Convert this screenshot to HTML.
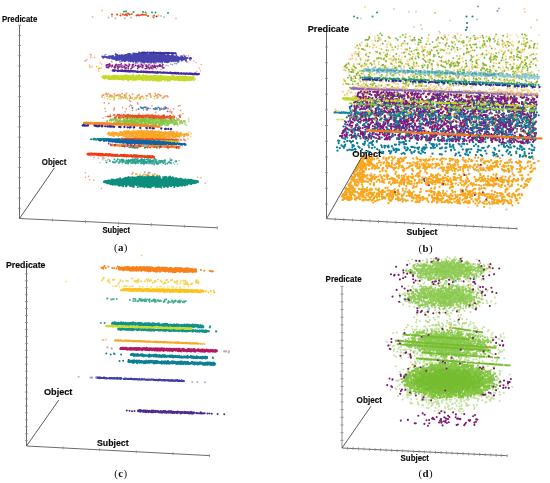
<!DOCTYPE html>
<html lang="en">
<head>
<meta charset="utf-8">
<title>Subject / Predicate / Object scatter plots</title>
<style>
html,body{margin:0;padding:0;background:#fff}
body{width:550px;height:483px;overflow:hidden}
svg{display:block}
.lb text{font-family:"Liberation Sans",sans-serif;font-weight:bold;fill:#0c0c0c;stroke:#0c0c0c;stroke-width:.16px}
.cp text{font-family:"Liberation Serif",serif;font-size:10.9px;fill:#111;text-anchor:middle;letter-spacing:.35px}
.pt path{fill:none;stroke-linecap:round}
.pt{filter:blur(.35px)}
</style>
</head>
<body>
<svg width="550" height="483" viewBox="0 0 550 483">
<rect width="550" height="483" fill="#fff"/>
<g class="ax">
<line x1="19.5" y1="25.2" x2="19.5" y2="218.5" stroke="#6c6c6c" stroke-width="1.0"/>
<path d="M17.9 25.2h3.2M17.9 35.4h3.2M17.9 45.5h3.2M17.9 55.7h3.2M17.9 65.9h3.2M17.9 76h3.2M17.9 86.2h3.2M17.9 96.4h3.2M17.9 106.6h3.2M17.9 116.7h3.2M17.9 126.9h3.2M17.9 137.1h3.2M17.9 147.2h3.2M17.9 157.4h3.2M17.9 167.6h3.2M17.9 177.7h3.2M17.9 187.9h3.2M17.9 198.1h3.2M17.9 208.3h3.2" stroke="#8c8c8c" stroke-width=".8" fill="none"/>
<line x1="19.5" y1="218.5" x2="217.4" y2="227.8" stroke="#6c6c6c" stroke-width="1.0"/>
<path d="M52.5 218.6v3M85.5 220.1v3M118.5 221.7v3M151.4 223.2v3M184.4 224.8v3M217.4 226.3v3" stroke="#8c8c8c" stroke-width=".8" fill="none"/>
<line x1="19.5" y1="218.5" x2="54.5" y2="167.8" stroke="#4a4a4a" stroke-width="0.9"/>
<line x1="326.5" y1="28.6" x2="326.5" y2="218.7" stroke="#6c6c6c" stroke-width="1.0"/>
<path d="M324.9 31.3h3.2M324.9 47h3.2M324.9 62.7h3.2M324.9 78.4h3.2M324.9 94.1h3.2M324.9 109.8h3.2M324.9 125.5h3.2M324.9 141.2h3.2M324.9 156.9h3.2M324.9 172.6h3.2M324.9 188.3h3.2M324.9 204h3.2" stroke="#8c8c8c" stroke-width=".8" fill="none"/>
<line x1="326.5" y1="218.7" x2="517" y2="228.7" stroke="#6c6c6c" stroke-width="1.0"/>
<path d="M335.2 217.7v3M343.8 218.1v3M352.5 218.6v3M361.1 219v3M369.8 219.5v3M378.5 219.9v3M387.1 220.4v3M395.8 220.8v3M404.4 221.3v3M413.1 221.7v3M421.8 222.2v3M430.4 222.7v3M439.1 223.1v3M447.7 223.6v3M456.4 224v3M465 224.5v3M473.7 224.9v3M482.4 225.4v3M491 225.8v3M499.7 226.3v3M508.3 226.7v3M517 227.2v3" stroke="#8c8c8c" stroke-width=".8" fill="none"/>
<line x1="26.5" y1="265" x2="26.5" y2="446" stroke="#6c6c6c" stroke-width="1.0"/>
<path d="M24.9 266.9h3.2M24.9 273.8h3.2M24.9 280.8h3.2M24.9 287.7h3.2M24.9 294.7h3.2M24.9 301.6h3.2M24.9 308.6h3.2M24.9 315.5h3.2M24.9 322.5h3.2M24.9 329.4h3.2M24.9 336.4h3.2M24.9 343.3h3.2M24.9 350.3h3.2M24.9 357.2h3.2M24.9 364.2h3.2M24.9 371.1h3.2M24.9 378.1h3.2M24.9 385h3.2M24.9 392h3.2M24.9 398.9h3.2M24.9 405.9h3.2M24.9 412.8h3.2M24.9 419.8h3.2M24.9 426.7h3.2M24.9 433.7h3.2M24.9 440.6h3.2" stroke="#8c8c8c" stroke-width=".8" fill="none"/>
<line x1="26.5" y1="446" x2="209.5" y2="455.6" stroke="#6c6c6c" stroke-width="1.0"/>
<path d="M63.1 446.4v3M99.7 448.3v3M136.3 450.3v3M172.9 452.2v3M209.5 454.1v3" stroke="#8c8c8c" stroke-width=".8" fill="none"/>
<line x1="26.5" y1="446" x2="58.8" y2="400" stroke="#4a4a4a" stroke-width="0.9"/>
<line x1="342" y1="286.4" x2="342" y2="448" stroke="#8c8c8c" stroke-width="1.0"/>
<path d="M340.4 286.4h3.2M340.4 294.1h3.2M340.4 301.8h3.2M340.4 309.5h3.2M340.4 317.2h3.2M340.4 324.9h3.2M340.4 332.6h3.2M340.4 340.3h3.2M340.4 348h3.2M340.4 355.7h3.2M340.4 363.4h3.2M340.4 371.1h3.2M340.4 378.8h3.2M340.4 386.5h3.2M340.4 394.2h3.2M340.4 401.9h3.2M340.4 409.6h3.2M340.4 417.3h3.2M340.4 425h3.2M340.4 432.7h3.2M340.4 440.4h3.2" stroke="#8c8c8c" stroke-width=".8" fill="none"/>
<line x1="342" y1="448" x2="507.2" y2="455.7" stroke="#6c6c6c" stroke-width="1.0"/>
<path d="M347.5 446.8v3M353 447v3M358.5 447.3v3M364 447.5v3M369.5 447.8v3M375 448v3M380.5 448.3v3M386.1 448.6v3M391.6 448.8v3M397.1 449.1v3M402.6 449.3v3M408.1 449.6v3M413.6 449.8v3M419.1 450.1v3M424.6 450.4v3M430.1 450.6v3M435.6 450.9v3M441.1 451.1v3M446.6 451.4v3M452.1 451.6v3M457.6 451.9v3M463.1 452.1v3M468.7 452.4v3M474.2 452.7v3M479.7 452.9v3M485.2 453.2v3M490.7 453.4v3M496.2 453.7v3M501.7 453.9v3M507.2 454.2v3" stroke="#8c8c8c" stroke-width=".8" fill="none"/>
<line x1="342" y1="448" x2="371" y2="406.2" stroke="#4a4a4a" stroke-width="0.9"/>
</g>
<g class="pt" transform="scale(.1)">
<path stroke="#1a9c8c" stroke-width="20" stroke-linecap="square" d="M1240 115zm20 0zm75 5zm95 0zm25 5zm65 0zm35 0zm125 5z"/>
<path stroke="#e8481e" stroke-width="20" d="M1120 145zm50 0zm35 10zm25-10zm20 5zm10-8zm10 13zm10-20zm15 10zm20-5zm50 15zm15-5zm10 5zm20-5zm15-5zm15 3zm20 2zm20 10zm55 12zm5-17z"/>
<path stroke="#f5c21a" stroke-width="19" d="M1120 165zm90-29zm112 0zm143-4zm65 30zm55-7z"/>
<path stroke="#9db8dc" stroke-width="20" stroke-opacity=".90" d="M1085 176zm70 6zm95 0zm60-6z"/>
<path stroke="#5a2d91" stroke-width="19" d="M1566 164z"/>
<path stroke="#8fd0b0" stroke-width="19" stroke-opacity=".90" d="M1610 160zm30 10z"/>
<path stroke="#f4a89a" stroke-width="19" stroke-opacity=".80" d="M925 170zm95-65zm740 80z"/>
<path stroke="#8f8bd2" stroke-width="17" stroke-opacity=".90" d="M1047 553zm12-8zm36 27zm22 45zm39-82zm4 46zm1 25zm26-10zm4 4zm8 18zm1-12zm1-16zm4 29zm17-30zm4-1zm25 8zm10 14zm1-4zm6-49zm16-2zm1 62zm10-46zm1-13zm5 28zm1-3zm0-3zm8-7zm1 7zm9 19zm5 1zm0-7zm27 3zm2 38zm7-67zm4 31zm2 18zm0-25zm1-47zm0 11zm5 79zm2-25zm5 12zm4-68zm7 16zm2-16zm1 9zm2-5zm3 32zm4 12zm0-25zm3 48zm2-28zm3 17zm2-33zm1 6zm7-32zm2 71zm4-44zm2 11zm1-10zm1-13zm0 34zm3 15zm0-36zm1 47zm2-49zm2 36zm4-55zm2 8zm1-34zm1 106zm5-47zm0-2zm1 24zm0-6zm7-43zm0 17zm3 14zm5-4zm3-24zm1 9zm7 13zm4 25zm1-27zm5 36zm3-50zm4 19zm0 15zm6-14zm1-41zm1 75zm0-38zm2-1zm5-24zm1-10zm13 35zm1 14zm3 7zm0-15zm2-30zm0 34zm3-19zm3-18zm1 25zm1 51zm0-39zm7 13zm3-10zm4-68zm1 45zm0-14zm2 29zm2 36zm4-82zm5 58zm4 4zm1-54zm3 31zm2 16zm3-31zm1 1zm5 49zm12-49zm1 24zm2 0zm1-55zm0 6zm6 68zm7-20zm2-24zm3 33zm1-20zm2 46zm2-13zm13-28zm15-24zm13-2zm9 31zm3 3zm15 5zm1-12zm9-9zm8 16zm14 44zm2-105zm16 22zm4 71zm2-40zm7 13zm0 6zm9 24zm13-12zm6-52zm6 44zm14-54zm35-10zm14 41zm5-2zm9 27z"/>
<path stroke="#4643ae" stroke-width="21" d="M1024 566zm8 12zm3-4zm6-7zm15 3zm15 1zm1 6zm5-2zm5-3zm8 3zm2-12zm4 20zm13-21zm2 11zm4-8zm2 8zm1 6zm2-15zm2 7zm1 16zm3-13zm1 7zm2-4zm0-11zm1-5zm6 26zm6-9zm2 4zm1-8zm4 17zm3-3zm2-15zm3-28zm1 40zm2-19zm0 13zm1 7zm3-15zm0 6zm0 23zm0-16zm1 9zm3-8zm0-30zm1 41zm1-26zm0 29zm1-49zm2 3zm1 25zm3 12zm5-5zm1-15zm3 3zm0 22zm1-31zm2 31zm0-13zm1 15zm1-19zm2-23zm1 38zm3-15zm2 8zm1-20zm1-9zm0 29zm1 3zm1-13zm1 13zm2-23zm6-11zm1 30zm2-6zm1-6zm0 3zm0 12zm2-24zm0 6zm0 38zm3-54zm1 15zm0 0zm1 29zm1-43zm1 1zm0 24zm1-15zm1 14zm0-4zm1 18zm1-4zm1 17zm1-30zm0 18zm1-17zm0 25zm1-36zm0 16zm0-10zm4 14zm1-22zm2 28zm0-37zm0 14zm3 6zm0 9zm1-15zm0-13zm1 19zm1-20zm2 18zm1 38zm0-17zm2 9zm1-22zm0 22zm0-14zm1-35zm1 10zm1 9zm0 0zm0-9zm1 11zm1 8zm0-25zm1 18zm0-24zm1 49zm1-32zm1-18zm1 43zm0-15zm1 4zm2 2zm1 4zm1-16zm0 9zm1-30zm1 18zm0 5zm2 9zm2 2zm0-8zm0-24zm1 20zm1 14zm0-12zm1-13zm0 35zm0-2zm0-36zm0 38zm1-38zm1-4zm0-14zm2 60zm1-17zm0-23zm0 13zm1 2zm1-22zm0 22zm2 1zm0 13zm0-4zm0-36zm0 32zm0-8zm1 25zm0-9zm0-14zm0 7zm0-2zm0-7zm1 10zm0-9zm0-7zm1 38zm0-13zm0-24zm1-28zm0-1zm0 25zm0 13zm1 6zm0 13zm1-15zm0 3zm0-13zm2 9zm0-42zm2 3zm0 14zm1 39zm1-43zm0 23zm0-2zm0 12zm0-10zm1-20zm1 15zm1 10zm0 10zm1 11zm2-43zm0 33zm1-14zm0 9zm0-10zm0 22zm0-22zm0 13zm2 23zm0-70zm0 11zm0 18zm0 2zm0 27zm1-44zm0 35zm0-17zm0 16zm1-10zm0 30zm0-29zm1-2zm1-27zm0 48zm1-32zm1 12zm0-22zm1 28zm0 11zm0-20zm2-10zm0-6zm1 10zm0 11zm0 18zm0-39zm0 6zm1-8zm0 40zm1-21zm0-21zm1 43zm0-29zm1 22zm0-20zm0 14zm1 2zm0-19zm0-7zm2 7zm0 12zm0-26zm1 27zm0-13zm0 0zm1-16zm0 22zm0 2zm1 25zm0-41zm0 48zm0-26zm0-4zm1 18zm0 0zm1-21zm0 20zm0-45zm0 12zm1-1zm0 7zm1 10zm1 2zm1-47zm0 32zm0-8zm0 35zm1-8zm0-1zm0-23zm1 54zm0-49zm0 18zm1 25zm0-56zm0-18zm0 28zm1-6zm0-8zm2 41zm0-19zm1 8zm0 1zm0 9zm0-21zm1 4zm0-15zm1 7zm0-16zm0 41zm2-29zm0-8zm1 1zm0 32zm0-28zm0 14zm0-8zm1 11zm1 3zm0-6zm0 4zm0-22zm1 30zm0-33zm1-16zm0 51zm0-28zm1 22zm0 21zm0-12zm0-24zm0-8zm0 13zm1 20zm0-20zm1 4zm0 30zm0-14zm0-11zm1-12zm1-6zm0 3zm0 18zm0 4zm1-9zm0-3zm0-15zm1 15zm0 3zm0-22zm0 18zm0 11zm1-35zm0 25zm2-13zm0 28zm1-47zm1 25zm0 35zm0 17zm1-26zm0 19zm0-23zm0-4zm0-34zm0 34zm0 24zm1-32zm0 9zm0 8zm0-27zm1 32zm0-41zm0 26zm0-9zm0-23zm0 48zm0-23zm0-10zm1 36zm0-10zm0-25zm1 19zm0 6zm0 9zm1-9zm0-8zm0 13zm0-27zm1 17zm1-9zm0-15zm0 34zm1-61zm0 55zm0-24zm0-1zm0 6zm0 9zm1 11zm0-33zm0-12zm1 50zm0-20zm0 4zm1-3zm0 8zm1-17zm0 1zm0-3zm1 20zm0 4zm0-29zm0 20zm0 14zm0-9zm0 17zm0-49zm1 13zm0 6zm0 23zm0-35zm0 14zm0-17zm0 10zm1-16zm0 13zm1 2zm0 26zm0-3zm1-12zm0 6zm0 1zm0 16zm0-48zm1 23zm0 2zm0-3zm1 26zm0-15zm0-15zm1 1zm0 20zm0-37zm1 10zm0-16zm0 14zm1-3zm0 38zm1-43zm1 7zm0 27zm0-8zm1-46zm0 27zm0 43zm1-27zm0-7zm1 35zm0-16zm0 18zm0-3zm0-29zm0-6zm1 10zm0 3zm0 14zm1-28zm0-22zm1 13zm0 13zm0 20zm1-21zm1-1zm1 12zm0-37zm0 55zm0-4zm0-9zm1-16zm0 25zm0 3zm0-28zm1 22zm1-13zm0 3zm0-13zm0-13zm2 7zm0-10zm1 49zm0-50zm1 39zm0-6zm0-39zm0 15zm0 38zm1-42zm0 34zm0 7zm0-35zm0 14zm1 1zm0 0zm1 2zm0-17zm1 18zm0 4zm1-29zm1 14zm0 27zm0-38zm0-2zm0-15zm0 50zm0-8zm0-20zm2 29zm0-59zm1 27zm0 34zm0-18zm0-11zm0 17zm0 16zm0-8zm1-22zm0 18zm0-5zm1-3zm0-29zm1 4zm1-4zm0 31zm0 19zm1-28zm0-18zm0 35zm1-42zm0 29zm1-10zm0 18zm0-13zm0 2zm0 33zm0 5zm1-21zm0-5zm0-27zm1 20zm0 7zm0-13zm2 16zm0-11zm0-8zm0 41zm0-16zm1-14zm0 1zm0-13zm1 24zm0-25zm0-4zm0-11zm0-20zm0 51zm1-9zm0-12zm0 47zm0-24zm0-17zm1-5zm1 24zm1-39zm0 35zm0-12zm0-6zm0 14zm0 19zm1-30zm0-2zm0-1zm0 22zm1-17zm0-22zm0 45zm1-4zm0-11zm1 15zm0-14zm1-15zm0-12zm1-1zm0 25zm1-18zm0 3zm1 11zm0 6zm0-29zm0 7zm0-13zm0 43zm1-31zm0 21zm0 2zm0 10zm1-40zm1 45zm0-58zm0 46zm0-22zm1 26zm0 2zm0-6zm0-5zm0-25zm0 57zm1 9zm0-32zm0-20zm0 23zm1-40zm0 11zm1-18zm2 23zm0 20zm1 33zm0-39zm1-5zm0-15zm1 45zm0-71zm0 60zm0-2zm0-21zm1-2zm0 20zm0 1zm1-45zm0 51zm0-17zm0-6zm0 35zm1-24zm0-50zm0 41zm0 28zm0-59zm0 38zm1-27zm0 33zm1 23zm0-25zm1-13zm0 7zm0 12zm1 8zm0 6zm0-45zm0 35zm1-20zm0 13zm0-36zm1 14zm0 9zm0 22zm0-30zm0 22zm1-28zm0 19zm0-1zm1 30zm0-55zm0 38zm0 10zm1-32zm1-4zm0 5zm0-17zm1 17zm0 17zm1 3zm0-6zm0 5zm0-53zm0 62zm1-41zm0 45zm0-21zm0-1zm0 22zm0-36zm1 33zm0-9zm0-32zm0 33zm0-38zm1 20zm0 23zm0 0zm0-33zm0 5zm0-17zm1 6zm0 47zm0-23zm0-10zm0 5zm0-37zm1 49zm0-13zm1-6zm0 29zm1-8zm0-6zm1-2zm1 3zm0-3zm0-30zm0 42zm0-57zm1 16zm0 24zm1-10zm0 20zm0-2zm0-19zm0 48zm0 4zm1-38zm0 6zm0 6zm1-43zm0 23zm0 35zm0-15zm0-15zm0 4zm0-7zm0 28zm1-50zm0 4zm0 24zm1-17zm0 24zm1 26zm0-71zm0 31zm0 1zm0 13zm0 1zm0-5zm1-13zm0-15zm1 18zm0-16zm1 42zm0-25zm1-21zm0 32zm0 0zm0 24zm0-19zm1 4zm0-9zm0 4zm1-22zm0-20zm0 23zm0 5zm0-4zm1 37zm0-36zm0-24zm0 30zm0 12zm0-13zm1 5zm0 31zm1-55zm1 34zm0-5zm0-21zm1 7zm0 0zm0 25zm2-2zm0-6zm0-21zm0 8zm1-4zm0-28zm0 4zm0 26zm1 10zm0-29zm0 19zm0-16zm0 14zm0 11zm1-32zm0 5zm0 49zm1-34zm0 38zm0-62zm0 6zm1 25zm0 0zm0 13zm0 5zm1-34zm0 0zm0 46zm0-30zm0-11zm0 17zm0-7zm0-12zm1 0zm1 34zm1-44zm0 46zm0 3zm0-43zm0 13zm0 20zm0-23zm1-22zm0 13zm1 20zm0-1zm0-27zm1 39zm0-12zm0-5zm0-11zm1 18zm0-23zm0 3zm0-1zm0-4zm0 8zm0 15zm1-25zm0 50zm0-23zm0-42zm0 10zm0 2zm0 20zm0-1zm1-37zm0 40zm0 36zm0-10zm3-30zm1-27zm0 22zm0 23zm1-26zm0 23zm0-20zm0 0zm0 25zm1-6zm0 34zm0-37zm0 11zm0-6zm1 11zm0-11zm1-11zm0-18zm0 33zm0-27zm0-1zm1 3zm0-6zm0 11zm1 1zm0 27zm0-22zm0 14zm0-11zm0 8zm0-8zm1-25zm1 18zm0 5zm0-10zm1 2zm0 17zm0 19zm0-37zm0 11zm0-29zm1-14zm0 33zm0 20zm0 3zm1 15zm0-66zm1 48zm0-20zm0-12zm0 4zm1 13zm0-19zm1-12zm1 21zm0-17zm0-14zm0 27zm0-17zm2 28zm0 5zm0-15zm1 43zm0 0zm0-60zm0 45zm0-23zm0-4zm1 17zm0 9zm0-35zm0 15zm0 15zm1-28zm0 17zm0-22zm0 22zm1-25zm0 34zm0 4zm0-5zm0-21zm0 2zm0 5zm1 3zm0-25zm0 23zm1 16zm0 1zm0-49zm0 34zm1 38zm0-9zm1-37zm0-1zm0 36zm1-30zm0 12zm0 2zm1 19zm1-54zm0 44zm0 8zm0-9zm1-50zm0 78zm1-35zm0-32zm0 33zm0-15zm0 6zm0-34zm1 26zm0 19zm0 2zm1-12zm0-10zm0 9zm0 11zm0-6zm0-43zm0 65zm1-30zm0 18zm0 10zm1-28zm0 21zm0-35zm1 0zm0 28zm0 19zm0 12zm1-44zm0 0zm0 10zm0-12zm0-32zm1 27zm1 26zm0-2zm0-21zm0 19zm0-11zm0 22zm0-14zm1-7zm1 25zm0 12zm0-45zm0 21zm1-6zm0-3zm0-36zm0 31zm0 3zm1-2zm0-9zm0-10zm0 28zm0-30zm0 39zm0-9zm0-17zm1 17zm0-50zm1 28zm0-20zm1 34zm0-11zm0-14zm0-9zm1 21zm0 1zm1 2zm0 22zm0 3zm0 4zm1-26zm0 14zm0 0zm0-23zm1-8zm0 4zm0 9zm0 38zm1-19zm0-9zm0-9zm0-23zm0 17zm0 22zm0-12zm1-5zm0 15zm0-18zm0-14zm1 29zm0-10zm0 37zm0-40zm0 4zm1 4zm1-9zm0-7zm0 26zm0-7zm0 27zm0-26zm1 15zm0-34zm1-4zm0 48zm0-5zm0-12zm0 20zm1-28zm0-8zm0-1zm1 22zm0-13zm0 34zm1-16zm0 8zm1-10zm0-24zm1 31zm0 7zm1-39zm0 30zm1-18zm1-29zm1 14zm0 17zm2-2zm1-30zm0 25zm1-25zm0 52zm0-9zm1-49zm0 34zm0-8zm0 2zm0 0zm1-1zm0 8zm1 24zm0-14zm0-6zm1-7zm1-17zm0 18zm0-25zm0 34zm0-11zm0 12zm0-15zm1-21zm0 50zm1-29zm0-17zm1 25zm0 10zm0-11zm0 23zm0-12zm2-19zm0 32zm0-40zm1 11zm0 16zm0-20zm1 16zm0-8zm1-4zm1 21zm0-6zm0-30zm1 10zm0 5zm0-9zm0 28zm1-12zm0-13zm0 18zm0-11zm0 10zm0-31zm1 46zm0-34zm0-6zm0 12zm1 35zm0-67zm1 40zm0 17zm0-10zm1-41zm0 38zm0 2zm0 19zm0-9zm0-53zm0 64zm1-37zm0 14zm0 26zm0-58zm1 32zm0-15zm0 0zm1-23zm0 21zm1 7zm1 8zm0 4zm1-3zm0 17zm0-38zm1 33zm1-13zm0-3zm0-35zm0 31zm1-9zm0-14zm0 8zm1 48zm1-47zm0 48zm0-45zm0-10zm0-3zm0 6zm0 35zm1-24zm0 21zm1-14zm1-3zm0-19zm0 8zm1 0zm0 11zm0 14zm1-1zm0 10zm0-31zm1 27zm1-16zm1 12zm0-13zm0-35zm0 34zm0 26zm0-31zm0 25zm0-15zm2-9zm1 7zm0-11zm0 11zm0 22zm0 13zm0-18zm1-18zm0 20zm0 8zm0-19zm0-21zm0 49zm1-69zm0 55zm1-45zm0 54zm0-36zm0-25zm1 6zm0 30zm1 15zm0-20zm1-14zm1 38zm1-60zm0 35zm0 27zm1-23zm0 16zm1-20zm0-1zm0-11zm1 27zm1-33zm0 20zm0 6zm1-35zm0 16zm1 29zm0 4zm0-34zm0 8zm1-12zm1 26zm0-14zm0 21zm0-4zm1-6zm0-3zm1-39zm0 53zm0-2zm2-13zm1 13zm0-13zm1 9zm0-18zm0-9zm0 28zm1 8zm2-36zm0 20zm1-6zm0-4zm0 10zm0-34zm1 17zm0-14zm1-3zm1 66zm0-35zm0-19zm1 37zm0-10zm0-38zm1 40zm1-37zm1 2zm0 26zm0-16zm1 27zm0-15zm1 9zm0-15zm1 9zm0-5zm1 31zm1-38zm0 14zm0 3zm0-11zm0 1zm3 26zm0-9zm0 19zm0-38zm0 2zm1 16zm0-5zm0-1zm2-2zm1 26zm0-33zm1-21zm0 45zm1-24zm1 16zm1 11zm0-4zm0 7zm0-45zm0 4zm1 19zm0 10zm1-17zm0 7zm0 7zm1-45zm0 40zm1 31zm0-61zm1 3zm3 7zm2 40zm0-62zm0 39zm1 17zm0 2zm1-18zm1 3zm0 19zm1-26zm0-20zm1 36zm1-17zm3 24zm0-9zm0 18zm1-27zm1-10zm1 3zm0 28zm0-21zm1-16zm0 10zm0-26zm1 35zm0 4zm0-22zm0 12zm0 20zm2-33zm1 31zm0-9zm0-24zm3 28zm1-25zm0 13zm1-21zm1 33zm0-10zm2-19zm0 34zm0-35zm1 4zm0 4zm1 15zm2-10zm1 14zm1-33zm0 28zm1-22zm1 15zm1 27zm1-55zm0 35zm1-4zm0-2zm1-4zm1 18zm1-37zm2 39zm0-35zm1 23zm1-15zm1-17zm0 33zm0-26zm1 9zm0-25zm1 22zm1 7zm0-2zm1 15zm0-5zm0-12zm3 31zm0-16zm0-5zm2 3zm0-5zm1 29zm3-48zm0 23zm1-8zm0-13zm1 13zm0 4zm0-2zm6 14zm0-10zm0 17zm2-4zm2-1zm3 11zm2-11zm0 14zm1-25zm0-17zm2 23zm2-2zm1-3zm0 13zm3 8zm1-53zm1 25zm1 29zm3-29zm0-2zm1 5zm1 5zm0-1zm3 14zm2 8zm1-37zm1 2zm4 36zm0-24zm1 6zm1 12zm0-12zm2-14zm5 15zm0-2zm0-5zm1-4zm0-1zm3 5zm2 1zm0 6zm5-14zm6 5zm1 10zm1-10zm3 0zm1-3zm2 21zm1-36zm1 39zm1-41zm3 33zm2-22zm1 16zm1-18zm8 7zm2 15zm6-1zm5 0zm1-28zm2 22zm7-9zm3 28zm3-20zm1-3zm11-3zm23 3zm4 13zm0-16zm8 4z"/>
<path stroke="#3a3298" stroke-width="17" d="M1390 528zm2-5zm13 7zm6-2zm7-3zm3 6zm1-7zm1 3zm4 1zm3-1zm1-1zm2 4zm2-6zm4 2zm0 0zm2 1zm1-2zm4 1zm1 1zm6 0zm5 1zm2 0zm3 0zm6-3zm2 0zm2 2zm5-4zm5 4zm5 1zm2 1zm2-4zm5 2zm1 4zm0-2zm2-1zm4-1zm2 3zm8-3zm2-2zm3 6zm5-1zm5-4zm3 0zm1 4zm2-3zm1 2zm0-3zm0-1zm3 2zm1 0zm1 2zm2 0zm2-2zm7 3zm2-3zm2 2zm1 1zm1 3zm1-3zm2 2zm3 0zm3-7zm4 5zm4 1zm1 2zm0-2zm5-1zm1-2zm3 0zm2 5zm0-7zm4 4zm2 0zm1 1zm2-4zm1 1zm4 1zm2 2zm0 0zm1-4zm0 3zm3-1zm1-3zm2 5zm2-1zm7 3zm2-4zm0 0zm2 1zm1-2zm1 1zm2 0zm8 3zm3-3zm1 5zm1-8zm0 6zm1 1zm2 1zm0 0zm1-4zm2 0zm0 1zm3 0zm4 3zm0-6zm0 4zm2-3zm5-3zm3 4zm2 2zm1 1zm1-2zm0 1zm1-3zm0 1zm1 0zm0-4zm9 2zm2 5zm0-1zm2-1zm1 0zm1 2zm3-6zm1 6zm0-3zm1-1zm0 2zm2 0zm0-2zm5 2zm0-2zm4 2zm3-1zm0 1zm9-1zm1 2zm2-3zm4-1zm1 3zm3 0zm1 0zm1 0zm1-1zm0 2zm0 1zm5-2zm3 3zm3 0zm1-3zm0 1zm1 0zm4 1zm4-1zm1 2zm3-2zm3 3zm2-4zm3 3z"/>
<path stroke="#851f85" stroke-width="17" d="M1062 653zm2 17zm1-18zm2 0zm5 23zm4-30zm6 32zm0-4zm1-12zm2-16zm1 13zm2 2zm3 7zm0-13zm3-11zm2-4zm0 10zm1 9zm4-6zm13 15zm6-6zm0-8zm3 0zm3 6zm16 14zm7 7zm0-17zm5-10zm1 18zm7-28zm8 8zm3 14zm2-7zm1-2zm3 29zm0-24zm1 11zm4-23zm2 13zm1 6zm3-14zm8 15zm1-20zm7 11zm7-21zm5 23zm2-7zm0 21zm16-8zm12-8zm1 11zm2 14zm7-38zm6 31zm5-21zm13 31zm1-19zm5-9zm4-15zm4 2zm13 41zm6-8zm8-17zm1 3zm0-13zm1-7zm1 29zm7-28zm1-1zm2 19zm21-11zm19 5zm1 25zm5-15zm3 3zm2-18zm3 18zm15-8zm10-20zm5 6zm2 24zm3-17zm0 3zm1 2zm1 12zm4-20zm21 32zm4-26zm6-9zm4 34zm1-1zm1-17zm2-12zm4 20zm5-9zm6 6zm2-21zm3-3zm2 39zm10-13zm4-5zm5 16zm0-21zm5 0zm1 8zm4-1zm6 15zm1-29zm0 13zm1-9zm2 7zm0 0zm7 4zm4-4zm5-12zm5 18zm1 2zm1-12zm9-4zm13 0zm0 6zm16-12zm2 8zm6-15zm8 8zm2 7zm14 2zm4 16zm1-33zm9 30z"/>
<path stroke="#b07ab8" stroke-width="16" stroke-opacity=".80" d="M1083 658zm28 5zm71-9zm2 2zm13 3zm12-2zm1-3zm7 2zm9 1zm9 3zm9-15zm3-3zm30 13zm13-20zm43 32zm5-8zm2-3zm1 10zm60-16zm1-10zm64 8zm11 20zm5-13zm4-15zm21 11zm2 18zm1-3zm17 7zm0 15zm25-52zm6-7zm6 26zm3 32zm42 6zm0-67zm9 43zm25 9zm18-24zm20 3zm26-15z"/>
<path stroke="#46299a" stroke-width="19" d="M1125 704zm3 4zm1-1zm0 0zm1-4zm1 0zm3 0zm0 1zm4 1zm4 5zm2-1zm0-4zm1 0zm0 0zm1-1zm1 3zm9-2zm1 0zm16 2zm1-2zm2 5zm5 2zm3-4zm1 1zm1-3zm0 0zm0 2zm1-1zm1 2zm1-2zm9 2zm1 0zm1 1zm2 1zm3-5zm1 5zm0-4zm0 2zm0 0zm6-1zm4 0zm1-1zm0 1zm3 2zm1-1zm1-3zm3 4zm0-4zm1 1zm1 1zm1-1zm1 5zm0-1zm3-1zm0 0zm1 0zm5 0zm6 0zm1-2zm0 5zm3-6zm0 5zm0-3zm1 0zm1-1zm1-1zm1 5zm1 0zm1-3zm2 2zm1-3zm0 5zm5-4zm2-2zm1 5zm2-5zm4 3zm3 0zm1 2zm1-3zm1 2zm2 4zm2-5zm0 1zm0 1zm1-1zm2-1zm0-1zm6 5zm1-1zm1 3zm0-5zm0 1zm0 4zm1-5zm0 0zm3 0zm0 0zm4 6zm0-8zm4-1zm1 2zm4 4zm2 0zm2-2zm1 2zm0-5zm0 3zm2 2zm1-1zm0 0zm1-2zm3 5zm0-3zm1 2zm2-2zm1 1zm0-4zm1 3zm1-2zm1 4zm2-3zm3 1zm0 1zm3-2zm1 2zm2 0zm2 2zm3 0zm2-3zm0 3zm3-2zm1-1zm1 3zm4-5zm0 5zm10 1zm7 3zm2-5zm1 5zm1-4zm1-2zm6 3zm2 3zm1-4zm8 3zm4-2zm2 1zm2 1zm1-4zm2 1zm3 4zm2-3zm2 0zm1-2zm3 5zm0 0zm1-5zm1 5zm1-2zm0-2zm2 0zm0 2zm7 1zm3-1zm2-3zm4 4zm0 3zm1-3zm0 1zm0-5zm1 3zm0 2zm2-3zm1-2zm1 5zm9 0zm2-1zm0 3zm0-3zm2-2zm2 2zm1-4zm4 4zm1 3zm2-2zm7 2zm0-5zm3 3zm2-4zm1 7zm1-2zm0 4zm5-2zm1-4zm1 3zm1-2zm1 3zm4-4zm6 2zm1 3zm1 2zm2-2zm1-2zm1-1zm1 1zm4-1zm2-2zm4 5zm1-3zm1 0zm1 0zm4-4zm1 5zm3-1zm1 1zm2 1zm1 2zm1-3zm1 1zm1-4zm4 6zm0-3zm0 1zm2-2zm4 0zm2 4zm11-4zm1 2zm2 4zm1-1zm6 1zm1-1zm1-1zm0 1zm3-1zm5-5zm0 7zm1-1zm1-1zm4 2zm1-3zm2 3zm2-2zm10-1zm1-1zm1 1zm2-2zm2 2zm6 3zm1-2zm7 3zm0 0zm6-4zm8 4zm1 0zm2-2zm1 1zm1 1zm4-4zm1 4zm3-2zm1-1zm6 2zm5-2zm3 2zm1 1zm1 1zm3 0zm5-3zm1 3zm1-1zm1 0zm2 3zm5-1zm10-4zm4 4zm3-3zm1 4zm1-4zm0 2zm4 1zm0 1zm2-4zm1 1zm1 5zm3-3zm1 0zm0 0zm1-2zm8 2zm1 3zm3-2zm3 4zm1-5zm4 3zm3-4zm2 4zm1-3zm1 3zm2-2zm0 1zm3-1zm1-3zm0 4zm3 4zm4-1zm3-1zm0-7zm0 9zm4-3zm1 0zm6 3zm0-3zm0-2zm3 6zm0-5zm4-4zm0 3zm1 3zm11-5zm3 9zm0-4zm1 0zm3-1zm0 2zm10 0zm0 0zm3-1zm0 2zm2-2zm2-2zm0 6zm3-5zm2 2zm1-2zm0-1zm2 5zm2 0zm0-2zm0 2zm1 1zm8-3zm7-2zm1 4zm0 0zm4-3zm1 3zm1-2zm6-1zm1 2zm1-2zm1 4zm7 2zm2-4zm0-2zm7 1zm1 4zm1-4zm4 3zm3-2zm2 1zm0-3zm4 2zm3 5zm2-5zm2 4zm10-7zm0 5zm2 0zm3 3zm1-2zm2 2zm1-2zm4-4zm3 2zm1 2zm4 2zm1-4zm1 6zm2-3zm1-1zm2 3zm2-4zm0 1zm2 2zm0-2zm9 2zm1 1zm0-3zm1-1zm4-1zm2 0zm3 0zm1 6zm0-4zm1 0zm0 1zm1 3zm0 1zm0-5zm2 2zm1-5zm1 5zm0-3zm3 4zm3 1zm0-6zm0 7zm3-3zm1 2zm2-1zm4 0zm1 0zm4 3zm3-1zm1-3zm3 0zm4-1zm0-2z"/>
<path stroke="#c6da2a" stroke-width="21" d="M1031 783zm1-19zm0 11zm0-3zm6-12zm2 19zm1-3zm0-9zm0 10zm1-8zm1-1zm1-2zm0 15zm0-1zm1-6zm0 0zm2-7zm1 19zm0-17zm1 16zm1-20zm2 13zm1 4zm0-11zm3 1zm1-5zm2 10zm1-6zm1-13zm0 15zm4-3zm2 4zm2 0zm0-9zm0 17zm2-11zm1 2zm1 1zm2-6zm1 7zm3 10zm0-6zm3-4zm1 12zm0-20zm1 23zm1-14zm3-5zm0-2zm1-11zm0 24zm1-6zm0-2zm3-8zm1 23zm2-17zm0 8zm1-5zm2-1zm6 4zm0-7zm1 18zm0-14zm3-7zm3 11zm1-10zm0 12zm0-9zm2 10zm3 8zm1-28zm1 5zm1 10zm0-10zm0 1zm0-5zm0 2zm1 8zm1 2zm1-1zm1 9zm0 3zm2-13zm0-9zm1 22zm0-16zm1 14zm0-13zm1 14zm1-21zm2 10zm1 2zm0-7zm1-5zm0 6zm1 12zm0 0zm0 7zm2-3zm0-9zm0-5zm1 17zm2-11zm1-8zm1 3zm1 4zm2-7zm0-13zm1 15zm0-6zm2 0zm0 5zm1 12zm0-2zm2 5zm1-16zm0 19zm1-22zm0 23zm1-26zm10 2zm1 15zm0-12zm0-9zm2 17zm1-12zm1 21zm1-12zm0 6zm0 7zm1-21zm0 9zm2 0zm0 7zm0 8zm1-10zm0-8zm1-6zm1 8zm0 19zm0-9zm1-1zm1-7zm1-1zm3-3zm0-6zm0-2zm3 7zm2 11zm1 10zm1-6zm1-18zm0 14zm1-16zm1 11zm2 6zm1-3zm3 9zm0-22zm2 4zm3 16zm1-18zm2 1zm2 9zm0-14zm2 26zm1-31zm3-1zm1 33zm0-9zm0-24zm2 34zm0-13zm0 7zm2 8zm3-21zm1 2zm0 15zm0-20zm1 23zm0-22zm1 14zm1 9zm1-8zm0-15zm0 15zm0-11zm2-2zm1 2zm0-8zm1-6zm1 12zm0 19zm1-27zm3 32zm0-35zm1 23zm0-9zm0 10zm0-16zm0-2zm2 14zm1-23zm0 7zm1 13zm3-3zm2-6zm0-15zm1 5zm1 2zm1 25zm0-7zm0-23zm2 9zm1 14zm1-11zm1 8zm0-5zm1-6zm1 4zm1 11zm0-2zm0 9zm1-8zm1 1zm1-5zm1-7zm0-16zm0 32zm1-18zm2 20zm1-11zm0-6zm0 11zm1-5zm1 1zm4 11zm0-20zm1 24zm1-13zm0 0zm1 14zm1-35zm0 31zm0-7zm1 10zm1-5zm1 14zm1-30zm1 21zm0-13zm0 5zm2-15zm1 20zm0-29zm1 26zm1 11zm0-1zm0-28zm0 13zm2-5zm0 26zm3-14zm3-27zm2 11zm1 1zm6 15zm0-11zm0-5zm0 17zm3-3zm0-4zm2-17zm0-9zm1 19zm2-11zm2 5zm0-2zm1-4zm1 15zm0-9zm1 21zm0-6zm1-2zm0-1zm2-9zm0 18zm1-14zm2 5zm1 6zm1-22zm1 25zm1-18zm1 5zm1-13zm1 19zm0 18zm1-22zm0 2zm0-9zm0-5zm1 28zm1-29zm0 26zm0-42zm3 25zm0 3zm0-1zm1 15zm1-25zm1 21zm2-10zm2 5zm0-16zm0 20zm1 0zm2-4zm1 1zm0-1zm2 13zm1-24zm0 4zm2 20zm1-28zm4 0zm0 5zm1-11zm0 35zm3-26zm1 23zm2-23zm1 22zm0-15zm0 5zm1-26zm0 28zm1-11zm0-11zm0 30zm1-24zm1 18zm0-4zm0-5zm0 5zm3-12zm0 6zm1 11zm0-4zm1-14zm2 9zm0-8zm1 6zm0 0zm1-2zm1 19zm2-27zm0 4zm1-6zm2 15zm0 6zm4-19zm2 20zm0-3zm1-15zm1-19zm1 33zm1-5zm0 7zm2-12zm0 19zm1-28zm1 1zm2 11zm0-10zm1 22zm1-31zm1 18zm3 8zm0-12zm0 9zm1-9zm0 4zm3 19zm0-16zm1-10zm0 24zm1-18zm2-6zm2 10zm0 2zm0 8zm2-13zm0 11zm1 2zm1-5zm1-3zm3 4zm1 1zm2-9zm1-19zm1 20zm0 1zm0 23zm1-48zm0 34zm1-23zm0 9zm0-19zm2 16zm0 31zm0-24zm1 9zm0-26zm3 19zm1 13zm2-37zm2 15zm1 23zm7-31zm1 1zm1 10zm1 20zm0-11zm2 2zm2 8zm1-10zm0-25zm2 26zm1-2zm1 21zm2-35zm2-5zm1 21zm1-26zm2 10zm0 11zm0 16zm1-14zm1 13zm2-10zm4 5zm0 2zm1-16zm1 10zm0 2zm0-4zm0 11zm2-10zm0 8zm1-30zm1 14zm3 25zm0-27zm1-2zm1-7zm1 25zm0 5zm2-22zm1 22zm0-20zm2 2zm1-3zm4 3zm0 0zm0 3zm1-18zm0 38zm1-20zm5 4zm1-15zm2 15zm2 7zm0-20zm3 7zm0-5zm1 13zm0-24zm2 11zm2 4zm0 17zm5-22zm0 18zm0 7zm1-12zm1-15zm1 29zm2-36zm1-1zm1 42zm0-2zm0-11zm0-17zm1 23zm1-21zm0 9zm1 0zm1-23zm2 22zm1 19zm0-18zm1-21zm1 18zm0-10zm1-11zm0 32zm1 4zm0 2zm1-3zm2-10zm1-13zm0 6zm1 8zm0 9zm2-11zm0-13zm1-7zm1 17zm0-10zm1 28zm1-2zm2-8zm0-15zm1 11zm0 5zm0-28zm0 8zm2 23zm3-9zm0 3zm2-8zm1 2zm0-13zm0 5zm1 18zm1-32zm0 14zm0 21zm2 13zm1-18zm2-15zm3 5zm1-2zm3-3zm2 8zm1-21zm1 16zm0 12zm4-11zm1 26zm0-19zm1 23zm0-20zm3 13zm0-10zm0-29zm0 21zm4 12zm2-10zm0-6zm1 2zm1-6zm1 0zm0-2zm1 7zm2 8zm2 0zm0 0zm2-27zm1 25zm1-7zm0-23zm1 18zm1 16zm0 15zm0-15zm2 12zm2-2zm0-29zm0 7zm1 5zm1 5zm1-9zm2-8zm0 22zm2-32zm2 30zm1-11zm0 1zm1-8zm1-1zm4-1zm0 2zm2 1zm2 1zm1 8zm0 7zm1-13zm1-1zm1 8zm0-20zm1 18zm0-12zm0 2zm2 11zm1 6zm1-6zm2 20zm2-33zm4-1zm5 21zm4-24zm0 14zm3-1zm1-18zm1 6zm0 9zm2 3zm0-3zm3 0zm0 11zm2 18zm0-17zm3-19zm1 19zm0-7zm1-5zm1 20zm2 6zm0-27zm2 10zm1-5zm1-7zm1-6zm1 4zm0 19zm1 7zm0-26zm0 23zm1-7zm0-10zm5 11zm0-19zm1 4zm0 34zm1-22zm0 14zm0 2zm0-29zm0 3zm1 3zm0 22zm0-16zm6 0zm3-5zm0-4zm2 10zm0-15zm4 23zm1-22zm1 14zm1-15zm0-1zm2 23zm1-13zm1 2zm1-5zm1 10zm0 6zm1-29zm1-3zm3 15zm1 5zm0 5zm1 0zm1 5zm0-2zm2-9zm1 3zm0-20zm1 16zm1 3zm1 1zm0 2zm1-10zm1 6zm1-9zm0 6zm1-5zm1 22zm1-29zm0 16zm1 6zm0 4zm0-10zm2-16zm0 25zm2-16zm0 14zm1-17zm2 27zm1-23zm0-4zm4 11zm0 0zm1 4zm3-4zm0 4zm0-8zm1 9zm0-7zm1 13zm1-15zm1 6zm1-9zm1-5zm2 13zm0 9zm1-10zm2 8zm0-16zm1 16zm0 0zm1-13zm0 5zm1 6zm0-21zm3 25zm1-23zm0 13zm1 16zm0-16zm0 17zm3-24zm0 15zm2-1zm4-10zm0-9zm0 30zm1-28zm0 30zm1-34zm0 1zm2 2zm1 3zm1 1zm0 12zm2 4zm0 0zm1-10zm0 18zm1-28zm1 23zm2-30zm1 11zm1 5zm1 19zm0-23zm0-7zm0 22zm0-10zm3 3zm0 7zm3-12zm0 11zm1-7zm1-8zm1 18zm1-9zm2-1zm1-9zm0 1zm1 26zm0-29zm1 17zm2-10zm1 5zm2 10zm0 1zm1 5zm0-12zm1-23zm1 33zm0-13zm0 1zm2-7zm1 4zm1-5zm0 2zm1-3zm1-2zm0 10zm4-4zm2 16zm2-12zm1-13zm0-5zm0 29zm1 8zm1-13zm1 3zm2-9zm2 0zm0 4zm0 4zm1-14zm1 4zm0 1zm1 12zm1-8zm0 2zm1-3zm0-22zm2 39zm2-17zm1 7zm0-9zm3 16zm0-14zm1-20zm1 18zm3-9zm1 0zm1 5zm0-3zm1 7zm0 14zm1-24zm1 10zm0-13zm0 14zm1 1zm0-6zm1 5zm1-13zm1 8zm1 3zm1-15zm0 16zm1-7zm0-2zm2 0zm1 2zm0 5zm3-9zm1 28zm0-19zm0-1zm1 15zm3-13zm2-3zm0 10zm1 2zm1-11zm1-9zm0 2zm1 2zm0 8zm0 13zm4-4zm0-23zm1 17zm1-6zm1 12zm0-15zm0-6zm1 23zm1-17zm1 6zm0-5zm1-7zm3 23zm1-12zm1-1zm0 10zm2-8zm2 1zm1-2zm3 12zm2-23zm0-1zm0 9zm3 13zm0-3zm0-2zm3-11zm1 13zm0-12zm2-6zm1 11zm0 0zm1-1zm2-3zm0 2zm1-5zm0 14zm0 4zm1-9zm1-13zm1 0zm1 26z"/>
<path stroke="#c3d82e" stroke-width="16" stroke-opacity=".80" d="M1018 769zm24-7zm53 21zm3-18zm25 22zm7-6zm11-16zm19 4zm14-10zm7 6zm12 24zm42-8zm13-9zm0 7zm26-5zm36 20zm36-8zm28-27zm18 12zm3-3zm1 21zm27-2zm75-28zm22 7zm2 31zm46-28zm16 18zm27-17zm13 21zm9-17zm35 24zm37-14zm26-5zm8-3zm19 14zm6-15zm6 21zm2-1zm0-4zm4 2zm21 7zm9-17zm20 8zm12 14zm10-15zm19-12zm38 12zm47-1zm0-1zm3 2z"/>
<path stroke="#f0907a" stroke-width="16" stroke-opacity=".80" d="M848 612zm9-10zm14-4zm24 54zm6-110zm7 36zm1-17zm4-14zm8 119zm25-90zm43 135zm13-83zm10 55zm5-42z"/>
<path stroke="#f0907a" stroke-width="16" stroke-opacity=".80" d="M1862 557zm18 62zm6-60zm19 43zm33 9zm23 14zm5 91zm26-35zm14 26zm7-62z"/>
<path stroke="#f2c200" stroke-width="17" d="M899 672zm66-6zm21 22zm8-6z"/>
<path stroke="#f59450" stroke-width="18" stroke-opacity=".90" d="M1022 969zm2-18zm13-1zm20-8zm5-9zm8 28zm0-18zm13-7zm11 31zm7-17zm2 12zm12 7zm3-14zm24-15zm1 31zm8-15zm15-1zm10-5zm13 6zm3-6zm7 6zm2 2zm0-8zm8 19zm12-32zm1 33zm15 9zm6-28zm6 16zm1-2zm3-19zm5 26zm2-14zm6-24zm29 21zm4 26zm4-15zm7 14zm5 1zm8-3zm3-34zm36 34zm11-10zm1-12zm15-7zm1 1zm1-4zm8 30zm2 11zm3-16zm5 4zm9-12zm9 0zm35-5zm3 0zm10-1zm16-21zm12 2zm2 17zm2 12zm37-4zm7-26zm8 17zm6 3zm8 18zm3-26zm1-1zm3 23zm3-29zm16 8zm3 7zm10 0zm15 23zm11-7zm5-10zm1-1zm9-1zm16-3zm7 4zm3 9z"/>
<path stroke="#c4da48" stroke-width="17" stroke-opacity=".90" d="M1044 976zm32 9zm18-18zm7 25zm17-27zm11 4zm9 11zm6-11zm4 16zm40 2zm3-24zm9 20zm11 6zm42-18zm2 14zm8 0zm6-1zm7 4zm43-3zm22 4zm6-5zm6-6zm2 9zm9 0zm25-6zm9 5zm2 7zm3-4zm30-6zm7-7zm22 11zm49-16zm34 16zm27-3z"/>
<path stroke="#3684c8" stroke-width="19" d="M1324 1080zm61 10zm22-18zm2 3zm12 8zm2 0zm6 0zm13-11zm13-1zm15 28zm2-17zm14 2zm50 4zm8 1zm14 3zm1-13zm10 10zm13-15zm16 8zm1 15zm18-6zm19-6zm15 2zm3-15zm11 7zm11 35z"/>
<path stroke="#f07050" stroke-width="16" stroke-opacity=".85" d="M1043 1029zm8 56zm37-53zm1 4zm50 65zm0-101zm2 89zm4-9zm81-4zm35 13zm33-85zm1 60zm11-49zm0 35zm13 9zm7 46zm38-6zm11-70zm4 11zm56 61zm23-11zm5-14zm4-2zm38 11zm15-28zm25 32zm3-7zm10 40zm58-40zm19 8zm5 7zm10-29zm22 19zm12-1zm13 32zm7-18zm4 20zm9 12zm3-13zm16-31zm50-28zm14-4zm5 50zm25 32z"/>
<path stroke="#ee4a1c" stroke-width="20" d="M1081 1165zm19-1zm3-2zm43-13zm0 31zm3-6zm10 6zm7-18zm13-15zm9 27zm3 5zm2-29zm0 16zm2-3zm10 16zm0 7zm1-30zm9 0zm3 8zm2-7zm12 17zm5-26zm1 27zm2 1zm0-5zm2-17zm1 12zm0-7zm0 16zm1-10zm2-6zm8 1zm2 20zm5-16zm0 10zm0-8zm2 5zm2-19zm0 19zm0 8zm1-13zm0 5zm2-10zm2 9zm0 1zm1 2zm1-5zm2-8zm1 20zm0-6zm1-20zm4-5zm2 5zm1 16zm1-11zm0-10zm1 25zm2-2zm1-19zm4 5zm1 7zm0-1zm0 13zm3-17zm1 9zm0-9zm1 18zm1-1zm0 6zm1-11zm0-10zm2-5zm2 13zm0-6zm1-6zm0 8zm0 14zm1-17zm0-6zm3 11zm0 2zm1-7zm1 19zm1-12zm1 1zm1-2zm1 9zm0-2zm1-10zm3-8zm1 12zm3-8zm1-6zm0 3zm0 2zm1 6zm2 1zm1-13zm1 14zm1-7zm1 8zm0-11zm1 4zm0-3zm1 18zm1-5zm1 2zm2-10zm1 9zm0-12zm2 8zm1 1zm2-11zm1 5zm0 7zm0 0zm3-9zm0 17zm1-4zm1-7zm0 3zm2-6zm2 11zm0-2zm2-18zm1 5zm1-1zm1 20zm0 2zm1-26zm2 3zm0 14zm2-12zm1 10zm0-3zm3 3zm0 6zm1-4zm0-6zm3-1zm0-4zm1 9zm1-5zm1-9zm0 10zm3 3zm2 0zm2-16zm1 3zm1 8zm0 8zm1-15zm0-7zm0 21zm2-12zm1 26zm0-12zm1-1zm0-16zm0 5zm1 4zm1-10zm2 25zm0-14zm0 2zm1 7zm1-8zm0-3zm2-9zm1-2zm0 15zm1-2zm1-3zm1 7zm1 10zm2-8zm1-2zm0-1zm2-5zm1 13zm0-18zm1-3zm0 27zm0-9zm1-12zm0 8zm1 0zm1 5zm1 0zm2 7zm1-23zm0 9zm1 9zm0-8zm0-2zm1 13zm1-1zm0-2zm1-19zm0 0zm1 14zm1-9zm0-6zm1 9zm1-1zm1 4zm0 12zm0-17zm1 8zm0-15zm0 8zm1 16zm1-17zm0-8zm2-3zm2 12zm0-7zm1 19zm1-3zm1 2zm0-3zm1-6zm1 0zm0 7zm1-3zm0-2zm0 6zm2 8zm0-17zm1-3zm1-3zm0 10zm1-5zm3 2zm0-7zm0-4zm2 4zm0 4zm1-5zm1 10zm1 4zm3-9zm1 10zm1-1zm0 4zm0-20zm0 15zm1 2zm0-8zm1-13zm1 13zm1-7zm1 15zm1 2zm1 4zm1-25zm4 32zm0-20zm1 5zm2 2zm0-7zm0 4zm0 0zm1-11zm0-10zm0 11zm0 8zm1 16zm0-7zm1-4zm0-5zm1 8zm1-6zm1-5zm3 3zm2 6zm0-6zm2 18zm0-23zm0 6zm0 16zm1-32zm0 16zm3-11zm0-5zm1 7zm1 5zm2 0zm0-2zm4 4zm1 10zm1-26zm0 1zm2 16zm1 4zm0-7zm1-5zm0 5zm1 5zm2 10zm1-16zm0 15zm0-19zm1 23zm1-11zm0-10zm1-5zm1 19zm1 6zm2-27zm1 15zm1-19zm1 24zm0-11zm1 13zm1 5zm0-28zm0 16zm1-7zm0-6zm1 21zm1-8zm1 0zm0-11zm1 3zm1-13zm0 8zm0 17zm7 2zm1 9zm1-8zm1-14zm2 4zm4 9zm1-13zm0-6zm1 13zm1-2zm0 8zm1 4zm1-6zm2-1zm0-1zm0-7zm2 1zm1 12zm1-5zm1-13zm1 5zm1 4zm0-16zm0 11zm4 4zm5-4zm1 10zm0 0zm2-6zm0-2zm1-3zm1-4zm2 5zm0 9zm4-5zm2 14zm1-3zm2-15zm1 17zm0-13zm1-5zm3 6zm3-14zm4 21zm1 9zm1-15zm2-3zm0-1zm2-3zm0 15zm5-7zm1 1zm0 3zm2-9zm0-2zm5-3zm2 4zm2 1zm1-3zm1 7zm2 12zm2-16zm2-2zm1-5zm1 2zm2 16zm0 8zm0-27zm2 0zm2 12zm1 7zm2-11zm0-4zm1-9zm1 21zm0-1zm0 13zm0-27zm4-9zm1 20zm2-13zm1 1zm9 18zm6-7zm3 0zm1-2zm7 7zm4-13zm2 10zm5-4zm5 4zm2 2zm2-3zm4-9zm1 5zm2 5zm3 2zm3-18zm1 22zm2 10zm11 3zm1-11zm2 4zm2-18zm19 10zm4-10zm52-12zm5 14z"/>
<path stroke="#f08060" stroke-width="16" stroke-opacity=".80" d="M1031 1183zm27-67zm2 49zm42-17zm30 3zm6-5zm1 0zm1 8zm21 12zm29 2zm23-2zm7-13zm27-2zm3-32zm34 51zm9 9zm15 8zm25 5zm49 1zm7-58zm2 49zm15-3zm10 5zm16-36zm15 20zm23 28zm13-30zm21-14zm7 58zm6-23zm1-16zm32-12zm13 47zm20-8zm3-37zm6 1zm11 42zm3-4zm8-6zm3 7zm8-22zm53 30zm8-32zm1 9zm9 6zm38-40zm18 48zm13-21zm18 4zm25-34z"/>
<path stroke="#80c442" stroke-width="20" d="M1070 1212zm7 22zm23-28zm5-10zm8-1zm3 9zm11-8zm6-1zm13 35zm8-37zm6 18zm4-2zm5-8zm2 21zm5-3zm1-7zm8-9zm0 20zm1-1zm1-5zm11-11zm2 9zm4-30zm1 47zm1 15zm1-33zm3-3zm13 1zm1 22zm5-14zm5 17zm2-44zm0 21zm0-1zm1 1zm1-11zm1 16zm1 7zm2-27zm5 38zm1 1zm1-16zm0-11zm1-13zm1 0zm1 21zm4 0zm2 21zm2-14zm1-44zm1 29zm4 10zm1 17zm0-25zm1-16zm2 26zm1-5zm0-9zm1-11zm2 9zm0 10zm0 1zm4 5zm6 13zm0-25zm1 4zm0 1zm4 8zm1-15zm1 7zm2-6zm1-28zm0 35zm1-21zm1 25zm1 1zm0-37zm0 32zm1 18zm0-25zm1-16zm2 30zm1 17zm1-34zm0-12zm1 37zm2-1zm3-12zm1 0zm0-26zm0 13zm1 28zm0-4zm1 4zm2-37zm0 34zm0-50zm2 65zm0-58zm1 22zm1-14zm0 9zm0 30zm0-36zm1 7zm0-15zm0 21zm0-14zm0 46zm1-56zm0 33zm0-16zm1 7zm0 5zm0 9zm2-9zm4-1zm1 19zm3-40zm2 45zm0-15zm0 13zm1-37zm0-8zm0-8zm1 34zm3 5zm0-15zm0 0zm0 31zm0 0zm0 0zm0-32zm2 8zm2 21zm3-15zm0-24zm1 12zm1 29zm1-24zm3 14zm2-18zm0-14zm1 17zm3-3zm1 4zm1 4zm1-9zm0-6zm1-9zm0 1zm2 29zm0-8zm1 22zm0-27zm1 3zm1 12zm0 5zm1-12zm0-10zm1 33zm1-22zm2 10zm3-41zm0 15zm2 0zm1 7zm1 8zm1-6zm1 11zm0-15zm1 3zm0 0zm1-2zm1 11zm0-24zm2 26zm0-14zm1 27zm0-33zm0-17zm1 20zm1 22zm1-12zm0-22zm1 40zm0-32zm1 27zm0-7zm0-18zm0 0zm1 31zm2-2zm1 3zm0-14zm1 1zm0-2zm0 7zm1-37zm0 9zm1 19zm1-1zm0 9zm1-12zm1-4zm1-4zm0-17zm2 27zm1 20zm0-25zm3-1zm1 12zm1 5zm1 3zm0-37zm1 6zm0-10zm1 12zm1 15zm0-12zm0-10zm0 19zm0-3zm1-6zm0 22zm1-38zm2 23zm0 22zm0-38zm0 17zm2-9zm1-12zm0 13zm0-4zm1 10zm0 1zm2-26zm2 33zm0-4zm1 4zm0 2zm1-13zm1-1zm0-1zm0 4zm1 3zm1-7zm1-14zm0 21zm0 18zm1-5zm1 7zm0-17zm0 5zm1-24zm0 0zm0 4zm2 34zm0-14zm0-5zm0-6zm0-3zm1 25zm1-17zm0-5zm0 37zm1-36zm1 25zm0-40zm0 13zm0 4zm0-8zm2 12zm0-11zm1-16zm1 57zm0-34zm0 16zm0 19zm0-44zm1 20zm0-15zm0 16zm0-21zm4 21zm1-25zm0 21zm1-8zm0 6zm0-19zm1 16zm0-5zm1 30zm0-31zm0 26zm0-18zm1-35zm0 45zm0-1zm1-39zm1 16zm1 2zm0 26zm1-49zm0 30zm1 31zm0-11zm0-20zm0 18zm1 2zm0-31zm2 13zm0-9zm0 6zm1 3zm2 0zm0 31zm0-23zm0-13zm1 8zm1-12zm0 11zm1 21zm0-25zm0-5zm0-1zm0 30zm2-50zm0 9zm1 29zm1-42zm0 18zm1 4zm0 10zm1-10zm0-6zm0 2zm1 22zm0-30zm0 24zm1-3zm1-16zm0 32zm0-26zm1 29zm0-18zm0 27zm0-18zm0 6zm0-11zm1 6zm1 2zm4 11zm0-26zm1-15zm0 9zm0 5zm0-3zm2-4zm0 24zm0-19zm1 5zm0-21zm1 28zm0-12zm1 0zm1-19zm0 38zm2-21zm0-4zm1 5zm0-5zm2 5zm0 4zm1 12zm0-27zm0 19zm1 14zm1-11zm2 2zm0-29zm4 10zm0 23zm0-29zm1 5zm0 28zm0-20zm2-6zm1-6zm1 11zm0-18zm0 19zm0 25zm2-8zm0-27zm0-6zm1 20zm2-14zm0 8zm1 15zm1-16zm0 26zm1-18zm1-2zm0 13zm0-24zm0 9zm2-14zm1 2zm1 1zm1 21zm0 29zm1-26zm3-3zm1 4zm1 0zm0-7zm0-13zm0 44zm2-36zm3 5zm1 17zm1 6zm1-45zm1 36zm3-17zm0-5zm1 3zm0 14zm1 6zm3-17zm1 12zm1-6zm0 3zm0 17zm2-27zm3 34zm0-29zm1-15zm0 4zm0 29zm2-40zm0 34zm0-3zm1-20zm0 32zm1-16zm0-32zm1 34zm1-38zm1 13zm0 35zm2-5zm2-41zm1 30zm0-15zm1 16zm3-10zm0 2zm1-12zm0 21zm3-36zm3 21zm2 10zm2-9zm0 27zm1-28zm0-7zm1-3zm0 9zm2 23zm0-26zm2-10zm2 48zm1-12zm0-14zm1 17zm0-16zm2 24zm2-33zm1-4zm1 45zm1-14zm1 3zm0-26zm1 2zm1 4zm0-20zm2 26zm1-16zm1 22zm1-3zm1-19zm0-9zm1 1zm1 12zm0-4zm0-7zm2 33zm0-8zm0 4zm1 17zm2-34zm1-8zm1 30zm1-5zm0-22zm1 40zm3-35zm0 11zm0 2zm2 0zm1-12zm2 8zm3-21zm1 39zm1-37zm0-6zm1 29zm1-4zm1-9zm1 26zm0-21zm5-8zm2 20zm1 4zm1-12zm2-9zm0 5zm1 20zm0-16zm0 0zm4-29zm0 10zm2 15zm1-27zm0 54zm1-58zm1 32zm1-11zm3 3zm0 20zm2-18zm1 22zm2 17zm1-24zm6-8zm0 5zm5-12zm0 21zm0 1zm2 12zm1-35zm2-2zm3 28zm6-24zm1 9zm6-2zm5-3zm2-10zm1 21zm1-11zm1-4zm0-12zm3-8zm4 18zm3 12zm8-27zm1 3zm3 16zm0-3zm4 24zm2-51zm4 10zm2 14zm1 36zm3-23zm3-3zm3 12zm1-1zm3-23zm1 29zm2-7zm8-7zm2-23zm2 39zm17-39zm9 24zm11-8zm2-9zm10 23zm16-17zm4 2zm5-2z"/>
<path stroke="#a8d468" stroke-width="17" stroke-opacity=".80" d="M1102 1208zm15 22zm18-20zm3 14zm4 20zm1-40zm18 23zm9-39zm7 17zm8 18zm23-16zm0 36zm5-13zm3-11zm16 5zm13-40zm3-7zm11 19zm11 35zm25-37zm1 34zm37-31zm18 58zm3-72zm10 24zm15 2zm14 16zm2 2zm1-36zm29 35zm8 8zm0-8zm28-2zm8-43zm0 45zm11 15zm2-44zm23 16zm12-3zm2 24zm18-20zm7 25zm7-22zm5-13zm18-1zm3-5zm0 33zm2-25zm14-4zm0 21zm2 1zm20 12zm21 6zm13 7zm4-29zm4 15zm4 11zm2-17zm9 20zm1-57zm17 34zm18 0zm2-8zm16-22zm12 12zm3-21zm3 41zm1-11zm18 7zm1-10zm12 40zm2-8zm19-4zm4-9zm18-19zm30 30zm2-15zm14 23zm21-65zm4 26z"/>
<path stroke="#f7861e" stroke-width="23" d="M840 1232zm1-4zm3-1zm2 4zm3 0zm2 2zm0-1zm5 1zm3 1zm3-4zm1-2zm2 1zm4 2zm5-2zm3 3zm0 0zm0-1zm1 2zm1 0zm1-2zm1-3zm4 4zm2 3zm3 0zm2 0zm3 0zm1-2zm6 1zm2 1zm2-1zm1-6zm0 5zm0-2zm5 5zm11-5zm2 2zm2 3zm1-3zm2 3zm0-2zm2 0zm0-1zm2 4zm3-1zm1 1zm1 2zm3-5zm1 1zm2 3zm2-4zm0 3zm0 1zm2-3zm5 3zm1-7zm1 3zm1 6zm2-8zm2 0zm3 1zm0 6zm4-6zm1 3zm2 0zm0 2zm0 0zm1-3zm0-4zm4 9zm0-6zm1-1zm3 1zm1-1zm0 6zm4-5zm0 2zm0-2zm1 2zm1-4zm0 2zm0 1zm1 1zm2-1zm1-4zm1 8zm2-2zm2 0zm2 1zm0-2zm2-3zm0 6zm2 0zm4 2zm2-8zm1 3zm1 3zm0-4zm3 1zm4 2zm0-4zm1 0zm3 3zm1 2zm0-3zm1-3zm0 5zm5 0zm1-1zm0 1zm2-3zm1 0zm2 2zm1-1zm9 4zm0-4zm0 6zm1-3zm1-3zm1 1zm3 2zm2 1zm2-4zm2 3zm0-2zm3-1zm4-1zm2 3zm0 2zm3-4zm0 0zm0 3zm2 4zm0-3zm0-3zm2 0zm0 1zm1 4zm0-7zm0 2zm2-3zm5 7zm0-3zm2-2zm5 4zm0 0zm2 1zm1 0zm1-7zm0 4zm5 6zm1-3zm1 4zm1-8zm0 1zm6 6zm2-1zm0-6zm2 6zm0-2zm2-4zm3 8zm5-6zm0 6zm4-4zm4 3zm2-1zm2-3zm0 1zm1 1zm1 3zm0-3zm2-4zm1 1zm0 2zm3 0zm0-4zm2 4zm1-4zm4 5zm6 0zm2 2zm3-2zm0 1zm2-1zm0-2zm1 3zm3 2zm0 0zm3 1zm0-5zm0-4zm3 4zm0 2zm2-1zm4 3zm1-6zm1 2zm2 3zm2-4zm2 1zm3-2zm2 5zm2-2zm1-1zm3-1zm1 0zm1 2zm1 1zm0 0zm3-2z"/>
<path stroke="#f7861e" stroke-width="21" d="M1201 1242zm0-1zm1 2zm2 0zm3 5zm0-5zm3 0zm0-3zm2 8zm2-3zm2-4zm2 5zm3-3zm1 2zm1 3zm12-8zm5 4zm2 0zm4 3zm0 3zm1-4zm5-2zm0 0zm4 1zm0 1zm0-5zm2 6zm1-1zm3 5zm2-5zm5 2zm4 0zm1 0zm7 3zm1-2zm4-3zm0 4zm0 0zm0 2zm1-5zm1-2zm1-2zm0 6zm1-3zm2 4zm1-4zm0 1zm6 1zm2 1zm1-1zm2 3zm1 2zm0-3zm0 0zm1-1zm4-1zm3 1zm1 2zm0 2zm5-5zm2 3zm1 0zm2 1zm1-2zm1 4zm1-8zm8 1zm0 2zm0 1zm3 2zm2-1zm1 6zm0-5zm6-2zm0 1zm1-2zm0 3zm6-1zm1 2zm2-2zm1-3zm7 5zm1 2zm0 0zm1 1zm1-9zm1 5zm1-4zm2 6zm1 0zm0 2zm0-6zm1-1zm2 0zm3 5zm1 1zm11-1zm1-1zm1-1zm3 4zm1-4zm4 2zm6 3zm0-3zm4-2zm1 0zm1 4zm3 0zm2 2zm1-3zm0 4zm1-5zm0 2zm3 0zm2-3zm1 5zm2-5zm6 2zm1 1zm2-4zm0 7zm1-4zm0 3zm2 0zm1 3zm1-5zm1-1zm1 2zm1-4zm3 4zm2 3zm3 0zm7-3zm10-3zm1 4zm1 2zm5-3zm0 0zm0 1zm3 3zm4-4zm1 3zm5 2zm3-4zm9-1zm2 3zm0-2zm1 4zm3-7zm1 3zm0 4zm0 1zm2 1zm4-2zm3-1zm2-1zm6 6zm0-8zm1 6zm0 0zm1 2zm2-1zm1-6zm0 3zm1-2zm1 8zm0-4zm8-3zm5 2zm2-1zm2 3zm6 0zm2-6zm0 6zm6-7zm1 5zm0 0zm3 3zm1-5zm3 1zm0 5zm3-3zm6 4zm2 2zm0-3zm3-4zm3 0zm0 1zm1 3zm7 1z"/>
<path stroke="#2e2a90" stroke-width="23" d="M826 1256zm1 0zm5-4zm9 2zm6 3zm2-3zm8 3zm13-1zm10-1zm65 2zm15 2zm11 4zm11-1zm7 0zm3-2zm24 0zm4 3zm1 1zm4-3zm27 2zm22 0zm5 3zm2 0zm13-3zm10 4zm4-1zm10 0zm16 1zm8 1zm50 1zm14 2zm38-1zm32 3zm21 3zm1-2zm8-2zm32 4zm4-4zm61 7zm61-1zm4 4zm31-3z"/>
<path stroke="#2e2a90" stroke-width="23" d="M1525 1283zm13 0zm75 2zm39 4zm7 0zm24 0zm26 4zm2-4z"/>
<path stroke="#fba41e" stroke-width="21" d="M1080 1337zm6 8zm3-19zm0 6zm4-5zm9 11zm0 12zm8-11zm1 0zm4-9zm6 6zm0 12zm2 7zm0-26zm3 10zm5 6zm3-22zm1 10zm4-4zm1 30zm1-16zm3 0zm6 4zm1-7zm2-5zm3-4zm3 14zm1-7zm4-10zm3 20zm4-13zm2 0zm1 15zm1-6zm5 0zm4 17zm2-20zm6-6zm0 6zm1 7zm2-3zm0-8zm1-1zm2-2zm0 10zm0 3zm1 3zm3-8zm2 8zm0-29zm1 18zm1-8zm5 9zm1-15zm4 15zm2-4zm0-14zm1 19zm2 12zm0-19zm1 3zm2 8zm0 4zm2-7zm3-3zm6 18zm1-2zm0-5zm1 5zm0-28zm1 1zm2 6zm0 27zm2-17zm0-10zm0-20zm2 26zm1 18zm1-34zm1-3zm0 32zm1-29zm1 7zm0-5zm1 5zm0 8zm1 13zm1-3zm0 0zm0 3zm4 12zm0-15zm1-15zm1-3zm1-2zm1 6zm1-13zm0 44zm1-16zm1-7zm1-29zm0 33zm0 9zm0-10zm1 0zm2 3zm0-9zm1-1zm0 23zm1-2zm0-5zm0-29zm1 36zm0 2zm1-51zm3 43zm1-4zm0 1zm0 11zm0-24zm0 0zm2-22zm0 43zm0-17zm0 3zm1-12zm0-4zm2 19zm1 8zm1-24zm1 26zm0-46zm1 31zm1-2zm1 2zm1 10zm1 4zm1 9zm0-28zm1 3zm1-9zm1 32zm0-51zm1 12zm1 2zm1-3zm0 29zm1 1zm0-37zm1 29zm1-14zm1 28zm0-35zm0 6zm0 7zm0 11zm0-17zm0 21zm0-22zm1 16zm1 11zm0 4zm1-38zm0 13zm0 13zm0-2zm0-11zm2 13zm1-19zm0 4zm1 17zm0-20zm1-2zm1 11zm0-18zm1 33zm1 7zm1-37zm2 24zm1-16zm0-11zm0 40zm0-30zm1 16zm1-4zm0 0zm1-3zm1-15zm1-2zm1 41zm0-36zm1 14zm1-20zm0 13zm0 13zm1-8zm1-13zm1 23zm0-5zm1 11zm0-1zm2-2zm0-26zm0 4zm1 28zm0-22zm1-6zm0 7zm0 16zm1-3zm1-5zm1 4zm0 7zm0-16zm1-1zm0 5zm1-33zm2 10zm2 2zm0 4zm1 19zm0-3zm0-20zm0 27zm1-1zm0-33zm0 21zm0 5zm1-33zm2 28zm1 4zm0 18zm0-3zm0-7zm0 4zm0-20zm0 38zm1-44zm0 1zm0 10zm0 5zm1-8zm1-16zm0 27zm0 17zm1-6zm0-21zm1 0zm1-14zm1 2zm0 40zm1-3zm0-48zm0 26zm0 8zm1 8zm0 17zm0-48zm1 12zm1 32zm0-11zm2-27zm0-12zm0 25zm1-19zm1 18zm0-13zm0 13zm3 3zm0-19zm1 13zm0 2zm0 21zm0-11zm0 1zm0-33zm1 38zm0-12zm1 12zm1-35zm1 19zm2 3zm1 1zm0 6zm1 13zm1-35zm0 15zm0 11zm1-3zm0-19zm0 30zm0-30zm0-23zm0 25zm0 8zm0-14zm1-23zm0 26zm1 10zm0-5zm0 14zm1-16zm1 16zm0-31zm0 42zm1-9zm0-8zm0-10zm0 14zm0-32zm0 36zm1-17zm1 2zm0-7zm1 17zm0-15zm1 13zm0-8zm0-1zm1-7zm0 6zm1 8zm1-5zm1-16zm0-13zm0 48zm0-9zm0-13zm1-26zm0 39zm0 7zm0-12zm0-21zm1 25zm0-1zm1-18zm0 17zm1-7zm1 30zm1-38zm0 18zm3 20zm1-44zm0 4zm1-5zm0-12zm0 8zm1 28zm0-27zm0 6zm0 3zm1 5zm0 7zm0 30zm0-65zm0 50zm0-14zm0-14zm0-4zm1 17zm0 20zm0-50zm0 4zm0 21zm1 19zm0 13zm0-31zm0 8zm1-36zm0 14zm2 8zm0 0zm0 15zm0-31zm1 13zm1 12zm0 19zm0 2zm1-28zm0 14zm0 0zm0 17zm1-17zm0 4zm0-11zm1-11zm0-3zm0 4zm1 31zm0-19zm0-7zm1 14zm0-8zm0 20zm0-48zm1-10zm0 64zm0-22zm0 0zm0 5zm0 6zm1-54zm0 32zm0 20zm0-29zm0 7zm1 5zm0-9zm0 13zm1-11zm0 4zm0-23zm0 7zm0 1zm1 29zm0 4zm0-26zm0 7zm1 2zm1-9zm0 3zm0 18zm0-17zm0 7zm1 8zm0 19zm0-26zm0 3zm0 25zm1-44zm1 48zm0 3zm0-19zm0-22zm1 18zm0-16zm0 22zm1 1zm0-35zm0 29zm0-23zm1 21zm0-18zm0 27zm1 4zm1-28zm0 39zm1-41zm0-5zm0 22zm1-10zm0-11zm0 2zm0 9zm1-18zm0 18zm0 13zm1 8zm0-1zm0-35zm0 5zm1 19zm1-1zm0 12zm0-51zm1 37zm0-2zm0-6zm0-7zm0 3zm1-14zm0 51zm0-47zm1 26zm0-31zm1 33zm0-34zm0 13zm0-7zm1 11zm0 2zm1 17zm0-4zm0 3zm1-9zm0-14zm0 27zm1-26zm0 19zm0-39zm0 40zm1-31zm0-2zm0 35zm1-44zm0 52zm1-42zm0 2zm0 39zm0-29zm0-2zm0 4zm1 26zm0-2zm0-10zm0-6zm0-21zm1 25zm0-7zm0 7zm0 11zm1-28zm1 7zm0 1zm2 27zm0-28zm0-14zm1 10zm0 7zm1 7zm1 1zm0-27zm0 28zm1 19zm0-48zm0 41zm1-15zm1-10zm0 5zm0 4zm0-3zm1-11zm0 36zm0-22zm1-13zm0 2zm0 3zm1 21zm0-38zm0 22zm0 0zm0 0zm0 5zm0-27zm1 50zm0-57zm0 9zm0-3zm0 29zm1-3zm0-3zm0 4zm1-12zm0 4zm0 4zm0-33zm1 42zm0 9zm0-48zm0 39zm0-25zm0 13zm0 8zm1-20zm0 6zm0 40zm1-58zm0 15zm0 18zm0 7zm3 8zm0-20zm1-8zm0 7zm0-36zm0 62zm0-10zm0 14zm1-29zm0-12zm1-17zm0 54zm0-18zm1-26zm0 0zm0 22zm0 3zm0-9zm1 11zm1-12zm0-4zm1 29zm1-28zm0-21zm0 23zm0 1zm0 1zm0-9zm0 15zm0 3zm0-4zm1 11zm0-25zm0 12zm1-19zm0 12zm0 8zm0-26zm1 26zm0 11zm0-4zm1-21zm0 8zm0-9zm1 3zm0-14zm0 44zm1-4zm0-4zm0 11zm0-21zm0-5zm0 9zm0-12zm1 2zm0 9zm1 12zm0-14zm2-8zm0-14zm1 37zm0-2zm1-46zm0 20zm0 19zm0-16zm0 4zm1 18zm0 5zm0 0zm0-2zm1-34zm0 11zm0-6zm0 6zm0 24zm0-16zm1-26zm0 29zm1 6zm2-24zm0 44zm1-19zm1-15zm0 15zm0 23zm0-38zm1 35zm0-20zm0 12zm1-26zm0 0zm1-7zm0-11zm0 21zm0 14zm0 16zm0-19zm1-20zm0 8zm1 5zm0-18zm0-9zm0 46zm0-44zm1 2zm0 31zm0-2zm0 4zm0-24zm1-15zm0 20zm1-11zm1 21zm0-9zm1 9zm1-1zm2 23zm0-6zm0-39zm0 28zm0-5zm0 2zm0 1zm1-4zm1-41zm0 45zm1 8zm1-29zm2 11zm0 7zm0 13zm1 5zm1-49zm1 15zm1 18zm1-25zm1-2zm0-2zm0 21zm0 3zm1-14zm0 31zm0-9zm0-5zm1-11zm0 2zm0 0zm0 18zm0-13zm1-8zm0 34zm0-39zm0 2zm0 4zm0-24zm1 31zm0 27zm0-28zm0 5zm0-41zm0 38zm1-8zm0-8zm0 33zm0-6zm1-28zm0 13zm0 10zm2-7zm0-30zm0 43zm0-29zm1 35zm0-43zm1 12zm0 28zm1-12zm0-13zm0 13zm1-4zm0 15zm0-19zm0-6zm1 26zm0-37zm1 11zm1 15zm0 8zm1-30zm1 34zm0-5zm0 4zm1-9zm0 0zm0-25zm0 37zm1-42zm0 39zm0-37zm0 19zm1-29zm0 35zm1 8zm0-22zm0-7zm1 19zm0 6zm0 5zm0 2zm1-23zm0 5zm0 13zm0-22zm1 8zm0 12zm0-2zm0 10zm0-13zm0 3zm1-32zm0 20zm0 31zm0-41zm1 13zm0 23zm0-3zm1 1zm0-49zm1 19zm0 33zm0-11zm1-6zm0-6zm0 0zm0-24zm0 43zm1-13zm0-1zm0 5zm0-39zm0 49zm1-2zm0-12zm0-28zm0 28zm1 2zm0-22zm1 1zm0 0zm0 9zm0-9zm0 3zm1 10zm0 22zm0-20zm0-30zm1 41zm0-38zm0 5zm0 39zm0-24zm1 19zm0-26zm1 10zm0-15zm1 47zm0-50zm1 37zm1-1zm0-14zm0-8zm0 2zm0 6zm1 14zm1-15zm0 10zm1-1zm0 5zm1 12zm0-38zm0 29zm0-21zm1 6zm1-2zm0-14zm1 19zm0-4zm0-27zm1 41zm0-12zm0-16zm0 3zm0 5zm0 7zm1 5zm0-4zm0 1zm0 13zm1-6zm0-32zm1 9zm1 20zm0-18zm1 3zm1-19zm0 18zm0 5zm0 35zm0-29zm0 21zm1-25zm1-22zm1 17zm0-1zm0 8zm1 10zm0-12zm0-6zm1 13zm1-20zm0 9zm0-24zm0 28zm0 4zm1 22zm0-7zm0-8zm0-33zm1 54zm0-22zm0-13zm0-17zm0 11zm1 1zm0-13zm0 33zm0 11zm0-6zm1-26zm0 9zm0 7zm1 1zm0 19zm0-29zm0 6zm0-1zm1-2zm0-9zm0 20zm0-16zm0 11zm0 18zm1-9zm0-16zm0 35zm0-67zm0 33zm1-9zm0 12zm1-2zm0 14zm1 9zm0-16zm0 2zm0-14zm1 15zm0 0zm0 8zm0-24zm0 0zm1 7zm0 18zm1-28zm0-6zm0 23zm0-12zm0 9zm1-9zm0 14zm1-17zm0 18zm1-33zm0 42zm0-41zm1 14zm1 6zm0 22zm1-31zm0 1zm0-1zm0 4zm1 2zm2 6zm2 0zm0 0zm0 12zm0-20zm1 27zm1-17zm0-12zm1 3zm1-14zm0 29zm1-6zm1-27zm0 12zm0 6zm0-5zm1 3zm0 18zm0-38zm1 14zm0-3zm1 24zm1-1zm0-1zm0-21zm0-5zm0 7zm0 23zm1-30zm3-3zm1 7zm0 13zm1-3zm1 5zm1 15zm0-20zm1 5zm0 1zm1-13zm1-10zm0 32zm0-12zm1-7zm0 21zm0-21zm0 18zm0-7zm1 32zm0-19zm0 5zm1-36zm0 21zm1-6zm0 20zm1-17zm0 19zm1-5zm0-29zm0 17zm0 9zm1-32zm1 12zm0 21zm0-7zm1-4zm1-8zm0 12zm0-5zm1-15zm2 16zm1 10zm0-17zm0-10zm0 8zm1 1zm0-11zm1 37zm0-27zm0-11zm0 24zm0-14zm1-2zm0-4zm0 14zm1 11zm0 5zm0-10zm1-15zm0 38zm0-32zm1-7zm0 4zm0 19zm0 2zm0-11zm1-6zm0 3zm1-6zm0 19zm0-18zm1 12zm1-25zm1 1zm0 5zm1 0zm0-13zm1 21zm0 0zm0-1zm1 24zm0-13zm0-22zm0 30zm0 0zm0 6zm0-30zm1 9zm0-30zm0 44zm0-27zm1 30zm0-11zm1 7zm2-24zm1 0zm0-5zm0 21zm1-16zm1 10zm0 24zm0-3zm1-23zm0 1zm0-13zm2 4zm1 16zm0 4zm3 6zm0-10zm0-22zm1 18zm1-1zm0 2zm1 5zm2-10zm0-2zm0 8zm1-14zm1 14zm0 9zm0-16zm3 4zm1-10zm0 2zm3 7zm0-9zm0-14zm1 7zm1 31zm0-29zm1 20zm4 16zm2-16zm3-8zm1-9zm0 23zm0-18zm0 3zm0 2zm1 1zm2-6zm2 4zm1 26zm0-13zm0 2zm1-43zm1 31zm1-1zm1-2zm4 16zm0-17zm0 7zm2-15zm0 5zm0-15zm0 19zm1 11zm0-22zm0 18zm1-9zm1 4zm0-11zm3 1zm1 4zm0-17zm2 33zm0-2zm0 6zm0-15zm0-16zm1 12zm2 3zm1-5zm0 5zm2 4zm0-23zm1 13zm0 11zm1-3zm1-6zm1 29zm0-49zm1 25zm0-17zm0 9zm2 12zm0 13zm0-18zm2 17zm1-30zm1 32zm0-1zm3-12zm0 2zm1-15zm0 2zm0 13zm1 3zm0-27zm1 24zm2-7zm1-1zm2 10zm0 6zm1-15zm0 5zm3 22zm0-35zm1 3zm3 29zm2-5zm1-15zm4 15zm1-13zm2-15zm3 9zm0 2zm0-23zm1 31zm0-12zm2-16zm1 25zm1 5zm2 4zm14-24zm1 2zm1 28zm0-16zm1-2zm0 3zm2-8zm2 13zm0-21zm1 26zm2-10zm0-17zm8-8zm4 23zm4-4zm10-2zm14 17zm1-15zm2-1zm4 7zm4-10zm17 3zm1-9zm6 18zm6-6z"/>
<path stroke="#fbb84e" stroke-width="17" stroke-opacity=".85" d="M1084 1338zm11-3zm34 15zm1-25zm18 22zm33 1zm8-23zm17 12zm2-4zm29-13zm3 31zm1 34zm1-48zm1 26zm15-10zm10 17zm13 2zm1-18zm2-11zm14 11zm22-42zm8 1zm12 28zm7 12zm1-4zm4-37zm11 39zm13-29zm8 26zm10-9zm3 1zm2 28zm55-41zm24 2zm17 30zm28-18zm45-12zm7 46zm1-43zm32 8zm17-5zm3 42zm27-20zm11-3zm12-11zm5 31zm24-7zm7-5zm4-43zm29 5zm0 27zm22-35zm31 41zm12 1zm27 26zm36-33zm4 37zm8-66zm19 44zm5-29z"/>
<path stroke="#0a8a8a" stroke-width="21" d="M911 1393zm23 0zm6-1z"/>
<path stroke="#0a8a8a" stroke-width="21" d="M941 1389zm10 5zm1-3zm0 1zm2 3zm4-1zm5 0zm1 1zm4 0zm1-2zm7-2zm1 0zm2 1zm6-2zm0 5zm2-5zm1 4zm1-2zm1 1zm7 0zm4 1zm3-2zm1 0zm6 5zm2-3zm0 3zm3-5zm4 1zm2 1zm1-3zm1 0zm5 0zm3 1zm1 2zm2-4zm1 7zm2-2zm2-3zm6 1zm0 2zm3-3zm2 2zm0-2zm1 0zm2 2zm8-1zm1 5zm7-7zm0 0zm0 1zm2 0zm1 4zm3 2zm0-3zm1 2zm1-2zm3-4zm6 4zm3-2zm1 1zm0 1zm6 2zm1-3zm1 2zm4-3zm8 3zm3-2zm9 0zm3 1zm4 3zm0-1zm2-1zm1 0zm4-4zm8 5zm3-4zm6 3zm0 1zm0-2zm0-1zm1 1zm1 0zm6 1zm1-2zm1 3zm3-2zm3 4zm0-2zm0 1zm1-2zm2 3zm0-1zm2-4zm0-1zm5 2zm3 4zm1-3zm1 1zm2-2zm1 0zm0-1zm4 3zm3-3zm0 2zm3-2zm6 1zm6 5zm1-3zm0-3zm2 2zm4-2zm3 5zm1-5zm1-2zm0 3zm2 1zm1-1zm1 2zm9 0zm6-2zm0-2zm2 6zm1-2zm0 1zm3-1zm1-5zm2 3zm1 0zm3-2zm3 5z"/>
<path stroke="#f0501e" stroke-width="20" d="M1220 1389zm0-4zm1 6zm0-3zm0 0zm1 1zm3 0zm2 6zm1-1zm1-2zm1 1zm3-4zm2 7zm3-4zm5-3zm5-2zm3 5zm2 3zm2-4zm5 0zm2 0zm3 2zm0-6zm1 4zm2 3zm1 1zm0-5zm1 0zm1-3zm11 1zm1 1zm2-1zm5 1zm2 2zm3 5zm3-9zm1 5zm0-1zm3 1zm1-1zm3-1zm1 2zm0-4zm2 5zm7-3zm0-1zm4 6zm1-5zm6 5zm0-3zm0 0zm2 0zm10-2zm4-2zm1 2zm0-4zm1 7zm1-3zm0 1zm4 0zm1-2zm1 6zm1 2zm4-5zm0-5zm3 7zm0-5zm7 7zm1-5zm2 0zm1 0zm10 2zm4-3zm1 0zm4 2zm6 1zm3-2zm0 1zm1 2zm3 1zm1-6zm9 2zm0 0zm3-2zm1 5zm2-2zm9 3zm1-4zm4 5zm0-3zm0 0zm0 0zm2-1zm0 3zm3 0zm3 1zm4-1zm2 1zm4-3zm2-3zm1 6zm11-4zm0 4zm0 1zm2-4zm1 2zm1-5zm2 7zm1 0zm1-1zm2-1zm3 1zm2-1zm1 1zm2 1zm5 2zm1-4zm2 0zm1 1zm0-5zm0 6zm1-2zm5-1zm1 1zm1 0zm1-1zm2 1zm1 4zm3-5zm1 0zm4-2zm0 4zm1 0zm0 0zm2 3zm3-7zm4-3zm0 10zm4-10zm0 5zm3 2zm1 0zm5 2zm1-6zm6 4zm0-1zm7 3zm3-4zm1 0zm2-2zm2 3zm1 2zm2 0zm1 0zm2-1zm3 1zm4-4zm5 4zm4 1zm1 0zm1-4zm3 4zm2-1zm1-1zm8 0zm0 1zm7-3zm1 2zm2 5zm0-5zm3 5zm2-8zm1 3zm1 1zm1 1zm5-3zm5 1zm2 5zm2-5zm7-1zm0 4zm4 0zm2 4zm6-3zm0-7zm1 5zm0-3zm1 2zm6-3zm1 4zm0 2zm4-2zm5 0zm8 0zm0-3zm2 2zm5 2zm0-1zm2-5zm0 0zm3 2zm8 4zm3-2zm1 0zm3-1zm0 4zm8 1zm0-1zm1-4zm3-2zm2-1zm5 7zm8-2zm2-1zm2 2zm1-1zm3-3zm1 5zm1-3zm1 3zm1 0zm2 3zm0-2zm9-2zm5-1zm0 1zm4 4zm0-5zm0 3zm3 0zm1 0zm0-1zm1-2zm3 1zm2-5zm0 2zm1 3zm6-1zm0 3zm4-2z"/>
<path stroke="#f4907a" stroke-width="19" d="M1782 1394zm20 4zm7 1zm4 3zm1 2zm25-8zm5 9zm10-3z"/>
<path stroke="#bcd022" stroke-width="16" d="M1406 1403zm3 2zm2-2zm1 3zm1-1zm9-1zm11 1zm9 2zm2-1zm2 1zm1-1zm6-1zm2 2zm4-1zm0 0zm5 2zm1-1zm1 1zm12 1zm4-2zm1-2zm7 4zm3-2zm4 3zm5-3zm4 0zm2 2zm1 1zm9-1zm5 1zm4-3zm4 1zm1 2zm4 0zm1-1zm4 0zm4 1zm5 1zm0-4zm3 2zm2-2zm3 2zm0 2zm0 1zm5-3zm1 0zm5 3zm2-1zm2 2zm1-2zm3-4zm3 4zm2-1zm2-1zm1 0zm8 4zm1-4zm0 0zm1 3zm3-3zm0 0zm5 0zm3 3zm0 0zm2-2zm3-1zm4 5zm8-2zm6 0zm5-1zm2 0zm7 2zm4-3zm3 5zm2-3zm11-1zm3 2zm1-1zm2 1zm3-2zm0 3zm0-1zm7-2zm1 1zm15 2zm0-1zm1 2zm1-3zm1-1zm1 4zm2-5zm3 3zm1 0zm2-1zm2 1zm0 1zm1 0zm1 0zm2 0zm1 1zm4-2zm1 0zm1 0zm4 2zm2 0zm5-1zm0 3zm3-2zm3-1zm13 1zm1-2zm5 0zm4 5zm4-3zm0 0zm5 0zm6 0zm2-1zm2 2zm10 1z"/>
<path stroke="#0f62a6" stroke-width="21" d="M992 1403zm11 3zm10-7zm25 6zm3 4zm16-4zm6 2zm1-4zm6-6zm6 4zm7 4zm6 10zm3-13zm2 11zm2-9zm0 8zm8-14zm5 1zm1 7zm1-8zm2 8zm2 7zm8-10zm0 13zm1-6zm1 2zm1-8zm6 1zm0 2zm2 3zm1-8zm1 13zm1-4zm1-11zm4 15zm0-3zm3 3zm0-10zm4 8zm1-1zm3-4zm2 11zm2 2zm5-5zm1-9zm1 5zm1-6zm1-7zm2 12zm1-6zm2 12zm2-11zm2 11zm2 5zm3-7zm0-13zm1 15zm2-12zm1-9zm1 18zm0-6zm2 0zm1 2zm2 2zm1-5zm0 8zm0-2zm1-1zm0 8zm3-12zm0 0zm0 7zm2 6zm0-3zm0-7zm2 1zm0 12zm3-14zm0 0zm2 14zm2-11zm4 7zm2-9zm1 5zm1-4zm1 8zm0 3zm1-11zm0 2zm1-9zm0 13zm1-2zm1-8zm2 5zm1-8zm1 17zm2-9zm1 2zm3-4zm2 5zm0 13zm4-16zm0 6zm1 8zm1-23zm2 10zm0 3zm1 7zm2-10zm2-5zm0 4zm1 4zm1-13zm2 14zm1-5zm1 3zm1-3zm0-4zm1-9zm1 10zm0 15zm1-14zm0-9zm1 14zm0-7zm0 8zm1-20zm1 21zm1-10zm0 0zm1 10zm0-5zm1-13zm1 8zm1 1zm1 3zm2 18zm2-24zm0 1zm1 23zm1-13zm0-3zm2-1zm0 5zm1-9zm1-4zm0 14zm0-14zm4 12zm0 12zm0-15zm0 10zm1-6zm0-2zm0-14zm0 19zm0-12zm1 2zm0 17zm0-20zm1 15zm0-13zm1 6zm1-1zm1 4zm1-4zm0 9zm0-5zm1 10zm0-12zm0 3zm1-6zm1-1zm0 1zm0-7zm2 7zm0-6zm0-1zm0 20zm3-10zm0 4zm2-13zm0 15zm1-2zm0-2zm1 5zm0-11zm1 1zm1 9zm0-6zm1-1zm0-1zm0 9zm1 5zm3-27zm0 21zm0-8zm0 6zm0-4zm1-10zm1 5zm1 12zm1-15zm0 17zm2-5zm1-5zm1-8zm0 4zm1-1zm1-5zm1 14zm1 8zm0-9zm0 10zm1-22zm0 9zm2 2zm1-10zm0 7zm1 6zm0 14zm1-32zm1 22zm4-11zm1 1zm1-13zm0 22zm2-5zm0-14zm1 12zm0-12zm0 16zm1-3zm0 4zm1 1zm0-13zm1-4zm0 19zm1-9zm0 14zm0-22zm1-8zm1 18zm1-6zm0-1zm0-1zm1 11zm0 3zm1 4zm0-4zm1-16zm0 6zm0 1zm0 3zm0 10zm0-12zm1 1zm0-6zm0 4zm3 2zm0 4zm0-4zm1-4zm1 5zm0-1zm0 3zm1 4zm1-3zm0 3zm0 0zm0-11zm1 2zm0 8zm0-7zm1 4zm0 9zm1-11zm0-6zm0 19zm0 2zm0-14zm0 2zm0 3zm1-9zm0 3zm1-10zm0 18zm0-3zm0-5zm0-5zm2 5zm0 11zm0-8zm1 4zm0 1zm0-10zm0-4zm1 1zm0 13zm1-4zm0-8zm1 4zm0 14zm0-15zm3 7zm1-2zm0-5zm1 5zm1-6zm0-4zm1-4zm0 8zm0-2zm1-4zm0 18zm1 2zm2 3zm0-1zm0-11zm0-2zm1 11zm0 0zm0-4zm1-11zm0 6zm1 6zm1-2zm0 2zm1-3zm1-7zm1 12zm0-4zm0-6zm1 10zm1-12zm0 17zm2-17zm0 2zm0-12zm0 13zm0 7zm1-2zm1 10zm1-13zm0-7zm0-3zm0 18zm1 2zm0-6zm0 0zm0-4zm1 2zm0-9zm0 5zm1-4zm0 3zm0 0zm0 16zm2-14zm0-1zm0 0zm0-14zm1 24zm3-5zm1-20zm0 6zm0 9zm1-5zm0-5zm1 2zm1 5zm1 6zm0-11zm0 8zm1-1zm0 5zm1 1zm0-4zm1-13zm1 12zm0 4zm0 14zm1-6zm0-21zm0 12zm1-14zm1 20zm0-5zm1-1zm0-16zm0 20zm0-1zm1 3zm0-22zm0 23zm0-11zm0-2zm2 5zm0-4zm2 6zm0-9zm0 15zm1-6zm0 1zm0-1zm0-6zm0-8zm1 29zm0-6zm1-10zm0-11zm1 7zm0 14zm0 1zm2-12zm0-15zm0 5zm0 20zm1-19zm0 4zm1 3zm0 2zm0 4zm0 0zm0 0zm0-7zm1 3zm0-8zm1 21zm0-11zm0-14zm0 16zm1-18zm0 28zm1-30zm2 20zm0-6zm0-5zm1 13zm0 6zm2-15zm0 5zm1-19zm0 23zm2 8zm0-22zm0 4zm0 15zm0-12zm1 9zm0-2zm0-1zm1-7zm0 6zm0 2zm1 5zm0-12zm1-4zm1 1zm0 21zm1-23zm0 7zm0 13zm0-3zm0-1zm0-8zm1 7zm0-11zm1 5zm1 2zm0 8zm0-16zm0 2zm0 17zm1-22zm0 12zm1 0zm1 0zm0 6zm1-12zm0 7zm1-17zm0 12zm1 11zm0-14zm0-13zm0 23zm0-24zm0 16zm2-17zm0 12zm0-2zm1 10zm1 10zm0-13zm0 11zm0-9zm1-3zm1 11zm0-2zm0-17zm1 11zm0 8zm1-2zm1-6zm1 14zm0-6zm1 1zm1-4zm1-6zm0-2zm1 2zm0 13zm1-16zm0-3zm1 13zm0 1zm1-13zm1 10zm0 12zm1-19zm0-10zm0 12zm0 2zm0-2zm1 1zm1-3zm0 8zm1-17zm1 6zm0-9zm1 0zm0-2zm2 13zm0 13zm1-20zm0 25zm1-9zm0 2zm0-20zm0 11zm1-1zm0 8zm1-18zm0 17zm0-7zm0-11zm1 7zm1 13zm1-16zm0 18zm0-6zm0 3zm1 10zm0-18zm1 5zm0-11zm0 15zm0-17zm1 22zm0-1zm1-10zm1 0zm0 3zm1-14zm0 17zm0-11zm1-1zm0 15zm0-4zm1 4zm0-1zm0-16zm1 18zm0-15zm0 6zm0 4zm0 1zm1-3zm2 2zm0-17zm1 16zm0 3zm1 2zm0-17zm1 6zm0-6zm1-7zm1 18zm0-1zm1 15zm0-27zm1 7zm1 15zm0-4zm0-10zm0 9zm2-6zm0 8zm0-9zm0 5zm1 5zm0 0zm0-19zm1 9zm0 1zm0 8zm0-6zm1 14zm1-20zm0-6zm0-3zm1 9zm0 2zm0 7zm1-5zm1 6zm0-2zm1 3zm0 0zm1-9zm2 4zm1 11zm0-10zm1-15zm0 4zm1 11zm0-3zm1-8zm0 22zm0-19zm1 16zm0-7zm1-2zm0 12zm0-9zm0-9zm0 6zm1-6zm1-2zm0 9zm0-8zm2 4zm0-5zm0 22zm0-17zm1 9zm0 4zm0-2zm0-12zm0-2zm0 6zm1-5zm3 3zm0 16zm4-12zm0-10zm0 2zm2 19zm0-14zm0 5zm0-21zm1 18zm1 8zm1 1zm0-17zm0 10zm1-11zm0 9zm1-15zm1 15zm0-4zm3 0zm0-6zm0-5zm1 24zm0-2zm2-13zm0 4zm1 15zm0 4zm1-7zm0 2zm0-13zm1-16zm1 15zm1-6zm0-5zm1 4zm0-3zm1 19zm0-5zm2 15zm2-5zm0-11zm0-2zm1 3zm1-13zm0 15zm0-8zm1 5zm1-11zm2 12zm0-9zm0 3zm0 16zm0-15zm1-2zm1-8zm2 11zm2-5zm2 5zm1 17zm0-17zm0 0zm1 6zm0-1zm1-3zm1 6zm0 4zm1-9zm1 1zm0 5zm0-7zm0-3zm1 1zm0 15zm0-6zm1-24zm0 17zm0-3zm0 3zm1-6zm1 1zm0-9zm2 12zm0 9zm1-13zm0 9zm0 13zm1-18zm0-5zm2 16zm0 7zm0-20zm0-9zm2 16zm2-18zm1 13zm0 9zm1-11zm1 9zm0-6zm0 10zm1-18zm1 26zm0-26zm0 12zm1-4zm1-14zm0 13zm0 6zm1-3zm1-1zm0 8zm0 5zm3-23zm1 13zm0 10zm1-3zm0-11zm0 1zm5 2zm0-6zm2 3zm0 13zm2-19zm0 10zm0-6zm1 6zm1-7zm1 5zm0 6zm0-4zm2 10zm0-6zm3 8zm1-8zm0-1zm1-12zm3 6zm0-2zm2-6zm0 10zm0 4zm1-3zm1-10zm0 10zm1 1zm0 7zm1-13zm1-10zm0 27zm2-17zm2 2zm0-7zm1-2zm0 10zm3 4zm1-8zm0 13zm1 0zm0-6zm1 13zm1-15zm0-5zm2 6zm0-2zm1 0zm1 2zm2-8zm0 1zm1 0zm3 7zm1-2zm0 18zm5-20zm3 8zm0 0zm1-5zm0 5zm1-3zm0-8zm0 2zm2 9zm1-11zm1 5zm1-2zm1-1zm1 3zm2 0zm4 4zm3 4zm0-1zm1-10zm2-1zm2 18zm1-10zm0-4zm2 8zm0-5zm3 2zm2-2zm2 0zm2 6zm5-12zm0 11zm2-10zm3 11zm1 5zm7-3zm0-1zm2-3zm8-6zm1 5zm5 5zm4-3zm1 6zm2 0zm1-13zm2 2zm1-6zm1 12zm2 1zm9 3zm5 1zm1-5zm8-6zm2 0zm12 9zm6-7zm0 7zm0 1zm0-3zm4 1zm1-4zm3 3zm2-2zm5 7zm2-2zm13-3zm1 7zm13-7zm7-1zm13 6zm0 3z"/>
<path stroke="#0f62a6" stroke-width="21" d="M1797 1440zm11 5zm10-5zm28 6zm2 2zm2-5z"/>
<path stroke="#f7841e" stroke-width="20" d="M1107 1452zm1 0zm4 3zm12-9zm3 6zm1-1zm6 2zm2-3zm2 1zm2 0zm1-2zm1 7zm0-4zm4 6zm3-6zm3 1zm0-2zm3 6zm2-5zm4 2zm0-4zm3 3zm1-3zm5-3zm0-2zm4 4zm2 2zm0 1zm4 5zm3-1zm8-6zm2 0zm3 4zm2 5zm3-5zm12 1zm1-1zm1-2zm0 1zm1 5zm2-7zm1 0zm0 1zm2-1zm5 6zm2-3zm0 1zm2-7zm6 6zm1 2zm0 2zm2-3zm1 1zm7 0zm2-4zm3 4zm2-1zm0 3zm4-8zm1 8zm0-5zm1-1zm2 9zm0-11zm2-1zm1 13zm3-1zm0-4zm1 0zm1-5zm2 6zm2-9zm2 3zm4 8zm1-5zm0-1zm2 3zm1 1zm0 0zm1 1zm8-3zm3-2zm4 3zm1-1zm1 3zm5-2zm3-3zm0 5zm2 1zm0-4zm6 2zm1 1zm1-7zm4 4zm12 3zm1-1zm2 2zm4-5zm2 5zm1 2zm1-4zm0-3zm0 0zm2 0zm4 6zm4-7zm5 6zm2-2zm2-2zm1 1zm1 1zm2-3zm1 2zm1 4zm3-4zm0 3zm3 0zm0-1zm2 0zm4-2zm0 3zm1 4zm2-6zm6 6zm7-3zm1-5zm0-3zm0 7zm2-3zm3-3zm5 4zm3-1zm2 1zm3 1zm0 1zm2 0zm0-1zm1-1zm14-4zm1 7zm4-7zm2 5zm2-3zm1 3zm1 2zm1-2zm1 7zm0-6zm0-1zm2 0zm3-2zm2 2zm1 2zm0-4zm4 4zm1-7zm1 8zm1 0zm1 0zm0-2zm1 3zm0-9zm1 11zm1-8zm0 3zm0-1zm1 4zm1-6zm2 5zm2-7zm0 8zm1-1zm5-1zm1 0zm0-2zm5 0zm1 1zm3-1zm1 6zm3-9zm4 4zm4 4zm3-1zm1-3zm2 1zm1 0zm5 3zm7 2zm5-10zm1 7zm0-3zm2 3zm1-1zm4 3zm0-4zm7 0zm6 6zm1 0zm2-7zm2 0zm1 2zm3 3zm1 1zm0 0zm1-2zm2 1zm2 4zm2-5zm0-1zm5-4zm3 10zm2-2zm0-3zm1 2zm0-2zm1 1zm1-4zm4 6zm0-7zm6-2zm11 3zm7 0zm1 1zm2-2zm2 7zm0 3zm1-7zm0 4zm2-2zm9-6zm5 2zm4 5zm5-6zm1 4zm1 4zm1-7zm3 6zm0-3zm1-4zm9 8zm3-5zm0 3zm0 3zm1-4zm4 0zm1-3zm2 6zm1 0zm2 3zm3-10zm1 5zm3 1zm2 5zm0-7zm1 5zm2-4zm1 4zm1-1zm3-7zm10 6zm4-3zm1 3zm8-3zm1 3zm1-2zm2 4zm0-4zm0-1zm6 4zm1 1zm1-5zm1-1zm0 4zm2-4zm1 5zm2-4zm2 1zm0 5zm1-5zm7 7zm0-5zm2 4zm1-6zm5-2zm2 2zm4 5zm1 0zm1 2zm2-4zm3 2zm3-3zm4 0zm7 5zm0-7zm3 6zm9-5zm1 5zm7-2zm4-2zm2 4z"/>
<path stroke="#e8501e" stroke-width="17" d="M1221 1462zm7 0zm13-3zm6 8zm60 2zm21-2zm2-2zm9 8zm34 4zm17-14zm73 7zm14 7zm3-16zm17 12zm5 3zm37-7zm6 4zm17-2zm36-1zm14-1zm60-1zm4-7zm4 20zm3-3zm11-8zm22-9zm48 18zm16-13zm3 8zm5 7z"/>
<path stroke="#8e2f8e" stroke-width="17" d="M1087 1437zm22 11zm39 1zm4-3zm96 12zm23 0zm8-11zm30-1zm1 8zm27 5zm10-17zm43 9zm16 13zm197 2zm2-3zm161 10z"/>
<path stroke="#9ab8e0" stroke-width="17" d="M1106 1431zm93 12zm64 11zm181 6zm14-5zm14 3zm28 4zm127 8z"/>
<path stroke="#1a9a88" stroke-width="16" d="M1292 1476zm18-1zm16 1zm9 0zm4 1zm4 0zm8 2zm8-2zm3-1zm16 2zm68 1zm9-1zm113 1zm27 0z"/>
<path stroke="#f03c14" stroke-width="23" d="M876 1541zm2 3zm1-4zm3-1zm4 6zm2-3zm1-4zm1 7zm0-8zm0 7zm3 1zm1-3zm1 3zm4 0zm1-6zm1 3zm2 1zm1 0zm1 0zm0-1zm2-3zm3 4zm2-3zm1-1zm4 0zm0 4zm3 4zm1-9zm1 7zm2 0zm2 0zm4 0zm0-3zm6 2zm1 1zm1-4zm5-4zm0 9zm2-1zm3-3zm1-1zm0-1zm11 6zm1-7zm0 4zm3 2zm1 0zm1-5zm4 5zm2 0zm0 2zm7 4zm1-6zm1 2zm3 3zm1-10zm1 12zm1-4zm4-7zm0 4zm1 2zm1 3zm0-4zm1-2zm1 0zm1 8zm1-8zm5-4zm1 10zm3-5zm0 8zm1-10zm2 7zm2-8zm5 2zm0 3zm0 1zm3-2zm0 0zm1-2zm1 5zm0-1zm0 2zm2-4zm2 0zm4-5zm2 13zm0-7zm4 4zm1-1zm0 0zm4 2zm2-6zm3 5zm0-1zm0-4zm3 5zm0-7zm1-1zm0 4zm2 5zm0-4zm4-4zm1 2zm0-4zm6 8zm1-2zm1-4zm1 5zm0 0zm1-1zm0-4zm7-1zm0 9zm4-3zm1 1zm0-3zm0 0zm1 7zm1-3zm0 5zm1-1zm1-8zm3-2zm1 10zm5-8zm1 1zm0-3zm3 4zm1 2zm1-8zm1 3zm2 6zm2-3zm2 4zm0-9zm3 8zm0-2zm0 5zm1 0zm2-7zm0 7zm1-5zm0 0zm1-1zm1 0zm2 4zm0 1zm1 2zm1-1zm1-5zm0 0zm2-3zm4 9zm1-5zm5 3zm2-2zm0 2zm2-2zm0 5zm1 2zm1-11zm3 5zm2 3zm0-2zm0-3zm1 4zm0-3zm4-1zm1-1zm0 2zm1-1zm0 5zm6 3zm2-4zm2-4zm0 1zm1 6zm1-1zm1-2zm5-1zm2-5zm1 5zm2 1zm0-7zm2 8zm1 2zm2-6zm0 1zm0 6zm1-5zm2 0zm0 1zm4 3zm11 0zm1 0zm8-2zm1-4zm0-1zm2 1zm0 5zm1-2zm0-1zm1-1zm1-3zm2 5zm2-1zm0-1zm2 2zm1-1zm2 2zm0-3zm0 1zm1 5zm1-1zm0-4zm2-1zm3 6zm1-6zm2 4zm3-3zm0 0zm0 3zm1-5zm1 8zm0-2zm1-3zm0-2zm2 2zm0-4zm0 6zm1 1zm3-5zm0 4zm3-5zm0 1zm3 3zm0-6zm1 13zm1-4zm2 0zm2-2zm3-2zm1 1zm0 3zm0 3zm1-5zm0-2zm6 6zm0-3zm2 0zm1-4zm0-1zm1 10zm0-7zm5-3zm1 3zm3-2zm4 5zm1-1zm0 1zm1-3zm1 4zm0 3zm0-5zm1 3zm0-3zm2 0zm4 4zm1 0zm1-5zm0 3zm6-1zm0-1zm2-1zm6-2zm0 4zm1-3zm0 1zm7-2zm1 3zm0 2zm2-3zm0 9zm5-4zm3-4zm0 7zm0-5zm2 6zm0-4zm4 2zm1-4zm3-2zm2 4zm1 0zm0-3zm0 1zm0 3zm0-10zm1 8zm1 4zm0-1zm2-4zm0 0zm3-4zm0 3zm0-2zm1-3zm1 11zm3-10zm2 5zm1 1zm7-3zm0 10zm0-8zm1-5zm2 3zm4 3zm3 7zm5-5zm5-6zm1 6zm0-2zm3 0zm1 4zm0-7zm4 3zm1 4zm3-4zm1 0zm0 0zm4 4zm0-3zm1 4zm0-2zm8 3zm0-5zm3 2zm0-1zm1 3zm1-2zm1 0zm0-2zm1 3zm1 1zm1-6zm2 3zm1 4zm1-8zm1 6zm4-2zm0 1zm1-1zm2-1zm4 4zm3 1zm2 0zm1-3zm7-2zm0 8zm0-6zm1 7zm3-7zm2-1zm0 0zm1 1zm7 5zm2-2zm2-1zm5 6zm1-3zm1 0zm1-3zm3-1zm1 5zm2-3zm1-5zm6 3zm0 7zm0-5zm1 0zm7-4zm2 0zm1 2zm0 3zm0-2zm0 8zm3-7zm4-2zm0 3zm1 1zm0-2zm2 6zm0-4zm2-3zm0 3zm3 3zm1-2zm4-1zm0 1zm1-2zm1 7zm1-9zm0 1zm1 0zm1-1zm0-2zm1 7zm1-6zm1-3zm0 8zm1 3zm2-2zm0-1zm4 0zm0-6zm6 5zm0-2zm2 7zm1-1z"/>
<path stroke="#f08060" stroke-width="16" stroke-opacity=".80" d="M908 1560zm32 13zm0 3zm42 4zm35-19zm14 14zm10 13zm1-4z"/>
<path stroke="#1f9c88" stroke-width="19" stroke-opacity=".95" d="M1064 1625zm35-15zm30 9zm0-2zm12 9zm3-32zm8 29zm15-13zm3 4zm8-21zm12 34zm8-27zm3 17zm2 0zm13-15zm0 8zm3-16zm1 21zm3-5zm3 6zm2 4zm3-23zm1 11zm3 7zm0-15zm2 4zm0 14zm2-6zm16 21zm0-1zm2-18zm1 8zm3 5zm2-9zm0-12zm1 21zm3-21zm1 11zm4-5zm1 1zm4 21zm4-11zm1 12zm1-24zm1-11zm1 5zm1 20zm0-22zm8 10zm4-2zm1-6zm10 10zm0 9zm0-3zm0-21zm2 31zm7-12zm0 6zm1-15zm0-3zm0 24zm0-12zm8-26zm2 35zm1-16zm3 14zm7-21zm0-9zm3 18zm1 14zm1-14zm3-7zm0 3zm1 2zm2-11zm2-12zm1 47zm0-13zm1-5zm1 9zm1-32zm2 1zm0 25zm2-12zm2-12zm0 30zm1-13zm1-1zm1 1zm0-4zm5 16zm0-25zm1 15zm2-17zm0 27zm1-41zm2 21zm2 10zm0 4zm3-8zm0 19zm4-5zm2-17zm0 15zm1-20zm4 6zm2 0zm3 1zm1-2zm2-4zm4-1zm1 6zm2 24zm0-38zm3 2zm3 25zm1 9zm3-42zm0 17zm2 19zm2-26zm6 30zm1-27zm3 2zm0 5zm1-7zm4 7zm2 11zm0-23zm0 42zm1-32zm5 3zm1-6zm1-11zm1 30zm0-6zm0 10zm1-17zm3 3zm3 14zm5-1zm1-8zm2 0zm0 10zm4-35zm1 24zm1 14zm7-13zm4-3zm2-5zm0-21zm1 20zm2-13zm1 15zm0-15zm4 5zm1 28zm1-14zm0-3zm1 3zm1 8zm0 3zm3-5zm0-7zm4 0zm0 9zm0 0zm1 0zm1-25zm1 18zm0-1zm3 15zm0-10zm5-6zm2 8zm1-6zm2 11zm0-18zm4 23zm2-19zm6-1zm4-11zm4 7zm1 14zm1-3zm2 16zm0-33zm1 39zm2-22zm0-3zm1 11zm1-40zm2 9zm1 17zm0-25zm1 32zm0-15zm2 17zm1-23zm0 26zm4-4zm4 2zm3-9zm0-15zm2 32zm2-7zm1 12zm4-5zm1-11zm2 14zm2 5zm4-8zm0 0zm10-7zm1-19zm12 20zm3-17zm8 4zm5-5zm6 14zm0-1zm7 9zm4-10zm3-13zm8 13zm1-18zm4 39zm20-6zm13-14zm7-2zm6 8zm5-24zm5 27zm6-30zm40 13zm6 0zm0 1z"/>
<path stroke="#6cc0b0" stroke-width="16" stroke-opacity=".80" d="M1002 1627zm23-47zm3 18zm29 6zm17-2zm2 1zm9-11zm9 5zm31 23zm36-18zm18 10zm9 21zm9-35zm14 14zm1 7zm11 18zm34-23zm4-22zm13 46zm35-11zm8-9zm37-17zm6 5zm24 21zm20 1zm80-39zm1 38zm2 14zm7-51zm18 51zm2-7zm17 12zm8-22zm7-24zm1 13zm1 14zm17-26zm15 22zm2-14zm49 13zm20-4zm4 9zm37-9zm8-36zm15 55zm21-8zm10 13zm8-24zm20 20zm18-30z"/>
<path stroke="#f6b04a" stroke-width="19" d="M1321 1742zm6-14zm31 13zm7 2zm36 17zm1-12zm35-3zm18 2zm14 4zm3 0zm7-9zm8-3zm2 17zm37-12zm2 11zm17 9zm1-23zm1-1zm21 15zm9-4z"/>
<path stroke="#a9a6dc" stroke-width="19" d="M1448 1722zm37 3zm4 1zm10 0z"/>
<path stroke="#0d8e7c" stroke-width="21" d="M1040 1819zm0 0zm0 0zm0 0zm0 0zm0 0zm0 0zm0 0zm0 0zm0 0zm0 0zm0 0zm0 0zm0 0zm0 0zm0 0zm0 0zm0 0zm1 0zm0 0zm0 0zm0 0zm0 0zm1-1zm0 1zm0 0zm0 0zm1 1zm0-1zm0 1zm1-2zm1 0zm0-1zm0 1zm0 3zm1 0zm0-4zm1 3zm1-2zm1 1zm1 1zm0-1zm1 0zm0-3zm0-1zm0 4zm0-1zm2 3zm1-1zm2 2zm1-1zm0 1zm0-11zm1 4zm0 10zm0-8zm1-2zm1 7zm0-3zm1-1zm0-3zm1 2zm0 3zm1-7zm1 7zm0 1zm2 3zm1-10zm0 2zm1 6zm1 7zm0-10zm0-8zm0 8zm1 3zm1-2zm1 1zm0-5zm0 16zm1-16zm0-5zm0 14zm2-2zm1-4zm0 2zm0-3zm0 4zm0 0zm1 4zm0 1zm1-2zm1 6zm0-19zm2 15zm1-21zm0 14zm1 13zm0-13zm1 6zm2 1zm0-10zm0-2zm1 11zm0-11zm1 11zm0 5zm2-14zm0 12zm1-8zm0 0zm0-12zm0-3zm0 1zm0 6zm1 2zm0-7zm2 14zm1-5zm0 2zm0-7zm0 3zm0 12zm1-18zm1 16zm1-12zm0 14zm0 4zm0-16zm0 17zm0-12zm1 13zm2-13zm1-9zm1-2zm0 12zm1-4zm1 10zm0-6zm0 2zm0 19zm1-20zm0-12zm0 4zm1 8zm0-1zm0 0zm1 22zm1-1zm0-16zm0 3zm1-8zm0 17zm1-26zm0-4zm1 17zm1-12zm0-2zm0 5zm1-3zm2 10zm1-27zm1 44zm1-26zm0 22zm1-18zm0-5zm0-4zm1-3zm1 27zm2-13zm0 6zm1 6zm0-8zm1-7zm0 5zm2 25zm1-49zm1 20zm1 1zm0 21zm0-30zm1 10zm0-15zm1 27zm0 5zm0-8zm0-30zm1 36zm3-18zm0 2zm0 13zm1-26zm1 18zm1-5zm1-11zm1 6zm4-6zm0 12zm2 25zm2-3zm0-41zm0 26zm1 1zm0 1zm0 14zm1-12zm0-24zm0-2zm1 26zm1-19zm1 25zm0-15zm1 24zm0-13zm0-11zm1 6zm0-1zm0 0zm1-29zm1 41zm0 6zm2-37zm1 25zm0-11zm0-17zm0 16zm1 16zm0-11zm1-30zm0 27zm1-3zm1-16zm2 16zm0-2zm0-8zm0 7zm1 18zm0-18zm1-18zm0 39zm0 2zm3-29zm0 20zm0-3zm1 10zm0-26zm1 19zm0-10zm0 3zm1 21zm0-37zm0 24zm1 10zm0-50zm0 26zm0-16zm1 45zm0-47zm0 13zm1-1zm1-19zm0 17zm0 10zm2-11zm0 0zm1 1zm0-1zm1 6zm0 15zm0 5zm1-24zm0-7zm0 49zm0-46zm0 35zm0-36zm1 9zm1 5zm1 3zm0-17zm0 25zm1-24zm1-12zm0 12zm1 29zm1-4zm0-15zm1-14zm0 33zm0 22zm0-40zm1 25zm1-34zm1 1zm1 18zm2-4zm0 1zm1-23zm0-4zm1-16zm1 41zm0-22zm0-6zm0 20zm0 38zm1-44zm0 30zm3-39zm0-8zm1 4zm1 10zm2 46zm0-36zm1-5zm0 15zm1-22zm1 7zm0 28zm0-14zm1 15zm0 12zm1-34zm1-17zm0 53zm1-41zm2 14zm0 17zm1-17zm0 0zm0-23zm1 29zm0-34zm2 26zm0-16zm0 13zm0-26zm1 56zm2-34zm0-1zm1 12zm1-37zm0 22zm1 9zm0 2zm1 7zm1-20zm0 3zm0 48zm0-51zm0 38zm1-33zm0 18zm0-6zm1-15zm1-26zm0 25zm0-8zm1 5zm0 8zm1-22zm0 20zm0-17zm1 13zm0 23zm0-25zm0 34zm1-41zm0 33zm0-16zm0 6zm1 5zm2-25zm1 9zm0 6zm1 4zm0 5zm0-22zm0 26zm1 5zm1-12zm0-28zm0 11zm0 10zm1 16zm0-29zm0 8zm1-19zm1 25zm0-19zm1-18zm0 55zm1-34zm0 8zm0 5zm1 10zm0 3zm1-7zm1-10zm0 5zm1-4zm1 1zm0 34zm1-37zm0 28zm0-35zm1 40zm0-48zm0 27zm0-4zm0-12zm1-30zm0 80zm0-53zm1 13zm1 1zm2 7zm0-27zm1 10zm1 53zm0-46zm0 14zm1 12zm0-48zm1 8zm0 10zm1 15zm0-37zm1 39zm1 1zm0 5zm1-16zm0 15zm0-21zm1-33zm1 27zm2 8zm0 2zm0-3zm0 15zm1-23zm0 40zm0-23zm0-10zm1 0zm0 14zm0-26zm0 16zm0-4zm1 24zm0-21zm0 20zm0-13zm0-32zm1 45zm0-44zm1 49zm0-6zm0-11zm1-40zm0 58zm1-21zm0-1zm0 1zm0-7zm1 17zm0-16zm0-16zm1-6zm1-23zm0 69zm1 2zm0-17zm0 19zm0-19zm0-3zm1-15zm0 28zm1-1zm0-25zm0 20zm2-15zm0 30zm1-28zm0-7zm0 6zm0 7zm0 0zm0-2zm1-23zm0 22zm0 7zm0-2zm0-8zm1-17zm0 21zm0-8zm1 18zm0-35zm1 29zm0 14zm2 3zm0-46zm0 20zm1 6zm0-7zm0 11zm0 8zm0-31zm0 11zm1-4zm0-17zm0 20zm0 45zm0-14zm0-41zm1 31zm1-5zm1-3zm0-14zm0 9zm0-14zm0 27zm1 2zm0-54zm0 3zm0-8zm1 41zm0-20zm0 18zm1-23zm0 33zm1-16zm0 52zm0-43zm1 25zm0-28zm0-19zm0-5zm1 11zm0 23zm0 17zm0 1zm1-48zm0 10zm1 19zm1-26zm1 19zm0 6zm1-13zm2 25zm0-26zm0 29zm1-15zm0 15zm1-38zm0 42zm0-32zm1 26zm0-41zm1 57zm0-22zm0-16zm1 10zm1 7zm0 0zm0-12zm1-47zm0 66zm0-15zm0 0zm0 29zm0-32zm1 4zm0-21zm2 32zm0-33zm1 36zm0-1zm0-1zm1 30zm0-49zm1-1zm1 24zm0-44zm0 17zm1-20zm0 42zm1-18zm0 37zm0-41zm0 29zm0-5zm0-27zm0-30zm1-2zm1 63zm0-22zm1-36zm0-4zm0 55zm0 1zm1 0zm1-14zm0 3zm0-27zm0 35zm0-40zm1 15zm0 45zm0-27zm1 43zm1-71zm0 26zm0-30zm1 42zm0-58zm0 6zm1 53zm0-10zm0-14zm0 22zm0-2zm0-50zm1 6zm0 32zm1 2zm0 23zm0 4zm0-32zm0-12zm0-23zm0 59zm1-42zm0-3zm0 50zm1-30zm0 1zm0 6zm1-7zm0-31zm1 17zm0-3zm1 4zm0 18zm1-19zm0 46zm0-54zm0-12zm0 43zm0-39zm1-4zm1 34zm0-5zm0 16zm0 15zm0-4zm0-13zm0-17zm1-10zm0 40zm1-44zm0 27zm0 24zm0-26zm0-44zm1 70zm1-49zm0 49zm0-38zm2 5zm0-23zm2 19zm0-21zm0 22zm1 29zm0-16zm0 21zm1-6zm1-51zm0 45zm1-41zm1 46zm1-56zm0 4zm1 44zm0-1zm0 7zm1-2zm0-5zm1-24zm0 45zm0-54zm0 31zm0-3zm0-9zm0 38zm1-2zm1-50zm0 42zm1-7zm0-12zm0-24zm1 30zm0-45zm0 46zm0-23zm1 13zm0-13zm1-5zm0 11zm1-43zm0 17zm0 7zm0 20zm0 15zm0-9zm1-19zm0 29zm0-27zm0 34zm0-19zm0 3zm1 7zm0-21zm1 40zm0-56zm1-15zm0 63zm0 32zm1-70zm0 22zm1-12zm0-14zm0 23zm1 12zm0 15zm0-51zm0 12zm1-27zm0 1zm0 29zm0 9zm1 1zm0 2zm1 14zm0-26zm0 27zm0-26zm0-27zm2 10zm0-19zm0 25zm1-25zm0 38zm0 11zm0 17zm1-22zm1 17zm0-5zm0 10zm0-34zm0 5zm1-47zm0 41zm0-5zm1 21zm0-11zm0 12zm0-13zm1 2zm1-2zm1-6zm0 49zm1-29zm0-37zm0-20zm1 36zm0 38zm0-30zm1 34zm0 15zm0-15zm1-26zm1 9zm0-12zm1-1zm0 49zm1-27zm0-19zm1 18zm0-23zm0 32zm1-49zm0-6zm0 4zm0 7zm1 12zm0-1zm0 7zm1-49zm0 94zm1-6zm0-54zm0 12zm1 13zm0-8zm1 8zm0-9zm0-2zm0 6zm1 10zm1-12zm0-10zm1 28zm0-24zm1-30zm1 49zm0-17zm0 8zm1 23zm1-23zm1-7zm0 22zm0 18zm1-45zm0-13zm1 5zm1-16zm0 1zm0 1zm0 12zm0 48zm1-17zm0-32zm1 11zm0-34zm0 59zm1-32zm0-20zm0 27zm1 19zm0 22zm0-21zm0 22zm0-40zm1 13zm0-11zm0 3zm0-57zm0 91zm1 10zm0-77zm1 12zm0 23zm0 14zm0-26zm0 49zm0-38zm0-13zm1 25zm0-51zm0 32zm0-16zm0-1zm1 45zm1-6zm0 23zm0-26zm0 5zm1-27zm0 5zm0-7zm1 1zm0 5zm1 7zm0 12zm1 12zm0-27zm1-1zm0-17zm0 30zm0 9zm0-34zm0 58zm0-28zm1-25zm0 40zm0-27zm0-17zm0-7zm0 10zm1 15zm0-26zm0-7zm1 24zm0-6zm0-18zm1 64zm1-66zm0 46zm1-23zm0 47zm0-25zm1-28zm0 20zm0-11zm0-35zm1 57zm0-12zm0-17zm0 36zm0-70zm1 3zm0 83zm1-69zm0 9zm0 69zm1-100zm0 0zm0 61zm0-53zm0 20zm0 15zm1 27zm0-60zm0 69zm0-24zm0-31zm1 7zm0 1zm0 9zm1-16zm0 31zm0-25zm1 24zm1 29zm0-6zm1-48zm1 19zm0 6zm0-53zm1 75zm0-61zm2-7zm0-2zm0 68zm0-50zm1-2zm0 15zm0 9zm0 9zm1-4zm0 19zm1-70zm0 30zm1 30zm0-26zm0 19zm0-11zm1-5zm0-4zm0 24zm0 34zm0-32zm0-33zm1 24zm0-7zm0 28zm0-27zm0-29zm0 28zm1-20zm0 35zm1 2zm0-28zm0 37zm1-11zm0 7zm0-45zm0 63zm0-6zm0-39zm0 27zm1-11zm0-24zm0-22zm0 79zm1 5zm0-55zm1 5zm0-7zm0 30zm1 9zm0-68zm0 44zm0-39zm1 7zm0 0zm0 63zm0-79zm0 60zm0-9zm1-3zm0 31zm0-40zm0-9zm0 35zm2-38zm0 30zm0 16zm0-17zm0-15zm1 13zm0-10zm0-28zm0-21zm1 8zm0 35zm1-2zm1-33zm0 62zm0-50zm0 84zm0-70zm1 17zm0 10zm0-67zm0 63zm1-5zm0-10zm0 20zm0 3zm1-22zm0 14zm0-21zm1 33zm0-48zm0-18zm1 56zm0-47zm0 20zm1 46zm0-38zm0 9zm0 2zm1 35zm1-50zm0 10zm0 3zm0-4zm0 27zm0 15zm0-8zm1-76zm0 41zm0-10zm1 6zm0 12zm0-34zm0-2zm0 41zm0-13zm1 37zm0-56zm0 47zm1-25zm0-14zm0 50zm0-3zm0 10zm0-27zm1-20zm0-14zm0 19zm1-22zm0 21zm1-3zm0 24zm0-50zm1 30zm0 13zm0 43zm0-45zm1 4zm0 9zm0-19zm1-18zm0-31zm0 50zm0-18zm1-4zm0 59zm1-54zm0 39zm0 15zm0-36zm0-23zm1 43zm0-26zm0-7zm0 20zm0-38zm0 49zm1-2zm0-14zm2-42zm0 36zm1 3zm1 2zm0-5zm1 10zm0-14zm0 39zm1 1zm0-42zm0-20zm1 44zm0-70zm0 72zm1-50zm0 51zm0-9zm1-60zm0 51zm0 51zm1-73zm0 3zm0 22zm1 12zm0-18zm1 18zm0-27zm0-26zm1 40zm0-10zm0-14zm1-10zm1-5zm0 16zm0 16zm0-9zm1 0zm0 40zm0-57zm0-11zm1 47zm0 0zm2 5zm0-8zm1 10zm1-5zm0 29zm0-8zm0 8zm1-21zm0-2zm0-67zm1 88zm0-33zm0 21zm1-48zm0-9zm0 44zm0-43zm1 52zm1-23zm0-20zm0 6zm0 34zm1 6zm0-8zm0-12zm1 39zm1-37zm0 23zm0-18zm1-6zm0-15zm0 32zm1 0zm1-49zm0 22zm1 44zm0-45zm0-18zm1 38zm0-14zm0 38zm1-10zm0-24zm1-60zm0 22zm1 48zm0-7zm0-26zm0 39zm1-39zm0 23zm0-16zm0-7zm0-14zm0 30zm1 10zm0-20zm0 14zm0 1zm1 4zm0-34zm1 32zm0-53zm1 39zm0 6zm0-8zm1 18zm0-20zm0 4zm1-29zm0 69zm0-29zm0-20zm0 31zm1-17zm0-25zm0-13zm1 28zm0 40zm0-40zm0-8zm1 46zm0-49zm0 20zm1 9zm1-26zm0 13zm0 27zm1-10zm1-31zm0 26zm1-1zm0-44zm0 35zm1 3zm1-12zm0 17zm1-16zm0-6zm0 71zm0-40zm0-17zm0-11zm1-3zm0 32zm0 6zm1-60zm0 50zm0 24zm0-11zm1-18zm0 1zm0 8zm1 5zm0 0zm0-20zm1-4zm1-35zm0 20zm0-11zm0 29zm2 11zm0-16zm0 8zm1 6zm0-15zm0 24zm1-4zm0 12zm0-28zm0 6zm1-12zm0 6zm1-36zm0 30zm0-5zm1 31zm0-20zm0-21zm0 43zm1-19zm1-19zm0 10zm1 8zm0-13zm0 61zm1-38zm0 8zm1-14zm1 32zm0-85zm2 19zm0 35zm0-30zm1 55zm0-45zm0 47zm0 3zm0 21zm1-57zm0 21zm0 8zm1 14zm0-53zm0 24zm0 16zm1-15zm0-15zm1 33zm1 11zm0-63zm0 38zm1 5zm0-5zm0-24zm0 10zm0-19zm0 18zm0-21zm1 42zm0-44zm0 35zm1-19zm1-30zm0 17zm2 18zm1 9zm0 27zm0-8zm1 17zm0-9zm1-34zm1 11zm0 4zm0 35zm1-50zm0-10zm0 11zm0-21zm0 38zm1 13zm0-29zm0 6zm0-22zm0-1zm1 12zm0 30zm0-49zm1 70zm0-103zm1 58zm0 9zm0 5zm0-45zm0 0zm1 60zm0-22zm0 5zm1 7zm0 9zm0-44zm1-2zm0 52zm0-29zm0 33zm0-41zm0-9zm0 9zm1-43zm1 36zm0 52zm0-34zm1-21zm0-19zm1 53zm0 5zm1-14zm0-23zm0 42zm1-28zm0-5zm0 6zm0-12zm1-10zm0 26zm1 28zm0 14zm0-35zm0-23zm2 39zm0-42zm2 43zm0-53zm2 49zm0-50zm0 12zm0 38zm1-32zm0 45zm0-27zm0-25zm1 65zm0-67zm0 31zm0-5zm0-28zm1 18zm1-4zm0-6zm0 8zm1-24zm1 19zm0 39zm0-31zm1 9zm1 16zm0-6zm1-40zm0 39zm0-6zm1-27zm0-8zm1 32zm0-21zm1-4zm0 30zm1-1zm0-12zm1-17zm0-15zm2 14zm1 37zm0-15zm0-7zm1-3zm0 32zm1-52zm0-26zm0 14zm1 40zm1 26zm0-58zm0 15zm0 19zm0-1zm1-11zm0 19zm0-33zm1-22zm0 35zm1 24zm0-47zm0 14zm1 45zm0 0zm1-34zm0 44zm0-78zm0 7zm0 50zm0-7zm1-21zm0 0zm0 3zm0 0zm0-7zm1 31zm0-52zm1 82zm0-46zm0-17zm1 25zm0-9zm0-24zm1 23zm0-31zm1 47zm0-51zm1 52zm0-37zm0 12zm1 12zm1-8zm0-39zm0 67zm0-44zm1 14zm0-9zm1 20zm0-56zm0 25zm0 12zm0-16zm2 25zm0 1zm1 26zm0-60zm1 21zm1-13zm0 60zm0-20zm0-19zm0-10zm1 46zm0 6zm1-27zm0-7zm0 1zm0-8zm1-14zm0 62zm0-78zm0 40zm1-38zm1 66zm0-65zm0-19zm1 46zm0 19zm0-38zm0 41zm0-8zm0 2zm0-29zm1 37zm0-40zm1 9zm0-26zm0 2zm0 51zm0-24zm0 1zm1-8zm0-14zm0 66zm0-14zm1-21zm0 8zm0-9zm0-21zm0 45zm1-20zm0-9zm1 8zm0-28zm1 19zm0-9zm0-3zm1 7zm0-6zm0 36zm0-34zm1 25zm0 23zm0-25zm1-1zm1 36zm0-30zm1-8zm0-13zm0 5zm1-3zm0-4zm0 28zm0-8zm1-25zm1 42zm0-27zm0 3zm1 23zm0-39zm0-4zm0 18zm1-27zm0 60zm0-44zm0 2zm1-14zm0 15zm0 5zm0 25zm1-42zm0 15zm0 55zm1-77zm1 53zm0 12zm0-50zm1 31zm0-67zm0 33zm0 28zm0-5zm1-12zm0 11zm0-4zm0 5zm0-38zm1 20zm1 29zm1-20zm0-10zm0 23zm0 2zm0-5zm0-23zm1-1zm0-8zm1-3zm0 16zm1-9zm1 5zm0-4zm0-3zm1-8zm0 15zm1 28zm0 6zm0-41zm0 3zm1 20zm0-24zm0 21zm0-9zm0 43zm1-52zm0 5zm1 39zm1-20zm0-45zm1 46zm0-22zm0 30zm1-34zm0 16zm1 21zm0-19zm0-32zm0 50zm1-19zm0-8zm0 9zm0-13zm0 33zm0-59zm1-13zm0 88zm0-45zm0 16zm2-33zm0 12zm0 21zm0-8zm1 3zm0-34zm0 31zm1 4zm0 19zm0 20zm0-57zm0 10zm0 49zm1-33zm0-42zm0 12zm0 49zm1-19zm0-29zm1 7zm0 6zm1 9zm0-44zm1 13zm0 22zm0-11zm1 47zm0-45zm1 32zm0-41zm1 43zm1 22zm0-80zm1 16zm0 47zm2-48zm0-2zm0 27zm0 6zm1-18zm0 39zm0-38zm0 17zm0-1zm0 1zm2 10zm0-5zm2 19zm0-50zm0 33zm0-44zm1 43zm1-16zm0-21zm0-12zm1 16zm0 49zm0-15zm1-61zm0 46zm0-24zm0 0zm1 12zm0-11zm0 0zm1 50zm0-45zm0 50zm1-73zm0 43zm0 18zm0-6zm0-4zm0-7zm0-24zm0-21zm0 38zm1 18zm0-11zm0-18zm1 0zm0 26zm0 10zm0-17zm1-1zm1 15zm0-27zm2-14zm0 27zm0-1zm0-15zm0 9zm1 11zm0 8zm0-9zm1-25zm0 27zm0-1zm1-6zm0 13zm0-31zm1 7zm0-22zm0 27zm1 30zm0-1zm0-14zm1 18zm1-40zm0 22zm0 18zm0-43zm1 65zm1-11zm0-5zm1-52zm1 31zm2-6zm0 0zm0-40zm2 42zm1-5zm0 4zm0 5zm0-45zm1 49zm2-22zm0-8zm2-2zm1 15zm0 17zm0-22zm0-7zm0 13zm0-21zm1-5zm0 29zm1-18zm0 18zm1 30zm1-46zm0-24zm1 22zm0 5zm0-4zm1 14zm0-21zm0 10zm0 46zm0-41zm1 28zm1-35zm0 30zm0-13zm1 17zm0-35zm0 7zm1-6zm1 27zm1-42zm1 11zm0 38zm0-52zm1 39zm0 2zm0 14zm1-16zm0-9zm0 16zm1-20zm1 1zm0 9zm2-13zm1 50zm0-50zm0 3zm1 21zm0-22zm1 18zm0-9zm0-19zm0 23zm1-31zm0 55zm0-39zm0 5zm1 9zm1-9zm0-22zm0 16zm1 48zm1-42zm1 6zm0-20zm1 47zm0-22zm1-14zm0 1zm1 4zm1 39zm0-55zm1 34zm1-21zm1-1zm0-8zm0 15zm0-16zm1 21zm0-34zm1 14zm0 18zm1 8zm0 19zm1-18zm0 5zm1-43zm1 42zm0-27zm1 21zm2-26zm0 8zm0 20zm2-20zm0 17zm1-3zm1-24zm0-15zm0 21zm1 26zm0 0zm1-35zm0 7zm0 38zm1-34zm0 43zm0-31zm0-35zm1 47zm0-28zm0 36zm2-31zm0-11zm1 16zm0 10zm0 6zm0-13zm2-1zm0 0zm0 5zm0 1zm2 5zm0-41zm1 14zm0 9zm1-17zm0 22zm1 0zm1 6zm0 7zm0 3zm0-9zm1-6zm0 6zm1 19zm0-38zm1 16zm0-5zm1-19zm0 58zm1-20zm1 0zm2-15zm2-8zm1 30zm0-17zm0 10zm1-7zm1 1zm0-26zm1-6zm1 23zm0 10zm0 1zm0-5zm1-9zm1-15zm0 16zm1 28zm2-18zm0-6zm0-11zm2 0zm0 0zm0 6zm0 22zm1 6zm1-8zm1-30zm1 24zm0-16zm1 14zm2 25zm0-24zm0-29zm0-4zm1 39zm1-9zm2-20zm0 20zm1-5zm0-11zm0-18zm1 32zm0-24zm0 15zm2-12zm0 31zm1-8zm0-13zm1 5zm0-20zm1 20zm0-12zm1 6zm1 19zm0-24zm1 19zm1 11zm0-17zm0 23zm1-24zm1 9zm0-11zm1 7zm0-12zm0-6zm2 7zm0 12zm0-18zm0 12zm1-14zm0 16zm0-12zm0 10zm1 15zm0-9zm0-19zm1 29zm0-30zm1 40zm1-24zm1 15zm1-10zm0-5zm1-5zm2-14zm0-7zm0 15zm0 26zm0-15zm0-15zm1 14zm0 9zm0-13zm1 6zm2-23zm0 33zm0-6zm0-20zm0 15zm0-8zm0-16zm2 28zm0-7zm0-1zm0-11zm1 4zm0 20zm0-11zm2-4zm1 1zm0 2zm2 4zm0 6zm0-1zm0-20zm2 16zm0-11zm1-7zm0 21zm1-3zm0-4zm2-6zm0 8zm0-23zm1 27zm2-4zm0 10zm0-19zm0 23zm0-38zm2 20zm0 7zm0-4zm0-1zm1-15zm0 26zm0-16zm1 2zm1 17zm0-22zm1 4zm1 9zm0-18zm0 8zm2 3zm2 18zm1-11zm0 15zm2-44zm0 11zm0 19zm1-9zm0 3zm0 0zm0-21zm0 15zm1 13zm1-14zm0 10zm1-19zm0 15zm0 8zm1-4zm3-20zm1 10zm0 17zm0-3zm1-13zm0-9zm1 13zm0 8zm0-11zm1 8zm3-5zm1-7zm0 2zm1 19zm0-1zm2-14zm2 12zm2-12zm0-12zm0 15zm1 5zm0-12zm1 3zm0-9zm1 6zm0 1zm0 5zm2-4zm0-5zm0 19zm1-6zm0-7zm0 3zm2-1zm0 12zm2-17zm0 7zm0-1zm1-2zm2-6zm1 5zm0 12zm0-20zm2 8zm0 8zm0-9zm1 10zm0-11zm0 6zm2-1zm0 0zm1 3zm0-4zm1-1zm0 5zm0-3zm1 8zm1-6zm1-2zm0-6zm1 5zm1 1zm0 4zm1-1zm1-12zm0 13zm0-6zm0 4zm0-2zm0 1zm1-2zm0 2zm0-2zm1 2zm0 1zm1-4zm0 1zm0-5zm1 5zm2 4zm0-4zm0-2zm2 0zm1 3zm0-3zm0 3zm1-3zm0 3zm1 1zm0-1zm1-3zm1 2zm1 0zm1 0zm0 0zm0 0zm0 0zm0 0zm0 0zm0 0zm0 0zm0 0zm0 0zm0 0zm0 0zm0 0zm0 0zm0 0zm0 0zm0 0z"/>
<path stroke="#f08060" stroke-width="16" stroke-opacity=".80" d="M853 1727zm2 45zm30-8zm12 34zm40 4zm77 83z"/>
<path stroke="#f08060" stroke-width="16" stroke-opacity=".80" d="M1978 1772zm31 5zm44 55z"/>
<path stroke="#f9a61c" stroke-width="23" d="M3459 1878zm5 97zm11 19zm14-129zm4 60zm4-83zm7 45zm2 102zm10-110zm4 0zm2 44zm0-40zm5 19zm10 5zm7-97zm0-13zm6 8zm11 49zm4-150zm6-17zm11 291zm7-89zm23-115zm6 42zm2 28zm3 127zm2-36zm1-68zm4 20zm2-124zm0-52zm5-115zm3 323zm1-103zm4 80zm1 23zm4-28zm4-201zm5 307zm6-47zm2-14zm1-378zm6 395zm5-321zm4 15zm6 281zm2-236zm5-81zm1 191zm5 38zm5 46zm2-267zm4 194zm1 85zm0-143zm3 204zm2-11zm0-22zm1-240zm2-89zm2 338zm4-2zm1-169zm3 262zm1-372zm0-6zm4 206zm1-7zm0-289zm1 292zm6 76zm1-135zm1-17zm0-85zm4 323zm7-124zm2-214zm10 303zm0-42zm7-35zm1-217zm1 118zm4-35zm4 193zm3-72zm3-281zm7 110zm3 35zm4 169zm10-151zm1 159zm2 4zm1-145zm2-95zm0 124zm0 88zm3-196zm0 238zm0 37zm6-177zm8-50zm1-133zm0 346zm5-211zm3 227zm6-105zm0-174zm8-125zm1 25zm0 108zm2-77zm2 317zm5-210zm4 134zm8-293zm0 447zm5-203zm6 168zm15-152zm0 78zm3-1zm7-316zm7 225zm8-21zm4-115zm8 198zm3-61zm3-93zm4 214zm1 39zm1-272zm2-83zm12 271zm2 19zm2-317zm0 217zm0 152zm0-7zm6-52zm2 59zm6-369zm1 250zm1 78zm2 61zm1-156zm1-190zm1 172zm20-32zm2-181zm3 53zm3 221zm2-185zm3 253zm2-243zm2-103zm3 175zm0 63zm0-88zm3-54zm2-14zm2 131zm0-18zm11-59zm5 143zm1-27zm9-229zm4 373zm3-212zm5-17zm9-112zm9 265zm4-294zm0 328zm12-123zm2 112zm0-23zm0 50zm1-236zm2-44zm2-44zm4 224zm1-170zm4-85zm2 363zm1-127zm10 12zm12-112zm9 106zm1-35zm0-201zm0 112zm3 92zm2 165zm2-379zm2 114zm5 35zm0 201zm11-232zm2 58zm3-197zm0 123zm3 285zm1-294zm2 264zm1-361zm2 275zm2-293zm8 46zm7 134zm7 20zm1-140zm3-20zm9 28zm6 33zm1-94zm1 13zm1 101zm1-66zm2 180zm5 79zm2-223zm0 93zm6 8zm1-56zm3 119zm12-61zm3-198zm5 178zm1 136zm13-341zm2 229zm2-52zm0 141zm4-57zm8-186zm1 118zm2 220zm2-225zm7 252zm1-193zm1 9zm7 65zm1 94zm3-107zm3-197zm1 136zm1 30zm2 143zm3-232zm4-102zm1 140zm0 17zm8-165zm1 105zm3 54zm7-64zm5 81zm5-169zm3 217zm3-43zm3-72zm0 40zm2 162zm3 2zm9-326zm3-15zm4 217zm1-7zm5-116zm2 222zm0-23zm2-75zm0-58zm6 34zm1 144zm0-277zm2 345zm5 0zm1-184zm2-86zm6 194zm5-240zm2 21zm1 74zm8 204zm5-161zm0-136zm2 19zm2-40zm2 127zm5-13zm1-123zm5 283zm1 16zm3-95zm2 113zm0-118zm1 144zm11-330zm1 114zm5 62zm1 36zm1-32zm4-165zm0 252zm3-284zm3 194zm3-274zm2 400zm4-253zm2 56zm2-17zm5-68zm4 26zm5-117zm15 7zm7 19zm1 57zm6-32zm6 79zm8 286zm6-365zm1 226zm6 22zm11-24zm4 8zm2-215zm1 20zm1-131zm0 357zm3 6zm3-193zm0-14zm0 121zm0 95zm7-113zm1-4zm9 102zm1-314zm4 272zm0-61zm2-170zm1 89zm0 153zm5-32zm0-53zm1 161zm7-29zm3-36zm0-238zm3 27zm2 232zm0-6zm2-257zm3 67zm2-1zm1-149zm2 421zm4-80zm1-19zm0 62zm9-57zm3-86zm0-219zm3-9zm10 305zm2-50zm7 157zm2-180zm1 58zm6-237zm9 232zm1-311zm5 217zm0 203zm2-187zm2-13zm12 260zm6-405zm2-75zm5 455zm0-318zm6 170zm3 13zm7-159zm3 14zm10 132zm5-110zm0 20zm3 155zm3-362zm5 442zm0-328zm1-19zm3 124zm0-178zm1 133zm3 118zm2 189zm3-453zm3 21zm8 250zm1-71zm5-199zm12 195zm4 170zm4-151zm0-67zm10 264zm5-348zm3 171zm2-167zm8 278zm0-359zm0 55zm3 115zm2 11zm1 162zm3-37zm2-244zm8 145zm1-26zm1-151zm2 232zm3-118zm1 70zm0-152zm3 134zm0 151zm3 48zm6-77zm9-136zm3-25zm1-193zm2 53zm0 218zm2-95zm0-88zm3 3zm0-16zm1 290zm4 36zm0-34zm0 86zm2-230zm22-208zm4 62zm3 135zm1 179zm1-22zm6-118zm1 55zm2 68zm0-156zm1 24zm4 201zm0-214zm5-31zm1 62zm10-124zm5-33zm4 344zm9-94zm0-287zm1 136zm2 132zm5-192zm5 176zm5 128zm3-117zm2-78zm3-126zm6 136zm2 203zm1-309zm2-95zm1 93zm1-1zm3 247zm3-199zm7 233zm1-405zm7 87zm6 288zm4 85zm3-317zm1-62zm11 115zm2 163zm1-198zm15 48zm6 109zm5 80zm3-92zm5 52zm3-147zm4-174zm4 91zm1 171zm2 48zm11-292zm2 104zm3-48zm6 156zm5 83zm5-190zm9 29zm5 94zm23-308zm10 277zm7-219zm7 120zm2 72zm23-97zm0 64zm6-134zm9 58zm8-120zm4 41zm17 54z"/>
<path stroke="#f9a61c" stroke-width="23" d="M3614 1582zm10 1zm7-1zm2-19zm32 20zm49-6zm6 14zm2-14zm19 16zm1-2zm29-7zm7-2zm57 4zm1-13zm26 22zm29-20zm26-6zm12 19zm18-13zm36 14zm8 11zm14-22zm2 5zm6 4zm12 10zm6-5zm12-12zm5 1zm9-6zm74 11zm35-11zm8 17zm2-4zm60 11zm24-5zm18 13zm14-6zm4-4zm30 4zm0-7zm11-5zm32 3zm33 9zm12-13zm13-4zm9 2zm23 5zm37-5zm3 24zm16-15zm3-5zm3 8zm34 7zm21-6zm7 15zm45-18zm15 12zm13-4zm24 10zm35-2zm1-11zm6 9zm45 1zm43-4zm3-12zm7 2zm59 15zm11 8zm22-14zm36 15zm2 4zm6-10zm14-7zm9 13zm28-7zm2-4zm42 18zm20-5zm4 8zm18-29zm4 6zm21 17zm43-5zm12 8zm22-18zm1 14zm14-2zm73-8zm20 3zm82-5z"/>
<path stroke="#f9a61c" stroke-width="23" d="M3566 1673zm18-20zm0 19zm5-6zm9-30zm8-2zm2-14zm2 45zm3-17zm6 14zm3-19zm5 10zm4-2zm2 22zm1-16zm19-12zm36 4zm2 3zm1 6zm1-29zm2 14zm8-15zm1 19zm4-20zm10 10zm6 33zm4-17zm10 12zm12-9zm7 23zm13-42zm2 24zm18 17zm0-54zm17 27zm5-25zm19 54zm3-46zm28 26zm2-4zm9-35zm0 59zm9-23zm5-24zm1 0zm1 7zm6 22zm12-1zm5 11zm4 0zm2-41zm1-3zm0 15zm7 34zm10 5zm8-30zm6 30zm12-9zm2-37zm11-4zm9 53zm5-47zm2 27zm2-39zm9-2zm13 49zm4-11zm13 12zm35 9zm15-6zm8-8zm4-37zm14 26zm13 30zm5-40zm26-13zm5 27zm12-2zm4-20zm0 43zm12-4zm3-4zm4-2zm1-2zm0 14zm1-42zm7 24zm32 15zm6-3zm2 0zm3-30zm14 22zm0 0zm7 9zm0-47zm6 44zm12-9zm1-21zm1-2zm9 27zm7-23zm6 14zm1-6zm15 23zm5-37zm28-6zm9 24zm6-23zm10 2zm10 9zm13 28zm15-4zm4 14zm2-44zm16 53zm28-21zm8-35zm2 26zm6 7zm8-33zm1 1zm0 58zm11-48zm3 18zm18-18zm9 21zm5 10zm4-31zm3 38zm0-48zm7 13zm7 35zm40-11zm2 21zm29-30zm8-18zm3 24zm5-19zm2 0zm1 20zm7-24zm4 11zm3-14zm14 24zm19-17zm9 8zm22 11zm12 18zm5 5zm1-53zm5 49zm14 6zm2-28zm9-25zm7 55zm6-49zm11 29zm7 0zm3 17zm1-45zm16 44zm11-2zm16 10zm10-28zm9-3zm8 17zm4 9zm5-28zm6-5zm1 34zm21-17zm0-12zm3 21zm25-23zm5-13zm9-4zm3 6zm1-9zm16 19zm38 21zm5-28zm1 36zm10-46zm7 61zm2-55zm1 43zm3 3zm0 6zm17-48zm20 24zm10 19zm11-45zm14 33zm3-28zm47 25zm27 0zm6-29zm1 35zm0 21zm2-19zm8-25zm10 3zm21 13zm11-14zm23-13zm24 20zm1 38zm7-5zm1-42zm24 15z"/>
<path stroke="#f9a61c" stroke-width="23" d="M3511 1797zm0 24zm8-31zm2-23zm5 21zm10-20zm4-24zm8 24zm6-14zm10 44zm8-2zm1 24zm7-69zm1-11zm5 79zm6-24zm0-26zm6-15zm4 45zm1-22zm6 40zm8 5zm2-36zm2-22zm6 15zm1 33zm0-14zm3-31zm8-21zm3 8zm3 59zm2-41zm14-13zm0 55zm11-29zm3 0zm0-29zm0-5zm5 69zm13-24zm9-41zm5 48zm1-17zm7-21zm4 10zm4 16zm17 40zm6-83zm1 37zm12-13zm7-4zm0 49zm25-21zm9 21zm15-48zm8 43zm2 8zm6-10zm11 17zm4-31zm18-35zm6 13zm6 17zm9-33zm11 63zm3-31zm18-12zm3 10zm9-5zm2 20zm8 16zm6-30zm4 11zm2 21zm3 3zm2-10zm8 3zm6-52zm3-5zm0 43zm12-39zm4-9zm3 24zm17 27zm5 32zm0-9zm3-70zm3 54zm4-31zm0 15zm12 8zm2 23zm1 6zm4-30zm1-37zm22 28zm5-24zm1 52zm3-42zm2-7zm1 63zm2-15zm6-59zm2 38zm0 20zm0 10zm11 8zm6-28zm4-43zm7 49zm6-36zm4 1zm7-17zm12 71zm1-40zm3 10zm22 30zm12-80zm7 63zm3-9zm1 15zm2-63zm22 65zm0-26zm37-25zm9 67zm6-31zm4 18zm0-9zm8-9zm1 27zm10-57zm2 39zm5 3zm13-65zm2 61zm3 13zm5-34zm3 40zm6-62zm2 38zm13-46zm2 44zm4 8zm9 1zm5-43zm5-10zm6 58zm8-37zm1 6zm1-4zm3 18zm5-1zm8-9zm4-7zm12 52zm0-54zm3 6zm3-14zm3 41zm0 25zm1-75zm3 51zm5-43zm17 65zm2-71zm13 16zm9 14zm0 7zm1-47zm1 33zm8 15zm14-29zm4 61zm3-27zm7 7zm5 25zm4-15zm10-65zm1 26zm8-28zm1 7zm2 5zm8 1zm1 54zm3-36zm17-21zm6 72zm16-70zm6 18zm0 30zm2-58zm4 21zm1-25zm6 81zm6-37zm8 3zm17 25zm8-34zm1 30zm11-61zm7 15zm2-1zm6 66zm1-42zm5-1zm16 27zm11 2zm14-2zm16-67zm3 77zm15 1zm2-40zm14-10zm7-4zm2 57zm8-76zm6 33zm8 49zm3-78zm0 29zm16-5zm4-2zm9-18zm8 6zm3 55zm5-2zm10-28zm2 39zm4 1zm3-66zm6 31zm1 25zm8-6zm3-42zm2 58zm11-48zm6 42zm12-57zm3 63zm5-24zm3 16zm6-61zm0 11zm1-6zm6 49zm2-35zm1 42zm8-7zm3-41zm20 44zm1-44zm0 5zm4 57zm7-50zm7-25zm9 64zm3-51zm2 4zm1 46zm5-49zm6 21zm2-19zm3 18zm6-9zm3-15zm6 63zm17-52zm3-3zm8 13zm2 27zm7-39zm2-23zm1 29zm6 54zm19-56zm1 51zm2-15zm7-25zm1-16zm2 4zm27 0zm6-3zm17-17zm3 59zm30 11zm8-74zm1 16zm21 72zm5-32zm12 10zm0 10zm1-50zm4-1zm3-6zm2 50zm8-57zm0-7zm21 9zm6-12z"/>
<path stroke="#f9a61c" stroke-width="23" d="M3421 1966zm6 34zm1-54zm8 18zm7 16zm0 7zm20-37zm3-7zm8 50zm9-91zm0 95zm6-84zm0 61zm3-76zm2 95zm1-49zm5 55zm1-71zm4 42zm4-77zm4 33zm1-7zm2 74zm2-10zm8-94zm5 28zm5 26zm5 7zm7 8zm1 37zm1-83zm2 70zm0-61zm5 76zm6-22zm9-53zm3 60zm11-13zm0-35zm2 32zm2-21zm7 45zm3-4zm3-50zm0 12zm0-55zm0 95zm1-27zm3-23zm4-18zm9-27zm3 55zm1-41zm1 98zm1-89zm2 17zm1 23zm1-18zm2 59zm1-56zm1 13zm4 45zm2 1zm3-30zm3-62zm10 70zm11-83zm1 15zm1-13zm6 11zm1 94zm10-2zm1-33zm1-24zm9-43zm3 93zm0-68zm2 56zm6-43zm3 0zm1 31zm5 36zm2-112zm7 108zm0-50zm4-4zm1 5zm4 39zm4-6zm9-19zm15 1zm3-18zm0 2zm5 54zm7-4zm6-61zm1-37zm3 29zm1 17zm1-36zm4 22zm1 61zm0-31zm23-17zm3 22zm1 19zm1-74zm3-12zm0 69zm6-67zm3 16zm13 53zm1-55zm5 57zm14-32zm1 11zm6-48zm3 33zm6 1zm3 41zm6-78zm0 57zm1 30zm1-56zm1 69zm8-70zm1 23zm2 54zm1-102zm6 60zm4 27zm1-42zm3-42zm2 79zm0-25zm0 23zm5-62zm0 26zm1 0zm0 6zm2-22zm0 6zm0 30zm6-70zm1 21zm10 14zm2-14zm18 24zm3 43zm7 0zm1-84zm0-5zm0 41zm1-11zm2 72zm8-64zm11 60zm14-14zm2-37zm4 16zm5 50zm2-111zm1 99zm1-11zm10-55zm8-20zm4 83zm8 10zm6-51zm7-40zm14 8zm2 9zm0-6zm0 25zm4-50zm1 24zm2 32zm1-40zm3 15zm16 30zm1-28zm1 33zm2 37zm16-91zm0 57zm15-22zm4 66zm5-33zm5 35zm1-63zm0 5zm1 8zm0 48zm5-50zm12-11zm1 58zm2 6zm1-39zm4 39zm0-69zm6 29zm2-59zm2 66zm4-71zm19 53zm0 29zm1-9zm5-19zm0 15zm17 0zm21-2zm4 18zm1-90zm10 107zm4-65zm5-8zm9-33zm4-3zm5 12zm4 35zm3-43zm2 48zm0 58zm3-39zm5 22zm6-18zm0-67zm1 23zm5 63zm2-66zm2 9zm3 33zm0-56zm13 56zm6 9zm3-31zm0 57zm0 12zm1-87zm5 82zm4-48zm2 9zm0-63zm1 14zm3 63zm3-81zm3 36zm4-11zm1 65zm3-75zm0 7zm2 53zm6 11zm5-46zm4 67zm4-3zm2-32zm3-14zm6 7zm21-44zm1 73zm1-75zm3 77zm10-53zm3 46zm3-6zm4 23zm3-56zm6 51zm0 9zm9-51zm12-27zm0-7zm6 51zm2-7zm2 43zm6-67zm3-37zm1-5zm19 100zm3-36zm1-65zm2 28zm7 18zm7 45zm0-44zm3 8zm5 57zm1-34zm0 19zm1-49zm1-15zm11 80zm3-21zm1 19zm1-11zm2-27zm3-9zm1-33zm4 2zm15-7zm5 56zm7-79zm1 36zm6 69zm5-39zm9 26zm0-53zm3-19zm0 29zm1 52zm6-6zm0-31zm2 36zm10-52zm5 61zm2-85zm3 66zm7 20zm3-84zm4 77zm14-60zm0-20zm4 47zm4-46zm3 1zm1 14zm9-32zm17-1zm4 109zm4-43zm0-53zm14 69zm12-72zm0 53zm3-29zm1 16zm2-44zm1 22zm3 29zm2-2zm1-55zm3 88zm10-71zm16-6zm2 89zm12-92zm3 16zm2 87zm4-25zm3-55zm9-11zm8 59zm0 32zm1-63zm4-7zm1-30zm15 5zm6 24zm3 74zm0-62zm17 2zm3 13zm2 28zm2-81zm1 99zm0-62zm3-10zm3 11zm1 15zm8 22zm4 13zm4-29zm6-26zm4 58zm6-3zm4-67zm0-1zm5 43zm3-8zm6 21zm1 19zm9-31zm3-74zm5 84zm10 5zm5-8zm2-77zm4 38zm1 16zm7-44zm0 23zm3 72zm1-40zm7 26zm5-57zm9 31zm20-50zm0 58zm2 2zm6 9zm2 12zm0-89zm5 17zm3 74zm3-100zm16 100zm4-19zm9-67zm3-4zm10-9zm14 17zm0 15zm5 15zm6 25zm13-2zm10 28zm11-86zm4 32zm22-25z"/>
<path stroke="#f9a61c" stroke-width="23" d="M3427 1956zm3 41zm1-30zm1-2zm6-27zm0 10zm2 44zm3-13zm6-57zm2 30zm4-57zm0 41zm2-42zm1-6zm0 31zm1 31zm1 36zm3-82zm7 20zm6-36zm1 82zm1-1zm1-71zm5-53zm4 153zm3-99zm3 94zm0-140zm1 35zm3 26zm4-81zm0 23zm1-7zm2 36zm3-58zm1 120zm1 15zm1-93zm1 53zm9 22zm0-84zm0 66zm3-147zm4 94zm3-67zm1 64zm2 18zm4 2zm0-104zm2 113zm1-170zm0 157zm0-86zm4 110zm0-144zm1 49zm1-96zm0 106zm1 6zm1 57zm3-47zm1-90zm1 99zm3-154zm2 133zm2-86zm2-57zm0 22zm5 146zm4-161zm3 162zm1-162zm3 37zm1-75zm0 107zm5-19zm1-101zm0 194zm1-160zm3-38zm0 97zm1 0zm4-8zm1 10zm0-116zm1 25zm1 134zm1-74zm1-28zm0 121zm1-189zm4 129zm1-47zm4-56zm0 13zm1-12zm1 90zm0 62zm2-130zm0 30zm1-13zm1 67zm2-109zm0 94zm1 18zm1-52zm1 41zm0-125zm1-26zm1 143zm1-109zm0 91zm1-41zm0-24zm0 64zm1 6zm3-138zm0-15zm0 119zm0-105zm1 41zm0 110zm0-144zm2 140zm0-96zm6 94zm2-68zm0 63zm4-136zm4 56zm1 9zm1-60zm1 76zm3-14zm1 23zm3 26zm2-12zm8-33zm2-68zm2 17zm1-19zm1 35zm7 18zm2-12zm3-11zm7-17zm0-19zm1 26zm12 3zm5-7z"/>
<path stroke="#5a2d91" stroke-width="20" d="M3950 1920zm291-129zm4 18zm45 44zm141-13zm194 69zm20-160zm103 201zm60-303zm20 276zm34 71zm110-211z"/>
<path stroke="#9cc4e0" stroke-width="21" stroke-opacity=".90" d="M3521 1895zm191-157zm325 253zm22-77zm328-227zm81 226zm228-178zm3-55zm81 24zm6-40zm200 298zm63-165zm50-178zm22 97z"/>
<path stroke="#8dc63f" stroke-width="19" d="M3672 1875zm65 103zm100-6zm1000-122zm37-196zm19 369zm191-313zm2-53z"/>
<path stroke="#f4c26c" stroke-width="20" stroke-opacity=".90" d="M3428 917zm4-74zm7-51zm2-92zm1 112zm5 137zm1-273zm4 139zm3-110zm0-30zm15 165zm1 95zm15-31zm8-257zm3 195zm3-128zm6 211zm0-332zm10 330zm0-123zm1-107zm4-138zm3 29zm4 383zm4-259zm1 76zm4-22zm1 135zm1-256zm2 225zm1 100zm3-431zm3 167zm4 259zm2-486zm2 458zm0 47zm1-459zm3 75zm0 276zm2-31zm3 49zm2-347zm10 96zm1 81zm7-235zm8 34zm1 278zm9-217zm0-124zm0 304zm5-101zm2 221zm6-453zm2 467zm2-45zm7 62zm2-41zm0-3zm2-138zm1 80zm2 145zm4-35zm4-209zm2 38zm1-93zm0 0zm3 293zm2-41zm1-405zm4 101zm3 100zm0-92zm2 38zm0-187zm2 352zm3-278zm3 367zm0-88zm2 131zm3-48zm2-333zm13 373zm1-343zm4 384zm3-55zm2-289zm0-168zm7 326zm1 6zm1 74zm1-117zm11 58zm2 25zm9-362zm4 413zm3-61zm6-191zm0 104zm14-225zm2 426zm0 25zm4-23zm1-475zm0 418zm1-111zm0 188zm5-371zm0 272zm17-60zm0-164zm1 156zm0-175zm1 226zm8-449zm5 355zm5-361zm0 149zm12 154zm0 210zm3-12zm11-98zm3 104zm2-376zm9 151zm8-110zm3 105zm1 195zm0-104zm8-79zm0 264zm1-502zm2 26zm2 466zm0 18zm1-422zm7 261zm0 108zm5-48zm6-8zm0 120zm3-376zm1 256zm3-120zm6-20zm3 230zm1-10zm5-106zm1-236zm11 20zm3 326zm3 0zm1-1zm5-184zm4-170zm2 82zm0 220zm1-52zm1-239zm8 199zm2 53zm0-33zm3 153zm3-225zm1-63zm0-46zm2 300zm1-123zm2 74zm1 8zm2-202zm1 241zm2-118zm3-317zm2 385zm3-31zm1-378zm9 192zm1-95zm4 419zm1-366zm7 106zm3 248zm2-369zm5 21zm1-158zm4 68zm6 361zm1-155zm2 40zm2-14zm2 51zm3 130zm4-267zm1-12zm3 209zm0 40zm7 35zm0-511zm2 294zm0 9zm2-248zm1 26zm2 343zm2-219zm3 176zm3 122zm1-93zm2 93zm3-446zm4 119zm5 95zm5 135zm1 74zm4 62zm1-139zm6-326zm1 433zm2-582zm1 322zm8-286zm0 349zm1 42zm2-210zm9 324zm5-60zm3-277zm2-27zm1 169zm7-55zm8 10zm3 85zm3-40zm0 215zm6-227zm3 214zm1-82zm4-192zm1 138zm8 15zm1 75zm1-365zm1-7zm2 296zm1-129zm0 45zm10 215zm3-522zm8 443zm13 15zm1-36zm0-356zm4 216zm2-203zm1 378zm2-35zm4-327zm2 280zm8-75zm3 232zm0-72zm1-290zm6-100zm7 348zm0 138zm13-398zm7-43zm1-103zm1 203zm1 131zm1-361zm8 517zm1-153zm1 26zm2-234zm3 224zm1-216zm9 368zm1-136zm1 65zm6-206zm1 10zm3 331zm3-178zm0-81zm2-60zm19 205zm6 90zm5-183zm1-24zm4 221zm3-240zm2 143zm0-111zm8-376zm1 262zm3-17zm1 116zm2 84zm7-79zm4-5zm3-40zm7 36zm1 29zm2-344zm1 443zm1 53zm1-150zm7 113zm3-273zm3 134zm7-182zm4 385zm3-236zm1-96zm0 116zm2 200zm2-271zm6-306zm2 315zm3 81zm1-400zm4 546zm1-137zm6-300zm3 515zm2-90zm2-488zm0 133zm2 273zm1 134zm2-549zm1 481zm2-50zm3-20zm1-314zm5 125zm1 18zm2-18zm7 268zm0-111zm8-11zm6-35zm0 137zm4-217zm2 321zm1-71zm2-120zm3 68zm1 70zm4-299zm7-237zm2 363zm1 44zm3-131zm2 306zm1-540zm2 312zm0-28zm7-70zm5 3zm1 14zm1 263zm5-62zm1-14zm3-210zm0 142zm4-369zm1 320zm3-60zm3 114zm0-72zm10 221zm2-208zm0 117zm3 69zm3 2zm2 75zm1-417zm1 381zm1 18zm2-396zm3-75zm5-136zm1 616zm0-16zm2-269zm1 108zm8-22zm1-187zm2 264zm6-230zm4 246zm1 96zm3-499zm1-34zm3 280zm5 125zm2-154zm0 230zm4-104zm5-67zm6-85zm2 299zm2 12zm1-451zm1-59zm3 517zm7-47zm7 20zm1-527zm0 503zm0-398zm2 181zm1 89zm1 149zm0-29zm9-504zm2 104zm5 363zm5-391zm1 85zm5 293zm2-23zm0-188zm0 45zm3 154zm6-170zm1 167zm2-50zm4-229zm0 224zm15 57zm0-59zm2-181zm0 52zm0 68zm7-97zm2 338zm0-579zm1 325zm3-41zm1 147zm2-220zm7 51zm0-271zm5 557zm0-23zm5-318zm11 190zm2 195zm0-229zm4-379zm2 542zm1-63zm4-303zm6 430zm0-8zm13-311zm2 258zm0-497zm1 237zm1-185zm1 476zm1-187zm3 213zm1-286zm4-39zm3 276zm1-202zm15-257zm1-101zm1 459zm0 114zm0-135zm3-15zm11-95zm6 53zm7 105zm2 41zm1-137zm3-91zm1-204zm2 136zm7-42zm2-16zm5 285zm3-249zm5 284zm1 34zm7-75zm2-271zm4 334zm1-61zm0-190zm2 102zm7-364zm4 120zm12 148zm1 285zm0-210zm4 211zm15-184zm0-342zm4 429zm2 71zm13 48zm5-139zm6 100zm2-392zm9 244zm2-198zm5 387zm0-475zm0-46zm2 121zm0 392zm1-17zm1-115zm1-203zm4 321zm2-222zm3-270zm3 82zm1 440zm2-140zm8 26zm2-194zm2 155zm0 35zm1-360zm1 323zm0 160zm2-542zm1 500zm3-26zm3-448zm5 432zm5-173zm7 172zm4-289zm4 299zm2-42zm2 20zm0 52zm0-392zm7 172zm3 215zm1-237zm2-151zm0 287zm1-361zm1 497zm2-366zm1-126zm3 319zm6-5zm1-306zm1 422zm2-52zm1 5zm2-191zm1-11zm1-55zm1 298zm1 85zm2 0zm5 17zm1-193zm4-30zm7-46zm8 21zm2-218zm1 373zm5-30zm1-176zm9 10zm2 30zm4 248zm2-211zm4-244zm7 329zm5-116zm0-196zm2 32zm0 395zm4-60zm5 16zm2-397zm0 204zm7-93zm1 115zm4 165zm1 54zm2-551zm3 467zm1-5zm3-216zm3 248zm2-224zm0-247zm3 514zm1-505zm2 189zm8-170zm1 417zm4 87zm5-63zm5-176zm10 93zm2 9zm2 84zm5-352zm3 88zm1 111zm1 68zm0-155zm3-195zm5 358zm5 142zm3-254zm9-133zm2 253zm4-201zm5-177zm1 440zm8 47zm0-119zm3 129zm8-134zm5-286zm5 402zm1-459zm1 121zm2 211zm1-378zm9 521zm3-253zm1 176zm9 27z"/>
<path stroke="#f6dc9c" stroke-width="19" stroke-opacity=".85" d="M3435 668zm30 4zm5 281zm10-28zm8-334zm19 300zm9-216zm3-132zm35-7zm25 319zm2 113zm1-41zm4-137zm1-49zm3 200zm6-17zm2-146zm3-150zm0 224zm1 31zm2-17zm12-221zm12 7zm14 16zm12 268zm0-487zm7 5zm8 148zm9 302zm9-193zm17 12zm1 222zm6-224zm4 24zm6-340zm4 314zm2-283zm4 448zm1-66zm17-431zm2-16zm4 294zm2-11zm1 282zm6-202zm4 0zm19 17zm3 97zm7-360zm6 34zm3 54zm0-122zm3 209zm18 157zm13-160zm21 181zm2 41zm5-132zm4 27zm9-346zm3 246zm1-261zm2-45zm13 184zm4 69zm7-23zm1-100zm4 128zm16 35zm7 129zm16-49zm2-138zm3-17zm5 40zm2 256zm16-430zm21 210zm9-179zm7 86zm3 207zm2 190zm4-242zm6 194zm2-145zm14 126zm1 55zm12-45zm14-313zm6 32zm8-30zm10 328zm1-156zm0-25zm6-57zm3-26zm7 5zm2 259zm2-252zm4-138zm7 68zm2 359zm10-428zm8-99zm5 123zm6 261zm3-168zm1-177zm2 383zm9-102zm5-37zm7 147zm2-425zm19 443zm3-179zm9 203zm4-272zm7 119zm0 46zm1 54zm2-1zm0-309zm6 238zm13-313zm9 482zm0-65zm8-158zm4 71zm1-201zm11 284zm0-116zm3 100zm1-378zm7 179zm6 280zm0-174zm1 102zm12-197zm8 193zm1 26zm4 62zm4-136zm7-56zm3-301zm7 91zm2 239zm9 62zm3-361zm4-54zm1 75zm5 444zm1-295zm3-273zm3 93zm2 31zm1 387zm2-97zm2-202zm12-122zm7 424zm2-144zm2 190zm14-528zm17 518zm1-595zm2 145zm7 126zm4-22zm7 127zm15 209zm1-221zm3-367zm8 260zm6 240zm2-10zm2-53zm3-9zm15-62zm14-6zm1-290zm1 350zm8-133zm1 196zm2-334zm2 21zm47-32zm1-106zm19 362zm9-168zm6-162zm10 411zm38-456zm12 314zm1-139zm21 94zm4 244zm2-513zm1 470zm22-453zm14 64zm2 160zm7 152zm2 68zm15-23zm12-391zm15 348zm4 181zm11-90zm10-138zm8-165zm1 211zm9 45zm0 105zm1-371zm4 393zm5-195zm4-333zm1 293zm17-173zm0 6zm1 1zm8-105zm10 169zm15 376zm6-298zm14 215zm2 69zm1-267zm13 17zm1-131zm7 372zm16-124zm8-206zm4-182zm6 60zm4 179zm0-53zm1 72zm1-17zm8 100zm2-389zm6 198zm1-139zm9 219zm3 16zm4 84zm21-207zm6 206zm13 198zm21-130zm1-447zm5-35zm9 248zm2 216zm1-316zm2-10zm6-77zm3 491zm11-223zm2 71zm4-260zm0 275zm7-14zm2 84zm3 138zm1-272zm4 169zm1-93zm1-243zm2-188zm5 560zm10-542zm0 107zm1-45zm2 247zm10 120zm18-180zm2-125zm12 113zm7 56zm11-151zm1-75zm1 461zm3-281zm1-234zm20-29zm5 67zm10 483zm14-297zm3-197zm16 474zm4-278zm1 372zm7-250zm18-175zm11 228zm2-295zm4 284zm4-94zm16 295zm5-618z"/>
<path stroke="#78b634" stroke-width="19" d="M3449 661zm5-1zm2-5zm5 181zm4-191zm4 32zm10 99zm3 65zm3-209zm3 64zm8 60zm5 121zm10-103zm1 29zm1-83zm3 68zm2-69zm8 123zm0-145zm8 24zm10-54zm5 145zm1-47zm6-85zm1 103zm8-47zm2 13zm5-293zm6 273zm3 106zm2-299zm1 5zm3 18zm6 82zm2 113zm8 26zm12-44zm2-74zm3-173zm0 218zm11 3zm1-219zm14 143zm10-234zm2 448zm1-299zm13-151zm2 61zm1 400zm3-254zm2 166zm2-375zm5 170zm0 127zm1 57zm5-381zm1 13zm2 344zm1-200zm0 241zm5 34zm5 43zm3-213zm8 17zm9 207zm5-48zm0-111zm12-85zm1 222zm13 29zm13-342zm0 61zm8-171zm10 170zm0-200zm9 153zm0 149zm5-348zm7 476zm1-225zm3 272zm2-1zm2-107zm1-397zm4 300zm5-215zm3 211zm4-58zm3 4zm14 83zm1-268zm1 142zm3 61zm4 2zm5-111zm1 63zm4-22zm8 305zm18-469zm8 359zm7-101zm9 230zm1-114zm4 62zm7-255zm2 193zm8-46zm6-25zm5-214zm4 209zm1-80zm1-213zm3 155zm15-141zm7 326zm1-134zm3 71zm13-38zm1 42zm17 130zm1-161zm6-286zm6 484zm7-305zm6-119zm5 429zm0-273zm3 162zm0-355zm4 453zm8-3zm4-326zm5-58zm2 279zm4 90zm2 51zm4-204zm2 116zm2 34zm6-123zm1-200zm1 65zm4 243zm5-1zm8-274zm2 286zm4-394zm0 182zm2 83zm5 11zm0-285zm2 367zm0 71zm11-114zm2-343zm2 397zm3-376zm6 427zm0-241zm2 153zm3 125zm3-366zm3 132zm4 139zm1 37zm6-271zm1 269zm3-358zm1 118zm3-34zm3 46zm0 254zm0-405zm1-29zm5 417zm11-66zm1-342zm1 20zm3 402zm0-62zm1 20zm1 76zm7-480zm2 276zm2 172zm3-104zm2-209zm1 157zm2-82zm3 221zm1-264zm5-42zm2 290zm2-142zm2-48zm6 148zm7-134zm4 240zm1-416zm12 224zm0 11zm3-27zm5 102zm11-127zm1 111zm1-140zm4-77zm0 18zm4 63zm5 163zm7-261zm2 137zm1 146zm3-96zm3-269zm7 189zm4-48zm1-86zm2 70zm2 11zm16-88zm12 37zm4 249zm6 59zm2-436zm0 273zm1-117zm1 1zm2 189zm2 126zm3-283zm3 183zm1-40zm3 49zm13-107zm1-78zm1 34zm2-231zm5 120zm2 165zm2 53zm1 16zm0 45zm1 6zm3-117zm3-275zm1 454zm6-340zm11 300zm1-185zm0-246zm1 301zm2-227zm3 327zm2-70zm2 106zm7-172zm0-206zm4 390zm7-11zm5 22zm3-229zm2 125zm1-268zm6 187zm3 117zm1 75zm1 8zm4-186zm0-11zm3 67zm3 73zm1-162zm1 25zm2-159zm8-31zm1 331zm0-367zm7 209zm2-56zm3 274zm1-224zm1-154zm1 312zm3-125zm8-301zm2 295zm4-277zm2 368zm14-273zm1 141zm3-119zm3 217zm1 63zm1-145zm3 20zm0 95zm3 13zm1 88zm1-21zm1-414zm3 172zm2 42zm8 87zm3 110zm3-4zm8 18zm8-421zm4 282zm2-272zm3 388zm2-93zm0-314zm0 337zm2-209zm1 9zm1 242zm1-91zm3 104zm4 1zm5-42zm4 91zm2-245zm1 198zm1-170zm1 220zm3-326zm2 134zm1-177zm0-115zm3 468zm3-350zm7 270zm3 69zm0-305zm0 206zm7 10zm10-288zm3-66zm1 220zm7-48zm1 35zm1-118zm2 363zm4-5zm1-260zm3 45zm12 165zm4-425zm5 148zm0-60zm3 224zm3-276zm6 282zm4 124zm0-357zm1 180zm1 166zm5-313zm0 159zm2 163zm21 37zm10-102zm2-253zm2 311zm4-89zm2-1zm11-16zm3-140zm0-9zm1-77zm0-100zm4 274zm1 51zm0-45zm2-260zm3 264zm4-232zm2 276zm2-107zm2-143zm0 212zm1 139zm1-337zm1 195zm4 115zm5-55zm5 138zm0-188zm4-108zm3 146zm2-281zm4 345zm3-39zm6 91zm2-421zm1 461zm9-440zm0 177zm2 127zm2-14zm0 23zm1-329zm1 179zm4 49zm1-22zm5 228zm5-342zm10 296zm4-124zm3-60zm1 66zm3 87zm3-182zm4 17zm2 156zm5-181zm6 149zm2-364zm0 187zm0 34zm1 267zm8-263zm2-130zm16 235zm5-42zm0 162zm2-1zm19-188zm4 129zm6-327zm1 170zm6-220zm3 184zm11 170zm0 85zm9-342zm6 171zm2 47zm6 64zm11 11zm2-330zm3 87zm0 327zm4-374zm9 294zm5-182zm1 77zm10 188zm1-301zm7 155zm4-8zm3-11zm1 76zm2-30zm7-156zm1 284zm1-34zm1-211zm1 166zm1 80zm2-111zm21-52zm1 150zm1-266zm1 190zm4 70zm2-279zm2-60zm2-8zm3 39zm1 242zm1-81zm1-106zm6-158zm0 367zm1 45zm2-159zm3-145zm4 56zm6 8zm6 251zm5-44zm1-174zm2-277zm8 333zm19 87zm1-418zm1 256zm1 47zm2-183zm4 168zm1 170zm2-163zm5 175zm3-151zm1-274zm1 181zm4 11zm0-157zm1 279zm2-20zm19-223zm0 16zm7 193zm8-47zm2 127zm2 75zm17-283zm6-63zm1 113zm3 153zm0-297zm3-4zm2-7zm10 147zm1 70zm5 174zm7-12zm3-69z"/>
<path stroke="#b4cf3e" stroke-width="19" d="M3448 807zm45-90zm37 98zm3-155zm27 19zm26-195zm0 370zm10-410zm4 266zm4 105zm4-218zm5 69zm24 168zm2-124zm5-209zm20 342zm2-200zm8-203zm6 229zm12 82zm11-22zm20 110zm11 5zm3-2zm2-228zm1-161zm13-46zm0 265zm7-156zm18-161zm35 408zm3-270zm0 219zm17 62zm9-192zm3 83zm6-10zm13-47zm5 142zm4 101zm1-134zm8-212zm4-137zm19 72zm2 14zm12 189zm3-169zm6 275zm4-252zm3 103zm0 223zm13-11zm6-221zm33 32zm8 124zm8-377zm4 295zm3 130zm5-351zm15 423zm1-434zm8 347zm18-436zm7 493zm15-195zm7-103zm4 266zm1-86zm7-126zm32 125zm5-78zm1 115zm4-130zm3-120zm5 297zm42 51zm0-312zm4 209zm26-236zm1 281zm26-295zm25 21zm7 196zm4-175zm5-195zm1 457zm3-83zm1-196zm5-82zm3 165zm13 155zm34-36zm2-176zm23 282zm5-371zm8 306zm7-341zm13 76zm29 310zm16-16zm4-55zm8-120zm7 113zm6-31zm13 113zm6-285zm5 144zm3 115zm12-371zm37 24zm18 115zm1 98zm14-68zm14 106zm15-276zm6 307zm2-55zm13-260zm18 260zm13-218zm19 310zm26-47zm9-48zm6-165zm4-59zm19-70zm19 228zm1-48zm6 122zm14 103zm8-39zm9-262zm14 213zm9-246zm36 61zm9 339zm18-473zm7 294zm10 62zm5-22zm3-107zm22 134zm3-347zm2 30zm4 377zm4-385zm10 190zm1 177zm16-29zm0-326zm8 29zm3 76zm7 204zm15 0zm13-17zm2-267zm13 82zm6-1zm13 68zm12 197zm3-424zm2 434zm1-177zm1 56zm13 133zm7-385zm5 373zm8-233zm16 232zm8-129zm1 129zm15-82zm18-223zm0 162zm9-58zm1 98zm11-274zm9 229zm1 11zm10-25zm5 73zm2-269zm8 252zm3-197zm7-114zm3 60zm8 48zm4-40zm3 120zm0-125zm5 290zm3-306zm0-71zm9 224zm16-102zm2 264zm7-103zm9 88zm10-183zm1-138z"/>
<path stroke="#1a9c8c" stroke-width="21" stroke-opacity=".95" d="M3540 165z"/>
<path stroke="#1a9c8c" stroke-width="21" stroke-opacity=".95" d="M3575 180z"/>
<path stroke="#1a9c8c" stroke-width="21" stroke-opacity=".95" d="M3725 165z"/>
<path stroke="#1a9c8c" stroke-width="21" stroke-opacity=".95" d="M3770 125z"/>
<path stroke="#f9dc8a" stroke-width="21" stroke-opacity=".95" d="M3650 70z"/>
<path stroke="#f6c8a0" stroke-width="21" stroke-opacity=".95" d="M3610 185z"/>
<path stroke="#f6c8a0" stroke-width="21" stroke-opacity=".95" d="M3940 90z"/>
<path stroke="#f6c8a0" stroke-width="21" stroke-opacity=".95" d="M4090 120z"/>
<path stroke="#f6c8a0" stroke-width="21" stroke-opacity=".95" d="M4160 115z"/>
<path stroke="#f6c8a0" stroke-width="21" stroke-opacity=".95" d="M4210 250z"/>
<path stroke="#f6c8a0" stroke-width="21" stroke-opacity=".95" d="M4140 270z"/>
<path stroke="#f2b86a" stroke-width="21" stroke-opacity=".95" d="M4350 130z"/>
<path stroke="#f6c8a0" stroke-width="21" stroke-opacity=".95" d="M4500 205z"/>
<path stroke="#f6c8a0" stroke-width="21" stroke-opacity=".95" d="M4220 290z"/>
<path stroke="#f6c8a0" stroke-width="21" stroke-opacity=".95" d="M4390 315z"/>
<path stroke="#14708e" stroke-width="21" stroke-opacity=".95" d="M4665 165z"/>
<path stroke="#14708e" stroke-width="21" stroke-opacity=".95" d="M4725 165z"/>
<path stroke="#14708e" stroke-width="21" stroke-opacity=".95" d="M4670 230z"/>
<path stroke="#14708e" stroke-width="21" stroke-opacity=".95" d="M4670 275z"/>
<path stroke="#14708e" stroke-width="21" stroke-opacity=".95" d="M4660 300z"/>
<path stroke="#9ccad8" stroke-width="21" stroke-opacity=".95" d="M4770 195z"/>
<path stroke="#8a86c8" stroke-width="21" stroke-opacity=".95" d="M4780 65z"/>
<path stroke="#8a86c8" stroke-width="21" stroke-opacity=".95" d="M4975 110z"/>
<path stroke="#a8a6d8" stroke-width="21" stroke-opacity=".95" d="M4990 85z"/>
<path stroke="#f6d0a0" stroke-width="21" stroke-opacity=".95" d="M5245 90z"/>
<path stroke="#f6d0a0" stroke-width="21" stroke-opacity=".95" d="M5250 120z"/>
<path stroke="#f6c8a0" stroke-width="21" stroke-opacity=".95" d="M5370 200z"/>
<path stroke="#f6c8a0" stroke-width="21" stroke-opacity=".95" d="M5310 275z"/>
<path stroke="#f6c8a0" stroke-width="21" stroke-opacity=".95" d="M5075 345z"/>
<path stroke="#a8a6d8" stroke-width="21" stroke-opacity=".95" d="M4935 390z"/>
<path stroke="#f6c8a0" stroke-width="21" stroke-opacity=".95" d="M4400 330z"/>
<path stroke="#f6c8a0" stroke-width="21" stroke-opacity=".95" d="M4575 335z"/>
<path stroke="#a8a6d8" stroke-width="21" stroke-opacity=".95" d="M4365 400z"/>
<path stroke="#c8a8d0" stroke-width="21" stroke-opacity=".95" d="M4145 405z"/>
<path stroke="#7cc0cc" stroke-width="21" stroke-opacity=".85" d="M3640 698zm2-6zm1 14zm6-13zm3 1zm3 0zm3 12zm3-18zm2 21zm0-13zm4 6zm1-10zm8 12zm0 7zm2-6zm6 5zm3-6zm4-4zm0-4zm8 1zm1 19zm3-15zm18 11zm0-22zm13 17zm0-23zm4 12zm2 4zm4-21zm16 28zm2-9zm6 28zm4-14zm0 0zm1-14zm1 13zm0-3zm2-2zm6 11zm7-10zm1 16zm1-20zm6 25zm7-37zm2 10zm6 1zm6 10zm6 0zm1 4zm0-31zm4 28zm4-10zm6 12zm2 3zm6-15zm5 7zm4-1zm3 12zm1-21zm0 9zm3 3zm4 0zm2-15zm1-1zm2 3zm2 30zm0-14zm3-26zm0 18zm2-6zm3 1zm6 5zm4-5zm6-10zm10 34zm3-30zm4 26zm4-16zm0 7zm8-24zm4 6zm4 25zm2-5zm12 0zm2 19zm8-31zm12 24zm9-21zm3 3zm6 0zm1 14zm5-9zm10-3zm6 2zm4-23zm2 18zm3 3zm3 6zm10-11zm3 12zm3-6zm2-2zm0 12zm16-13zm10-2zm0 16zm10-9zm1 15zm10-15zm3 4zm17-16zm2-9zm3 11zm6 19zm7 9zm3-3zm4-21zm10 12zm8 3zm6-10zm10 28zm9-18zm0 12zm1-17zm0 20zm6-10zm11 6zm1-12zm3 14zm8-28zm2 14zm1 9zm6 8zm4-21zm7 9zm1-9zm12 23zm1-25zm9-9zm5 21zm17 8zm1-18zm8 2zm6 18zm5-26zm1 15zm2 9zm1-10zm1-1zm4-1zm12-12zm4 5zm3 15zm0-6zm1-15zm8 15zm7 6zm2-11zm3 11zm0-4zm1-2zm2 12zm4 3zm4 10zm5-22zm2 7zm0-2zm1 0zm2-7zm3 4zm0-9zm1 4zm1-16zm8 3zm2 14zm2 1zm1 3zm5-26zm3 36zm10-5zm3 10zm0-18zm0 2zm3 9zm3-23zm0 16zm3 13zm1-2zm0-11zm9-15zm1 26zm20-11zm4-5zm11 6zm2 5zm1-16zm2 19zm0-13zm0 4zm3-13zm2 14zm4-23zm1 10zm4 25zm0-13zm5 0zm2-1zm1-19zm15 13zm4-7zm9 2zm5 13zm1 0zm6 0zm0-3zm7 2zm3 5zm5 1zm17-5zm8 19zm3 6zm11-24zm7 6zm3-11zm1 20zm6 4zm2-3zm13-10zm9 6zm3-3zm16 0zm4-2zm0-20zm0 36zm19-17zm3 1zm3 10zm1-9zm3-9zm5-15zm0 8zm11 8zm16-13zm2 29zm1-25zm2 8zm1 14zm14 8zm5 4zm0-19zm1 10zm6-16zm4 29zm4-4zm3-35zm3 14zm14-1zm1 20zm4-17zm4 0zm4 11zm2-8zm5 4zm3-4zm1 8zm3-8zm0-18zm5 24zm1 0zm1-12zm12 15zm0-10zm3 16zm0-10zm2 14zm4-40zm1 19zm1-7zm4 16zm5 2zm2-21zm1 2zm1-2zm1 6zm3 9zm4 3zm0-11zm1 7zm2-16zm0 7zm5 11zm3 1zm0-15zm3 10zm11 28zm1-14zm5-3zm6-18zm10 0zm1 25zm4-14zm4 2zm5-17zm7 12zm1-1zm4 7zm3 7zm4-17zm1 13zm1 7zm6-6zm16 6zm6 2zm0-12zm4 17zm3-11zm5-18zm1 33zm0-34zm3 1zm5 2zm14 13zm13 10zm3-4zm7-7zm3-13zm0 12zm9 4zm1 5zm3-12zm4-7zm4 1zm0-8zm1 17zm3 9zm2 7zm10 8zm3-20zm2 8zm4 1zm7-13zm10-10zm5 26zm2-6zm7-5zm4-2zm1 4zm5 1zm4 8zm3-11zm6 14zm0-5zm24 6zm8-8zm22-10zm3 19zm2-19zm6 16zm0-15zm6 6zm4 12zm0-2zm8-15zm9 24zm7-11zm2-6zm8 0zm3-18zm1 26zm3-1zm4 3zm1-23zm3 13zm1 3zm0 3zm1-10zm10-18zm2 21zm0-1zm3-2zm0 24zm1-16zm2-11zm2 5zm2 2zm1 3zm6 0zm0-19zm1 25zm5 3zm2-26zm3 1zm14 38zm1-6zm2-5zm2-19zm5 6zm2 17zm9-21zm4-8zm5 26zm1 4zm6-13zm4-7zm1 13zm7-14zm1 12zm7 18zm0-35zm4 5zm7 8zm11-3zm3-1zm5 20zm3-18zm0 13zm3-1zm2 7zm2-16zm3-1z"/>
<path stroke="#3d9fb0" stroke-width="20" stroke-opacity=".90" d="M3671 697zm9 3zm18 2zm44 1zm1 3zm26-7zm13 13zm2-21zm21 12zm17 3zm10 1zm0 0zm9-11zm29 10zm1-8zm5 7zm17 0zm7 2zm12-6zm7 4zm22 2zm11 5zm14-11zm34 12zm34 5zm9-12zm34-1zm1 13zm15-2zm1-5zm18 10zm14-7zm1 3zm4 3zm30-11zm27 4zm15 9zm3-13zm44 15zm1-1zm26-7zm16 4zm27-1zm24 4zm8 5zm2-9zm14 5zm4-1zm36 4zm2 1zm37 2zm11-2zm0 8zm11-9zm3 0zm28 8zm1 1zm2-6zm10 1zm6 1zm10-6zm3 9zm5 8zm1-9zm10 1zm31-7zm16 12zm29-11zm3 5zm14-8zm77 19zm10-13zm20 3zm11 4zm2-6zm41 4zm34 2zm19 3zm11 2zm1 1zm8 5zm16 6zm9-3zm17-5zm1-1zm8 2zm8-9zm5 3zm8 1zm39-3z"/>
<path stroke="#229a72" stroke-width="20" d="M3609 774zm20 1zm18-2zm3 3zm6-2zm0 3zm7 1zm1-1zm11 3zm1-3zm5 0zm0-1zm7 3zm3-2zm3 2zm12-3zm5 7zm12-4zm1 0zm24 4zm11 0zm16-2zm10 2zm5 0zm4 0zm4-4zm24 9zm8-1zm2-4zm16 1zm2-2zm4 2zm0-1zm3 5zm13 0zm2 0zm21-2zm1 1zm5-3zm6 2zm0 2zm1-1zm6 2zm7 1zm11-1zm5-1zm3 0zm2-2zm4 2zm6 4zm17-4zm10-3zm8 3zm0 5zm2-1zm6-3zm33-2zm3 3zm7 1zm3 0zm6 6zm11-4zm6 5zm20 0zm3-2zm3-1zm4 0zm9-3zm0 1zm4 5zm4-3zm8-3zm18 0zm2 7zm7-3zm0-2zm3 4zm13-1zm5 2zm6-2zm6 2zm3 2zm6 1zm6 2zm10-7zm3 2zm2-2zm4 2zm8 2zm8 0zm17 2zm0 0zm10-2zm16-2zm11 5zm7-2zm54 2zm2-3zm17 6zm18 0zm6-4zm8 5zm15 1zm5-3zm7 2zm0 2zm3-2zm2 1zm3-2zm2 3zm7 4zm0 0zm15-5zm10-1zm1 3zm21 1zm11-5zm3 3zm1 6zm6-6zm1 4zm6 0zm0-5zm2 5zm1-3zm16 3zm12-1zm0 3zm8 1zm1 0zm2-2zm17 1zm17-1zm2 5zm2 1zm5-4zm0 2zm14-3zm7-1zm17 2zm12-4zm13 5zm0 4zm2-7zm21 8zm3-2zm5 2zm3-5zm0 4zm26-1zm4 1zm3 1zm4-2zm1 1zm1-5zm10 4zm7-1zm4 4zm7 0zm6-1zm15 4zm7-6zm17 7zm0-2zm1 0zm3 0zm18-3zm1 5zm3-4zm3 2zm3 4zm8 0zm11-3zm0-1zm6-3zm1 8zm2-5zm14 1zm20 3zm12-2zm5-2zm7 2zm7-1zm16 3zm7 0zm11-1zm0 7zm18-4zm6-3zm4 5zm9 2zm9-4zm1 2zm0 1zm7-2zm2-2zm0 2zm11 1zm1 5zm13-1zm2-5zm0 5zm1-1zm13 1zm11 2zm1-4zm8-1zm8 3zm6 0zm17-5zm3 5zm11 3zm10-4zm6 6zm1-6zm3 2zm23 0zm8 4zm22 3zm5-5zm3 2zm5-3zm1 6zm4-7zm11 6zm5 0zm16-5zm6 6zm3 2zm1-4zm10 3zm17-4zm1 4zm0 0zm2-1zm4-3zm0 2zm0 3zm6-1zm4-2zm2 5zm15-2zm2-2zm2-1zm4-3zm5 2zm2 4zm20 3zm29 0zm2-2z"/>
<path stroke="#2b2f9e" stroke-width="20" d="M3627 794zm15 0zm10-2zm4 3zm9 1zm0 0zm10-1zm11 1zm5-5zm4 6zm10-2zm23 3zm17-6zm6 7zm13 1zm2 2zm6-7zm2 6zm24 3zm10-4zm8 0zm1-2zm42 1zm2 4zm1 4zm27 3zm36-5zm1 6zm5-8zm3 6zm1-5zm19 0zm6 7zm7-4zm25 3zm8 1zm6 2zm2-4zm48-3zm51 9zm21 5zm13-8zm6 3zm3-2zm3 5zm35 0zm4 1zm8 3zm1-7zm5 2zm12-6zm11 4zm19 6zm1-1zm5 0zm6 2zm27 5zm10-7zm4-1zm13-1zm15 3zm19 0zm9 6zm2-4zm13 5zm7-2zm11 0zm24-5zm9 5zm5 2zm15 0zm0 7zm2-8zm1 2zm32-5zm51 12zm26-4zm11 3zm29-8zm5 6zm1 0zm11 6zm24-7zm5 11zm20-6zm7 6zm29-4zm9 2zm17-2zm10 6zm4-6zm6 1zm5 3zm6-1zm5 6zm5-5zm28-3zm4 2zm12 8zm20-9zm29 6zm13-2zm21 3zm2 0zm5 3zm6 2zm1 2zm6-7zm24 0zm23 0zm13 4zm9-2zm14 1zm4 0zm25 4zm9-2zm9 0zm1-1zm13-3zm21 13zm2-8zm18 5zm3-3zm47 8zm3-7zm3 9zm5-8zm9-2zm11 8zm7-4zm0-3zm2 4zm3 2zm29 6zm2-9zm7-4zm14 2zm1 1zm2 7zm0 2zm20-8zm7 1zm41 1zm15 12zm0-6zm5-2zm2 1zm15 2zm45 2zm3 0z"/>
<path stroke="#7a5ab0" stroke-width="23" stroke-opacity=".90" d="M3516 885zm11-2zm1 3zm0-2zm1-4zm7 7zm4 0zm5 0zm1-2zm1 2zm1 2zm1-4zm0 0zm2 0zm18 0zm5 6zm4-2zm1-4zm2 2zm8 3zm6-3zm4 1zm6-1zm9 0zm8 2zm5-1zm2 4zm6-1zm3-2zm1 1zm10-4zm1 0zm3 4zm3-4zm2 6zm2-1zm4 1zm12 0zm2-2zm9 3zm3-7zm1 6zm2 2zm5-5zm5 3zm0 0zm10-1zm2 4zm3 0zm6-7zm14 4zm3 0zm14 1zm5-2zm2 0zm6 5zm2-7zm5 7zm1 1zm7-7zm3 2zm3 1zm5 2zm2-2zm4 2zm5-2zm13 1zm18 3zm4 1zm7-2zm0 5zm2-2zm6-1zm13-4zm3 7zm1-4zm6 0zm0 4zm3-6zm7 8zm7-4zm0-4zm6-2zm10 5zm5 1zm7 1zm2-2zm2-2zm5 3zm3-3zm4 5zm11-2zm17 0zm2 4zm6 0zm4-2zm3 0zm2-2zm11 5zm0-3zm2-4zm12 6zm0-3zm5 1zm2-2zm1 4zm1 0zm6 3zm7-5zm6 0zm1 1zm2 0zm1-1zm2-2zm1 8zm2 1zm0-5zm7-2zm1-3zm4 5zm4-1zm17 2zm7 2zm3 1zm3-2zm3-2zm7 4zm5-2zm3-4zm4 7zm10 0zm6-5zm6 6zm3-7zm1 4zm6 5zm6-2zm9-2zm5-2zm0 0zm7 2zm14-2zm5 2zm1 3zm8-4zm2 4zm4 0zm3 4zm30-5zm2 2zm3-3zm1 7zm1-5zm7-1zm7 2zm14-4zm5 0zm5 0zm3 2zm2 5zm6-2zm4-3zm2 2zm4 7zm3-2zm3-1zm5-1zm12-4zm6 5zm1-1zm3 3zm3-4zm5 0zm3 2zm1-3zm1 7zm1-8zm15 0zm1 3zm3-1zm3 4zm1 1zm1-3zm3-5zm2 6zm9-3zm4 2zm8 2zm4 2zm3-5zm8 5zm6-1zm3-2zm1-1zm0 0zm10 2zm7 4zm2-5zm17 5zm14-2zm7 1zm1-1zm3-2zm14 1zm5 1zm9 1zm12 2zm9 2zm3 1zm3-6zm1 3zm6 1zm4 0zm5-2zm1 1zm10-2zm1 3zm3-1zm0-1zm11 2zm6-4zm2 4zm1 0zm1 1zm2-2zm5 1zm9 0zm1-3zm3 5zm1-5zm11 6zm3 0zm1-3zm4 3zm1-1zm4-4zm14 6zm0-5zm3 3zm4 0zm9-2zm5 0zm3 0zm4 1zm3 2zm7-1zm1 1zm0-5zm2 5zm2 5zm0-3zm4-6zm0 5zm1-3zm2 1zm1 2zm1 1zm6 0zm10 4zm1-5zm9 1zm1-3zm2 0zm16 2zm7-1zm2 4zm9 1zm10-2zm2-1zm2-3zm0 5zm1-1zm3 0zm1 3zm7-5zm2 3zm5 1zm1-5zm6 3zm8-1zm3 1zm6-1zm13 3zm1 3zm2 2zm8-1zm1-6zm10 2zm9 3zm11 0zm4-4zm5 1zm1 3zm7-2zm7-1zm1 1zm13 5zm1-2zm4 1zm7-1zm1 0zm1 3zm6-3zm4-1zm2 3zm3-5zm6 5zm1 0zm2-3zm6-1zm4 4zm3-1zm3-2zm2 4zm1-3zm6 2zm1-2zm12-2zm1 6zm2-2zm7 1zm3-4zm3 1zm2 2zm2 0zm1 2zm1-3zm4 1zm0 1zm3 1zm1-1zm2 0zm6-1zm12 2zm12 2zm0-6zm5 0zm12 0zm3 3zm11 4zm3-1zm5 1zm0-5zm7 3zm15 0zm18-1zm1 6zm4-5zm5 3zm3-1zm2 1zm10-2zm1 6zm9-3zm1-4zm5 1zm14 6zm3-7zm0 5zm7-4zm1 0zm3 3zm2-2zm0 2zm2-3zm4 6zm0-1zm0 0zm17-2zm1 0zm18 1zm7 2zm0 0zm9 2zm1-4zm4 1zm1 3zm3-4zm7 1zm1 4zm3 1zm10 0zm2-2zm10-5zm1 1zm1 6zm1-2zm1-2zm3 0zm1 1zm20-4zm5 2zm14 1zm5-1zm2 8zm0-7zm8-1zm0 6zm0-6zm1 0z"/>
<path stroke="#f2b870" stroke-width="20" stroke-opacity=".90" d="M3607 870zm36-6zm7 24zm3-9zm11-4zm24-5zm21 6zm16 2zm18 0zm12-3zm15 7zm18-8zm9 9zm3 3zm36-8zm17-1zm55 4zm23-3zm23 7zm22 2zm4-2zm0-6zm0 6zm42-6zm12 15zm0-4zm23-3zm4 1zm0 1zm4-5zm4 0zm82 7zm23 0zm52-1zm17-2zm28 11zm3-7zm7 1zm7-10zm12 7zm5 3zm26 13zm16-9zm0-9zm21 14zm13 4zm36-17zm38 17zm1-2zm33-6zm4 2zm146 15zm0-8zm28-2zm23 7zm37 1zm0 0zm15-3zm5 2zm42-5zm12 3zm52 24zm13-18zm21 14zm15-2zm12-8zm25 2zm7-4zm15 8zm21-17zm3 16zm17-10zm28 6zm9 11zm12-11zm8-1zm3 11zm7 9zm40-12zm4 13zm3-1zm4-9zm5-7zm3-1zm11 17zm2 2zm9-8zm4 4zm18-13zm4 17zm5-18zm13 2zm0 13zm2 5zm17-16zm15 14zm2-3zm44-13zm5-1zm8 17zm4 1zm4-5zm19-12zm5 9zm3 3zm22 8zm0-6zm18-7zm5 6zm7-5z"/>
<path stroke="#82187a" stroke-width="22" d="M3400 1360zm12 0zm7 15zm1-14zm1-1zm1-26zm2 25zm6-48zm1 16zm8-7zm3-20zm4 49zm6 21zm1-81zm0 18zm6 52zm1-136zm5 109zm0-50zm1 77zm4-14zm1-60zm1-39zm1 42zm11-72zm1 80zm2-139zm5 98zm5-12zm5-64zm1 26zm1-45zm2 95zm2-30zm2 3zm1 121zm1-34zm2-168zm0 162zm1-32zm1 101zm2-156zm2 80zm2-44zm0 106zm1-190zm1 153zm1-4zm2-217zm1 120zm1 140zm0 1zm1-172zm1-29zm2 11zm5-14zm0 19zm0-74zm4-85zm1 344zm1-305zm1 8zm1 134zm0 87zm0-152zm2 214zm1-251zm0 16zm1 166zm0-196zm0-67zm1 278zm2-163zm2-121zm0 339zm1-232zm0 26zm0 47zm1-96zm1 172zm0-77zm1 172zm1-351zm1 237zm3-82zm2-101zm1-89zm0 99zm1-113zm0 91zm0 127zm4 118zm0-243zm2 190zm1-63zm1-234zm3 100zm0 155zm1-270zm0 341zm1-69zm0 78zm0 5zm1-290zm0 352zm1-157zm0-21zm3-209zm0-42zm1 376zm6-11zm5-195zm0-120zm1 244zm1-294zm0 438zm1-394zm1 8zm0 305zm0-304zm0 211zm1 37zm1 85zm0-163zm1-151zm0 26zm3 317zm2-367zm0 352zm0-412zm0 424zm1-249zm0 84zm0-40zm3-68zm0 141zm1-68zm1 190zm1-241zm1-106zm1 69zm1 9zm1 77zm0 25zm1 13zm2 171zm0-182zm3 159zm0-41zm2-157zm1 234zm0-267zm1-137zm3 208zm0-217zm0 205zm0 228zm1-408zm0 360zm2 51zm0-397zm0 224zm1-8zm0 169zm0-383zm1 356zm0-369zm1 34zm0 194zm0-157zm0 120zm1-89zm2 261zm0-251zm1 240zm0-166zm0-238zm1 422zm0 5zm1-94zm2 17zm1-346zm2 200zm0 198zm0-343zm1 113zm0 109zm1-67zm0-130zm2 188zm0 7zm0 70zm0 27zm2 74zm1 8zm0-323zm0-3zm1-85zm1 222zm1 34zm0-233zm0 158zm1-123zm2 98zm0-58zm0 307zm1 13zm0-223zm1 103zm0-255zm1 188zm1-117zm2-74zm1-80zm1 387zm1-277zm1-14zm1-24zm0 161zm1-23zm1-217zm2 69zm0 289zm2-128zm0 92zm1-190zm0 18zm2 316zm1 2zm1-418zm0 312zm0 68zm1 22zm1-181zm0 16zm1-19zm2 88zm0-19zm1-185zm1 126zm1-1zm1-257zm0 430zm1-287zm0 0zm0 166zm1-186zm0-77zm0-8zm0 220zm0 142zm1-280zm1 302zm1-447zm1 277zm1-165zm1-4zm0 9zm1 329zm1 1zm0-373zm1 154zm0 94zm1-152zm2-20zm0 7zm3 314zm1-282zm0 90zm1 31zm0 139zm0-414zm1 174zm1-57zm3 40zm0 256zm1-238zm2-63zm1 277zm0-127zm2-231zm0 205zm2 156zm0-307zm0 296zm1-43zm1-26zm0-260zm1 223zm1-166zm0 5zm1-145zm2 83zm2 21zm1 301zm1 46zm2-59zm0-303zm2 110zm1 71zm2-160zm1 255zm2-135zm1-233zm0 218zm1-184zm1 352zm0-58zm1-324zm2 421zm0-220zm1 4zm1-160zm1 121zm1 34zm1 54zm0-71zm0-64zm1-64zm0 405zm1-251zm1-123zm2-40zm1 258zm1 17zm1 103zm1-193zm0 54zm1-285zm1 394zm0-38zm1-27zm0 96zm0-153zm0 50zm0-305zm1-16zm2 73zm1 80zm0-125zm1 325zm2 77zm0-421zm3 365zm1 93zm0-341zm0 81zm1-1zm0-210zm0 242zm3-19zm1 93zm1-282zm1 169zm1-107zm1 248zm1 107zm0-317zm1 76zm2 215zm1-251zm1-89zm1 248zm0 126zm0 14zm1-62zm1-90zm0-266zm0 328zm1-354zm0 320zm2 18zm1-144zm1 16zm2-193zm0-29zm2 336zm0-79zm1-138zm0 63zm4 202zm0-270zm0-52zm1-69zm1 88zm0 29zm0 217zm1-164zm1-170zm0 50zm1 162zm1-143zm0 64zm0 263zm0-261zm0 202zm0 4zm1-284zm2 156zm1-129zm0 269zm1-163zm1 196zm1-346zm1-5zm1 381zm1-287zm1-100zm1 320zm0-2zm1-274zm2 125zm1 119zm0 51zm0-375zm0 337zm1-37zm1 93zm2-8zm0-9zm0 19zm1-60zm0 43zm1-192zm0-24zm1-38zm1 314zm0-378zm1 135zm0 224zm0-318zm0 150zm1 181zm1-245zm0 64zm1-16zm0 168zm0-380zm0 450zm2-224zm0-218zm1-11zm1 299zm1-258zm2 405zm1-76zm1-257zm1-64zm0 68zm1 326zm0-330zm1 152zm0-17zm0-158zm1 92zm0-55zm0 325zm0-328zm0-103zm1 309zm0-192zm2-157zm2 449zm1-165zm0 151zm1-78zm0 102zm2-183zm0-149zm0 36zm2 12zm1-112zm0 409zm1-174zm1 120zm2-4zm0-389zm0 73zm0 219zm1-7zm0-106zm0-111zm1 329zm0-18zm0 11zm0-194zm0-212zm2 30zm2 80zm0 181zm1 86zm0 73zm1-365zm0 79zm1-101zm0 347zm1-307zm1 29zm0 145zm1-259zm1 182zm1-17zm0-176zm0 405zm1 24zm1-356zm0 7zm0 287zm1-111zm3 202zm0-207zm1 183zm0-447zm1 223zm1-147zm2 117zm1 65zm1 77zm1-212zm0 195zm1-85zm1-64zm0 283zm1-394zm0-16zm0 57zm1-33zm1-13zm0-23zm0 327zm1-192zm2 201zm0-125zm1 202zm1-189zm0 133zm0-70zm1-146zm0-167zm2 67zm1-57zm2 326zm0-241zm1-64zm0-18zm1 414zm1-365zm0 0zm2 346zm0-388zm2 172zm0-23zm1-73zm1 20zm1 314zm0-205zm1-47zm0-108zm0-33zm3-20zm3 255zm0 46zm1-68zm0 29zm1-182zm2 95zm1 184zm1-380zm4 31zm2 91zm1 139zm0-174zm0 147zm1 136zm0 54zm0-122zm0 47zm1-282zm0 259zm0 71zm0-117zm2-246zm1 34zm0 13zm5 252zm0-221zm1 7zm1 141zm1-140zm0 73zm1 99zm1-193zm0 91zm1 105zm0-93zm1 142zm1 24zm1 95zm0-395zm0 100zm1-46zm1-86zm0-5zm3 363zm0-366zm1-27zm1 236zm1-48zm0 100zm0 75zm1-214zm0 182zm2-30zm1 15zm1 11zm0 133zm1-31zm0-3zm0-79zm1-196zm1 24zm0-61zm2 337zm0-84zm2-79zm0 135zm0-398zm0 443zm0-406zm0 362zm0-233zm0 229zm1-372zm0-15zm0 330zm3 71zm0-209zm1-191zm0-14zm0 93zm0 267zm0-348zm2 423zm0-351zm1 223zm0 123zm1-199zm1-42zm0 73zm1 129zm1-163zm0-230zm1 329zm2-99zm0-108zm1 158zm5-23zm0 111zm0-347zm0 154zm1 159zm1 13zm0-261zm0-71zm1 131zm1 186zm1-43zm1-11zm1-124zm3 289zm1-430zm3 409zm0-88zm1-269zm2 259zm0 99zm1-151zm2-212zm0 184zm0 72zm0-256zm2 29zm0 146zm1 63zm1 16zm0-240zm1 111zm2-77zm0 265zm2-356zm0 210zm0 39zm0-50zm1 126zm0-65zm0 157zm2-390zm0 226zm1-259zm0 327zm0-320zm1 136zm0 60zm2 6zm1 229zm0-270zm0 70zm1 35zm0-138zm1-44zm1-5zm1-114zm0 245zm0-96zm2 297zm0-168zm0-97zm1 200zm0-88zm1-211zm0 88zm1 11zm0-78zm0 234zm1-148zm0 129zm1-56zm0 169zm0-338zm0 239zm1-52zm0 89zm0 28zm3-55zm0-60zm1-196zm0 233zm1 17zm0-191zm1 260zm1-56zm1-78zm1 59zm1-212zm1-10zm0-94zm0 146zm1-142zm1 108zm1 189zm1-19zm2-193zm0 211zm0 9zm2 114zm1-148zm0-239zm1-48zm0 113zm1-79zm2 58zm1 191zm0-167zm1 144zm1 177zm1-8zm1-387zm0 213zm2-146zm1 232zm0-30zm0 6zm0 99zm2-20zm0-31zm2-246zm1 56zm0 255zm1-93zm4 121zm0-261zm1 21zm0 185zm1 51zm1 3zm1-58zm0-157zm1 138zm0-315zm0 99zm0 147zm1-40zm1-113zm0 80zm2-184zm0-50zm0 128zm1-51zm4 339zm1 34zm1-336zm0 126zm0-242zm1 16zm0 5zm2 248zm1-176zm1 7zm1-98zm1 387zm1-272zm0-104zm2 328zm0-227zm0 174zm1-160zm0 220zm0-68zm2 9zm0 51zm0-68zm0-129zm1-89zm2-6zm1 91zm0 239zm0-288zm0 262zm1 16zm1-26zm0-84zm1-192zm0 148zm1-97zm1 277zm0-300zm0 79zm0-52zm2 302zm0-140zm1-79zm3-177zm0 94zm1-28zm0-83zm1 293zm1-285zm0 292zm1-180zm1 112zm0-45zm1-68zm2 197zm1-323zm1 365zm0 87zm1-235zm0 217zm2-349zm2 44zm1-62zm3 351zm0 27zm0-83zm0-4zm2-189zm1 106zm0-98zm1 268zm0-405zm0-38zm0 206zm1 132zm1-186zm0 237zm0-55zm0-305zm2 433zm1-444zm1 432zm0-190zm2 10zm0-140zm1 96zm0 142zm1 30zm1 56zm0-418zm1 68zm0 361zm0-347zm0 308zm1-271zm0-41zm0 146zm0-214zm1 206zm0-26zm0-96zm1 98zm1 195zm0-422zm1 330zm0 48zm0-128zm1-49zm0-202zm0 187zm0-144zm3 185zm0-3zm1 2zm1-175zm0 161zm1 87zm0 79zm0-255zm2 71zm1 148zm1-267zm2 119zm0 17zm1-69zm0 63zm0 95zm3 65zm0-177zm0-160zm1 65zm0 233zm1-151zm1 71zm1-90zm0-121zm2 370zm2-396zm0 88zm0 362zm1-278zm1 257zm1-249zm0 120zm0-181zm2 120zm0-162zm1 344zm2 21zm0-54zm1-341zm0 157zm0 163zm1 62zm2-95zm2-261zm1 323zm4-190zm0-216zm0 174zm0-105zm2 72zm2 168zm0-187zm1-48zm0 274zm1-154zm0-193zm1 272zm4-21zm1 121zm2-226zm1 289zm1-262zm2 16zm1-22zm1 204zm2-111zm0-152zm1 15zm1 39zm0 157zm1-233zm1 227zm0 73zm1-162zm0-145zm1 169zm2-213zm0 399zm0-233zm1 100zm0-37zm0 194zm1-426zm1 41zm0 184zm0 212zm1-24zm2-341zm1 183zm0-28zm0-165zm1 39zm1 158zm0-183zm0-7zm1-4zm0 13zm1 287zm0-241zm3 300zm1-385zm1 134zm2 88zm0-232zm2-56zm0 464zm2-151zm0-106zm0 235zm1-149zm1 85zm1 76zm0-275zm3-174zm2 275zm1-57zm0-88zm0 28zm3-169zm0 95zm0 18zm1 71zm1-87zm0 369zm1-226zm0 53zm1 145zm0-373zm0 161zm1 115zm1-76zm1-13zm1 217zm0-57zm0 41zm3 11zm0-131zm1-187zm0-13zm1 174zm3-207zm0-32zm1 215zm0-226zm1 158zm1-125zm0 362zm0-331zm1 304zm1-207zm0-134zm0 205zm1-90zm0 226zm0-8zm2-204zm1-163zm0 305zm2 80zm0-66zm0-339zm1 311zm2-194zm1-113zm1 299zm0-304zm2 294zm0-139zm0-145zm1 247zm0 8zm1-264zm0 193zm0 89zm2 96zm0-346zm0 136zm1 22zm0-216zm0 139zm1 288zm1-42zm2-352zm0 319zm0-106zm1 154zm1-355zm0 365zm1-128zm0-147zm2 181zm3 111zm0-284zm3 314zm0-123zm0-291zm1-37zm1 280zm1 37zm1-11zm2 1zm0 91zm1 20zm1-417zm0 176zm2 80zm0 7zm1-97zm0 76zm1-213zm0 47zm1 293zm1-358zm4 104zm1 290zm2-372zm0 315zm2-7zm0-316zm1 307zm0 67zm0-403zm0 321zm0-193zm0-87zm2 67zm0 62zm2-79zm1 207zm0-61zm0-226zm1 153zm1-90zm2-14zm0 109zm0 214zm1 80zm0-26zm0-258zm1-10zm0 184zm2-86zm1-147zm0 6zm0 73zm2 112zm1-147zm0-122zm1 127zm1 41zm0-173zm1 209zm1-230zm1 326zm0-343zm0 11zm2-6zm0 455zm3-57zm1-311zm1-57zm0 307zm1-241zm1-10zm2 97zm1-103zm2 163zm0 79zm0-220zm2 47zm0-155zm1 11zm0 244zm1 207zm0-311zm1-90zm0 206zm1 52zm0-178zm0 325zm2-194zm2 105zm0-49zm1-236zm1 37zm0-64zm0 129zm2-170zm1 420zm0-119zm1 144zm0-285zm1 86zm1 45zm0-186zm1 269zm1-355zm3 327zm1-370zm1 228zm0 78zm3-133zm0 175zm2 93zm0-390zm1 48zm2 314zm1-132zm0-250zm0 201zm1 162zm1-304zm0 202zm1 175zm0-255zm1-152zm0 343zm2-191zm0 195zm0-379zm1 211zm0-216zm0 283zm2-167zm0 159zm0-62zm1 25zm1-123zm1 106zm1-93zm2-136zm0 368zm2-9zm0-238zm2 101zm2-83zm1-127zm0 269zm1-190zm0 14zm2 96zm1 107zm2 146zm0-278zm1 80zm0-47zm1-117zm0-31zm1 289zm0 44zm2-259zm0 21zm0 284zm2-287zm0-133zm1 295zm1 95zm1-283zm0 180zm1 23zm1-171zm0 257zm0-60zm0-289zm1-80zm0 17zm1 192zm1 157zm0 59zm0-237zm2 21zm1 67zm0 128zm1-271zm0 280zm1-336zm1 277zm1-283zm1 210zm0 73zm2-106zm1 204zm0-162zm1 96zm1-249zm2-48zm0 7zm1 362zm0-221zm2-44zm1 16zm0-48zm0 185zm2-22zm2-323zm0 308zm0-29zm1 173zm1-126zm1 84zm0-260zm1-65zm0 24zm0 118zm7 174zm0-300zm0 225zm0 139zm1-90zm0-224zm1 194zm0 10zm1 93zm2-299zm0-13zm2-78zm0 218zm0-165zm1 33zm0 325zm0-322zm1 229zm1 17zm3 65zm0-84zm1-106zm0 59zm1 121zm1-362zm1 70zm0 225zm1 38zm0-411zm0 129zm0 188zm2-70zm1-150zm2 152zm4 72zm1-3zm0-97zm3-33zm0-164zm0-14zm1 412zm1-17zm1-341zm1 3zm1 374zm1-385zm2 90zm0 317zm1-449zm1 321zm0-213zm0 141zm2 41zm0-206zm1-40zm1 398zm0-2zm1-223zm1 72zm0-307zm1 230zm1 121zm0-141zm0 118zm1-54zm0-48zm0-124zm2-103zm1 274zm1-204zm1 378zm1-65zm1-159zm0-109zm0-84zm1 329zm1 49zm1-261zm1-77zm2 35zm0 280zm1 41zm1-330zm1-11zm1 73zm2 33zm2-127zm0 9zm0 388zm1-88zm1-131zm0-226zm0-9zm1 435zm1-131zm0-112zm1-149zm2 69zm0 271zm0-312zm1 279zm1 6zm0 43zm1-34zm1-316zm1 375zm0-18zm1-118zm1-169zm0-122zm1 91zm0 106zm0 79zm1-73zm2 137zm2-247zm1 63zm1-156zm0 47zm0 267zm1-247zm0 295zm2-199zm0 36zm2-134zm1 255zm0-24zm0 21zm1-281zm0 297zm0-2zm4-56zm0-188zm0 131zm2 165zm3-244zm1 147zm0-33zm1-183zm1 395zm1-318zm1 245zm1-41zm0-204zm0 257zm0-327zm1 361zm1 6zm1-247zm0-18zm0 141zm1-14zm0-42zm0 109zm1-305zm0 51zm1 192zm2 148zm1-372zm1 202zm0-231zm1 100zm1 285zm1-286zm0 255zm1-177zm2 116zm1-2zm1-296zm0 301zm0-165zm1 72zm0-147zm3 161zm0-207zm2 236zm4-68zm0-106zm1-15zm1 75zm1-56zm0-116zm0 438zm1-453zm0 245zm1 48zm2 39zm1 33zm3-192zm3-66zm0-16zm2-33zm0 182zm2-27zm1 214zm0-416zm0 149zm1-143zm1 344zm3-122zm1-223zm1 16zm0 346zm1-298zm0-27zm0 62zm1 131zm2 171zm0-350zm1 346zm1-298zm0 122zm1 227zm0-247zm1 233zm0-249zm2 50zm5 137zm1-198zm0-178zm0 184zm0-132zm0 4zm1 339zm0-79zm0-208zm1-14zm1 170zm0-116zm4-85zm0-22zm2 12zm0-17zm1 395zm0-439zm0 55zm1 287zm1-131zm3 23zm2 89zm0 97zm1-75zm0-323zm1 347zm1-214zm0 226zm1-9zm0-331zm1 396zm0-262zm0 35zm1-68zm0 314zm1-403zm2 327zm3-198zm0-21zm0 99zm2-108zm1 269zm0-341zm0 239zm1-229zm0 10zm1-53zm3 24zm0 120zm2 235zm1-290zm2 14zm1 25zm0 79zm1 9zm0-257zm1 414zm0 4zm1-330zm0 154zm2-152zm1 112zm0 212zm1-104zm1-161zm1-20zm2 280zm1-155zm2-6zm2-66zm0 105zm0 101zm0-350zm1-33zm0 111zm1-106zm0 422zm2-220zm1 218zm1-51zm1 29zm1-366zm0 82zm0 194zm0 31zm1-227zm0-66zm1 27zm1 204zm1-158zm1-98zm0-31zm0 379zm1-355zm1-11zm1 373zm1 19zm2 42zm3-301zm0-120zm0 113zm1 313zm1-280zm1 164zm1 64zm1-315zm0 365zm0 8zm1-143zm1-91zm0-217zm0 193zm1 144zm0 52zm1-137zm0 84zm0 98zm2-408zm1 119zm1 44zm1 221zm0-340zm2 265zm0-56zm0-184zm1-114zm0 154zm0-96zm0 394zm2 12zm1-460zm0 31zm0 162zm0 143zm0-14zm0-173zm2 125zm0-100zm0-108zm2 401zm1-373zm0 343zm0-168zm2 148zm4-65zm1-56zm0-237zm0 399zm1-114zm0-269zm1-36zm1 315zm0-148zm1 69zm1-75zm2 33zm0-123zm1 13zm1 324zm0-172zm3-112zm0 170zm1-303zm0 405zm0-320zm2 342zm0-27zm1-332zm1 321zm0-389zm1 23zm0 381zm1-183zm0-134zm1 5zm0 180zm0-269zm2 297zm0-137zm1 137zm1-49zm0-34zm0 148zm1-129zm1-101zm1 167zm1 50zm1-372zm0 282zm1 92zm1-267zm1 320zm2-135zm2-186zm1 7zm1 73zm1-145zm0 144zm0 115zm1-93zm0-24zm1-166zm0 74zm0 314zm1-149zm3 69zm1 37zm0-216zm1 149zm1-143zm1-80zm0 227zm0-293zm2 299zm0 48zm0-233zm0 227zm1-288zm1 322zm0-72zm3-253zm0-40zm0 174zm0 92zm1-51zm1-15zm1-216zm1 135zm0 85zm0-162zm2 9zm3 287zm3-355zm2 297zm2 23zm0-273zm0 354zm1-120zm0 102zm1-55zm2-67zm0-29zm2-61zm0 120zm1-269zm0 65zm2 24zm0-47zm6 66zm0 1zm0 98zm2 164zm1-235zm2 257zm2-337zm0 360zm1-383zm1 322zm0-342zm2 395zm0-220zm2-202zm0 430zm1-374zm1-73zm2 71zm0 189zm0 203zm1-333zm1-100zm0 364zm2-120zm0-202zm0 222zm1 144zm2-34zm1-314zm1 147zm0 15zm1-194zm1 160zm0 211zm1-292zm0 122zm1 87zm0 46zm0-54zm1-264zm0 66zm3 263zm2 22zm0-283zm0-132zm1 382zm1-106zm1-181zm1 281zm0-3zm0-95zm1-211zm0 224zm1-68zm0 30zm0-170zm1 175zm3 103zm1-309zm0 51zm2 85zm1 155zm0-105zm0 195zm2-16zm3-189zm0-212zm3 36zm1 358zm0 27zm0-283zm1-137zm0 326zm0-14zm5-31zm0 24zm2-45zm0 103zm2-140zm0 140zm1-298zm1 230zm0-128zm1 116zm2-132zm1-141zm0 1zm0-10zm0-24zm2 210zm1-153zm0-8zm0 161zm1 131zm1-35zm1-54zm1-141zm1 206zm1-280zm0 331zm1-132zm1-32zm0 213zm1-154zm1-173zm0 189zm0-130zm1 217zm0-337zm1 43zm0 384zm1-293zm1 272zm1-202zm0 9zm1 218zm1-139zm2 120zm2-143zm1-76zm0-165zm0 216zm1-266zm1 239zm1-174zm1 158zm0 131zm0-83zm2 17zm0-47zm1-165zm1-44zm1 218zm0-236zm1 167zm2 216zm2 65zm0-94zm1-131zm0 93zm2-8zm0 55zm0-310zm0 108zm0-68zm2 246zm1-268zm0-15zm0 43zm1-109zm0 413zm1-45zm1 76zm0-428zm1 339zm0-90zm0-133zm1-61zm0 354zm1-236zm0 11zm1 78zm1-113zm0 94zm0-171zm0 325zm1-115zm0 157zm4-447zm0 448zm1-88zm3-174zm1 29zm0 59zm2-31zm0-48zm1-212zm0 466zm0-84zm1-344zm1-31zm0 283zm0 2zm2 89zm0-90zm1-240zm0-28zm1 27zm1 22zm0 188zm0 18zm2 32zm2-267zm1 338zm0-272zm0 7zm2 172zm0 77zm0-17zm2-125zm0 51zm1 30zm2 82zm1 33zm0-373zm2 24zm1 45zm3 147zm1-237zm0 67zm0 236zm0-257zm2 183zm2-30zm0 227zm0-437zm2 117zm1 251zm0-240zm1 11zm1-54zm5-69zm1 264zm0-102zm2 150zm0-66zm1 52zm1-58zm0-163zm0 128zm1-90zm1 155zm1 32zm0-178zm0 186zm2 14zm0 62zm0 20zm1-208zm2 215zm0-112zm1-192zm1 118zm1 199zm0-425zm0 182zm0 29zm0 43zm0 3zm1-272zm0 91zm1 101zm1 41zm0 38zm0 72zm3-263zm0-16zm0 251zm1 26zm1-154zm0 205zm0-96zm0-309zm1 406zm0 40zm0-361zm1 0zm1 261zm1 75zm0-281zm0 38zm1-64zm1-52zm0 86zm2 38zm1 277zm1-450zm1 80zm0 178zm0 2zm0-205zm4 263zm1-81zm0-156zm0 286zm1-266zm0-60zm1 282zm0 1zm0 0zm0 81zm0-229zm2 40zm1 94zm1 4zm1 111zm0-257zm1 28zm0-60zm1 162zm1-269zm0-18zm1 115zm0-39zm0 27zm0-59zm1 180zm2-15zm0-6zm0-151zm1 378zm0-55zm1-169zm1 196zm0-427zm2 167zm0-108zm1 345zm0-367zm1 17zm2 310zm1-336zm1 166zm0 201zm1-309zm0 101zm1-139zm0 2zm1 240zm0-159zm1 172zm0-280zm1 412zm3-388zm1 188zm1-49zm1 7zm2-12zm1 107zm0-255zm0 176zm1-119zm0 66zm1-136zm0 389zm0-300zm0 25zm0-20zm1 130zm0-102zm3 184zm1-268zm0 392zm0-258zm1 100zm1-168zm2 20zm0-15zm0-20zm4 312zm4 33zm1-304zm2 268zm2-267zm2-83zm1 338zm0 7zm1-118zm0-178zm1-13zm0 158zm1-127zm1-24zm1 91zm1-66zm1 247zm0-245zm0-25zm1 279zm1-221zm0 282zm0-332zm2 39zm1 52zm0-76zm2 256zm2-385zm0 191zm0 97zm1-180zm0 337zm0-184zm0 62zm1 58zm1-184zm0 259zm0-74zm1-242zm1 251zm0-214zm2 111zm0-153zm1-22zm1 195zm0 87zm0 65zm1-197zm1-196zm0 165zm1-176zm1 344zm0-59zm3-181zm1-156zm0 167zm0-3zm1 274zm1 4zm1-438zm1 166zm1 71zm0-107zm2 38zm1-103zm1 71zm0-19zm0 275zm2-69zm1 132zm1-259zm1-206zm0 345zm1-342zm1 461zm1-402zm0 108zm4-30zm1 283zm1-68zm1 54zm0 12zm0-301zm1 85zm3-28zm2 122zm2-6zm1-239zm2 391zm1-414zm2 380zm0-9zm2-340zm0 229zm1-81zm1-202zm1 212zm1-39zm0 187zm1 54zm1 17zm1-227zm1 12zm2-60zm0 299zm3-95zm1-296zm0 386zm0-426zm1 355zm0 42zm1 12zm3-418zm0 159zm1-163zm1 181zm3 169zm0-126zm2 131zm1-117zm3 68zm1 34zm1-97zm0 14zm1-209zm1 82zm0 230zm1-171zm0 198zm1-84zm1 44zm0-230zm1 115zm0-50zm1 16zm0 207zm3-228zm0 90zm0-208zm0 8zm1 151zm0-40zm0 61zm0-171zm1 78zm1 128zm1 67zm2-329zm0 325zm0-207zm0 41zm1-62zm1 299zm0-129zm1 121zm0-322zm1 262zm2-306zm1 96zm0-32zm0 291zm2-256zm0-41zm0 110zm0 119zm2-229zm0 307zm1-308zm0 14zm0 227zm1-65zm1-22zm3-250zm0 5zm1 431zm3-123zm1-20zm0 98zm2-140zm0-229zm1 59zm0-32zm1 113zm1 259zm0-275zm0 49zm1-59zm0-92zm2 308zm1-343zm1 247zm2 122zm0-213zm1 190zm0-108zm0 138zm1-37zm3 53zm0-29zm1-191zm0-141zm1 262zm1-60zm2-62zm0-102zm2 155zm1-69zm1 184zm1-312zm4 25zm4-72z"/>
<path stroke="#0b7f98" stroke-width="22" d="M3432 1383zm18-143zm1 151zm3-125zm3 46zm11-139zm4 203zm7-50zm16 27zm2-55zm3-96zm1-115zm5 25zm5-47zm7 229zm12-2zm3 63zm10-48zm1-161zm0 168zm0-29zm6 51zm7 35zm2-3zm2 19zm0-280zm2 89zm0-68zm1 244zm5-213zm2 82zm3-113zm8 212zm6-118zm0 46zm2 38zm1-38zm7-219zm4 76zm4 259zm1-207zm15-156zm4 17zm4 214zm6 2zm0-170zm7 55zm0 20zm0 80zm4 128zm3-36zm0-166zm4 229zm7-169zm6-92zm3 149zm1-280zm6 211zm5 169zm7-338zm2 127zm5-80zm2 241zm1-177zm7 204zm1-280zm22 212zm7 30zm4-269zm4 323zm11-96zm1-258zm3 24zm8 3zm0 232zm8-61zm0-203zm9 85zm1-33zm1 186zm0-132zm2-36zm10 115zm11 98zm1-195zm1 201zm2-248zm5 127zm0 191zm18-253zm9-76zm6 152zm2-143zm1 282zm9-149zm5 133zm1-32zm4-227zm5 0zm1 33zm2-66zm0 226zm0-215zm1 279zm3-22zm3-255zm0 102zm7 115zm4-192zm1 258zm13-194zm6 235zm3-11zm13-1zm6-116zm11-52zm4-14zm3 10zm0 116zm3-88zm2 37zm1-84zm7-67zm0 132zm0 155zm3-167zm5 28zm2-112zm0-95zm3-30zm5 152zm3-19zm1 239zm5-152zm1 79zm2 27zm3-56zm1-108zm2-44zm3-86zm1 153zm2 124zm1 51zm9-48zm1-180zm1-12zm4-16zm6-45zm11 127zm7-106zm2 69zm1 31zm2 222zm4-134zm2-158zm1 223zm5-247zm1 191zm1-197zm1 46zm3 225zm6-15zm1-16zm2-166zm2-4zm7 252zm8-352zm7 64zm2 7zm2-2zm2 108zm1 32zm3-119zm1-76zm0 22zm2 74zm1 202zm6-352zm6 287zm10-184zm1-53zm2 299zm39-256zm1 272zm6-315zm1 221zm0-212zm0 134zm2 68zm1-22zm2 79zm2-44zm2-127zm1 74zm4-96zm5 146zm1 30zm6-85zm1-55zm3-8zm5 191zm2-223zm2-50zm6 122zm6-105zm3 223zm5-313zm1 68zm8 314zm1-39zm5-149zm3 152zm0-219zm5-15zm1 257zm5-369zm14-1zm1 183zm3-109zm0 90zm1 54zm2-88zm0 98zm4-155zm1 33zm1-106zm5 227zm2-173zm4 244zm4-120zm2 1zm5-151zm12 330zm0-238zm1 157zm0-143zm3-27zm0-8zm1 204zm9-155zm5 65zm2-105zm4-67zm4-12zm4 354zm4-181zm1-51zm8 245zm3-212zm1 213zm9-163zm5 64zm1-299zm7 2zm3 346zm1 5zm9-77zm2-84zm1-190zm2 324zm2 55zm1-216zm12 128zm16 98zm12-359zm1-2zm2 140zm1 154zm1 58zm7-290zm2 234zm1-166zm2-59zm0 61zm0 19zm1 219zm3-50zm0 27zm7-156zm0-52zm3-69zm0 121zm1-180zm8 8zm0 42zm5 279zm6-53zm3-288zm1 284zm7 68zm8-240zm4-59zm2 40zm1 125zm9-145zm1 15zm5-55zm3 308zm1-66zm0-292zm1 337zm1-264zm1 25zm3 61zm3 146zm3-155zm9 171zm0-228zm2 149zm4 120zm6-250zm3-121zm8 265zm0-162zm5 219zm4-58zm0 108zm4-232zm5 184zm5-294zm1 151zm2 100zm7 50zm2-185zm7 62zm4-137zm4 129zm1 16zm1 20zm7-164zm4 92zm7 114zm14-150zm3 185zm12-217zm2-7zm10 183zm0 69zm3 65zm2-178zm1 71zm1-42zm0-107zm2-13zm1-138zm7 349zm7-93zm4 115zm2-347zm6 21zm1 319zm1-143zm1 27zm3-238zm3 52zm6 278zm11-62zm5-242zm1 193zm1 40zm2-216zm4 35zm2 239zm4 74zm9-124zm2-166zm1-34zm9-55zm3 144zm2-121zm3 46zm11 212zm2-107zm0 115zm1-33zm1-173zm1 300zm0-182zm8-161zm5 220zm8-139zm2 99zm0-170zm1-70zm3 35zm3-11zm1 143zm4 149zm24-309zm5 112zm4 77zm1-148zm3 140zm2 165zm5-123zm3-150zm2 251zm6-133zm8 64zm2 22zm0-42zm2-196zm3 38zm3-84zm8 301zm3 53zm0-317zm1 348zm14-281zm1 5zm0 215zm4-98zm22 61zm2-239zm0 235zm1-95zm2-181zm3 125zm2 136zm1-180zm0 189zm6-83zm3 106zm0 57zm3-32zm1-205zm2 65zm3 26zm3-38zm5 30zm7 211zm1-354zm1 266zm0-5zm3-57zm14 70zm6-190zm2-42zm2 295zm3 13zm2-355zm1 174zm4 76zm2-77zm1-97zm7 31zm2 56zm2 113zm5-28zm20 77zm3-339zm0 220zm16-220zm7 179zm4 79zm2-154zm8 38zm1 58zm1-26zm5-100zm11 251zm3-6zm1-219zm0-85zm3 308zm4-121zm2-164zm2 16zm2 200zm3-172zm3 61zm1 78zm0-48zm6 151zm2-311zm4 112zm5 87zm1 0zm3-214zm2 140zm1 55zm3 62zm2 116zm2-110zm3-294zm3 210zm2-134zm6-71zm4 181zm0 59zm2-45zm5 0zm2-20zm0 181zm10-137zm0 62zm1-40zm3 65zm2-100zm0 137zm3 51zm3-399zm7 67zm6 229zm2-234zm1 220zm1 50zm8-250zm0 261zm6-53zm1-74zm2 15zm6-104zm3-55zm1 204zm5-252zm0 104zm7 193zm2-53zm1-209z"/>
<path stroke="#8dc63f" stroke-width="20" d="M3500 1171zm8-44zm17-29zm2 73zm1-172zm31-30zm10 176zm9 42zm5-8zm6-126zm21 63zm6-95zm22 151zm23-173zm9 163zm17-39zm3 14zm2-17zm8-135zm1 19zm3-5zm7 85zm0-17zm4-25zm2-9zm16-12zm2 1zm2 126zm2-29zm2-121zm5 176zm5 27zm9-4zm32-179zm7 155zm7-217zm4 255zm5-258zm5 20zm20 222zm5-215zm0 213zm3-242zm1 52zm30 139zm1-94zm2 49zm5 82zm11-33zm9-64zm2-117zm4 169zm11 57zm27-90zm9-149zm15-19zm1 199zm1 12zm8-153zm7 144zm2-190zm2 236zm18-151zm5 77zm1-14zm2-95zm31 109zm8 73zm3-23zm20-21zm13 60zm33-98zm4 45zm17-153zm20 148zm18-145zm15 77zm7 117zm14-128zm1-46zm27 41zm3 81zm5-50zm7-85zm9 125zm17-49zm0-42zm4 115zm8 27zm15-70zm10 9zm16-12zm4 112zm10-244zm36 105zm13-40zm9-88zm4 241zm2-33zm10 10zm13 5zm17-143zm14-44zm4 10zm5 80zm4 40zm2-74zm13 168zm8-45zm9-84zm5 16zm11-153zm1 258zm11-51zm8-27zm7-98zm8 41zm0 38zm4 118zm3-268zm8 70zm1 92zm16 46zm7-139zm9 143zm25-138zm16 121zm19-197zm3 36zm22 257zm4-232zm11 28zm5-22zm7-61zm13 249zm1-142zm2 181zm18-91zm8-128zm12 180zm1 48zm11-124zm7-131zm6-10zm11-7zm2 132zm2-96zm4-49zm0 71zm11 210zm5-212zm17-33zm2 30zm2 197zm1-143zm21-59zm3 223zm6-71zm7-129zm14 40zm19 159zm5-41zm9-185zm10 22zm6 47zm6 40zm45 58zm13-89zm1-14zm45-128zm50 129zm1 93zm0-5zm8-85zm2 170zm2-284zm2 164zm0-90zm5 34zm6 89zm4-72zm0 66zm6-104zm5 138zm37 35zm24-280zm11 61zm1 12zm2 195zm6-151zm25 134zm3-16zm22-139zm3 60zm0 146zm16-293zm1 306zm6-159zm2 98zm2-13z"/>
<path stroke="#f9a61c" stroke-width="20" d="M3519 1286zm130-303zm23 16zm6 112zm8 197zm132-271zm9 44zm67 6zm56-91zm29 299zm38-276zm46 160zm27-83zm0 29zm12 0zm2-156zm19 22zm24 226zm46-185zm11-22zm55 297zm29-225zm28 39zm14 126zm48-67zm46-97zm15 121zm32-68zm65 7zm8-83zm44 31zm40 151zm50-252zm72 155zm31-64zm123-88zm48 176zm42-81zm35-63zm55 299zm10-331zm25 223zm11-179zm20 127zm20 139zm42 2zm30 25zm45-145zm14 119zm11 26z"/>
<path stroke="#3a3aa0" stroke-width="20" d="M3434 1266zm15-53zm48-144zm19-12zm38 236zm2-126zm18-33zm2-112zm11 50zm6 71zm1-112zm17-26zm10-69zm7 83zm27 152zm22 93zm12-7zm11-318zm10 365zm39-40zm11-163zm1-139zm7 126zm12 173zm14-286zm30 1zm9 266zm7-209zm8 162zm5 30zm12 82zm29-267zm14 149zm2-240zm1 182zm2-68zm0 98zm14-184zm5 123zm3 168zm3-311zm3 6zm2 171zm1-107zm9 244zm2-190zm0-23zm11 4zm11-54zm3 90zm1-37zm4-122zm17 254zm17-215zm5-3zm6-21zm1 318zm4-128zm16 171zm4-101zm26-133zm7 0zm2 222zm21-120zm7 79zm3-76zm1 73zm4-264zm5 281zm13-297zm1 271zm2-311zm18 90zm17-30zm3 48zm0-26zm2 284zm0-367zm16 224zm4-34zm17 68zm17-148zm8 54zm13 13zm4-108zm8 247zm5-129zm16 29zm17 30zm8 11zm1-118zm12 116zm3-217zm19 200zm0 48zm12-270zm16 345zm9-195zm2-158zm1 208zm3-154zm5-48zm12 274zm17-237zm40 43zm3 187zm1-242zm19 171zm10-161zm1 285zm5-232zm3-89zm6 142zm23-117zm31 46zm15-19zm13 204zm1-74zm2-41zm27 39zm1-105zm2-29zm5 149zm1 163zm4-133zm2-38zm9 143zm2-114zm7 29zm2-162zm10 233zm5-4zm17-43zm9-78zm2-5zm5 160zm15-290zm12 22zm17 139zm9-202zm0 121zm20 19zm4-158zm2 377zm10 11zm12-143zm2 43zm3-208zm3-39zm13 47zm0 84zm4 166zm8-31zm4-19zm15-67zm17 26zm6-245zm7 146zm5-117zm8 23zm2-18zm9 300zm2-284zm2-14zm48 79zm8 241zm17 8zm16-342zm2 252zm10-153zm3-17zm7-8zm2 90zm14-101zm9 119zm2 114zm3-70zm7-193zm11 207zm12 134zm3-106zm5 84zm3-65zm2 40zm9-64zm6-234zm18-22zm1-10zm37 285zm9-189zm3 148zm26-194zm2-40zm18 102zm5-109zm13 310zm17-211zm23 91zm8-140zm18 256z"/>
<path stroke="#c3d82e" stroke-width="24" d="M3431 987zm2 2zm2-8zm4 5zm1-1zm1-3zm2 4zm0 4zm1-2zm2 0zm3 0zm0 4zm1 2zm7-12zm2 5zm1 5zm2-3zm1-5zm2 7zm4-5zm3-3zm1 9zm0-5zm1 6zm2-3zm0-2zm0-7zm1 12zm1-7zm0 4zm1-4zm0 1zm2 5zm1-9zm1 9zm0-1zm1-4zm5 2zm1-2zm2-4zm1 12zm2-8zm0 2zm1 1zm0 3zm1-7zm1 4zm3 1zm0-2zm1 4zm4-7zm2 5zm3 0zm2 0zm2-4zm4 9zm1-4zm0 4zm4-9zm2 7zm0-5zm4 2zm1-1zm1-2zm6-4zm0 10zm0 0zm1-5zm0 0zm3 2zm1-2zm1-3zm3-3zm3 7zm3 6zm3 1zm1-5zm1-2zm2-3zm1 4zm2-4zm1-4zm4 11zm0 0zm0-2zm2 2zm3 0zm3-8zm1 3zm1-2z"/>
<path stroke="#c3d82e" stroke-width="19" d="M3584 994zm2 1zm21 8zm12-10zm6 6zm17-2zm25 6zm6-1zm8-5zm7 2zm29 0zm7 3zm49 4zm1-4zm0 1zm9-8zm11 11zm39-5zm33-1zm0 11zm2-3zm11 5zm3-8zm26 1zm8 3zm0-6zm1 10zm5-8zm18 3zm14-3zm1 9zm2-5zm2-3zm8-4zm2 6zm16 3zm19 2zm17-7zm9 3zm57 9zm10-5zm3 1zm2 2zm4 3zm15-4zm4-2zm33-5zm2 8zm10 10zm12-5zm13-2zm14-9zm1 5zm1 10zm3-12zm5 8zm8-1zm23-1zm2-1zm5 4zm1-2zm0 2zm7-8zm6 8zm3-5zm1 2zm16 5zm26 4zm1-8zm11 3zm6-4zm22 4zm11 4zm4 1zm7 3zm13 0zm1-9zm16 9zm0-3zm9-7zm1 12zm21 0zm2-1zm9 1zm14-3zm8-1zm4 2zm7-1zm9-1zm22-1zm10 0zm6 4zm10-2zm7 2zm2-2zm5-6zm1 5zm19 8zm26-8zm9 7zm21-1zm2 4zm3-1zm3 1zm20-5zm0-1zm2 4zm51-1zm9 2zm35 6zm19-5zm6-1zm27-3zm0 14zm10-5zm7-1zm1 6zm11-6zm8-6zm5 1zm8 8zm0-1zm57-3zm3 5zm33-5zm12 7zm13-6zm7 3zm6 4zm5 0zm4 3zm4 0zm17 2zm36-4zm23 2zm7-6zm1 3zm3-1zm11 3zm9-2zm2 6zm2 0zm16-4zm9 3zm0 1zm22-2zm3 7zm2-9zm3 6zm2-2zm25 6zm0 0zm2-11zm53 7zm14 3zm1-3zm2-5zm9 13zm18-6zm1 6zm5-3zm5 2zm8 2zm4-9zm6 0zm3 1zm1 1zm3 4zm21-9zm1 2z"/>
<path stroke="#8dc63f" stroke-width="19" d="M3500 1032zm13 2zm6 6zm23 0zm24-4zm5 3zm4 0zm29-6zm6 6zm3 5zm10-1zm25-4zm10 6zm25-1zm15-3zm3 1zm18 4zm6 0zm13 3zm2-8zm12 6zm10-2zm44-1zm16 1zm2 1zm1-3zm39 7zm19 4zm21 3zm25-3zm8-2zm34-4zm13 4zm5-1zm1-2zm5 4zm31-3zm7 9zm33 3zm10-8zm2 1zm7 5zm4-3zm2 4zm3-3zm31 2zm25-6zm8 1zm22 7zm5 1zm2-4zm19 1zm10 5zm26 3zm8-4zm22-1zm32-1zm3 1zm18-1zm1 1zm13 5zm2 3zm46-5zm11-1zm7 2zm70 4zm14 2zm14 0zm21 1zm7 2zm1 1zm9-5zm21 7zm11-3zm18 0zm5-4zm7 2zm5 3zm7-1zm1 2zm5-6zm27 4zm13 4zm2-6zm10 6zm5-1zm1-1zm11-1zm3 6zm3-3zm3-3zm9 3zm0 0zm12 0zm0 2zm4-1zm15 6zm9-5zm34 5zm10-4zm9-1zm13 7zm5-4zm22 0zm5 0zm14-3zm7 2zm10 7zm0-5zm0 3zm12-6zm27 2zm14 1zm1 3zm15 2zm11-4zm10 5zm21-1zm3-5zm16 9zm11-6zm5 2zm39-2zm14 6zm16-2zm16 2zm1-2zm3-1zm1 10zm34-5zm0 1zm17 1zm2-4zm9 8zm8-5zm13 0zm12 2zm35 2zm11 1zm8 2zm1-6zm3-1zm28 5zm15-1zm1 0zm5 4zm7-4zm11 3zm19-1zm8-3z"/>
<path stroke="#0f8a96" stroke-width="20" d="M3344 1126zm3 0zm1 0zm2 0zm2-5zm2 4zm1-2zm1 2zm2-1zm4 1zm16-1zm5 0zm9 3zm4-2zm8 4zm2-2zm3 1zm4-3zm1 0zm1 4zm0-5zm3 3zm0 0zm7-2zm2 2zm5 0zm1 0zm0 0zm3 0zm1 1zm1-1zm4 0zm2 0zm3 1zm1 2zm1 0zm1 0zm4-3zm0 3zm1-4zm3 2zm9-2zm6 4zm1 2zm2-3zm8 1zm0-2zm7 1zm1 3zm2-1z"/>
<path stroke="#0f8a96" stroke-width="20" d="M3512 1146zm3-15zm1-6zm62-5zm3 4zm10 10zm43 10zm30-6zm48-2zm1 7zm6-9zm12 3zm48 4zm20 7zm1 2zm17-18zm1 11zm81-1zm16 10zm20 2zm3-11zm11 0zm10 7zm15 6zm5 5zm7-17zm5-5zm40 10zm9-1zm25 10zm19-4zm28-1zm3 10zm19-22zm45 16zm23-10zm6 5zm2 1zm3-6zm74 10zm26 1zm2 18zm11-14zm28-15zm39 30zm13-16zm22 16zm28-21zm5 11zm15 5zm2 4zm14-8zm1-2zm6 11zm44-12zm33 17zm4-7zm15-2zm3-10zm17-2zm8 10zm27 6zm24-2zm24 6zm7 2zm19-13zm22 7zm22 14zm3-16zm4 3zm13-8zm9 16zm2-2zm3-3zm20 5zm59 3zm1-7zm23 4zm10 0zm41-3zm6 9zm53-11zm1 9zm8 6zm18-7zm33-12zm1 5zm5 0zm0-3zm56 15zm25 4zm11-3zm8-7zm7 13zm23-13zm12 8zm36 14zm27-9zm12 1zm26-14z"/>
<path stroke="#c3d82e" stroke-width="17" stroke-opacity=".80" d="M3371 1194zm11 0zm1 2zm20-1zm15 2zm10-3zm2 4zm3-1z"/>
<path stroke="#f5c21a" stroke-width="17" stroke-opacity=".80" d="M3354 1094zm0 4zm12 8z"/>
<path stroke="#f07a1c" stroke-width="20" d="M3676 1299zm1 5zm1-2zm1 4zm1-4zm2 4zm5-4zm8 5zm6-3zm2 0zm10 2zm1 0zm3-1zm0-1zm1 0zm0 6zm4-6zm5 5zm3-1zm7 0zm0-2zm3 4zm8-6zm3 6zm1-3zm0-2zm0 1zm4 0zm3 5zm2-5zm1 1zm0-3zm8 5zm8-5zm6 1zm1 5zm1-3zm6 4zm2-4zm5 3zm3-1zm4 0zm2 1zm1 0zm6-2zm1 4zm2 1zm1-3zm5 0zm1 2zm3-1zm2 0zm0-1zm3 0zm9 3zm3 0zm8 1zm5 0zm6-1zm4-1zm2-4zm1 6zm6 0zm0-2zm2 3zm5-5zm5 3zm13 1zm1 2zm2 0zm0 1zm1-1zm4-3zm4 2zm1 1zm3 1zm2-2zm4-2zm0 3zm18 2zm2-1zm3-3zm6 5zm3-3zm4 4zm0-4zm2-1zm14 1zm6 3zm3 0zm7 2zm3-3zm1 1zm3 1zm0-1zm7 2zm5-1zm14-2zm5 0zm7 1zm16 0zm1 0zm5 3zm3 0zm0-1zm1 1zm7 2zm1-3zm5 0zm16 2zm2 4zm2-7zm4 6zm0-5zm4 2zm2 0zm6-2zm4 5zm6-4zm6 6zm1-1zm10-2zm5 1zm2 2zm7 0zm1-1zm23 3zm11-4zm11 5zm1 0zm6-3zm1 4zm1-2zm19-5zm1 4zm0 1zm5-2zm5 2zm2-1zm3 5zm14-3zm0-4zm14 3zm1 2zm9-3zm6 3zm4 1zm0-1zm3 1zm2 1zm4 1zm6-4zm2 3zm2 0zm3 2zm1-2zm1-3zm1 3zm2-2zm0 3zm3 1zm11-4zm2 3zm0 2zm5-1zm8 0zm0 0zm0 0zm19-2zm7 2zm3 1zm1 2zm10-3zm7 1zm1 3zm2-1zm4 0zm2-2zm3 3zm3-3zm4 2zm1-1zm6 0zm3-1zm2 1zm0 2zm1-1zm1-1zm9 2zm7 2zm7-1zm5 1zm1-4zm7 2zm11 0zm1 1zm1 1zm2 1zm0 0zm3-1zm2 1zm3 0zm1 1zm4-1zm5-1zm13-1zm2 1zm11 2zm3 0zm2 1zm6 0zm4-2zm3 4zm0-2zm2-1zm1 2zm5-1zm8 0zm10 1zm0-3zm8 6zm4-5zm4 2zm1-1zm6 1zm1 3zm1-1zm6-5zm4 7zm2 0zm12 0zm5-6zm2 4zm1 3zm0-4zm3 1zm3-3zm9 6zm0-2zm4 1zm1-5zm4 5zm7-1zm5 2zm3-1zm3-3zm9 3zm6 0zm1 3zm1-4zm2 3zm31-3zm5 2zm1 3zm0-1zm9-1zm5 3zm7 3zm3-3zm7 1zm4-3zm3 2zm4 0zm4 3zm2 0zm3-4zm2 0zm7 1zm1-1zm9-1zm16 5zm1-1zm9 4zm2-3zm7-1zm2 4zm6-2zm6-3zm13 4zm2-3zm1 0zm4 1zm23 4zm8-2zm4 2zm4-1zm8 1zm5 1zm2 1zm6-3zm10 2zm0 2zm2-3zm9-2zm2 4zm1-3zm7-1zm11 5zm2 1zm3-3zm5-2zm7 4zm9 1zm8 2zm1-2zm11 0zm7 3zm3-2zm3 4zm2-3zm12-4zm3 5zm15-4zm0 5zm6-3zm5 3zm0 2zm8-2zm3 0zm7-2zm0 4zm3-1zm5-3zm11 1zm2 5zm6-4zm17 4zm1-2zm0-4zm4 3zm1 0zm11 1zm11-1zm1 1zm1 1zm0 2zm6-2zm9 1zm1 2zm6-5zm6 6zm6 1zm1-5zm9 5zm11-1zm11 0zm9 0zm1 0zm3 1zm2 1zm5-3zm13 0zm1 5zm1-5zm6 4zm2-1zm0 0zm7-1zm2 3zm17-3zm8 0zm13 4zm0-2zm4 3zm22-2zm6 2zm5-2zm1-1zm9 1zm1 0zm17 5zm11-2zm1 0zm0 1zm3 2zm4-3zm1 1zm8 0zm10 1zm2-2z"/>
<path stroke="#0b7f98" stroke-width="23" d="M3370 1473zm5 34zm6-100zm6 24zm6-23zm5 73zm17-26zm16 11zm8 12zm5-59zm4 41zm4-14zm20-37zm1 94zm20-6zm4-88zm14 16zm2-4zm0 78zm11-26zm0-22zm6-40zm0 87zm5-44zm5 4zm10 32zm3 29zm2-24zm16-65zm2 3zm10 33zm13 11zm24 17zm11-53zm11 7zm5-11zm2-17zm3 106zm24-118zm1 105zm4 3zm3-63zm8 20zm2-41zm5 89zm12-93zm2-3zm7-1zm1 57zm2-35zm5 4zm2-38zm17 61zm21-55zm1-6zm3 80zm22 11zm16 21zm1 0zm2-71zm1 78zm6-60zm11 60zm0-12zm13-60zm3 16zm9-17zm24 12zm3-13zm4 14zm3 38zm13 26zm4-11zm6-9zm6-51zm1-1zm14 21zm3 17zm4-1zm8-53zm8 74zm3-75zm1 44zm5 17zm12-14zm12 6zm1-54zm2-24zm14 5zm9 112zm9-115zm10 105zm4-110zm3 25zm1-5zm0-4zm2 37zm2 11zm0 56zm13-35zm1-61zm8 58zm4-24zm2 4zm4 8zm22 14zm13 20zm1-52zm3 63zm10-64zm11 52zm9-44zm0 31zm21-75zm4 47zm10 10zm3 29zm3 8zm2-54zm17 63zm9-33zm7-16zm1 28zm4 5zm4-45zm10 13zm1 6zm2-21zm4 55zm3-48zm5-31zm7 25zm31-47zm13 53zm0-2zm6-36zm7-1zm2 8zm1 88zm1-92zm4 19zm3 16zm3-38zm4 11zm10 23zm15-32zm4 14zm25-16zm5 99zm2-57zm15-2zm1 63zm2-69zm34-37zm1 40zm1 34zm9-36zm5-40zm29 6zm1 22zm11 2zm0 37zm1-6zm18-42zm3 5zm1-11zm2 29zm12 19zm6 55zm7-15zm26-11zm1-90zm5 89zm4-81zm5 111zm3 1zm10-93zm9-26zm5 56zm14-54zm10 100zm4 5zm7-46zm3 20zm0-25zm4 11zm2-64zm5 105zm5 7zm6-60zm11 32zm14-33zm27-31zm19-17zm1 107zm14-32zm6-23zm3-34zm0 4zm4 34zm21 48zm0-44zm12 54zm3-78zm14-2zm16 31zm12 27zm12-65zm11-11zm42 66zm5 29zm6-26zm3-47zm2 66zm5-53zm14 47zm13 21zm10-107zm4 53zm23-66zm10 110zm13-108zm2 20zm9 5zm16 45zm5-58zm6 44zm9-29zm1 66zm8-62zm4 48zm2-3zm3-73zm6 27zm3 77zm25-89zm9 3zm16 51zm1 15zm11-47zm22 6zm3 76zm1-15zm2-85zm1-10zm13 17zm1-8zm4 33zm5 67zm10-79zm0 73zm3-69zm4 1zm3 29zm1 18zm12 19zm32 15zm2-85zm2 81zm2 6zm6 2zm13-128zm0 50zm2 32zm2 35zm3-106zm0 44zm0 68zm17-71zm4-24z"/>
<path stroke="#0f7f8e" stroke-width="23" d="M4711 1224zm8-30zm5 62zm13 69zm2-40zm17-13zm7 128zm1-81zm26 40zm5-112zm21-27zm36 172zm4-195zm1 72zm21 111zm2-93zm22-67zm17 13zm38 96zm11-68zm27 54zm1-115zm8 76zm27 40zm15-125zm42 128zm17-93zm10-53zm7 52zm3-47zm1-34zm1 252zm16-203zm4 8zm1 158zm2-80zm18-23zm1-103zm7 75zm3-71zm2 0zm46 204zm3 36zm20-225zm16 34zm6-46zm1 38zm4 1zm1 58zm12 71zm7-52zm8-141zm9 180zm8 56zm23-209zm8 61zm1-55zm1 229zm14-274zm18 30z"/>
<path stroke="#a8a6d8" stroke-width="21" stroke-opacity=".95" d="M5350 1630z"/>
<path stroke="#7a1b7a" stroke-width="21" stroke-opacity=".95" d="M5290 1535z"/>
<path stroke="#c8c8e0" stroke-width="21" stroke-opacity=".95" d="M5335 1575z"/>
<path stroke="#9cc4e0" stroke-width="21" stroke-opacity=".95" d="M5065 2095z"/>
<path stroke="#f6d8a0" stroke-width="21" stroke-opacity=".95" d="M4900 2080z"/>
<path stroke="#f6d8a0" stroke-width="21" stroke-opacity=".95" d="M4680 2070z"/>
<path stroke="#f7821c" stroke-width="21" d="M1190 2676zm0 18zm1-8zm0 5zm0-11zm1 0zm1 14zm0-13zm0 10zm2-1zm1-14zm1 5zm0 4zm1 7zm1-12zm1 11zm0-12zm1 11zm2-13zm0 5zm0 14zm1-13zm0 2zm1-2zm0 3zm0 9zm1-13zm0 8zm1-10zm0 1zm1-3zm1 2zm4 0zm2 10zm1-9zm1 1zm3-4zm1-3zm0 5zm1 14zm1-11zm0 14zm0-4zm2 5zm0-7zm0 9zm1-17zm0 9zm1-5zm1 3zm1-6zm1 2zm1 7zm1-2zm2 11zm1-21zm0 17zm2-11zm0-4zm2 6zm1-13zm0-1zm0 3zm3 18zm0-8zm2 9zm2-13zm2 12zm1-16zm0-7zm1 8zm0 15zm2-3zm0-3zm3-1zm2-1zm1-8zm1 2zm0 0zm1-3zm0 9zm3 10zm1-15zm0 10zm2 0zm0-23zm1 26zm1 0zm1-11zm0-3zm1 6zm0 3zm1 7zm1 0zm1-7zm1 9zm3-2zm0-8zm1-1zm1-20zm2 23zm0 0zm0-13zm1 8zm0 2zm0 0zm2 7zm0-9zm0-5zm1-7zm0 4zm2 17zm0-5zm0 1zm2-18zm4 18zm1-1zm3-8zm1 9zm0-12zm0 25zm0-3zm2-19zm0 8zm1 2zm1-13zm0 19zm1 7zm0-26zm1 14zm1 0zm0-9zm0-10zm5 13zm1 12zm0-20zm1 9zm0 13zm0-8zm1 1zm0-1zm1-6zm0-5zm0 18zm0-19zm1-1zm1 23zm0-7zm0-18zm2 2zm1 8zm1-4zm0-5zm0 6zm0 13zm1-11zm3 9zm1 0zm0-3zm0 5zm2-24zm1 31zm1-35zm4 14zm0 19zm0-11zm1-10zm1 18zm0-1zm1-10zm1 3zm0 7zm1-13zm1 8zm1-8zm0-11zm1 17zm0 7zm2-16zm0 2zm1 17zm0-12zm0 4zm0 9zm1-9zm2-17zm0 21zm0-17zm0 5zm1 9zm0-5zm1-13zm0 12zm1 1zm0-3zm1-5zm0 4zm1-6zm0 2zm0 21zm0-21zm1 14zm1-8zm1 9zm0 0zm0-9zm2 8zm1-12zm1 2zm0 2zm1 8zm0-5zm4-8zm0 23zm1-7zm0-2zm1-24zm2 27zm1-3zm2-22zm2 16zm3-1zm0 6zm1-24zm0 30zm2-8zm2 1zm0 2zm2-10zm1 10zm1 0zm0-2zm0 6zm1-12zm1 13zm2-3zm0-14zm1-1zm0 9zm0 7zm0 0zm1-8zm1-7zm0 9zm1-4zm0-4zm0 4zm4-18zm0 15zm2 8zm0-19zm1 19zm0-4zm1-2zm0-11zm3 18zm1-10zm6-11zm1 33zm0-22zm1 12zm0 6zm1-14zm0 17zm0-13zm1 10zm0-19zm1-7zm3 12zm1 2zm0 7zm1-1zm1 2zm1-14zm1 10zm2-8zm0 5zm2 0zm0-7zm1 10zm1-9zm5 0zm1 4zm2-4zm0 12zm1-9zm0 12zm0-15zm1 11zm2-21zm0 20zm2-22zm1 22zm1-2zm0-9zm1-4zm1 21zm0-19zm0 5zm0 9zm1-7zm0-2zm1 18zm1-20zm0-5zm5-2zm1 20zm0-1zm2 5zm0 0zm0-14zm0 15zm2-15zm0-3zm1 17zm0-25zm0 11zm1-5zm1 13zm1-11zm0 12zm2-7zm0-5zm0-11zm1 7zm0 16zm0 6zm2-18zm2 2zm0 6zm1 10zm2-13zm1 2zm1-3zm0-18zm1 31zm1-13zm2-4zm0 10zm1-5zm3 8zm0 13zm0-8zm1-12zm1 6zm0-10zm0 7zm1-10zm1 14zm1-9zm0 3zm1-2zm2-1zm1 3zm2-7zm0 7zm0 10zm2-7zm0-6zm0 15zm1-9zm2 8zm4-19zm1 10zm0-16zm1 13zm0-8zm1 16zm0 5zm1-15zm2 15zm2-6zm1-12zm2 12zm0-13zm1 11zm1-11zm1 2zm0 1zm3 9zm0-6zm1-4zm0 15zm1-14zm0 1zm1 8zm1-16zm0 13zm1-6zm0-10zm1 15zm3 2zm0-12zm1-6zm0 15zm1-4zm1 17zm1 3zm3-15zm3 6zm1 0zm1 1zm1-8zm1 5zm1-2zm0 0zm1-7zm1 4zm1 8zm0 7zm2 0zm1-6zm0 10zm0-25zm1 1zm0 10zm1 11zm1-2zm2-12zm1-5zm2-1zm1-4zm1-10zm1 32zm0-10zm1-17zm1 24zm1-11zm1-5zm0-2zm0 26zm1-27zm0 21zm1-13zm1 6zm0 9zm0-20zm1 19zm0-5zm0 14zm1-20zm0-1zm0-12zm1 6zm0-5zm1-4zm1 5zm1-4zm0 11zm0 4zm1-7zm1 2zm0 1zm0 2zm1-1zm1 4zm0 9zm1-12zm1-9zm1 2zm0-6zm0-6zm1 24zm1-15zm1 9zm0 6zm1-7zm1-5zm0 1zm3-14zm0 8zm2 0zm1-7zm1 30zm1-16zm0 12zm0-9zm1-4zm0 7zm0-6zm1 7zm0-2zm1-1zm0 17zm0 6zm1-24zm2-3zm1 0zm1 16zm2-22zm2 15zm0-10zm2-1zm1 0zm0 5zm1 9zm1-18zm0-6zm2 27zm2-2zm1-21zm0 17zm2-10zm1-13zm2 22zm3-5zm3-5zm0 13zm3 1zm0 6zm0-8zm0 1zm2 8zm1-11zm1 11zm1-5zm0-10zm1-6zm1 9zm1-4zm1 4zm1 2zm1-22zm0 28zm0-4zm1-18zm2 21zm0-17zm0 10zm0-5zm1 12zm3 6zm1-24zm0 20zm0 0zm1-21zm0 24zm2 6zm1-15zm1 10zm1-20zm0 17zm0-4zm1-1zm0-2zm1-12zm2 6zm0-1zm1 3zm3-2zm0-1zm2 9zm0 6zm0-9zm2 6zm0-6zm2-11zm0 15zm1-8zm1-2zm0 1zm1-7zm2-1zm2 18zm2-7zm0-4zm2-6zm1 7zm1 1zm0 8zm0-2zm3 16zm0-6zm1-22zm1 7zm1-8zm1 6zm1-5zm0 0zm0 20zm1-17zm0-5zm1 3zm3 4zm2 16zm1-11zm0-14zm1 8zm0-5zm0 27zm0-30zm1 4zm2 14zm0-1zm0-14zm1-4zm1 8zm0 8zm1-1zm2-3zm0-1zm2 0zm1-7zm0-3zm1 5zm2 0zm0 1zm1 0zm2-2zm0 3zm0 19zm1-14zm1 0zm0 5zm2 17zm0-23zm2 4zm0 7zm0-9zm0 4zm1 10zm0-6zm2 15zm0-32zm1 13zm0-1zm1-2zm0 2zm2 14zm0-4zm0-6zm1-5zm0 4zm0 1zm0-13zm2 13zm2-5zm0 6zm1 11zm0-23zm0-8zm1 13zm1-5zm2 2zm1 0zm1 1zm0 5zm1 5zm1-3zm1-4zm0-2zm0 22zm0-9zm0-10zm1 15zm2-20zm0-4zm0 12zm1 3zm0-6zm0-2zm2 5zm0-14zm0 6zm1 8zm0-2zm0 0zm2-5zm0-5zm1 10zm0 17zm1-6zm2-11zm1 0zm2 2zm1 8zm1-22zm3 18zm1-10zm0-6zm2 18zm0-1zm3-11zm1 2zm4-3zm0 14zm1-17zm0 2zm2 5zm0 7zm0-1zm1-18zm3 11zm1-8zm3 9zm1-11zm1 5zm1-11zm1 16zm1-17zm1 7zm2 28zm0-16zm0 15zm1-21zm1-2zm1 14zm0-18zm2 12zm0 11zm0-1zm0-5zm2-20zm2-1zm0 18zm1-2zm2-1zm1 8zm2-17zm1 15zm0 0zm2-17zm1 12zm4 0zm3-1zm1 8zm1-18zm0 16zm0 8zm0-21zm1 16zm0-3zm1-5zm0 12zm1-6zm0-4zm1-11zm0 15zm2-3zm1 4zm0-3zm1-15zm0 4zm1 18zm1-8zm0 7zm0 4zm1-14zm2 3zm0-4zm2 0zm2-6zm1 23zm2-17zm0-2zm0 16zm1-9zm1-4zm1 0zm1-8zm1 10zm1-1zm3-10zm0 21zm1-22zm1 14zm1 3zm0 8zm2-15zm1 9zm2-12zm3 11zm0-20zm0 19zm1-22zm0 28zm2-18zm0 4zm0 2zm0 16zm3-13zm1 3zm1-7zm2 14zm0-28zm3 24zm0-7zm1 8zm0-10zm0-1zm1 15zm1 0zm1-23zm0 13zm1 4zm0 1zm0-4zm1 3zm0-8zm1 5zm2-9zm1-1zm1-9zm0 22zm1-20zm1 21zm1-3zm1-9zm1 4zm2-13zm2 12zm1-6zm2 10zm0 5zm1-18zm0 10zm2 4zm1 5zm1-2zm0-5zm1 3zm1-6zm0-4zm1 3zm0 12zm1-22zm0 9zm1-5zm0 12zm2-11zm0 1zm1-7zm0 13zm3 5zm1 0zm1-21zm0 23zm0 5zm1-2zm1-11zm0-7zm1 8zm0 0zm1 2zm1-2zm2 2zm1 14zm0-16zm0-5zm1-3zm1 15zm0-2zm0 10zm1-5zm1-8zm1-1zm0 6zm1-15zm0 5zm1 11zm0-5zm0 1zm0-11zm3 6zm0-1zm0-7zm1 12zm1-4zm1 4zm1-3zm2-6zm0 5zm1-3zm1 10zm0 0zm0-6zm1-2zm0 10zm1 2zm0-10zm0-1zm1 2zm1 3zm1-2zm0 2zm1-15zm0 19zm0-9zm1 10zm1-9zm0 5zm0 7zm0-6zm1-20zm1 20zm0 4zm1 1zm1-7zm0 3zm1-14z"/>
<path stroke="#f7821c" stroke-width="20" d="M1014 2677zm15 1zm2 9zm6-14zm0-2zm8-10zm13 18zm26-15zm39 16zm20 1zm23 5zm11-21zm9 5zm8 16zm29 5zm76 1zm5-11zm30 1zm30-12zm15 21zm2 11zm5-16zm4-3zm0 22zm42-25zm15 21zm18-4zm28-4zm10 16zm36-14zm11-1zm0-9zm22 2zm21-1zm30-1zm3 10zm55 15zm40-2zm4-5zm5-12zm4 10zm3 11zm43-11zm41-2zm3 7zm8-8zm16 3zm17-9zm31 23zm7-12zm11-11zm14 8zm30 1zm5 15zm46-15zm34 6zm56 1zm12 5zm3 3zm15-4z"/>
<path stroke="#f7821c" stroke-width="17" d="M1402 2673zm3-3zm1-1zm2 0zm2 2zm3 0zm15 0zm2 3zm4-4zm0 3zm1-2zm2-1zm0 2zm1 0zm3-2zm6 3zm2-2zm19-1zm5 1zm1 0zm1-2zm16 6zm5-3zm1-2zm12 5zm2-3zm6 3zm3-1zm4 1zm32 3zm17-3zm7-2zm2 3zm3 3zm1-5zm3 0zm26 4zm1 1zm1-3zm2 2zm2-1zm7 3zm6-4zm0 3zm8-2zm0 4zm10-4zm5 1zm0-3zm3 4zm0-2zm3 3zm7 0zm6 1zm3-1zm22 1zm5 1zm0-4zm3-2zm10 6zm29 1zm1-2zm1 1zm3-1zm4 1zm7-4zm14 1zm14 3zm10 1zm5 2zm4-6zm2 3zm1-1zm3 2zm7 5zm4-3zm11-2zm8 4zm4 0zm1-4zm11 4zm0-3zm4 0zm5-2zm1 3zm3 2zm1 0zm11-4zm2 1zm7 4z"/>
<path stroke="#f8cc38" stroke-width="19" stroke-opacity=".90" d="M1021 2806zm6-13zm11-16zm39 38zm8-18zm3 8zm9 20zm32-29zm2 5zm11-4zm47 37zm10-18zm6-15zm21 11zm39-4zm16 3zm40-26zm24 28zm11 2zm5-9zm13 20zm1-19zm9-13zm4 19zm25-1zm36 1zm17-18zm11 15zm9-21zm9 21zm12-11zm4 7zm14 22zm19-8zm2-10zm9 2zm0-3zm5 5zm17-20zm31 13zm11 13zm16 17zm6-3zm6-10zm10 7zm1-30zm13-3zm12 22zm26-15zm13-7zm21 16zm8 11zm14-3zm6-13zm2 5zm1 27zm30-7zm8-22zm22-5zm5 28zm2-25zm10 32zm4-38zm3 19zm11 14zm1-12zm2 7zm12 16zm23-4zm12-9zm4 1zm34-20zm3 3zm2-15zm2 20zm5-24zm12 32zm2-9zm1-9zm1 19z"/>
<path stroke="#fad860" stroke-width="17" stroke-opacity=".85" d="M1129 2862zm2 1zm21-2zm2 0zm15-2zm10-7zm17 14zm39-1zm4 0zm7 0zm2-5zm13-3zm9 5zm22 2zm19 3zm11-8zm10 4zm58 3zm7-2zm33 2zm46-6zm33 5zm5 4zm57 3zm3-6zm26-4zm17 6zm22-2zm40 1zm42 1zm15 3zm34 2zm30-2zm2 7zm37-8zm47-4z"/>
<path stroke="#fcc21a" stroke-width="21" d="M1220 2898zm7 0zm0 4zm0 0zm3 3zm0-7zm1-6zm4 2zm2 7zm1-11zm2 8zm0 0zm0-2zm1 4zm3 2zm0-7zm0 1zm0 6zm2-7zm0 4zm2-2zm0 5zm0-3zm1-3zm2-3zm1 4zm0-1zm1-5zm2 6zm0-2zm1 6zm0-5zm0 5zm2-6zm1 1zm0-4zm2 7zm2 3zm0-13zm1 8zm0-1zm1-1zm2 6zm0-2zm0-8zm0 7zm2 2zm0 3zm0-3zm0-1zm2-6zm1 6zm0-4zm0 2zm1 4zm0-7zm2 0zm1 4zm1 0zm0 0zm1 4zm0-2zm0 2zm1 1zm1-4zm1 1zm3-1zm1-1zm0-10zm2 16zm0-13zm0 10zm1-2zm0 7zm1-11zm0 1zm1-4zm2 9zm0 5zm2-16zm0 17zm1-3zm2-1zm1 0zm1-2zm1-5zm1 9zm0-14zm1 2zm0 4zm1 9zm0-6zm1-6zm0 7zm1-10zm0 3zm3 9zm2 0zm1 4zm1-10zm2-1zm3 1zm3 8zm0-7zm0 10zm1-6zm2 0zm1-5zm0 4zm2-4zm1 1zm1-6zm1 15zm2-11zm0 11zm3-6zm2-6zm4 4zm0-4zm1 12zm3-9zm1-3zm1-7zm1 11zm2 4zm1-5zm2-5zm0 4zm0 1zm1 9zm2-10zm1 1zm0-1zm1 6zm1-15zm0 18zm3-11zm0 4zm2-2zm0-4zm1 5zm1 2zm1 2zm0 7zm0-9zm1 6zm0-5zm1-8zm0 3zm0-1zm1-1zm0-3zm3 7zm1 1zm1-6zm1 6zm0 1zm0-3zm2 0zm1-2zm0 2zm1 1zm0-1zm5-2zm0 3zm2 11zm1-5zm0-14zm1 7zm2-9zm1 9zm0 5zm1 5zm0-6zm2-3zm2-5zm0 5zm2-2zm3 9zm0-5zm1 0zm0-9zm1 3zm7 5zm1-4zm1 10zm3 5zm0-9zm1 0zm0-11zm5 20zm0-10zm7-3zm2 6zm1-3zm0 8zm0 1zm1-10zm0 6zm0-6zm1 11zm0-15zm0 13zm1-4zm1-2zm0 0zm1 1zm2-9zm0 17zm1-13zm2 7zm1-1zm0-3zm1 3zm1-5zm2-3zm2 10zm1-8zm0-6zm1 12zm0-2zm3-3zm0 5zm2-8zm0 6zm1-1zm2-3zm1-9zm1 3zm0 14zm2 1zm1-5zm0-2zm2-1zm1 6zm1-16zm1 17zm0-5zm2 3zm1 2zm0 2zm2-2zm3-5zm0 1zm3 7zm1-4zm2-7zm1-4zm0 8zm1 3zm0-12zm2 1zm2 7zm0-6zm2-1zm2 8zm2 2zm0 5zm3-8zm0-3zm0 13zm1-12zm0 0zm0 4zm1 3zm0 1zm3-8zm1-5zm1 9zm0 3zm0-6zm2 10zm1-7zm0 1zm1 5zm1-14zm0 12zm1-2zm1-4zm1 6zm1-6zm0 5zm1 0zm1 2zm1-6zm0 9zm0 0zm1-6zm2-7zm1 4zm1-3zm1 0zm3 4zm2-1zm2-10zm0 22zm1-8zm4-3zm1-7zm0 15zm1-6zm2 3zm0-8zm2-1zm0 6zm3 5zm0-6zm1-5zm0 1zm2 11zm1-11zm0 8zm1 2zm0-7zm1 5zm1-4zm2-2zm1 0zm2 2zm2 7zm1-7zm3 2zm1-13zm0 14zm2-3zm0 2zm2 2zm1-6zm4 7zm1-14zm1 8zm1 11zm0-22zm1 16zm1-5zm0-5zm1-2zm1 2zm2-3zm3 13zm1-10zm0 6zm1 7zm3-1zm1-5zm2-13zm0 4zm0 9zm1-9zm0 0zm2 19zm4-17zm0-6zm0 9zm1 10zm1-8zm2-9zm2 16zm1-6zm1-1zm0 2zm0 5zm0-5zm1-5zm2 15zm1-6zm0-1zm1 3zm1-5zm2 3zm1-5zm1 4zm3 0zm1-6zm1 3zm1-10zm0 12zm1-16zm0 2zm2 8zm1 4zm1 6zm2 1zm3-4zm2 6zm0 3zm5-8zm0-7zm1 6zm0-12zm0 16zm2-2zm0-4zm0 0zm0-13zm3 9zm0 14zm1-14zm2-2zm1 19zm1-22zm2 3zm1 2zm1-4zm0 9zm0 0zm2 5zm2 5zm1-18zm1 9zm0 2zm1-7zm0 0zm0-4zm1 7zm0-3zm0 4zm0 0zm1-2zm0-1zm1 1zm2-6zm0 8zm1-3zm0 0zm1 1zm0-4zm1 2zm0 2zm1-7zm1 4zm0 5zm3-11zm0 11zm1 11zm1-7zm0-11zm3 7zm1-8zm0 12zm0-8zm1 9zm4-3zm1 2zm3-15zm1 5zm1 9zm1-1zm2-7zm2 6zm1-5zm4 16zm7-15zm0-3zm1 6zm0-9zm2 3zm0 7zm1 4zm1-8zm1 7zm0-5zm0 7zm3 3zm2-3zm2-3zm2-11zm2 7zm3 3zm0-2zm2 13zm0-8zm1-4zm0-3zm1-1zm0-1zm1 1zm0-8zm1 9zm1 3zm1 2zm1-5zm1-5zm0 7zm0-7zm0 14zm2-11zm0 13zm3-15zm2 9zm4-7zm0 2zm0 1zm1 3zm0 6zm1-8zm1-10zm0 1zm0 15zm3-4zm0 2zm0 4zm1 2zm0-11zm1-2zm3 5zm0-14zm1 14zm0-3zm1 2zm3 2zm0 2zm0-4zm2-6zm1 13zm1-9zm0 0zm1-4zm4 0zm0 0zm0 6zm2 3zm0-2zm1-4zm2 3zm0 3zm1-1zm2-9zm0 6zm2 0zm0 6zm1 7zm0-12zm0 6zm0-13zm3 7zm1-4zm3 0zm3-6zm2 4zm0 2zm1 7zm0 8zm4-10zm0-9zm0 12zm1-5zm0-8zm1-1zm0 12zm2 6zm1 3zm0-1zm5-6zm1-11zm2 12zm1-9zm1-5zm1 9zm0 4zm2-6zm5-9zm1 11zm0 3zm0-9zm2 14zm1-4zm0-1zm2-2zm3-8zm0 8zm1-5zm0 0zm4 1zm0 4zm1-11zm2 14zm1-4zm1-3zm0 16zm3-15zm4-1zm0 4zm0 1zm1-7zm1 9zm1-9zm0 3zm1 7zm2-6zm0 0zm1 0zm1 10zm2-3zm0 1zm0-4zm3 6zm0-6zm0 0zm1-11zm0 6zm0-3zm1 5zm0 7zm1 2zm1 0zm3 1zm1-7zm2-7zm1 2zm0 14zm3-13zm1-6zm2 13zm1 0zm1 2zm1-6zm0 7zm2-4zm2 4zm1-1zm0-12zm0 3zm3-3zm1 13zm0-8zm6 1zm4 0zm0-1zm0 1zm2-5zm4-1zm1 8zm1 5zm2-3zm1-4zm0-1zm1 10zm1-6zm1-8zm0 0zm0 4zm2 8zm1-3zm0-8zm1 10zm0-6zm0 2zm1-6zm3 9zm0 0zm2-9zm1 2zm0 3zm0 8zm2-11zm1 13zm0-15zm3 8zm2 1zm1-4zm1 1zm0-6zm3 3zm2 0zm1 1zm0-10zm0 10zm3-1zm1 0zm0 6zm0-3zm2-7zm1 8zm1-7zm3 3zm0 3zm1 3zm0-8zm1 5zm1 6zm1-3zm0-3zm0-1zm1 4zm1-7zm0 1zm0 3zm1-7zm0 7zm1-6zm2 9zm0-8zm0-1zm5 6zm1 1zm2-4zm0 10zm1-3zm0 0zm1 4zm0-10zm0-3zm2 4zm2 6zm0-5zm2-6zm0-2zm0 5zm0-5zm1 8zm1 1zm0-2zm1 1zm1 0zm4 1zm1 9zm1-11zm0 10zm0-11zm1 1zm1 2zm1 2zm1 4zm0-5zm2-7zm3 6zm1 0zm1 0zm1-4zm1-1zm1 4zm0-4zm0 3zm3 0zm1-2zm1 0zm3 12zm0-1zm1-7zm0 6zm2-9zm2 3zm1-3zm0-3zm2 11zm0-3zm2-1zm2-3zm1-5zm0 2zm1 5zm1-5zm0-3zm0 6zm2-2zm1 2zm5 4zm1-3zm0 4z"/>
<path stroke="#fcc21a" stroke-width="19" d="M1210 2904zm4-5zm48-6zm62-4zm0 15zm13-1zm75-3zm65 2zm70-11zm4 10zm5 0zm9-5zm18 13zm34 0zm12-3zm15-5zm33 7zm28-7zm77-3zm63 19zm4-9zm8 5zm2-4zm8-10zm3 21zm46-19zm6 16zm29-1zm19-17zm10 11zm78 3zm26 9zm25-13zm0 2zm29-5zm4 19z"/>
<path stroke="#3cab8c" stroke-width="19" stroke-opacity=".95" d="M1332 3009zm3-21zm15 23zm1-22zm5 9zm17 15zm11-2zm3-6zm7-16zm1 2zm6 7zm7-9zm2 20zm1-11zm2 3zm8 4zm1 5zm3-13zm3 7zm3-2zm8 3zm3-11zm5 6zm3 13zm6-22zm2 6zm6 13zm12-16zm13 8zm2-2zm4 1zm0 12zm2 6zm0-26zm20 14zm0 3zm9-1zm2-5zm1-3zm5 5zm5-13zm5 17zm4 11zm1-10zm3 3zm2-15zm1 1zm1 9zm4 7zm16-12zm2-3zm2 7zm3-6zm10 8zm1 3zm6-4zm1-5zm12 5zm23 12zm2-7zm4-2zm1-2zm3 5zm2-18zm13-4zm19 37zm4-21zm6 8zm11 4zm19-3zm0-13zm6 9zm8 13zm6-12zm1 2zm1-4zm2 4zm6-9zm6-3zm1 8zm1-5zm20 11zm1-1zm3-7zm4 6zm0-1zm2-2zm0-1zm3 9zm4-9zm0 2zm2-10zm4 18zm9-12zm18 10zm5-7zm9 10zm2-8zm5-3zm9-2z"/>
<path stroke="#3cab8c" stroke-width="20" stroke-opacity=".90" d="M1071 2985zm4-1zm36 11zm16-3zm11-3zm30 0zm130 10z"/>
<path stroke="#12908a" stroke-width="21" d="M1123 3236zm2-7zm2 0zm2 7zm2-5zm1 3zm0 4zm7 0zm3-2zm3-13zm1-1zm1 4zm4 9zm1 2zm0 2zm1-13zm1 10zm1-5zm3 2zm8-4zm0 13zm3-11zm0 8zm0-7zm0 6zm1-6zm3 0zm0 6zm0-5zm2-3zm1 0zm1 2zm1 15zm1-16zm3-2zm3 7zm0-5zm2 7zm2 2zm0-7zm0-5zm3 12zm2-4zm2-1zm5-1zm5-3zm2-3zm0 13zm1-9zm0 7zm1-16zm2 11zm1-5zm2-1zm1 17zm1-10zm0 1zm3 1zm6 4zm0-5zm0 3zm1 7zm1-19zm2 7zm3 10zm1-13zm0-5zm1 16zm2-14zm1 8zm2-1zm0 3zm1-2zm1-6zm3 6zm3 9zm2-13zm0 2zm1-4zm2 1zm1 15zm0-8zm2 11zm1-20zm3 7zm1 14zm0-4zm0-14zm1 4zm2 6zm1-10zm1 8zm7-2zm1-3zm2 16zm1-21zm9 19zm1-8zm1-9zm3 6zm1-4zm2 11zm1 2zm3-14zm0 4zm9-8zm2 5zm6 14zm2-14zm3 0zm1 8zm0-5zm2 5zm1-10zm0 13zm3 3zm0-8zm1-2zm1 1zm3 6zm0-1zm4-3zm1-13zm5 16zm2-6zm0-7zm3 16zm8-16zm0 6zm1 12zm2-8zm3-8zm0 11zm0-7zm3 0zm2 8zm4-2zm2-4zm1-2zm0 8zm1-7zm2-5zm1 1zm0 7zm1-4zm2 1zm1 3zm0-5zm0 11zm7-18zm2 4zm0 1zm1 11zm0 9zm0-9zm1-6zm1 8zm5-4zm1-3zm2-1zm7-10zm1 19zm2-8zm0 12zm1-9zm1-4zm1-5zm6 10zm1 0zm1 5zm0-8zm3 1zm1-1zm1-2zm0-3zm1 5zm1 15zm0-16zm7 2zm1-2zm3 11zm0-4zm2 2zm4-11zm1 10zm2-16zm2 21zm0-14zm6-5zm2 15zm0 3zm3-6zm0 2zm2 0zm2-3zm2-1zm0 7zm2-10zm5-7zm5 25zm2-2zm2-3zm2-12zm0-7zm1 1zm0 17zm0-8zm1-3zm5 1zm1 2zm0 13zm0-7zm2-17zm0 12zm1 2zm2 0zm5-5zm0-1zm4 8zm0-5zm1 3zm1-7zm1 15zm1-16zm3 5zm5-9zm0 2zm1 1zm0 14zm2-3zm1 3zm3-21zm1 11zm1 16zm2-14zm5-5zm1 16zm1-22zm1 8zm0 4zm1 3zm1 7zm0-9zm0-4zm1 2zm1-8zm0 12zm2 6zm2-7zm2 4zm0-7zm4 9zm4-5zm0-4zm2-6zm3 4zm9 4zm1-7zm1 7zm2 1zm2-9zm3 5zm1 4zm1 7zm1-4zm1-8zm5-7zm3 12zm0 10zm1-8zm2 0zm0 0zm1 1zm1-7zm1 5zm4 0zm3 5zm1-4zm5 5zm1 1zm3-10zm1 11zm0-7zm0-2zm0-1zm6-3zm0 12zm2-8zm2 12zm0-11zm2 3zm4 4zm3-10zm1 0zm1 0zm1-4zm0 2zm1 9zm2-6zm0-3zm1 17zm0-17zm3 3zm2 3zm6-13zm0 0zm0 11zm2 14zm1-19zm1 11zm0 4zm4-7zm1 8zm0-12zm2-5zm1 5zm1-10zm0 3zm1 9zm0-5zm1-3zm0 13zm1 8zm0-8zm4 1zm1 2zm0-2zm1-4zm1-9zm2 12zm1 9zm5-7zm2-4zm5-2zm2 0zm2 13zm0-11zm4-4zm5-2zm5 9zm0 1zm3-5zm3-4zm1 8zm2 0zm4 7zm3-9zm4-3zm0 3zm2 9zm1 2zm5-15zm1 9zm2-9zm1-2zm4 12zm0-4zm1 9zm3-16zm1 13zm1-7zm0 6zm0-10zm0 6zm1 2zm1-5zm4 3zm1-2zm0 2zm1 1zm1-7zm4 16zm3-22zm3 19zm2-10zm3 1zm2-2zm4 5zm2 5zm1-15zm4 1zm6 3zm12 10zm0 1zm2-9zm1 15zm1-15zm4 1zm1 0zm1 1zm3-6zm1 14zm2-8zm2-1zm6 6zm1-1zm1 6zm1-10zm0 5zm1-6zm6 8zm0-13zm1 12zm0-3zm2 1zm0-3zm0 2zm1-13zm1 9zm1 4zm3-4zm2-6zm1 19zm0-7zm0-3zm1 6zm2-12zm4 13zm3-6zm1-9zm1 8zm1-2zm1-3zm0 13zm3-6zm0 8zm0-22zm0 17zm4-4zm1-4zm2-8zm1 8zm1 5zm1-2zm2 1zm3 8zm0-1zm1-9zm1 0zm2 2zm0-3zm1 11zm5-18zm0 10zm0 11zm1-2zm4-15zm0 9zm0-2zm9-5zm0 4zm1-5zm2 8zm0-3zm2 4zm3 9zm1-13zm2-7zm1-2zm3 2zm1 12zm5-17zm0 7zm3 12zm1-3zm1 3zm1-5zm3 3zm0 10zm0-19zm1 15zm1-4zm1-2zm1-9zm0 4zm1-3zm4 9zm3-15zm0 8zm7-9zm0 2zm0 10zm2 5zm1 0zm0-5zm1 4zm1-13zm6 14zm1-11zm4-3zm4 9zm7-6zm0 5zm0 15zm2-13zm2 6zm3-8zm4 6zm0 1zm2-5zm4-4zm1-5zm0 22zm4-15zm0 6zm1-11zm0 2zm4 15zm2-4zm1-5zm2 9zm2-11zm2 8zm2 5zm1-3zm0-13zm2 3zm2-1zm3 16zm4-4z"/>
<path stroke="#12908a" stroke-width="19" d="M1009 3229zm37 0zm72 7zm47 7zm126 4zm39-24zm65 11zm14 13zm21-8zm44 19zm28-14zm6-8zm15 27zm14-20zm48-8zm1 16zm5 3zm21-7zm23-6zm8 2zm93 22zm1-18zm27 2zm20 20zm64-9zm5-7zm21 12zm12-2zm29-2zm6 9zm53-15zm43 16zm11-5zm69 8zm4-9zm2 0z"/>
<path stroke="#12908a" stroke-width="20" d="M1182 3289zm0-1zm1 8zm3-9zm6 8zm0-7zm0-4zm3 1zm1 0zm2 6zm1-2zm7 3zm0 0zm1 8zm0-9zm5 2zm1-2zm1-1zm0-3zm1 11zm1-16zm9 4zm1-2zm0 9zm7 0zm1-3zm0 4zm1-1zm8 3zm2-6zm1-6zm1 11zm4 0zm0-1zm3-5zm7 4zm1 2zm3 4zm3-10zm2 6zm1-1zm1 3zm1 0zm3-3zm0 0zm0-3zm3 0zm2 1zm2 6zm6-14zm1 2zm0 5zm0-7zm1 16zm1-11zm7 7zm0-4zm2 2zm4-2zm2 6zm1-10zm1 11zm2-3zm6-8zm0 5zm0 0zm2 9zm7-9zm2 4zm6-10zm1 12zm3-4zm2-2zm1-2zm6 4zm10-5zm4 3zm1 2zm1 1zm3-4zm2-2zm1 9zm0-1zm3 5zm0-4zm11-9zm1 1zm3 8zm4-9zm1-1zm4 6zm4-1zm1 2zm1-9zm4 9zm4 0zm1-3zm2 4zm1 5zm6-10zm4 6zm2-5zm2 2zm1-2zm4 6zm3-6zm1 10zm2-10zm3-2zm3 9zm1-3zm6-7zm0 1zm2 2zm3 3zm1 1zm4 5zm2-5zm1 1zm1-4zm4 10zm2-6zm3 5zm4-13zm4 5zm5 0zm0-6zm1 14zm1 1zm1-3zm1-12zm1 8zm1 7zm2-1zm1-6zm3-2zm1-7zm0 9zm1 1zm1-3zm0 9zm1 1zm1-6zm1-1zm2 2zm0-2zm1 0zm2-7zm3 7zm0 6zm1-1zm0-12zm4 9zm0-8zm1 13zm1-9zm1 0zm1-5zm2 12zm5-13zm3 5zm1 1zm1 10zm0-12zm4 2zm3 11zm2-8zm6-3zm0 1zm2 3zm7 1zm7-2zm5 2zm6 2zm2-2zm2-10zm5 10zm0-7zm1 10zm1-3zm1-6zm4 5zm1-5zm3 8zm0 1zm4-4zm6 4zm2-10zm6-1zm5 3zm2-2zm1 4zm2 3zm0 4zm2-1zm3-7zm1 3zm1 8zm4-2zm1-2zm1-4zm2 1zm1-1zm1 4zm1-9zm1 10zm2-1zm1-3zm2-5zm2 1zm4 12zm4-2zm2-14zm4 10zm2 1zm0-3zm2 2zm0-4zm1 2zm4 0zm0-3zm1 5zm6-6zm1 9zm7-6zm1 0zm1-1zm1 6zm0-4zm1-6zm1 4zm0 13zm4-11zm3 7zm1-6zm1 2zm1-1zm4 3zm1 3zm2-7zm6 2zm1 2zm1 2zm1-9zm9 4zm1 1zm6-3zm1 4zm0 6zm0-5zm3 4zm2-7zm0-2zm1 4zm0 0zm4-6zm9 11zm2-12zm0 0zm0 5zm1 4zm0-2zm1-1zm7 3zm3-2zm1 0zm6 0zm3-1zm0 2zm4 7zm2-12zm1 4zm0 1zm3 2zm2 0zm2 3zm3-5zm1 2zm7-8zm2 6zm5 2zm3-4zm4-7zm5 17zm4-14zm0 5zm2 6zm4 0zm4-8zm3 4zm1-5zm3 10zm10-5zm3 5zm3-8zm0 1zm2 0zm5 10zm4-2zm1 0zm2-3zm0-10zm2 12zm3-6zm3 1zm3 2zm0-4zm0 0zm5-3zm6 7zm3 4zm0-6zm4 1zm3-2zm12 0zm0 2zm2-2zm2 1zm1 11zm1-13zm4 2zm0 0zm2-1zm1-5zm0 2zm1 10zm0-8zm1 2zm0 0zm1 0zm2 0zm1 4zm0-2zm11-3zm3-4zm3 4zm1 7zm4-1zm1 3zm4-4zm2-7zm1 4zm1-1zm3 9zm1-12zm2 9zm3 1zm1-6zm6 1zm6 9zm4-1zm1-14zm0 9zm11-5zm3 5zm3-6zm4 2zm4-5zm1 14zm2-5zm2 1zm6 5zm1-14zm5 3zm3 3zm0 6zm1-1zm1-5zm1 5zm1 5zm5-1zm0-10zm2 3zm2-4zm2-6zm5 19zm4-8zm4 0zm7-3zm3 3z"/>
<path stroke="#12908a" stroke-width="19" d="M2066 3307zm5 2zm8 3zm11 1zm69 1zm1-1zm4 3z"/>
<path stroke="#c8dc28" stroke-width="21" d="M1062 3263zm6-4zm3 1zm7 1zm7 4zm1-5zm1-1zm1 1zm1 0zm7-1zm0 0zm8 4zm1-1zm3-1zm3-1zm2 3zm1-1zm2 2zm3-1zm4-2zm2 1zm0-2zm2 4zm1-5zm1 2zm0-1zm0 5zm3-2zm3 4zm3-3zm3 1zm5-2zm3 0zm3-3zm2 3zm4-2zm4-1zm1 5zm2-3zm7 4zm7-4zm1 2zm1 1zm1 1zm4 0zm1 1zm0-1zm6-2zm2 2zm3-1zm1 4zm3-9zm3 5zm0-1zm2 4zm8-2zm0-4zm1 2zm2 3zm11 0zm1-2zm3 2zm2-2zm7-2zm1 0zm2 3zm1 0zm1 1zm1-1zm0 1zm0-1zm3-1zm2-3zm2 8zm2-2zm7-3zm2 2zm5 0zm0-1zm3 1zm2-2zm1 2zm0 0zm0-1zm1 1zm4 3zm1-1zm1 0zm1-1zm7-1zm5-1zm1 5zm1-3zm3 2zm0-6zm1 4zm5 2zm1-1zm0-1zm0-2zm1 2zm0 2zm9-1zm4 2zm1-3zm1 3zm1 2zm6-3zm0-2zm3 1zm0-2zm1 3zm5-3zm10 5zm5 2zm2-7zm6 1zm1 1zm0 3zm7-4zm1 2zm0-3zm1 4zm1-4zm1 5zm2-5zm11 3zm5 3zm1 1zm2-2zm1 2zm1-4zm4 4zm2-3zm3 1zm1-2zm0 3zm2-5zm0 1zm5 5zm4-6zm2 4zm1 0zm5-2zm4 2zm1-1zm3 3zm7-2zm3 1zm0 1zm5-5zm5 4zm9 3zm2-4zm1 0zm0 1zm1-2zm5 1zm1-1zm4 0zm1 6zm5-6zm1 1zm1 3zm1 0zm4 0zm0-1zm0 0zm9-1zm2 2zm1 1zm1-3zm6 4zm0-1zm9 1zm9 1zm3-4zm0-2zm0 2zm1 3zm0-5zm0 2zm2 1zm0 2zm5-3zm7 3zm5-1zm1 3zm2-4zm8-2zm1 2zm5-1zm6 4zm1-2zm1 2zm1-1zm0 0zm4-1zm2 3zm4-4zm3 5zm0-2zm1 0zm7 3zm0-4zm5 1zm0-3zm12 0zm0 1zm0 3zm2-3zm0 6zm0-3zm2 2zm4-4zm0 0zm1 1zm2-1zm0 3zm0-1zm4 1zm2 0zm6-3zm0 1zm3-3zm4 2zm2 1zm4 1zm3-1zm2-2zm1 1zm10 1zm1 1zm1-2zm1 0zm0 0zm1 5zm2 0zm2 0zm2 1zm7-2zm2-1zm5 0zm1-1zm3 0zm2 1zm4 4zm6-8zm4 8zm3-3zm5 0zm3-1zm2 2zm0-1zm2-1zm10 0zm1 1zm2-4zm7 5zm5 1zm2-3zm2 3zm2 3zm0-6zm1 1zm0 5zm3-4zm2 4zm1-3zm0 2zm2-3zm0-1zm0 7zm2-9zm6 5zm1 3zm3-8zm4 3zm2 6zm7-1zm1-4zm1 2zm3 1zm5-2zm0 3zm3-3zm5 0zm1 1zm9 1zm20-1zm1 0zm2-3zm1 4zm1 1zm5-1zm2 1zm1-5zm2 2zm1 4zm6-5zm1 2zm0 4zm3-2zm1-1zm4 3zm2-1zm1 0zm0 1zm2-2zm0 0zm1-4zm0 4zm6 0zm0-3zm1 3zm1-1zm3 1zm4-2zm2 4zm3 0zm2-2zm1 1zm0-1zm1-1zm3 3zm0-1zm1-4zm4 3zm3 0zm6-3z"/>
<path stroke="#f5a623" stroke-width="19" d="M1150 3406zm1-3zm0 1zm3-1zm0 2zm1 0zm1 0zm1 0zm0 2zm0-3zm5 0zm4 2zm1-1zm3-1zm0 2zm9-3zm2 3zm4-3zm2 4zm1-4zm3 6zm3-3zm10-3zm7 1zm1 3zm0-3zm3 3zm6-2zm1 5zm3-3zm0 0zm5 2zm8-3zm7 2zm5-3zm4 1zm1 3zm3-1zm0-1zm1-1zm3 0zm2 2zm1 0zm6 0zm4 0zm0 1zm0 1zm4-1zm2-1zm2 0zm5 1zm0-2zm0 3zm1 0zm3-1zm1-2zm1 2zm4 0zm4-2zm6 2zm1 0zm0-2zm2 3zm1-2zm1 3zm5 0zm0 0zm1-2zm0 2zm2 2zm0-4zm2 3zm6-2zm2-1zm0 2zm6 1zm1 1zm1-3zm3 2zm0 2zm5-2zm4 1zm0-2zm1 0zm0 0zm4 1zm5 0zm0 0zm4-1zm3 1zm2-2zm5 4zm5-4zm0 6zm0-3zm1-1zm3 1zm9 1zm3-1zm0 1zm1-1zm1 1zm1-1zm0-2zm0 4zm1 0zm5-2zm3 1zm1 2zm0-1zm0-2zm3 0zm4 2zm2-3zm1 2zm4 1zm0-1zm3 0zm8 1zm1-3zm6 3zm2-1zm3 1zm2-1zm2 2zm1 1zm1-3zm1 4zm6-2zm0 2zm1-2zm4 1zm4-3zm1 3zm0-1zm1 2zm2-2zm1 1zm2-2zm0 2zm1-3zm0 3zm10-2zm0 0zm4 5zm2-2zm1-1zm1 1zm2-2zm2 1zm0 2zm1-1zm15 0zm6 1zm0-1zm3 2zm4-1zm1 0zm1 0zm10-2zm2 0zm0 0zm2 4zm5-3zm3 2zm2-1zm2 2zm0-3zm3 5zm1-3zm1-3zm1 2zm1 2zm4 0zm0 1zm1-3zm0 1zm3 0zm0 1zm2 1zm0-1zm2-2zm0-2zm4 3zm0-3zm3 5zm2-2zm3 2zm1-2zm6 3zm6-2zm2 1zm1 0zm2-4zm5 3zm2 0zm0 0zm2-2zm4 2zm1 1zm6-2zm0 1zm3 0zm1 0zm5 0zm1 4zm0-1zm3-1zm1 2zm1 0zm1-2zm3-1zm1-1zm4 1zm1-1zm2 1zm0 0zm1 1zm1-2zm4 2zm3 0zm4 3zm1-1zm1 0zm1-3zm1 2zm1 1zm5-2zm0 0zm1 2zm1 0zm0 1zm8-4zm0 0zm2 3zm8 1zm3-1zm1 1zm3-3zm3 4zm2-4zm4 2zm1 0zm1 1zm10 1zm6-1zm0 0zm2 0zm4 0zm5-1zm0-1zm0 3zm3-1zm4 2zm2 0zm0-1zm1-2zm1 1zm0 2zm6-3zm2 1zm4 1zm7 0zm1 0zm0 0zm1 0zm2 0zm1 1zm0-2zm1 1zm1 0zm1 0zm0 1zm1 0zm5 2zm2-3zm1 1zm2 1zm2 2zm2-4zm2 3zm5-1zm1-2zm5 1zm3 1zm0 0zm2 1zm3-2zm4 3zm6 1zm0-2zm6-1zm3 0zm4 0zm2 4zm1-1zm5-1zm0 2zm9-3zm4-2zm4 5zm1-4zm1 3zm1-2zm1 0zm0-1zm1 2zm0 0zm7 2zm3-3zm0 4zm2-1zm1-1zm6-1zm3 2zm0 0zm1 0zm1-3zm0 4zm5-2zm0 0zm1-1zm0 4zm0-1zm2-2zm0-1zm0-1zm1 1zm2 1zm5 4zm1-2zm3 1zm9 0zm3-4zm2 2zm4 3zm3-2zm2 0zm2 0zm0-1zm3 2zm1-1zm1 2zm3-3zm1 2zm7-2zm3 2zm1-2zm0 0zm6 1zm3 0zm4 1zm3 3zm0-1zm7-1zm2-3zm0 3zm1-2zm2 1zm4 3z"/>
<path stroke="#f5a623" stroke-width="17" d="M2001 3437zm9 2zm18-1zm17 2z"/>
<path stroke="#f9a824" stroke-width="17" stroke-opacity=".80" d="M1027 3398zm10 3zm25-4z"/>
<path stroke="#b3175c" stroke-width="21" d="M1203 3490zm0-3zm2-3zm2 6zm0 0zm2 0zm1-9zm0 9zm1-12zm2 11zm5-9zm0 9zm2-8zm0 2zm1-2zm0 6zm1 1zm2-2zm0 3zm0-11zm0 5zm5-2zm1 8zm1-2zm0 3zm1-11zm1 12zm2-8zm0 4zm1 1zm3 2zm4-3zm1 2zm2-1zm0-7zm3 3zm0 6zm1-4zm1 2zm0-11zm2 4zm6 7zm1-9zm1 7zm1 4zm0 2zm1-7zm1-3zm0 1zm1 8zm3-4zm0 8zm2-2zm0-9zm0 7zm1 7zm6-8zm1-6zm3 9zm8-6zm1 5zm0-3zm0-3zm2-3zm3 4zm1-5zm1 7zm0 1zm0 8zm1-2zm3-11zm0-4zm2 6zm2 7zm0-9zm2-4zm1 5zm0-3zm2-6zm1 13zm0-3zm3-5zm0 11zm1 4zm0-7zm1-1zm5-1zm1 6zm3-12zm0 1zm0 2zm1 10zm2 1zm0-3zm1 3zm0-8zm0 6zm1 1zm0-4zm1-5zm4-3zm0 10zm1 0zm0-10zm0 6zm2 1zm1 2zm2-6zm0 0zm2-5zm1 7zm0-4zm0 10zm0 1zm1-5zm1-4zm0-1zm2 11zm0-3zm0 3zm4-9zm2-2zm1 13zm4-18zm1 3zm0 10zm3-1zm1-3zm2 10zm1-8zm0-2zm1 2zm0-8zm1 10zm0-11zm0-2zm1 10zm0-1zm3-1zm0 1zm1 4zm0-3zm3-2zm1 10zm2-11zm1-3zm0 3zm1 1zm0 9zm0-8zm1-3zm0 5zm0-3zm2 7zm4-14zm2 16zm4 0zm0-11zm3-2zm2 2zm5 4zm1 1zm0-4zm0 7zm2 0zm1-7zm1 6zm0-6zm4 7zm0-2zm1-3zm0 1zm1 5zm1-4zm1 8zm1-13zm1 6zm0 2zm1 8zm1-20zm0 11zm1-6zm1 1zm1 8zm0-10zm1 5zm1-5zm3 8zm1-5zm1 2zm0 1zm1-5zm3 7zm0 0zm0-7zm2 4zm0-11zm2 12zm0 1zm1-6zm3 7zm0-9zm4-4zm2 7zm1 10zm2 1zm2-15zm1 13zm2-4zm2-8zm1 3zm1-2zm1 6zm1 0zm2 1zm1-14zm1 11zm0-3zm2 14zm3-11zm1 6zm2-4zm0-5zm1 3zm2-4zm0 4zm1 0zm0 1zm1-2zm0 2zm1 4zm0 4zm1-7zm0 4zm3-1zm0-7zm1 6zm1-6zm3 11zm1 4zm3-16zm1-4zm0 13zm1-4zm0 6zm2-3zm1-2zm1 2zm3-6zm0 6zm0 0zm2-8zm1 7zm0 0zm1 3zm1-15zm2 4zm1 6zm0 0zm0-4zm0 6zm1-3zm4 9zm0-11zm2 2zm0 4zm0 4zm1 3zm3-13zm1 4zm0-8zm2 14zm1-5zm0 7zm1-13zm1 5zm1 5zm1-8zm2 2zm3-7zm5 8zm2-8zm0 13zm1 0zm0-2zm1 9zm0-7zm2-6zm0 4zm3 8zm1-4zm2-8zm2 2zm0-6zm1-5zm0 7zm1 8zm7 1zm4-13zm1 20zm1-8zm5-13zm0 4zm2 2zm1 3zm0-6zm1 3zm1 15zm2-19zm1 9zm1-7zm0-2zm0 15zm1-10zm1 5zm1 4zm1-3zm1-3zm3-10zm2 17zm1-2zm1-7zm0-3zm2 8zm1-2zm1 4zm0 8zm3-13zm1-2zm1 2zm0 2zm1-12zm0 19zm2-13zm1 4zm2 6zm1-3zm3-6zm0 3zm1 2zm0 5zm0 1zm1-9zm0 4zm1-2zm0-14zm3 18zm0-3zm1-9zm1 13zm5-13zm2 11zm0 4zm2 2zm0-15zm0 6zm1-2zm1 1zm1-8zm0 23zm2-23zm1 0zm1 5zm0-7zm0 17zm3 1zm2-7zm1 5zm2-14zm2 9zm1 1zm1 4zm0-11zm2 8zm2-6zm0 4zm1 6zm2-2zm3-7zm3 2zm1 4zm1-8zm1 6zm2-11zm1 19zm4-7zm2 8zm1-11zm3 4zm1-6zm2 0zm3 1zm0 0zm2 10zm0-4zm1-8zm0 9zm1-12zm0 9zm0 5zm2-8zm0 12zm0-11zm1-8zm1 11zm0 2zm0 1zm2-4zm1 8zm1-5zm1 1zm4-1zm1-4zm0 3zm1-5zm0 1zm2 3zm1-11zm0 6zm0 7zm1-2zm1-5zm0-1zm1 2zm0 7zm0-8zm1 9zm0-12zm1 12zm0-7zm0 11zm0-15zm1 1zm0 7zm1-4zm0 7zm1-10zm2 0zm3 4zm2 2zm3 13zm1-21zm1 20zm0-6zm0-9zm5 7zm1 0zm1-6zm2-4zm4-4zm0 6zm0 1zm1 3zm1-1zm4-3zm4 4zm1 0zm2-9zm0 7zm0 3zm1 6zm0-13zm3-3zm1 8zm1-6zm3 10zm2-1zm0-12zm0 16zm0-2zm0-6zm1 3zm1 3zm1-8zm3 3zm1 3zm1 1zm0-2zm1-5zm4 7zm1-2zm0 10zm1-1zm1-1zm0-12zm1 2zm2-11zm1 26zm0-10zm0-12zm2 14zm0-6zm1 5zm1 4zm4 1zm0-5zm3-15zm0 13zm1 4zm1 4zm0-16zm3 5zm0 9zm1 0zm0 2zm0-12zm7 0zm1 4zm0-2zm2 14zm3-10zm0 0zm1-5zm1 3zm2-10zm2 6zm5 5zm0 0zm3-4zm1 4zm1-15zm2 7zm1 10zm0-12zm1 17zm0-16zm1 9zm1 4zm1-9zm2-1zm1 13zm4-14zm1 11zm1-1zm5-7zm2 0zm0 6zm2 2zm1-7zm1 0zm1 2zm1 0zm2-1zm1 5zm1-6zm0 5zm1-1zm0 9zm2-2zm2 3zm1-2zm0-6zm1 0zm0-4zm3-4zm2-5zm2 18zm3-1zm1-8zm1 8zm0-1zm0-19zm1 17zm0-5zm1 7zm1-7zm1 5zm0 3zm1-15zm0 5zm0 4zm1 5zm2-6zm0-9zm0 16zm2-10zm2-4zm1 3zm1-5zm0 12zm0 5zm0-10zm1 4zm0 1zm1 6zm1-7zm3 6zm2-4zm2-7zm0 9zm1-4zm1-13zm4 8zm0-5zm0 20zm1-11zm0 6zm1-14zm0 13zm1-1zm1-13zm0 5zm2 4zm1-7zm2 4zm1 4zm0-2zm1-7zm3 7zm2-1zm2-8zm0 17zm2-12zm1-7zm0 9zm1-2zm1 4zm0 4zm1-4zm0-5zm1 4zm0-1zm1 0zm0 12zm1-18zm1 5zm3-6zm1 10zm0 11zm1-8zm1-13zm0 4zm0 4zm2 3zm0 6zm0-7zm0-5zm3 10zm2 7zm1-6zm4-3zm0-1zm2 1zm0-2zm4 3zm3-1zm0-3zm2 4zm1-2zm1-7zm1 7zm1-3zm3-3zm2 6zm1-3zm2-10zm1 14zm0-5zm2 4zm0-9zm1 12zm2 2zm1-15zm0 13zm2 0zm0-9zm1 2zm1 10zm2 0zm3-6zm0-2zm1-1zm1-4zm1 7zm3-6zm0 11zm1-2zm1-1zm0 6zm0-5zm2 6zm2-14zm1 10zm1-6zm3-1zm1 6zm2-5zm1-9zm1 19zm5-2zm0 2zm2-13zm1 6zm1-11zm1 5zm2 9zm1-13zm0 9zm2-6zm1 3zm1 2zm0 7zm2-3zm1-1zm0 0zm0 6zm2 3zm0-6zm0-4zm2-6zm0-3zm1 7zm0 9zm0-13zm1 7zm0 1zm1-9zm0 1zm1 8zm1 8zm0-15zm0 3zm4 3zm1-4zm2 5zm3-5zm4-4zm1 7zm0-6zm0-5zm3 2zm0 6zm1 6zm0-13zm4 5zm0 7zm1 0zm7 5zm0-7zm2-4zm2-3zm1-1zm2 10zm2-3zm2-1zm0 0zm3 9zm1 1zm0-8zm1 3zm6 3zm1-10zm2-1zm0 5zm0-8zm2 14zm0-7zm1-8zm0 14zm6-10zm6 0zm1 7zm1 3zm1-6zm0-3zm2 3zm1 0zm0 4zm0-2zm1-8zm0 14zm1 1zm1-2zm2 0zm1-5zm7 1zm0-2zm1-5zm4 6zm0 5zm1-6zm2-1zm0-4zm1 15zm0-8zm1 3zm1-6zm0 1zm0-2zm1 1zm1 3zm1 4zm5-13zm0 16zm3-6zm4-9zm3 4zm0 4zm0-1zm1 1z"/>
<path stroke="#d490b4" stroke-width="21" stroke-opacity=".90" d="M2242 3514zm2-2zm14 2zm4 0zm25 11zm3-13z"/>
<path stroke="#b98ab0" stroke-width="21" stroke-opacity=".90" d="M1074 3473zm43 11z"/>
<path stroke="#0c7f94" stroke-width="21" d="M1312 3550zm2-5zm2-4zm1 8zm0-1zm5 0zm5 2zm4-11zm3 9zm1 6zm1 0zm1 0zm1-2zm1-2zm1 1zm0 8zm4-14zm2 8zm7 2zm2-11zm4 13zm2 0zm1 0zm2-3zm3-2zm0-6zm2 7zm1 4zm4-16zm4 9zm2 5zm1 0zm2-6zm1 8zm0-12zm2 3zm0 4zm1-4zm4 5zm1-1zm5 4zm4-7zm3-2zm2 5zm0 3zm1-9zm1-1zm3 9zm0-5zm3-3zm0 10zm5 0zm5-11zm2-1zm2 15zm0-7zm1 5zm1 6zm0-7zm1-3zm2 7zm2-2zm1 1zm2-3zm3-1zm0 6zm0-6zm1 5zm0-9zm4 4zm1 1zm6-4zm2 5zm5-4zm7 5zm3-1zm6 2zm0 1zm7-9zm2 15zm1-13zm1 3zm1 0zm3 1zm0-1zm3-10zm0 8zm5-5zm1 0zm0 13zm0-5zm1-6zm0 4zm4 8zm7 0zm2-7zm6-5zm8 7zm1-2zm0 3zm7-7zm3 12zm1-15zm7 8zm5 1zm2 4zm1-14zm1 16zm0-6zm0 5zm0-8zm1-8zm3 17zm2-3zm0-11zm1 6zm0 6zm0 0zm0-8zm1 7zm0 2zm1-7zm0 2zm2-2zm1 10zm2-14zm2 3zm3 3zm1-3zm2-3zm0 8zm0-1zm1 1zm0-5zm2 2zm5 11zm1-3zm1 0zm0-2zm1-3zm2-8zm2 0zm4 16zm0-4zm1-2zm0 0zm2-9zm0 14zm2-5zm1 4zm3-10zm1 3zm4-1zm5 13zm5-15zm1 2zm2-3zm2 11zm2-10zm1 0zm1-1zm3 5zm6 2zm1 2zm1-5zm4 10zm5-2zm0-14zm1 14zm1-10zm2-1zm1 12zm2-1zm2-4zm2 7zm5-2zm0-5zm4 3zm2-2zm2-5zm8 3zm0 3zm3-2zm3 1zm2-5zm1 1zm3-2zm2 4zm2 7zm1-14zm0 13zm5-5zm1 4zm0-9zm3 10zm1 1zm1-2zm1 2zm3-6zm3-7zm0 7zm3 4zm5-10zm2 4zm1-2zm0 7zm2 0zm2 3zm2 4zm1-13zm5 8zm2-8zm5 10zm2-7zm3 3zm3 4zm0-13zm2 8zm2-2zm1 1zm4 1zm1 0zm3 5zm5-10zm0 3zm2-1zm2 7zm4-4zm3 6zm1-1zm2 2zm3-3zm1-2zm1-6zm1-3zm3 17zm5-2zm0-6zm1 0zm5 6zm4-7zm1 2zm2 6zm8-7zm5 3zm1 6zm1-4zm2 2zm3-5zm2 2zm2-2zm3-1zm4 4zm0-3zm4 6zm1-10zm3 5zm2 2zm6-4zm2 7zm8-2zm2-1zm0-9zm1 12zm2-16zm0 12zm1-7zm0 2zm1 11zm3-9zm5 3zm11-1zm3-2zm1 5zm4-7zm0 1zm1 3zm1 5zm1-11zm1-3zm1 8zm1-1zm3 8zm1 0zm0-11zm3 4zm2 7zm3-6zm1 4zm1 3zm0-11zm0 2zm5 5zm2 0zm0 2zm0 2zm2-5zm1-3zm0 12zm1-12zm3 2zm2-2zm0 3zm1 2zm3 5zm2-3zm1 2zm11-1zm0 6zm2-14zm1 6zm1 2zm0-11zm1-3zm3 10zm1-4zm2 0zm4-2zm1 10zm0-2zm0 6zm5-6zm2-1zm2 1zm3-5zm2 8zm3 0zm3 2zm3-4zm3-4zm1 5zm3-3zm4 2zm1-5zm0 10zm2 0zm7-4zm5-8zm1 9zm2 0zm2 1zm3-11zm1 10zm2 0zm2-3zm3 4zm2-1zm4-4zm2 1zm1 1zm1 3zm1-6zm2-7zm3 18zm0-3zm2-4zm4-7zm2 13zm6-4zm1-8z"/>
<path stroke="#0c7f94" stroke-width="20" d="M1063 3534zm44 11zm33-11zm6 5zm65 6zm96 3zm28 0zm104 6zm59 10zm5-6zm138-5zm90 21zm45-2zm25-3zm14 6zm5-7zm66 6zm25-10zm25 9zm85 13zm106-11zm3 6z"/>
<path stroke="#0c7f94" stroke-width="21" d="M1282 3616zm5-16zm1 6zm1 10zm0-15zm1 9zm3 13zm2-9zm2 4zm0 1zm0-5zm1-4zm0-3zm1 12zm5-10zm2 4zm2 0zm1 5zm0-5zm6 8zm5-16zm2 7zm2 8zm3-12zm1 17zm1-9zm3-9zm2 2zm0 4zm1 10zm2-1zm4-9zm1 10zm1-12zm1 2zm1-9zm1 11zm0-5zm3 2zm7 1zm5 2zm1 8zm3-2zm0-1zm0-1zm1-1zm1-9zm1 0zm0 15zm0-7zm1-2zm2-7zm2 2zm1 6zm5 2zm1-8zm3 0zm3 11zm1-14zm3 10zm0-11zm0-1zm3 4zm1 16zm1-4zm0 3zm1 2zm0-10zm0-9zm2 8zm1-5zm11 12zm1-5zm0 2zm1-2zm0 10zm1-11zm0-6zm3 0zm3 7zm10 1zm2-4zm3 12zm1 6zm0-11zm2 1zm2 0zm2 1zm0 7zm2-15zm1-2zm1-1zm8 20zm0-11zm4 3zm0-2zm1-9zm1 11zm0-4zm1-2zm0 5zm1-7zm3 3zm0-13zm2 9zm0 1zm4 5zm1 7zm1-12zm1 2zm5-5zm0 6zm0 8zm3-7zm3-2zm1-4zm0-2zm1 4zm1 6zm0-3zm0 5zm3-17zm3 5zm0 15zm1-3zm2-8zm1 9zm3 1zm1-8zm1-1zm4-8zm3 5zm2 1zm0 0zm3 8zm2-4zm1 6zm1-5zm1-13zm1 8zm2 3zm3 4zm4 6zm3-7zm0-3zm2 1zm4-9zm3 16zm0-10zm0 18zm2-20zm3 9zm0 0zm0-2zm5-3zm1 10zm1-18zm1 19zm2-12zm2 11zm4-3zm3-14zm2 12zm0 9zm1-14zm1 2zm2 1zm1-3zm0 1zm1-5zm1 9zm1 0zm1-2zm1 7zm5-3zm2 1zm2-11zm6 14zm6-5zm3 5zm1-4zm2-3zm2-2zm0 6zm4 6zm2-9zm1 1zm1 5zm0-3zm3 5zm0-17zm1 23zm3-8zm5-7zm3 1zm4 6zm0 2zm4 1zm0-10zm0 7zm0-13zm1 9zm1-3zm1 3zm0 4zm1-6zm4 11zm1-7zm1-12zm3 4zm2-6zm1 9zm6 8zm1-13zm4 19zm1-11zm4 11zm0-8zm0 1zm2-14zm2 5zm0 7zm6-9zm1-7zm1 20zm3-4zm2 8zm1-4zm2-6zm1-4zm0 3zm1 1zm1 12zm1-13zm0 4zm0-4zm5-1zm0 7zm4 3zm5-1zm0-4zm0 2zm0-2zm1-3zm6-6zm1 4zm2 8zm0-9zm0 5zm2-4zm0 9zm1-9zm1 8zm2-16zm0-2zm2 5zm0 0zm1 3zm0 13zm2-10zm4 2zm2 1zm1-10zm0 12zm2-5zm1 2zm2-10zm2 3zm3 10zm4 3zm1-7zm1-6zm1 6zm0-5zm2 7zm0-5zm4 6zm0 8zm1-15zm3 16zm1-15zm1 1zm6 17zm3-15zm4-7zm3 11zm0 0zm1-4zm0 12zm0-3zm1-4zm2-3zm3 0zm1-6zm0 5zm2-7zm1 1zm0 10zm0-8zm1 15zm0-10zm1 4zm5 4zm2-7zm2-11zm0 22zm1-1zm1-19zm2-3zm3 13zm0 11zm1-12zm3 7zm2-4zm1-6zm1-10zm6 5zm2 12zm0-3zm1 8zm2-14zm1 15zm1-9zm0 1zm1 9zm0-6zm1-7zm1 5zm1-3zm2 4zm3-7zm0 5zm1-9zm0 6zm1 6zm0-4zm1-3zm0 3zm4 5zm0-2zm2-13zm1 14zm0-9zm1 12zm0-4zm2-7zm4 3zm1-3zm0 1zm1 16zm1-21zm4 10zm8 3zm2-2zm3-4zm1 10zm0-17zm1 1zm4 5zm0 15zm6-13zm9 2zm0 0zm2 8zm0-8zm7-3zm2 7zm3-3zm1-2zm0-1zm2 4zm1 2zm0-9zm2 7zm3-14zm1 7zm2 7zm6-6zm1 10zm2-11zm2 4zm1-1zm1 3zm2 1zm3 10zm0-13zm1 11zm2-17zm0 12zm2 8zm0-15zm2 6zm2 1zm3-6zm1-1zm4 3zm1 3zm1 1zm5-5zm1-6zm0 12zm2-10zm2 1zm4 16zm2-12zm2-7zm1 18zm3-6zm7-7zm1 12zm0-14zm0 9zm0-1zm7-5zm0-8zm2 2zm1 4zm1 7zm1 2zm0-7zm1 2zm1 2zm2-2zm1-11zm1 16zm1-4zm12 4zm2-10zm0 7zm3-3zm1 6zm1-7zm2 15zm1-5zm2-2zm1-3zm2-4zm0 2zm5 14zm0-7zm7-10zm1 5zm1 2zm2-3zm2-3zm1 14zm1 1zm3 0zm0 1zm0-18zm0 6zm1 2zm1-9zm3 0zm2 6zm0-5zm1 5zm1 2zm4 4zm1-1zm0-11zm2 4zm0-5zm1 12zm1 7zm1-12zm0 13zm1-11zm1-3zm0 4zm1 4zm2-16zm2 5zm1 7zm2 1zm1-12zm2 15zm3-11zm0 5zm0 2zm3-12zm4 9zm0 6zm0-6zm1 10zm0 2zm2-15zm0 0zm4-2zm0-1zm0 6zm2 9zm1-12zm1 8zm1 10zm1-16zm2 3zm0 6zm2-10zm1-1zm1 0zm4 9zm0 2zm1 1zm1-13zm0 4zm2-2zm2 10zm2 8zm0-8zm2 1zm2-18zm1 6zm3 13zm1-4zm3-7zm0-3zm3 17zm2-10zm0-1z"/>
<path stroke="#0c7f94" stroke-width="20" d="M1195 3611zm36-3zm58 7zm37 0zm9 15zm37 2zm179-16zm3 1zm3 3zm2 10zm61-11zm191 6zm19 9zm46-13zm2 1zm107 14zm42-2zm73 6zm43 0zm5-1z"/>
<path stroke="#3e3eaa" stroke-width="20" d="M964 3774zm3 3zm0 1zm3 0zm1-2zm3-2zm0 3zm7 3zm2-2zm6-3zm2 7zm1-4zm0-2zm2-1zm7 5zm6-5zm5 4zm10 1zm1-1zm7 2zm6-3zm1-1zm1 3zm0 1zm2-3zm2 4zm0-5zm1 5zm3-4zm2 5zm0-4zm3 2zm3-1zm5 1zm1 3zm1 0zm2 0zm0-4zm4 1zm5 2zm14 0zm1 0zm6-3zm0 1zm4 1zm2-2zm0 4zm5 0zm5-3zm1-2zm1 6zm1-2zm3-3zm7 3zm5 1zm1-2zm1 0zm2 1zm9 1zm1 2zm1-2zm2 1zm1-1zm4 0zm0 0zm1 2zm7-1zm3-1zm3 2zm2-4zm1 5zm2-4zm1 1zm1 0zm1-1zm0 2zm2-1zm0 1zm2-1zm1-3zm1 4zm1 2zm0-4zm2 2zm8 1zm3 0zm0-2zm2 1zm0 1zm2 0zm3 1zm1-2zm3 3zm0-1zm3 2zm0-3zm1 0zm1-1zm1 2zm1-3zm1 3zm0-1zm2 0zm2 0zm21 3zm0 0zm1 0zm6-1zm0 0zm3-1zm2 1zm0-2zm0 5zm2-4zm0 0zm2 2zm6-3zm5 2zm6-1zm4 2zm9 0zm2-2zm3 2zm7 1zm7-1zm3-2zm3 1zm2-2zm1 5zm4-1zm3-2zm1 1zm2 2zm3 0zm1 0zm2 2zm1-3zm5 3zm1-2zm10-2zm4 5zm2-4zm1 3zm1-3zm8-1zm5 3zm0 1zm0-2zm5 1zm6 0zm2 3zm0-1zm4-1zm9 3zm4-5zm1 5zm4-4zm2 2zm1 1zm10 1zm3-1zm4 1zm0-2zm0-3zm2 3zm2 1zm1-1zm4 0zm0 2zm5-1zm9-2zm3 0zm4 1zm1 2zm2 0zm6 2zm7-1zm3-2zm0 3zm6 1zm7-3zm0 0zm6 1zm3 1zm4-3zm0 3zm1 0zm9 0zm3-1zm4-1zm2 2zm1-2zm9 0zm7 1zm4 1zm1 3zm0-3zm5 1zm0 0zm1-1zm10 2zm0 0zm3 2zm2-3zm0 1zm1 0zm1 0zm4 0zm1 0zm0-2zm0 2zm2-1zm2 1zm4 0zm4 0zm5 4zm5-4zm2 2zm1 1zm0-5zm1 4zm0 0zm3 0zm1-3zm1 0zm0 1zm0-2zm1 1zm1 1zm1-2zm7 0zm5 2zm2 0zm2 1zm5 3zm6-2zm6 0zm1 0zm2-1zm2 0zm3 4zm5-4zm2 0zm2 1zm2 2zm5-3zm4 4zm2-2zm5 0zm9 0zm1 0zm1-2zm2 2zm0 2zm1 0zm3-2zm2 1zm1 2zm1 1zm2-4zm4-2zm1 4zm0-2zm1 4zm1 0zm2 0zm1-4zm3-1zm5 5zm6-5zm2 5zm2-4zm6 3zm0-3zm1 0zm2 5zm2-4zm0 2zm1-3zm2 4zm2 1zm0 0zm3-1zm0 2zm0-4zm3 3zm3-1zm1-4zm5 2zm3 2zm1 3zm0-1zm3-2zm2-2zm3 0zm0 3zm0-3zm3 1zm1-2zm5 0zm4 2zm1-1zm1 0zm0 1zm2 3zm1 1zm3-4zm2 2zm0 0zm2-2zm1 1zm1 2zm6 2zm0-4zm0-1zm1 1zm0-2zm0 1zm1 3zm10 1zm3 0zm5-2zm3-2zm0 4zm1-4zm0 2zm3-2zm0 5zm1-4zm0 4zm0-4zm1 3zm0-2zm2 1zm7 3zm1-2zm1-3zm5 3zm1 1zm3 0z"/>
<path stroke="#9a9ad2" stroke-width="20" stroke-opacity=".90" d="M904 3774zm13 0zm4 0zm2 3zm37-2z"/>
<path stroke="#4e2a8e" stroke-width="20" d="M1381 4105zm0 6zm0 2zm4-5zm0 2zm3-5zm2 8zm3-4zm5-1zm1-7zm1-1zm2 4zm2 13zm4-6zm2-3zm1 3zm7-1zm1-4zm0 5zm2 2zm2 3zm3-5zm5 3zm2-6zm3-2zm0 12zm4 3zm6-15zm3 5zm3-5zm1 9zm5-1zm0 3zm1 5zm0-13zm4 3zm1 9zm2-4zm1-9zm3-4zm5 13zm1-1zm5-1zm0-1zm1-3zm1 3zm2-5zm0 13zm0-7zm5-2zm0 0zm1 5zm1-1zm3-3zm0-6zm3 6zm5-1zm0 6zm4-1zm2-6zm0 6zm3-1zm0-6zm2 11zm3-16zm2 1zm2 5zm1 7zm1-9zm2 5zm0 7zm3-9zm1 3zm0-1zm0 3zm0-3zm3 7zm0-10zm0 6zm1-13zm0 7zm2 8zm5-9zm1 6zm1-2zm0 1zm1 0zm4-3zm2 5zm1-7zm3-3zm0 14zm4-5zm4-6zm10 8zm3-9zm9 4zm2-1zm1 6zm1-5zm3 10zm0-6zm3 3zm5 1zm4-6zm0 0zm5-6zm1 16zm1-11zm1 4zm1-5zm4 6zm6 7zm3-8zm1-6zm6 3zm1-5zm0 10zm2-7zm0 8zm1-2zm4-11zm0 2zm3 6zm1 9zm10-16zm1 8zm1 6zm1 2zm1-6zm1 0zm1-1zm0-6zm4 2zm2 12zm0-6zm1 0zm3 0zm1 7zm8-8zm2-1zm2-4zm0-2zm2 8zm2-9zm1 9zm2 6zm2-8zm0 7zm2-10zm0 5zm1-5zm0 0zm0 9zm0-6zm1-4zm1 6zm1 0zm1 4zm5-7zm2-3zm0 4zm0 7zm2-7zm2 3zm2-11zm0 13zm1 4zm0-7zm1 2zm0-7zm0 10zm1-6zm1-6zm1 12zm0-3zm2-9zm1 5zm0 4zm1-1zm0-3zm3 8zm0-3zm1 7zm0-6zm1-8zm0 0zm1 14zm4-9zm2-2zm1-2zm2 2zm2 7zm0-8zm4 12zm4-1zm3-9zm5-2zm1 6zm2-1zm1 2zm3-3zm0 0zm3-2zm0 3zm1-2zm3-3zm3 11zm0 2zm3-17zm0 7zm6-2zm0 6zm0-5zm3-4zm1 7zm2 1zm2-2zm4-1zm2-1zm0 5zm5-2zm2 4zm1-5zm1 0zm0-3zm0 5zm0-1zm1 0zm1 2zm1 9zm0-11zm3 4zm1 0zm3-2zm1 1zm2-4zm0 2zm3-2zm1 6zm3-3zm6-5zm1 6zm3 1zm3-2zm4-4zm0 4zm4-3zm2 7zm0-4zm1-9zm2 5zm2 2zm0 1zm0 5zm1-7zm0 8zm0 0zm3-3zm1-7zm6 6zm1 0zm3 2zm0-6zm1 6zm5 0zm4-4zm2-2zm2 8zm1-11zm1 13zm3-7zm3-4zm1 6zm1-3zm4 8zm0 2zm0-1zm2-4zm0-4zm3 3zm5 3zm4-9zm0 5zm1 0zm1-10zm3 4zm0 11zm0-3zm1-3zm1-6zm1 12zm1-3zm1 5zm2-4zm0-6zm2 13zm6-14zm8 8zm3-6z"/>
<path stroke="#4e2a8e" stroke-width="19" d="M1938 4126zm7 1zm18 6zm1-3zm1-1zm6 1zm7 3zm14 0zm10-2zm4 1zm1-9zm3 12zm3-7zm5 4zm5 4zm7-3zm9 1zm9-1z"/>
<path stroke="#b0aace" stroke-width="21" stroke-opacity=".90" d="M786 3768zm1136 52zm51 1zm77 2z"/>
<path stroke="#4e2a8e" stroke-width="20" d="M1268 4106zm27 2zm25 4zm25-2zm730 26zm20 0zm23 2zm58 2zm66 2z"/>
<path stroke="#fbe38a" stroke-width="21" stroke-opacity=".90" d="M660 2816z"/>
<path stroke="#f6c86a" stroke-width="19" stroke-opacity=".90" d="M1416 2554z"/>
<path stroke="#a6d670" stroke-width="20" stroke-opacity=".70" d="M4030 2752zm25 16zm7-54zm5-18zm17-88zm13 28zm3 79zm4-18zm11 36zm5-138zm9 61zm5 111zm1-86zm6-3zm1-2zm1-21zm9-11zm7 31zm3 14zm7 17zm4 40zm1 19zm5 42zm4-191zm14 123zm1 23zm3-146zm6 18zm2 26zm1 129zm3-66zm6-19zm1 1zm2 93zm7-192zm5 34zm3 39zm1-8zm7 7zm3 70zm2 12zm4-112zm6 87zm1-108zm2 0zm1 128zm3-39zm2-123zm1 9zm2 35zm2 137zm2-73zm4 102zm8-150zm2 135zm4-54zm6-30zm8-25zm1 115zm0-166zm1-40zm4 199zm2 37zm4-93zm2-3zm6-70zm1 107zm1 7zm2 41zm1-35zm0 34zm4-86zm1-118zm1-21zm1 254zm7-156zm0 132zm5-128zm2-4zm0-61zm0-38zm0-2zm2 205zm1-42zm3-55zm3 13zm1 21zm2 6zm2 33zm1-66zm2-116zm0 59zm2 54zm5 23zm2-5zm5 38zm1-34zm2 48zm1-181zm0 42zm3 192zm3-117zm2-15zm2 58zm4-103zm1 61zm0 35zm1-31zm0 115zm7-158zm4 45zm0-112zm3 190zm1-66zm3-6zm4-57zm0 5zm2 105zm1-47zm0-48zm8-61zm3 107zm3-35zm0 55zm1-54zm1-8zm0 34zm5 64zm2-126zm1 187zm1-249zm2 224zm1-156zm1 59zm2 42zm1-6zm0 61zm0-170zm3 73zm1-91zm1 199zm0-188zm7 131zm1-194zm0 169zm6-23zm1 28zm2-45zm1-47zm3 65zm4 66zm0-111zm3 128zm3-132zm0-86zm3 52zm1 112zm0-119zm2 32zm2 141zm1-158zm1 136zm8-165zm0 146zm1 27zm0-109zm0-68zm3 170zm7-93zm0 121zm1-86zm3 86zm1-119zm2 103zm1-110zm1 47zm1 17zm1 57zm3-170zm5 180zm1-61zm1-79zm3-101zm1 66zm2 30zm6 36zm1 111zm1-223zm3 170zm13 31zm3-19zm1 5zm0-115zm0 67zm1-105zm0-20zm4 94zm0-82zm1 194zm1-196zm3 28zm4 27zm2 7zm0 13zm1-99zm1 192zm4-136zm5 73zm2-88zm1 177zm1 0zm6-96zm0 10zm3-66zm1-83zm1 162zm9-93zm1 122zm0-93zm13 28zm1-13zm0-46zm2 48zm1 68zm1-50zm2-23zm3 11zm0 81zm2 17zm2-1zm4-158zm1-19zm1 117zm1-43zm1-80zm0 170zm2-72zm0-16zm4 19zm1-80zm2 48zm5 133zm2-48zm6 0zm3-68zm1 120zm0-54zm1-113zm0-6zm1 52zm6 11zm2 88zm2-153zm3 15zm5 83zm2-84zm2 103zm2-9zm1-96zm6 66zm9 51zm1-22zm6-8zm0-53zm0 69zm6-113zm0 156zm2-63zm4 37zm5 9zm9-20zm0-167zm5 106zm1-5zm11-27zm0 101zm3-2zm1 3zm4-115zm6 13zm0 73zm10-29zm3 0zm3 81zm0 3zm2-63zm13 52zm6-138zm3 108zm1 42zm17-110zm2 13zm19-55zm7 8zm1 30zm1-16zm0-20zm6 69zm17-68zm30 94z"/>
<path stroke="#a6d670" stroke-width="20" stroke-opacity=".70" d="M3995 2938zm4 34zm7 50zm19-77zm6 101zm6-109zm11-6zm4 25zm2 55zm8-14zm5-1zm2 17zm12-114zm0 117zm3-43zm1-112zm2 95zm2-43zm0 113zm4-71zm2 107zm1-127zm8-35zm1 129zm11-45zm3-64zm6-60zm0 12zm3 55zm3 38zm1 11zm3-87zm2 95zm4-28zm3 115zm5-82zm2-92zm0 83zm3 53zm0-123zm17 104zm2-110zm1 27zm1 152zm2-34zm2-93zm1-119zm4 183zm4 102zm1-58zm4 16zm4-20zm2 1zm1-199zm1 208zm4-221zm1 14zm11 21zm3 172zm7-37zm5-52zm1 6zm1 108zm4-116zm0-129zm1 98zm2-39zm3-71zm0 151zm3 97zm5-142zm2 52zm4-35zm1 21zm1-73zm8 96zm1-103zm2 91zm8 118zm3-29zm6-178zm1 217zm1-175zm4 66zm0-128zm5 156zm1 12zm1-174zm4 91zm4 71zm3-97zm1 125zm0-102zm3-94zm4 212zm2-228zm1-1zm3 56zm0 60zm9 86zm0-80zm0 45zm2 32zm3-7zm1 13zm5-80zm3 137zm4-169zm0 113zm7 15zm2-51zm5-158zm7 86zm4 11zm1 42zm2 17zm1-171zm0 204zm2-146zm1 78zm2-63zm1-6zm3 5zm3-50zm4 108zm0 42zm3-80zm1 93zm1 17zm3-213zm3 64zm1 76zm1-47zm2-4zm5 115zm1-63zm1-20zm1 81zm2-47zm6-106zm1-83zm2 333zm1-145zm4 55zm1-11zm1-20zm2-43zm2-1zm0-22zm2 30zm1 59zm0-152zm0 147zm0-36zm1-147zm0 85zm0 88zm0-86zm1 152zm0-253zm1 133zm1 1zm2 12zm3 54zm1-127zm1 17zm8-70zm2 125zm0-33zm1 22zm0 152zm0-146zm1 67zm1 25zm0-63zm0 151zm1-165zm3 78zm4 53zm1-221zm3 91zm1-75zm5 47zm1 90zm0-59zm3-118zm1 46zm1 128zm1-151zm1 136zm0-1zm1-108zm3 10zm0 53zm1 77zm1-53zm1-56zm2 75zm1-52zm2-46zm1 91zm2-56zm6-82zm6 57zm1-89zm2 100zm1-8zm7-88zm3 72zm4 168zm1-269zm3 177zm2-109zm6 38zm1-14zm4 73zm6-52zm4-58zm4 74zm1 120zm4 31zm1-253zm3 15zm3 91zm0-103zm1 47zm1-33zm1 35zm3 23zm1 70zm0 16zm1-118zm1 154zm1-58zm4 8zm1-14zm2 51zm2 48zm2-87zm1 95zm1-77zm1-33zm1 33zm6-27zm1-17zm2 41zm7 14zm3-18zm0-23zm1-24zm1 70zm1-4zm0-37zm4-130zm1 60zm0 144zm3-123zm13-70zm4 118zm2 96zm0-197zm1 73zm2 67zm3-64zm0-73zm3 33zm2 21zm2 21zm1-104zm6 7zm3 4zm11 47zm3 103zm3-141zm3 181zm3-213zm1 13zm6-14zm1 72zm3 95zm0 32zm6 28zm3-172zm4 28zm2 154zm1-224zm3 78zm2 32zm1 94zm5-138zm1 95zm0-19zm9-88zm6 181zm3 6zm2-29zm0 8zm1-30zm3-100zm9-18zm3-50zm6 155zm2-177zm6 156zm3 46zm6-72zm2 34zm15-57zm0-7zm11 36zm1-80zm0 119zm36-28zm0 5zm4-100zm2 120zm5-130zm33 115zm38-39zm7 60z"/>
<path stroke="#a6d670" stroke-width="20" stroke-opacity=".70" d="M3866 3415zm3 3zm21 27zm12 6zm25 13zm6-134zm4 180zm2-53zm2 35zm1 62zm16 108zm2-94zm10-244zm2 193zm12-27zm10-16zm11 50zm2 35zm2-58zm1-36zm0-49zm2 106zm1 56zm18-212zm2 132zm1 36zm6-6zm4-75zm2-153zm2 200zm0-2zm2-170zm1 107zm8-94zm6 157zm10-77zm8 121zm1 31zm8-130zm3 19zm1 31zm1-91zm2 163zm8-8zm1 66zm2-247zm2 96zm1-4zm6-203zm2 145zm2 27zm2 17zm0-161zm1 52zm6 91zm7-98zm2 191zm2-76zm2-75zm1-79zm0 233zm1 26zm1-100zm0 51zm1-94zm1-117zm0 322zm9-232zm3 247zm0-297zm2 248zm1-294zm5 248zm0-276zm1 206zm1-34zm2 88zm1-82zm0-81zm0-43zm2 149zm5-105zm0 119zm4 3zm1-132zm1 123zm1-150zm0 2zm5 117zm1-96zm3 30zm0-169zm1 189zm1 110zm0-207zm0 295zm3-43zm3-77zm2-11zm1 85zm6-83zm2 63zm5-145zm2 188zm2-20zm3-55zm1-195zm5 192zm2-126zm4-104zm2 132zm0 214zm1-111zm0 156zm0-206zm1-80zm1 20zm5-124zm1 140zm4 139zm0-51zm0-42zm2-74zm3-6zm3-38zm2 247zm5-296zm1 145zm2 15zm1-1zm0-58zm4-169zm0 267zm0 2zm3 98zm2-231zm1 248zm1-185zm2 22zm1 85zm1-77zm0-62zm2-14zm2 29zm1-138zm1 80zm0 68zm1 24zm2-96zm0 204zm1-58zm2-53zm0 82zm4-220zm4 86zm1 17zm0 143zm1 48zm1 91zm0-239zm2 102zm1-125zm0 2zm1-117zm0 58zm1 286zm0-88zm1-143zm1-33zm3-14zm1-71zm1 151zm1-79zm1-39zm1 6zm0 87zm2 146zm0-87zm2-229zm1 165zm2-44zm1 94zm2 44zm1-122zm0-139zm0 198zm0 107zm2-154zm2 6zm2-37zm1 1zm0-38zm1 136zm1-176zm0 206zm0-98zm2 50zm0-252zm1 360zm0 23zm1-90zm1-137zm1-53zm0 74zm2 208zm2-336zm1 247zm1-161zm1 309zm1-83zm1-40zm1 128zm3-365zm0 159zm0 65zm2-222zm1 5zm1 37zm5 67zm0 106zm2 95zm1-90zm1-50zm1-45zm1 171zm2-27zm3-246zm2-68zm2 166zm0 132zm2 44zm0-88zm2-235zm1 133zm2-33zm1 188zm2-185zm0 145zm1-36zm1-16zm1 52zm1-125zm1 1zm0 66zm0-77zm0 269zm0-302zm0-62zm1 89zm2 75zm0 177zm0-288zm0 4zm3 297zm0-269zm1 196zm1-112zm2 180zm0-345zm0 237zm1-208zm1 77zm1-59zm1 70zm0-164zm1 140zm0 137zm0-21zm2-70zm0 111zm1-133zm0 62zm2-14zm0-124zm1 155zm1 105zm1-310zm2 268zm2-80zm1 93zm0-102zm2 81zm1-226zm1 169zm1-107zm0 44zm0-91zm1 162zm0-135zm0 29zm1 125zm0 36zm0-111zm0 138zm1-188zm0-10zm1 57zm3 170zm0 62zm1-6zm0-164zm0 49zm0-181zm1 122zm0-36zm4 129zm1 86zm1-187zm2-5zm0 127zm1-229zm0 288zm0-79zm0-137zm1-38zm2 28zm2 50zm1 30zm0-6zm1 60zm0-54zm1-133zm1 111zm1-35zm2-218zm0 183zm2 79zm3-91zm0 205zm2-167zm0 102zm2-122zm1-41zm0 34zm0 68zm2-26zm6 74zm1-120zm2-16zm0-146zm2 130zm2 120zm0-265zm2 381zm2-305zm1-16zm1 220zm2-105zm1 115zm0-118zm1 20zm0 94zm2-215zm0-54zm2 342zm0-76zm0-279zm1 15zm2-11zm1 188zm0 24zm0 106zm0-328zm0 209zm1 144zm0-88zm0-228zm0 106zm2 42zm1 19zm0 138zm5-180zm1 112zm0-103zm2-74zm1 85zm0 1zm0 133zm3-85zm0 29zm1-31zm0 37zm4-128zm1 164zm0 76zm2-49zm0-211zm1 14zm1 104zm1-17zm0-95zm1-99zm0 192zm1 158zm1-138zm0-133zm2 38zm5 148zm0-32zm1 154zm1-139zm0-34zm2-125zm1 129zm1-97zm1 109zm1-86zm1 88zm1-10zm2 82zm0-214zm0-48zm1 354zm1-123zm1-46zm1-180zm1 302zm1-250zm0 85zm2-79zm1 76zm0 116zm2-217zm1-49zm2 129zm0-62zm1 267zm1-157zm1-3zm1 105zm0-60zm4-102zm0 28zm0-89zm2 108zm2-1zm2-66zm0 1zm1 154zm0-243zm1 76zm0 190zm2-149zm1 60zm1 21zm3 111zm1-133zm1-150zm5 120zm2 147zm1-169zm2 18zm1-93zm1 65zm4-33zm0 115zm1-113zm1-115zm5 71zm0 145zm1 5zm2-89zm0-151zm2 195zm1-204zm1 236zm1-93zm0-40zm1 114zm2-218zm3 213zm0 37zm1-170zm3 94zm2 30zm4 135zm1-336zm3 307zm6 52zm1-231zm5-53zm1 200zm0 12zm1-104zm3 55zm2-81zm0-58zm0 242zm4-118zm3-10zm0-97zm2 181zm2 73zm2-306zm1 133zm0 16zm1-61zm1 42zm1 1zm0 150zm1-2zm3-274zm0 267zm2-220zm0-12zm4 90zm4 20zm1 53zm2-260zm0 333zm1-195zm0 65zm11 3zm0 207zm2-162zm4-67zm3 56zm0-17zm3 183zm5-318zm0 65zm3 89zm1-199zm3 123zm2-71zm1 60zm3-134zm1 267zm1-63zm0-75zm2 79zm1-115zm2-74zm1 181zm5-67zm1-30zm3 229zm2-315zm1 91zm2-14zm2 50zm4 13zm0-24zm3 36zm0-135zm5 152zm0-35zm3-9zm0-74zm4 174zm2-52zm0 7zm1-110zm8 68zm1 1zm2 23zm0 45zm5 1zm1-141zm3 126zm10-186zm1 41zm1 116zm5 83zm7 5zm4-261zm5 277zm1-176zm3 52zm2 57zm2 15zm2-8zm12 32zm2-4zm0-98zm2-37zm3 15zm1-24zm0 32zm2 156zm1-138zm1-110zm5 249zm1-258zm3 252zm1-51zm4 53zm8-147zm7 124zm1 41zm1-104zm0-45zm3-52zm5-24zm4 63zm1 194zm1-63zm0-163zm4-51zm4 52zm6 16zm15 63zm1-94zm9 96zm0 153zm8-14zm12-212zm3 106zm0-51zm4 86zm6-137zm4 117zm5-160zm2 172zm2-154zm12 148zm13-181zm6 166zm1 83zm0-209z"/>
<path stroke="#a6d670" stroke-width="20" stroke-opacity=".70" d="M3905 3899zm50-17zm7-78zm1 88zm12-30zm3-53zm2 152zm2-157zm4-2zm12 46zm1 42zm1-173zm4 71zm22 206zm9-300zm11 212zm0-147zm2 143zm1-34zm4 19zm0-28zm0 6zm4-101zm1 24zm1-42zm2 118zm1-68zm0-22zm5 62zm3 71zm1 46zm0-20zm1-44zm1-164zm1-20zm0 270zm2-191zm1 163zm2-143zm0-74zm1 214zm2-170zm2 166zm0-18zm1-136zm1 113zm2-84zm1-115zm3 60zm1 197zm2-60zm4-102zm2-117zm4 143zm0 120zm2 91zm0-303zm0 293zm0-74zm5 45zm1-178zm1 100zm1-104zm1-17zm0-19zm1-6zm6 267zm2-284zm0-29zm1 85zm1-69zm10-37zm1-55zm1 165zm0-147zm1 239zm5 3zm1-13zm1-131zm4-47zm1 40zm2-119zm0-22zm2 162zm2 86zm0-29zm0 52zm1-219zm0 82zm3 80zm1-131zm4 187zm0-39zm0-144zm1 288zm6-201zm0 120zm1-40zm2-78zm0-24zm1-156zm0 409zm0-162zm1-14zm3 196zm0-363zm1 20zm1 98zm3 88zm1 162zm1-155zm0-192zm3 183zm0-41zm0-107zm3-101zm0 240zm2-7zm2-60zm1-35zm0-146zm6 85zm2-11zm4 306zm1-187zm3-125zm1 260zm0-87zm2 118zm0-103zm2 91zm0 78zm2-281zm1 115zm2 19zm1 62zm3-4zm1-110zm1 91zm1 113zm2-50zm0-5zm0-374zm1 33zm1-79zm1 167zm2 83zm1-33zm1-189zm2 291zm4-197zm0 10zm2-16zm0 236zm1 66zm1-120zm0 15zm0 104zm0-194zm1 91zm1-255zm2 244zm1-94zm1 34zm1-126zm1 65zm0 121zm1 92zm1-146zm1 90zm0-167zm0 111zm0 86zm1-345zm1 474zm0-56zm0-24zm1-95zm1-180zm0 174zm1-13zm1-154zm0 130zm2-257zm0 42zm2 158zm2 71zm0-111zm1 94zm0 90zm2-143zm0 166zm1-18zm0-132zm0 42zm1 25zm0 34zm1-133zm0 183zm2-186zm0 159zm1 140zm2-204zm0-25zm1 153zm0 70zm1-42zm0-272zm1 56zm1 176zm1-365zm1 273zm1-207zm1 172zm2 67zm0-101zm2 4zm1 119zm0-155zm1-127zm1 329zm0-102zm0 110zm1-333zm1 92zm0 193zm2-165zm0 41zm0-229zm0 322zm0-55zm1-257zm0 1zm3 159zm1 104zm0 128zm1-255zm0 10zm1 36zm1 256zm1-312zm0 167zm2 114zm0-210zm1 78zm0 155zm0-151zm1 78zm0 54zm0-188zm1-56zm1-19zm1 23zm1-163zm1 408zm0 10zm0-289zm1-23zm2 86zm3 210zm0-247zm2 20zm1 162zm0-135zm1 22zm0-131zm2 119zm0-163zm1-85zm2 249zm0-60zm1 99zm1 7zm1 131zm0-177zm0 112zm1 7zm0-71zm0 45zm1-173zm1-91zm1 439zm1-222zm0-104zm0-103zm1-23zm0-18zm1 124zm1-51zm1-70zm0 237zm0 109zm1-212zm1 100zm0-6zm0 36zm0 15zm1-334zm0 56zm1 285zm2-189zm0 146zm1-304zm0 284zm1 127zm0 85zm2-65zm0-363zm1-19zm0 98zm1 88zm3 100zm1-280zm1 144zm1-2zm0 246zm0-96zm1 109zm0-285zm1 50zm1-56zm0 138zm0-168zm5 173zm2-224zm0 338zm0-180zm1 111zm0-125zm1 212zm0-238zm0 48zm0 196zm1-195zm2 207zm0 91zm1-183zm0-81zm1 236zm1-300zm0 85zm1 56zm0-250zm0-71zm1 441zm0-271zm1 74zm0 51zm1-154zm1 80zm0-53zm1 242zm0-288zm0-109zm1 179zm0 245zm0-141zm4-207zm0 138zm1-99zm1 190zm0 26zm1-68zm1-75zm2 89zm1-47zm1-21zm1-1zm1-8zm0 119zm1-129zm0-130zm0-72zm1 260zm2-58zm0-41zm0 22zm1 32zm0 85zm0-61zm1-210zm1 199zm0 37zm0 27zm1 16zm0-157zm1 58zm0-170zm1 92zm0 113zm1 42zm0-214zm1 313zm1 16zm0-109zm0-17zm3-271zm0 294zm2-135zm0-32zm0 165zm2-24zm0-197zm1-53zm0 194zm2 15zm0 28zm1-97zm0 320zm0-471zm2 260zm0-12zm0-14zm0-22zm0-188zm1 338zm1-77zm0-84zm1 29zm1-111zm1-64zm0 136zm4 23zm1 121zm0-191zm2-39zm1 66zm1 76zm2-56zm0 243zm1-252zm0-179zm1 199zm1 48zm1 194zm1-366zm0 215zm2-129zm0-120zm2 266zm0-344zm1 355zm0-405zm1 453zm1-138zm0-93zm1-185zm0 161zm1 148zm1-9zm1 112zm1-198zm0 231zm2-425zm0 151zm0-76zm0-118zm1 336zm1-100zm1-86zm0-18zm0 227zm2-92zm1-89zm0 136zm2 69zm1-203zm0 165zm0 22zm1-88zm0-41zm0-117zm0 383zm1-381zm0 108zm1 7zm0-196zm1 441zm0-250zm1 12zm0 80zm1-34zm0-101zm0-11zm1 63zm2 102zm1 39zm0-59zm1-232zm0 433zm0-426zm1 392zm0-196zm3-194zm0 91zm2 80zm1-95zm1 72zm0 180zm0-361zm0 127zm1 149zm2 48zm0-258zm2-30zm1 81zm0 86zm2-73zm1 248zm0-195zm1-174zm1 189zm0 52zm0 208zm1-379zm1 14zm2-136zm0 232zm0 67zm1-15zm0-145zm1-64zm0 137zm1-9zm0-26zm1 69zm0-13zm0 76zm0 19zm0 74zm1-69zm0-296zm0 200zm2-3zm1 117zm0-69zm0-2zm0-214zm0 386zm0-271zm1 97zm1-95zm0 197zm1-307zm0 106zm1 95zm0 31zm1-77zm1 260zm0-347zm1 134zm1-62zm1 114zm0 118zm2-281zm2 82zm0-69zm0 53zm2 43zm2 77zm1-161zm0 21zm1 164zm1-338zm0 145zm0 172zm1-48zm0-138zm1 94zm1-153zm1 44zm1 130zm0-44zm1-76zm0 7zm2 332zm0-437zm0 135zm0 74zm1-47zm0 2zm2 167zm0-84zm0-181zm0 142zm3-142zm0 310zm0-84zm0-19zm3-224zm2 182zm1 27zm1-129zm0-150zm0 239zm0-217zm0 142zm0 85zm1 47zm1-23zm1 42zm2-161zm0 223zm0-167zm1-234zm0 12zm1 432zm0-90zm0-76zm1-30zm1-34zm0 74zm1-33zm0-39zm1-99zm1-18zm0 294zm1-87zm0-164zm1 80zm0-95zm1 167zm0-28zm1-209zm1 29zm0 255zm1-101zm3-49zm0 147zm2-263zm3 123zm0-25zm1 323zm0-278zm0-88zm2 177zm0-91zm1 3zm1 205zm1-249zm0 151zm1-34zm1 29zm1-201zm1 334zm0-151zm0-11zm1-126zm0-2zm0-145zm0 485zm0-361zm2 335zm0-222zm2-26zm1-241zm0 301zm0-140zm1 177zm1 33zm2-94zm0 113zm0-60zm1-51zm0 124zm0-241zm2-92zm1 178zm2-264zm0 226zm0 208zm0-24zm1 98zm1-250zm0 222zm0-305zm1 76zm0 44zm0 77zm0-174zm1 353zm1-89zm1-118zm1 42zm2-93zm0 214zm1-309zm1 47zm1-16zm2 78zm0-135zm0 174zm2-107zm1-43zm0 122zm1-11zm3-167zm0 263zm0 126zm1-236zm0-91zm2 54zm1-94zm1 138zm1-67zm1 108zm1 88zm0-404zm1 402zm0-206zm2 139zm0-266zm2 24zm1-37zm0 80zm1 31zm0-9zm0 155zm1-271zm0 227zm0-30zm0-88zm1-164zm2 368zm3-183zm1 78zm0 60zm1-71zm1-92zm1 146zm0-156zm1 88zm0 57zm0 140zm1 25zm1-370zm2 310zm0-281zm0 144zm1 25zm1-134zm1 27zm1 95zm0 73zm0-15zm0-20zm1 41zm0 47zm0-386zm1 184zm1 249zm1-152zm2-154zm1 320zm1-240zm0-159zm2 81zm1 246zm1 12zm0-91zm1-73zm0-36zm0-4zm1 38zm1 168zm3-209zm0 202zm0-185zm1-151zm0 97zm0-146zm1 445zm1-156zm1-192zm2-18zm1 45zm0-14zm0 79zm2 76zm1-7zm1-2zm0-233zm0 116zm1 52zm0 58zm0-52zm1-157zm0 167zm0 9zm0 116zm3 8zm1-36zm0-151zm0 21zm1 102zm0-36zm0 75zm1-139zm1 55zm0-22zm2-133zm0 180zm2 105zm1-35zm0 29zm0-36zm0-86zm0-176zm3 237zm2-131zm0 202zm0-88zm1-48zm0 16zm2 80zm2-113zm1-25zm4-124zm0 137zm0-151zm1 173zm2-24zm0 8zm0 33zm1-53zm1-196zm0 197zm0 179zm3-198zm1-10zm0 121zm1-100zm1 263zm2-226zm0-229zm1 315zm0-210zm1 171zm0 82zm1 134zm1-117zm2 103zm1-164zm0-159zm2 202zm1 30zm0-64zm2-107zm2-70zm0 63zm0 25zm1 45zm0-177zm0 43zm4 182zm0-55zm0-11zm1 86zm0-52zm1 16zm1-66zm1-153zm0 74zm0-60zm1 10zm2 101zm1 127zm0-227zm1-18zm2 198zm0 94zm1-47zm0 111zm1-299zm0-19zm0 19zm1 4zm0 91zm1-148zm5 241zm1 71zm4-55zm3 36zm0-316zm1 25zm0 152zm3 23zm1-318zm0 55zm1 290zm0-228zm1 92zm0 98zm1 74zm0-114zm2 131zm0-2zm1-86zm0-92zm1 158zm2-225zm6 93zm0-7zm1 118zm1-77zm2 110zm6-229zm0 255zm0-191zm0-55zm2-48zm1 20zm2 305zm2-342zm2 170zm0 117zm1-98zm0-34zm1-203zm2 213zm6-122zm1 232zm4-40zm0-53zm0-107zm3 71zm1 22zm4 126zm2-238zm3 202zm1-50zm0-48zm0 206zm2-160zm0 10zm1-115zm1-43zm2 228zm2-88zm1 164zm0-174zm1 128zm1-128zm4 117zm2-99zm2 110zm1-131zm2 1zm3-183zm2 187zm2-147zm1 173zm6 89zm5 33zm0-143zm4-14zm3-135zm1 85zm0 14zm1 206zm1-244zm3 221zm2-286zm0 242zm7-247zm0 286zm8-85zm1 66zm6-291zm2 95zm1 221zm4-266zm0 202zm2-64zm0 7zm3-200zm8 261zm1-32zm7-24zm6-77zm2-33zm3 39zm6 51zm3-74zm1 108zm5-98zm1 39zm7-119zm0 211zm2-170zm1 259zm1-61zm2-213zm6-20zm2 135zm1-24zm29 102zm45-75zm14-107zm24 124z"/>
<path stroke="#a6d670" stroke-width="20" stroke-opacity=".75" d="M4066 3273zm14-22zm62-79zm19 50zm5-24zm1-52zm82-16zm11 77zm2-55zm1-34zm9 176zm1-74zm7-119zm3 68zm5 52zm11-20zm15 92zm7-39zm16-77zm22 80zm7-132zm7 120zm3-79zm8 55zm4 30zm0-80zm1 119zm10-150zm3-6zm29 115zm30 14zm5-160zm6 104zm10-69zm14 22zm7 29zm4 61zm3-119zm32 82zm8 38zm7 1zm21-32zm1-15zm5-51zm1 72zm5-105zm4 120zm7-66zm9-26zm7 133zm5-91zm8 98zm14-178zm1 125zm17-8zm6-33zm21 60zm17-134zm1 97zm27 15z"/>
<path stroke="#7dc23a" stroke-width="20" stroke-opacity=".80" d="M4061 2704zm15 25zm7-19zm15 19zm2-7zm0-21zm5 17zm4-20zm3 14zm6-5zm4 1zm3 36zm1-17zm8-4zm0-55zm6-19zm1 89zm1-6zm5-43zm1 32zm2 10zm0-46zm14 12zm4-36zm3 29zm2 20zm2 0zm0-72zm2 64zm1 58zm4-27zm1-44zm3-39zm1 73zm0 54zm1-83zm1 36zm1-37zm4-30zm0 41zm1-50zm1 73zm3 44zm3-74zm1 27zm2-18zm1 47zm1-15zm1 40zm1-25zm0-28zm1-70zm0 36zm1 17zm1 13zm5 50zm1-63zm0 47zm1-54zm1-3zm1-37zm1-2zm1 32zm0-14zm2 10zm0-40zm1 11zm2 76zm2 15zm3-88zm0 57zm0 57zm2-72zm1 36zm0-95zm1 74zm2-51zm1 38zm2 8zm0 23zm1-94zm1 45zm3 16zm3-37zm1 114zm1-41zm0-87zm1 11zm1 38zm2 37zm2 10zm0-26zm3-19zm1-42zm2 28zm0-42zm2 118zm0-37zm2-28zm0-38zm1 36zm0 8zm1-40zm2 56zm1-102zm0 44zm1 58zm1-59zm0 50zm1 27zm1-26zm1 1zm0 6zm1 24zm2-13zm0 52zm0-98zm1 44zm1-40zm0 35zm3 48zm0 21zm3-111zm1-17zm1 73zm0-4zm3 47zm0-57zm1 52zm0-111zm0 87zm1-97zm0 25zm0 119zm0-41zm1-66zm0-1zm0-32zm1 57zm1 57zm1-65zm1-22zm4-30zm0 83zm2-120zm1 108zm0-60zm1 23zm0-20zm1-5zm0 109zm1-105zm0 50zm0-41zm0-9zm1 122zm1-34zm0-49zm4 11zm1-4zm2-47zm0 16zm2 27zm1-11zm2-65zm0 72zm1 19zm1 15zm2 44zm1-127zm1 39zm0-37zm1-52zm1 77zm2 24zm0-75zm3 57zm0-3zm2-39zm1-10zm0 49zm0 85zm2 11zm0-168zm1 102zm0-8zm1 53zm1-72zm3 55zm2-46zm0 9zm0 3zm1-62zm1 25zm1 20zm0 40zm0-35zm1 8zm1 20zm0 16zm0-62zm0-24zm0 73zm1-36zm0 1zm0 54zm1-50zm0 8zm0-47zm1 64zm0-92zm0 6zm1 86zm0-2zm1 7zm0-30zm0 47zm0-27zm0 35zm2 39zm1-67zm1 17zm0-83zm0 3zm1 41zm1-88zm0 68zm1-60zm1 86zm1 68zm0-108zm2 72zm1-116zm1 36zm0 55zm1-9zm1 14zm0-9zm2-108zm0 43zm0 7zm0 57zm0-79zm1 43zm1-58zm0 123zm1-45zm0-61zm0 75zm0-24zm1-19zm1 76zm3-25zm1 61zm2 19zm0-146zm1 135zm0-24zm1-117zm1 75zm0-23zm1-46zm1 55zm1-33zm0 61zm0-50zm0-55zm0 85zm1 49zm1-133zm0 69zm2-45zm0-3zm1-6zm0 88zm2-43zm1 31zm0-33zm1 38zm0-25zm1-41zm2 26zm1 56zm1-104zm0 151zm0-58zm1-103zm0 40zm1-24zm0 74zm1-36zm0 106zm1-141zm1 37zm0-28zm0 102zm0 4zm1-144zm0 60zm0 6zm0 15zm0-15zm1 38zm0 1zm1-77zm2 100zm0-51zm0 92zm0-72zm0 19zm0 0zm2-2zm0-79zm0 37zm1 12zm1-51zm0-1zm0 90zm1-63zm0 40zm0-47zm0 112zm1-98zm0-67zm0 63zm1 110zm0-67zm0 14zm0 1zm0-80zm1-16zm0 23zm0-19zm0 116zm0-6zm1 22zm0-155zm0 141zm1-75zm0-40zm1-19zm1 81zm1-13zm0 94zm1-121zm1 52zm1-72zm0 36zm0 31zm1 19zm0-84zm0 7zm1 42zm0-31zm1 37zm0-73zm0 61zm0-51zm0 27zm1 113zm2-130zm0 18zm0 37zm0 49zm1-82zm0-28zm0 131zm0-72zm1 67zm0-136zm0 0zm1 97zm1-102zm0 116zm1-27zm1-27zm0-78zm0 138zm0-105zm0 24zm1 38zm1-42zm0 49zm1-56zm0-11zm0 101zm1-6zm1 5zm0-94zm0 67zm1 46zm0-113zm2 7zm1 104zm0-105zm0 49zm1 7zm0-10zm1 49zm0-56zm0 21zm1 47zm0-146zm1 99zm0-40zm0 5zm1 26zm0-117zm0 36zm1 44zm0-10zm0 111zm0-155zm1 34zm0 68zm0 81zm1-129zm0 50zm1-35zm0 17zm0-31zm1 53zm0 45zm1-109zm0 47zm0-38zm1 63zm0-134zm0 9zm1 88zm1 0zm0-57zm1 98zm1-1zm0-83zm2 42zm0-46zm0 47zm0 6zm1-47zm0-36zm1 74zm0-1zm1-18zm1-29zm1 61zm1 54zm0-124zm0-7zm1 11zm0 34zm2 41zm1-45zm1 54zm0-52zm1 14zm0 37zm0-18zm1 13zm0-117zm1 153zm1-118zm0 22zm1 68zm0-63zm1 30zm0 50zm0-35zm0-45zm1 90zm0-63zm0-9zm1 27zm1-31zm0 7zm0-60zm0 41zm1 50zm0-61zm1 5zm0 88zm0-37zm0-51zm0 85zm0-40zm2-42zm0 42zm0 12zm0-34zm0-19zm1 92zm2-109zm0 36zm1-12zm0 21zm1 15zm0-71zm1 120zm2-142zm0 82zm2-10zm0-8zm1 89zm0-104zm0 84zm1-26zm0-4zm0-98zm1 114zm0-31zm0-85zm0 123zm0-54zm0-26zm0-23zm1 23zm0-43zm0 5zm0 95zm1 9zm1-80zm0 119zm0-14zm1-97zm1 71zm0-105zm0 90zm1-71zm0 118zm0-64zm0 80zm1-98zm0-41zm0-8zm1 129zm0-59zm0-26zm1 17zm1 4zm0 17zm1-60zm0-55zm0 124zm1-9zm0-52zm1-39zm1 143zm2-99zm0 57zm1-18zm0-18zm0-35zm1 15zm1-15zm1 76zm0-77zm0-35zm0 115zm0-11zm1-55zm0 21zm0 50zm1-73zm1 1zm0-51zm0 60zm1 35zm0 85zm0-79zm1-123zm1 190zm0-129zm0 23zm0 26zm2-16zm0-36zm1-26zm0 105zm2-12zm0-14zm0-26zm0 38zm1-81zm1 53zm0-48zm1-46zm0 107zm0 50zm0-81zm1 86zm0-58zm0 10zm1-4zm0-50zm0 62zm0 9zm2-35zm0 60zm1-145zm1 99zm0-19zm0 79zm0-79zm0 74zm1-47zm0-29zm0 18zm1 18zm0 52zm2 1zm0-57zm0-15zm1 34zm0-1zm1-73zm0-10zm1 4zm0 54zm1-13zm0 20zm2-50zm0 45zm1-7zm1-4zm0-57zm1 5zm1 70zm0-74zm1 17zm0 23zm1-47zm0 45zm0-14zm0-42zm0 106zm1-7zm0 13zm0 12zm1-104zm1 16zm1 72zm1 55zm1-134zm1 110zm0-61zm0 24zm0-103zm1 22zm1 27zm1 25zm0-56zm0 118zm2-64zm0-2zm0 52zm1-87zm0 116zm3-39zm0-103zm0 103zm1 54zm1-140zm0 55zm1-8zm1 30zm0-7zm0-56zm0 89zm1-51zm0-4zm1-1zm0 57zm1-93zm1 90zm0-103zm1 33zm1-14zm0 90zm0-76zm1 58zm0-63zm0-60zm1 77zm0-6zm0 43zm0-100zm0 74zm1 11zm1-26zm0 0zm0 100zm0-115zm1-14zm1 35zm1 9zm1-55zm0-48zm1 54zm2 39zm0 26zm0-50zm0 35zm1-47zm1 97zm1 5zm0 0zm0-139zm0 136zm0-63zm0 10zm1 31zm0-117zm0 120zm1 13zm0-50zm0 47zm0 9zm0-91zm1-15zm2 87zm1-46zm1 56zm2-12zm0-93zm1 24zm0 10zm1-14zm0-3zm1 51zm1-101zm1 36zm0 26zm0 55zm1 7zm0-42zm1-21zm0 29zm1 19zm5 10zm0-65zm1 49zm0-26zm0 3zm1-2zm0-47zm2 48zm1 21zm0-45zm3-7zm2 64zm1-81zm0 100zm1-30zm2 59zm1-7zm0-25zm1-76zm0 55zm0-60zm1 67zm3-52zm0 32zm0-32zm1-10zm1 5zm2 41zm0 32zm1-61zm0-57zm2 136zm1-68zm1-59zm1 60zm2-6zm0-53zm2 44zm0 30zm0 39zm0-116zm1 112zm0 5zm1-65zm1 5zm1 41zm1 14zm2-34zm2-67zm0 35zm1 91zm0-107zm0 24zm2-62zm1 67zm2-51zm0 145zm1-83zm0-58zm0 100zm1-79zm1-40zm3 152zm0-35zm1-21zm1 34zm0-46zm2 43zm0-120zm2 45zm2 21zm1 37zm1-23zm2 9zm1-3zm1-52zm1 28zm0 29zm2-36zm1 54zm1-62zm2-16zm0 14zm6 26zm0 0zm0 27zm5-45zm4 16zm1-30zm2 81zm0-48zm4-10zm3 8zm2 40zm2-102zm3 29zm0 32zm8 58zm3-72zm2 12zm6 10zm4-29zm2 65zm3-10zm1 1zm1 21zm4-48zm4-31zm0 29zm3-65zm4 79zm1-25zm1-32zm0 21zm2-16zm1 23zm3-42zm2 1zm0 9zm0 14zm5 36zm1-43zm5-37zm2 36zm1 11zm1 71zm2-24zm0-12zm1-22zm1 24zm3-35zm0-2zm2 54zm8-52zm4 29zm1-18zm3 23zm3 4zm7-23zm0-6zm3-29zm26 27z"/>
<path stroke="#7dc23a" stroke-width="20" stroke-opacity=".80" d="M4053 2955zm19 38zm2-58zm6 47zm7-40zm5 46zm3 16zm1-37zm6 8zm4 22zm4-95zm0 105zm4-41zm1 51zm1-79zm3 47zm5-11zm0-42zm1 93zm0-108zm3 11zm3 26zm3-36zm1 26zm1 14zm3 55zm1-15zm0-25zm0-31zm3 29zm1-4zm2 45zm0-12zm1-41zm3-15zm0 25zm2 49zm1-28zm1-50zm4-46zm2 98zm0 43zm0-143zm1 21zm6 114zm3-71zm1 35zm0 0zm1-73zm0-10zm3 114zm0-54zm1 11zm0-15zm5-36zm1 52zm1 18zm1-45zm1-23zm1 32zm0 70zm3-8zm1-97zm2 34zm1 89zm0 4zm2-108zm0 35zm0-47zm0 51zm3 17zm0-26zm0 88zm2-166zm1 52zm2 30zm0-32zm0-52zm2 28zm2 131zm1-148zm1 55zm0 88zm1-88zm1 31zm0-82zm0 53zm1-98zm1 112zm1-36zm0 7zm1 53zm0 11zm2-94zm0-25zm2 51zm0-27zm1 44zm0 83zm1-158zm1 26zm0-16zm1 32zm0-26zm0 65zm0 86zm1-12zm0-113zm3-34zm0 148zm1 13zm0-12zm2-38zm1-33zm0-62zm2-42zm0 95zm1 15zm0-90zm2 39zm2 71zm1-67zm0 8zm1 39zm1-62zm0 37zm0 1zm0-42zm1 105zm1-67zm1 69zm2 27zm1-31zm1-111zm2-20zm1 79zm0 15zm0-9zm1 67zm0-65zm0-15zm0 60zm0-151zm2 194zm1-99zm1-30zm2 95zm2 17zm0-9zm2-89zm1 1zm2 7zm1-46zm1 73zm0-106zm1 41zm0 39zm0-70zm1 61zm0 20zm1-10zm0 66zm1-43zm0 64zm1-21zm1-41zm1-17zm0-48zm1 149zm2-17zm0-93zm0-67zm1 50zm0 97zm1-74zm2 9zm0 73zm1-135zm1 41zm1 59zm0-50zm1-14zm1-23zm1-33zm0 141zm4-146zm0 147zm1-99zm0-15zm2 26zm0 28zm0-18zm1-15zm2 42zm0-97zm1 108zm0-37zm0 27zm0 44zm3-135zm0 68zm1-32zm1-4zm0 28zm1 71zm3-89zm0 35zm1-59zm0 84zm0-82zm1 101zm1-18zm0-19zm1-34zm0-68zm1 39zm0 118zm0-44zm1-30zm0 67zm0-25zm2-77zm1 61zm1 0zm0 79zm0-63zm1-11zm0-74zm1 130zm1-158zm0 138zm0-23zm1-31zm0 59zm0 2zm1-64zm1-52zm0 65zm1-13zm0 7zm0-13zm2-29zm0 41zm0 3zm2-18zm1 94zm0-94zm1 16zm1-23zm1 10zm1-61zm0 9zm0 147zm0-14zm1-134zm0 79zm1 24zm1-43zm2-38zm0 52zm0-30zm1-50zm0 99zm0-36zm1-37zm0 61zm1-45zm0 31zm0-19zm1-11zm1 14zm0 94zm0-77zm0 85zm1-61zm1-12zm0-1zm0-10zm1 2zm0-49zm0 28zm1 46zm0-24zm0-68zm0 21zm1 71zm1-31zm1-121zm0 230zm0-128zm1 54zm0-62zm1 3zm0-10zm0-47zm1-8zm1 156zm0-22zm4-54zm1 6zm0 67zm1-58zm2-38zm1 87zm1-60zm0 12zm0 16zm0-26zm1-59zm0 41zm0 42zm0-19zm0 8zm0-8zm1-3zm0-10zm0 38zm0-62zm1 5zm0 38zm3 9zm1-67zm0 22zm1 20zm1 25zm1-18zm1-16zm0-5zm1 8zm0-61zm0 49zm1 42zm0-34zm0-10zm1-1zm0 65zm0-6zm0 16zm0-20zm0-41zm1-22zm1 0zm0-7zm2 21zm1 107zm2-149zm0 16zm0 92zm0-59zm1 41zm1 16zm1-121zm0 47zm1 0zm0-3zm0 72zm1-45zm0 118zm0-84zm1-1zm0 29zm1-38zm0 49zm1-172zm2 93zm1 27zm0 29zm1-11zm0 20zm1-10zm0 84zm0-112zm1-55zm0 2zm1 86zm1 6zm0-98zm0 138zm0-96zm0 69zm2-2zm0-87zm1-3zm0 71zm0-80zm0 34zm1-43zm0 53zm0-45zm1-30zm0 60zm0-54zm0 23zm1 74zm1 40zm0-85zm0-76zm1 26zm1 49zm0 22zm0-3zm1 1zm0-41zm0-29zm0-9zm0 164zm0-72zm0 5zm0-36zm1-45zm0 102zm0-47zm1-30zm0-53zm0 98zm0-25zm0 11zm1-58zm1 120zm0-70zm0-106zm1 146zm0-79zm1 33zm1 11zm0-49zm0 83zm1 22zm0-48zm0-17zm1-49zm0 84zm1 66zm0-140zm0 24zm0-3zm0-15zm0 23zm0 81zm1-108zm0 49zm0 40zm1 9zm0-48zm0-66zm1 46zm0-7zm0 16zm2-82zm0 56zm0 53zm1-12zm1-25zm0 17zm1-19zm0 19zm1 15zm0 43zm0-172zm0 137zm0-58zm0 68zm1-132zm0 220zm0-93zm0-22zm0 5zm1 30zm0-127zm0 143zm0-104zm0 124zm0-90zm0 20zm0 26zm2-50zm0-25zm0 1zm0 11zm0 98zm0-183zm1 134zm0-81zm0 71zm1 11zm0 25zm0-48zm1-31zm0 121zm0-65zm1-111zm1 140zm0-92zm1 116zm0-91zm0 60zm1 73zm0-124zm0-6zm1-9zm0-10zm0 40zm1 65zm1-59zm0 28zm0-12zm0 38zm1-67zm0 56zm1 2zm0-9zm0-32zm0 4zm0 30zm1-75zm1 143zm0-30zm0-22zm1 32zm0-49zm1 30zm0-163zm0 115zm1 57zm0-58zm1 23zm1 37zm1-95zm1-66zm0 82zm1 47zm0-143zm0 127zm1-58zm0-82zm1 29zm0 113zm1-62zm1 8zm0 47zm1 41zm0-88zm0-25zm0-21zm1 6zm1-7zm0 24zm0 82zm0 0zm1-121zm0 47zm0 13zm1 18zm0-41zm1-46zm0 18zm0 44zm1-30zm0 9zm0 55zm1-24zm0 71zm1-43zm0-50zm0-14zm0 132zm0-139zm2 71zm0-84zm0 136zm0-146zm1 63zm1-11zm0-5zm1 26zm0-25zm1-14zm1 40zm0 21zm1-88zm0 89zm1 0zm0-26zm1 19zm0 64zm0-56zm1-56zm0-18zm1 16zm0 19zm0 42zm0 4zm1-2zm0-25zm1 44zm1-31zm1 52zm0-83zm0-2zm1 101zm0-52zm0-66zm0 87zm1-122zm0 69zm0-15zm0-71zm1 50zm1-34zm0 141zm1-26zm0-94zm0 18zm1 63zm0 37zm1-180zm0 224zm0-67zm1-130zm0 38zm1 59zm1-12zm1-81zm0 34zm0 44zm1-23zm0 72zm1-164zm0 110zm0 61zm0 7zm0 23zm1-94zm0 41zm1-127zm1 52zm0-35zm1 83zm0 5zm1-53zm2 90zm0-57zm2 63zm0 19zm0-73zm0 103zm1-144zm0 103zm0-12zm1 20zm0-82zm1 84zm1-161zm0 40zm1 88zm1-76zm0 122zm0-151zm1 51zm0 41zm0-2zm1-39zm0-48zm1 65zm0 44zm1-119zm1 55zm1 52zm1-129zm0 125zm0-37zm0-104zm1 139zm0-27zm0-48zm0 35zm1 24zm0 32zm0-91zm0 43zm1 54zm0-75zm0-29zm1 137zm0-82zm0 87zm3-18zm0-99zm0 107zm0-92zm1 153zm0-207zm1 96zm0-12zm3 23zm0-49zm0 21zm0-117zm1 108zm0 79zm0 9zm1-13zm0-65zm2-44zm0 101zm0-113zm1 99zm0-8zm1-56zm0 49zm1-81zm0 26zm1 3zm2 55zm0-107zm0 44zm1 54zm0-35zm1 43zm0 10zm1-94zm0 77zm0-22zm1 7zm0-67zm0 35zm1 48zm0-5zm1 80zm0-177zm0 74zm1 35zm0 11zm1-23zm0-9zm0-3zm1-53zm0 67zm0-72zm2-68zm2 74zm0 20zm0-42zm0 99zm1-97zm0 106zm0-28zm0-84zm1 62zm1-60zm0 39zm1 10zm0 27zm1-69zm1 75zm1 8zm0 28zm0-62zm1-10zm0-8zm0-9zm1 108zm0-50zm0-45zm0-57zm0 103zm1 8zm0-20zm0-94zm1-25zm1-10zm0 69zm0 23zm0 27zm1 26zm0 40zm1 2zm1-47zm0-101zm1-10zm1 126zm1 7zm0-80zm1-26zm0 29zm1 47zm1-27zm0 62zm0-95zm1 46zm1-32zm1 49zm0 20zm0-67zm1 107zm1-72zm2-81zm0-19zm1 55zm0 7zm0 19zm1 50zm0-98zm0 85zm1-90zm1 73zm0 33zm1-122zm0 110zm1-34zm1 10zm0 87zm1-190zm0 113zm0 112zm0-138zm0-72zm1 7zm0-17zm0 52zm0 70zm2-3zm0-37zm0 6zm1-19zm0-41zm0-30zm3 99zm0-107zm1 81zm1 111zm0-48zm0-26zm0-40zm1 62zm0-23zm1 33zm0-91zm1-11zm0 78zm0 27zm1-129zm1 33zm0 3zm1 66zm0 27zm0 50zm2-108zm0-22zm1 94zm0-81zm1 55zm0-35zm2-53zm2 19zm0-18zm0 67zm1-95zm0 99zm1-99zm3 65zm1-92zm2 121zm1-84zm0 18zm1 13zm0-64zm1 53zm0-39zm2 91zm1-62zm0 84zm1-52zm1 60zm0-89zm1 93zm0-13zm0 85zm1-107zm0-24zm1-15zm1 68zm0-42zm1-88zm0 118zm0-5zm1 46zm2-136zm0 74zm1-8zm0-66zm1 77zm0 62zm3-34zm0-56zm1 78zm0-71zm0-9zm1 92zm1-22zm0-1zm1-53zm0 16zm1 13zm2-99zm0 53zm1-52zm1 108zm0 34zm1-61zm1 27zm0-28zm2-75zm1-1zm1 119zm0-128zm1 148zm0-29zm1 48zm0 11zm0-79zm1 8zm0-4zm0-68zm2-15zm0 86zm0-80zm3 100zm3-51zm2 22zm0-4zm1 46zm1 15zm0-86zm2 27zm2-76zm0 58zm2 53zm1-109zm0 103zm0-20zm1-11zm1-32zm3-3zm3 102zm1-144zm0 45zm1 19zm0 103zm2-151zm1-37zm2 51zm2 20zm0-63zm0 119zm0-20zm0-4zm0-9zm1-2zm1-67zm2 127zm2 15zm2-43zm2-84zm1 23zm2 12zm0 19zm1-52zm0 51zm3-82zm0 96zm1 25zm1-49zm2-3zm2 38zm5-15zm2-68zm1 134zm2-10zm0-140zm7 70zm2 56zm2-21zm2-14zm2-23zm17 1zm5-24zm0 33zm1 61zm7-114zm3 85zm0 6zm7-91zm0-33zm4 87zm3 38zm11-108zm13 82zm7-77zm2 37z"/>
<path stroke="#7dc23a" stroke-width="20" stroke-opacity=".85" d="M4057 3397zm8 10zm4 32zm2 20zm1-108zm3 61zm1 27zm0-30zm6 54zm2 5zm1-84zm8 44zm1 23zm3 17zm5-44zm4-81zm3 162zm6-33zm4-88zm1 52zm4-48zm2-32zm1 47zm0-29zm7 57zm1-31zm0 121zm0-202zm3 134zm0-70zm6 30zm3-36zm1 82zm1-18zm1-77zm0 36zm0-38zm1 44zm2 73zm2-135zm4 13zm2 69zm4-81zm4 79zm0-100zm1 117zm0-4zm1-118zm0 129zm0-105zm0 94zm1-93zm1-4zm0 95zm1 43zm1-37zm1 18zm2-119zm4 10zm1 46zm2-44zm4 32zm1 39zm1 43zm1 41zm1-17zm0-167zm0 90zm1 85zm1-58zm1 19zm1-4zm1 10zm2-132zm1 54zm0 109zm1-71zm0 81zm0-55zm3-62zm3 39zm2-107zm1 175zm1-173zm1 84zm3 56zm1-47zm2-80zm0 115zm2-43zm0 58zm1 19zm1-89zm1 36zm0 9zm0-49zm1-71zm2 147zm0 19zm1-1zm0-99zm0 132zm1-200zm4 78zm0-22zm1 4zm1 80zm1-143zm0 73zm2 95zm1 2zm1-127zm1-30zm0 77zm1-4zm0 120zm0-31zm0-43zm1 51zm1-52zm0-59zm1-84zm0 161zm0-14zm0 22zm1-52zm1 91zm0-37zm1-100zm1 17zm1 92zm0 23zm1-64zm0-31zm0-55zm1 141zm0-84zm0 77zm1-76zm0 82zm2-18zm1-90zm1-9zm0 34zm0-69zm0 85zm0 32zm1 14zm0 5zm1-28zm2-29zm1 19zm0-34zm0-55zm1 49zm0 25zm1-14zm1 97zm0-58zm1-67zm0-53zm1 66zm0 9zm0 35zm0-2zm1 25zm0-14zm0-46zm1 26zm0 30zm0 12zm1-73zm0 45zm0-45zm0-47zm0 131zm0-41zm1-67zm0 63zm1-14zm1-36zm1-82zm0 212zm1-144zm0 45zm0-58zm1 8zm0 56zm0 65zm1 0zm0-111zm1 2zm0 28zm1-30zm0 15zm1 8zm1-22zm0 58zm0-2zm1 45zm0 18zm1-135zm0 45zm1 55zm0 12zm0-89zm0 47zm1-14zm1 40zm0 27zm2-105zm0-3zm1-36zm0 184zm0-36zm0-67zm1-11zm0 11zm1-27zm0 72zm1-44zm0 13zm1-83zm0 106zm1 11zm0-68zm0 110zm1-107zm1 1zm0 111zm0-64zm2 25zm0-118zm0 41zm1 41zm1-72zm0 85zm0-44zm1 54zm0 14zm0-113zm0-30zm0 53zm1 23zm0 56zm1 50zm1-122zm0 22zm0-37zm0 113zm0 5zm0-5zm1 13zm0 45zm1-200zm0 179zm1-106zm0 39zm1 33zm0-93zm0 95zm1-74zm1-8zm0 40zm0-47zm2 4zm0 36zm0-34zm1-82zm0 113zm1 35zm0-86zm1 154zm1-228zm0 146zm0-2zm1-98zm0 65zm1-2zm0 101zm0-134zm1-2zm0 26zm0-49zm1 61zm0-130zm0 44zm1 110zm0 6zm0-109zm0 72zm1 99zm1-2zm1-85zm0 18zm1 20zm0-55zm0 68zm1-136zm1 172zm0-84zm0-67zm0 39zm1-27zm1-13zm1 82zm0-31zm0 64zm1-58zm1 55zm0-14zm0 31zm2-68zm0 60zm0 42zm0-84zm1-103zm1 68zm0-3zm1 38zm1-10zm1-9zm2 61zm0-154zm1 35zm0-67zm1 101zm0-25zm0 31zm1 51zm0-17zm1 27zm0-59zm0 20zm1 49zm1 8zm0-70zm0-10zm1-52zm0 43zm0 35zm1-54zm0 5zm0 87zm1-91zm0 82zm0-42zm1-46zm0 52zm0 13zm1-74zm1 96zm1-7zm0-61zm1-58zm0 59zm0-9zm0-6zm3-69zm1 39zm0-14zm1 205zm1 4zm0-108zm0-4zm1-59zm0 41zm1-70zm0 54zm0-93zm0 112zm0-97zm1 14zm0 89zm1 67zm0 10zm0-85zm0 20zm0 33zm1 3zm0-29zm0-132zm0 37zm1 102zm0-68zm1 57zm0-49zm0 6zm1-12zm0 8zm1 99zm0-39zm0-96zm0 59zm0-61zm0 55zm1-43zm0-16zm0 73zm0 15zm0-34zm0 60zm1-69zm1 51zm0-35zm0 70zm0-54zm1-25zm0 79zm0-154zm0 87zm0 97zm1-90zm0 74zm0-156zm1 112zm1 61zm0-85zm1-77zm1-20zm0 91zm1 1zm0 45zm1-48zm0 8zm1-28zm0-23zm0-16zm1 1zm0 27zm0 69zm0 29zm1-101zm0 129zm0 15zm0-112zm0 41zm1-9zm2-64zm0 113zm0-31zm0-14zm0-99zm1 42zm0 34zm1 20zm0-112zm1 103zm0 57zm0-138zm1 61zm0 77zm0-125zm0 47zm0 81zm0-132zm1-13zm0-50zm1 96zm0-29zm0 145zm0-129zm2 36zm0 41zm0-22zm0 22zm0-133zm1 154zm0-84zm1 49zm0 38zm0-81zm0-39zm0-4zm0 127zm1-143zm1 150zm0-137zm1 95zm0-12zm0-90zm0 150zm1 9zm0-120zm1 102zm0 34zm0-170zm1 140zm0-117zm0-13zm1 123zm0-7zm0-107zm1 5zm0 23zm0-5zm0 11zm0-40zm0-18zm1 14zm0 158zm1-113zm1 1zm0-19zm1-39zm0 106zm0-57zm1-23zm0-30zm0-13zm2 215zm1-138zm0-17zm0-80zm0 121zm0-26zm1-62zm0-31zm0 152zm0-16zm0 62zm1-107zm0-20zm0 57zm0-67zm1 30zm0 57zm0 34zm1-34zm0-57zm0-25zm0 88zm1-56zm0 15zm0 111zm0-40zm1-71zm0-42zm0 102zm0-101zm1-46zm0-4zm0 100zm0-79zm0 83zm0-56zm0 103zm0 7zm1-61zm0-77zm1 42zm0 7zm0-47zm0 21zm1 29zm0 94zm0-90zm0 45zm0-111zm0 174zm1-107zm0 64zm0 3zm0-120zm0-12zm1 7zm1 176zm0-129zm0-54zm0 54zm0-80zm1 69zm0 40zm0-8zm0-23zm0-35zm1 82zm0-1zm0-9zm1-68zm0 118zm0-52zm0 55zm0-24zm0-190zm1 115zm1 116zm1-33zm0-111zm0-48zm0 135zm0 84zm1-44zm0-53zm1-96zm0 86zm1-36zm0-20zm0-10zm0 75zm1-11zm0-12zm1-4zm0-73zm0 39zm0 70zm1-28zm0-14zm0 145zm0-93zm1-64zm0-28zm0 39zm0 39zm0-79zm0 189zm1-159zm1 23zm0 56zm0-110zm0-10zm1 107zm0-112zm0 69zm0-58zm1-57zm0 130zm0 42zm0-99zm0 90zm1 39zm0-66zm0 7zm0-5zm0 26zm0-55zm0 154zm1-170zm0 1zm1-27zm0-46zm0 50zm0 55zm0 21zm0-31zm1 37zm0-56zm0 69zm0-87zm0 60zm0-73zm1 39zm0 71zm0-140zm1 87zm0-48zm0 120zm1-64zm0-47zm0-7zm0 90zm1-35zm0-66zm0 8zm0 134zm1-156zm0 99zm0-133zm0 152zm1 63zm0-36zm0-79zm0-12zm0 39zm1-15zm1-13zm0-42zm0 118zm0-176zm0 198zm0 10zm0-101zm1 120zm0-220zm0 53zm0-15zm0 36zm1 107zm1-6zm0-62zm0 3zm1-89zm0-13zm0 27zm0 41zm0 19zm0 47zm1-29zm0-72zm0 87zm1 78zm0-28zm0-113zm1 51zm0-55zm0 30zm0-53zm0-2zm0 76zm0 12zm0 29zm1-97zm0 3zm0 21zm0 42zm1-69zm1 4zm0 23zm0-77zm0 29zm0 12zm0-11zm0-41zm1-10zm0 197zm0-75zm1 23zm0 60zm0 29zm1-162zm0-59zm0 128zm0-64zm0 20zm1 52zm0-70zm0 48zm0 7zm1-52zm0 25zm0 42zm0 40zm0-125zm1 50zm0 40zm0-188zm0 164zm0-62zm1 58zm0-127zm0 47zm1 95zm0-110zm0-56zm0 84zm0 29zm0-1zm0-40zm1 12zm0 141zm0-125zm0 27zm1-73zm0 67zm1 52zm0-68zm0-39zm1 89zm0-72zm0 48zm0 22zm0-26zm0 33zm1-90zm1 114zm1 46zm0-210zm0 91zm0 62zm0-30zm1-13zm0 66zm0-91zm1-2zm0 70zm1-26zm1 48zm0 24zm0-72zm0-94zm1 22zm0 4zm0 10zm1-31zm0 90zm0-91zm1 93zm0-93zm0 93zm2 48zm0 40zm0-205zm0 113zm0-81zm1 80zm0-17zm0-23zm0 107zm0-60zm1-142zm0 134zm0-34zm0-106zm1 188zm0-68zm1 95zm0-25zm0-26zm0 1zm1-29zm0 42zm1-92zm1 14zm0-22zm0 134zm0-122zm1-11zm0 126zm0-16zm0-41zm1-75zm0 15zm0 29zm0 35zm0 71zm1-145zm0 41zm1 99zm0-138zm0-50zm0 82zm1-20zm0 94zm0-64zm0-38zm1-55zm0 130zm0-40zm1 33zm0-56zm0 56zm1-17zm0-66zm0 46zm0-44zm1 61zm0-14zm0-2zm1-21zm2 94zm0-18zm0-130zm0 114zm1-87zm0 14zm0 148zm0-214zm0 28zm0 85zm0 2zm1-62zm0 119zm0-82zm1-49zm0 163zm0-102zm1 21zm1 1zm0 18zm0-82zm0 68zm1-31zm0-121zm1 192zm0-75zm0 60zm0-59zm0 34zm1-26zm0-121zm1 125zm0-11zm0-15zm0-4zm0-7zm1 53zm0-138zm1 196zm0-38zm0-43zm0-99zm0 132zm1 44zm1-19zm0-76zm0 33zm1 101zm0-41zm0 24zm1-7zm1-67zm0-8zm0 14zm1 62zm2-59zm0 10zm0-101zm0-9zm0 155zm0-104zm1-14zm0-52zm0 147zm0-139zm1 41zm0-13zm0 114zm1-37zm0 44zm0-14zm0 100zm0-214zm0 16zm1 25zm0-36zm0 152zm0-87zm1-53zm0 129zm0-83zm1-29zm0 62zm1-61zm0-41zm0 98zm0-108zm1 54zm1-21zm0 33zm1 14zm0 39zm0-36zm0-46zm1 39zm0 111zm0-78zm0 42zm0-94zm1 49zm0 33zm0-71zm0 26zm0 15zm0-32zm0-29zm0-15zm0-13zm1 65zm0-11zm0 70zm0-139zm0 121zm0-86zm0-5zm1 113zm0-50zm0-47zm0-18zm1 154zm0-149zm1 128zm0-11zm0 32zm0-13zm1-31zm0-10zm0-57zm1 81zm1-97zm0 71zm0 49zm1-165zm0 60zm0-16zm0-22zm0 133zm0-141zm0 19zm1 138zm1-119zm0 92zm0-45zm1 23zm1-89zm0-14zm0 33zm0 45zm1 88zm0-62zm0-181zm1 46zm0-7zm1 24zm0 155zm0-135zm1 84zm0-38zm0-14zm0 28zm0-67zm0 15zm2 49zm0 19zm0-9zm1-79zm0-5zm1 34zm0-35zm0 57zm0 3zm0 79zm1-126zm0 60zm0 48zm1-1zm0-32zm0-23zm0 23zm0 10zm1-69zm0 47zm0-30zm0-26zm1 132zm0 21zm0-115zm0 69zm0-81zm1-19zm0-8zm0 41zm1-39zm0 7zm0 24zm0 4zm0-18zm0 122zm1 21zm0-174zm1 41zm0-68zm1 137zm0-92zm1 14zm0 16zm1 91zm0-188zm1 187zm0-122zm1 36zm0 95zm0-84zm1 94zm1 2zm0-176zm1 88zm1 18zm0-54zm0 24zm0 4zm0-22zm1 47zm0 5zm0-88zm0 115zm0-91zm0 28zm1-117zm0 81zm1-50zm0 101zm0-49zm0-49zm1 66zm0-120zm1 115zm1 24zm0 81zm0-48zm1 13zm1-53zm0 63zm1-86zm1-5zm0 19zm0-65zm0 176zm1-200zm0 144zm0-101zm0 59zm1-127zm0 165zm0-68zm1 153zm0 9zm1-46zm0-205zm1 168zm0-121zm0 80zm1 24zm0 7zm0-49zm1 59zm0-72zm0-46zm1 142zm2-176zm1 75zm0 47zm0-112zm1 171zm0-50zm0 32zm0-62zm1 64zm0-161zm0 179zm0-168zm1 2zm0 96zm0 99zm1-77zm0-64zm1 122zm0-54zm0 1zm2-62zm0-1zm1 61zm0-12zm0-46zm1-44zm0 117zm0-31zm0 6zm1-24zm0-77zm1 75zm0-4zm0-21zm0-3zm0 7zm1-66zm0-17zm0 139zm0-71zm1 63zm0-60zm1-85zm0 145zm0-67zm0 57zm0 1zm0 43zm0-18zm1-104zm0 98zm0 68zm0-96zm0 41zm2-141zm0-35zm0 133zm0 35zm0-95zm1 61zm0 114zm1-169zm0 97zm2-34zm1-55zm0 6zm0 46zm1 71zm0-68zm0-6zm0-30zm1 109zm1-40zm0-39zm1 13zm0-18zm0 46zm0 37zm0-115zm0 32zm0-102zm1 199zm0-8zm0-74zm0 69zm1-131zm1 21zm1-51zm2 31zm0-10zm0 8zm0 55zm1 36zm0 2zm0 45zm1-52zm0-85zm0 76zm0 76zm1-150zm1-14zm1 20zm0 49zm1 9zm0-52zm0 5zm1 107zm1-84zm2-60zm2 26zm3 82zm0-53zm2 82zm1 4zm0 21zm1-124zm0 86zm0-13zm1-5zm0-115zm1 44zm0 34zm0-63zm1 151zm1-165zm0 80zm0-9zm0-10zm2-44zm0 69zm0-5zm1 45zm0-31zm2-15zm0-28zm1 34zm1-29zm0-13zm0-25zm2 60zm0 43zm0-94zm1 164zm1-28zm0-100zm0-56zm1 170zm2-119zm0 97zm1-50zm0-22zm0 4zm1-118zm0 110zm2-15zm1-9zm2 87zm0-35zm2 51zm0-85zm0-97zm0 49zm1 106zm1-23zm0 3zm0-5zm2 28zm0-80zm0-22zm0-55zm1 123zm0 17zm1-74zm0 84zm1-53zm0 37zm1-64zm0 2zm0 28zm1 77zm0-187zm1 41zm1 102zm2-118zm0 93zm1-63zm0 130zm0-55zm1-21zm0-1zm0 31zm1 7zm0-43zm1 51zm1-121zm0 152zm0-121zm1-4zm0-3zm1 107zm1-34zm0-129zm0 95zm1 39zm2-25zm0-115zm0 146zm0 67zm3-189zm0 13zm2 35zm0 56zm1-44zm1 39zm0 36zm0 10zm1-128zm0 114zm1 44zm1-50zm1 16zm1-64zm4 11zm0-105zm2 74zm1-29zm1 93zm0-30zm0 51zm2-113zm1 95zm0-104zm0 16zm0 55zm1-38zm0 137zm1-151zm3-32zm2 180zm0-153zm0 16zm0-3zm1 90zm0-48zm0 4zm1-107zm1 182zm0-88zm0 22zm2 80zm1-43zm3-96zm2 51zm1 27zm0-16zm1-58zm0 139zm0-133zm1 20zm1-64zm2 92zm1 73zm3-103zm3 106zm0 2zm0-51zm0-72zm0-61zm3 38zm0 143zm4-144zm1 94zm1 38zm0 23zm0-18zm0-69zm0 81zm4-95zm0 36zm2 31zm0 24zm1-73zm1 30zm0-55zm4 12zm2-5zm1 49zm0-81zm2 22zm1 55zm1-120zm1 37zm0-48zm0 125zm1-59zm3-15zm1-7zm2-9zm0 98zm0-93zm1 109zm0-38zm1 28zm0 13zm1-120zm1 109zm1-104zm0 21zm1 22zm1 136zm0-92zm3-67zm0 98zm1-52zm3 21zm1-121zm1 43zm0 31zm1-18zm2 84zm2 42zm2-55zm1-37zm2 30zm1-23zm0 13zm0 92zm2-58zm0-59zm2 20zm1-52zm2 55zm3-47zm0-65zm0 114zm1-82zm1 43zm2 78zm0-90zm0 43zm0-66zm1 38zm4-11zm0 76zm3-9zm0-9zm4 50zm1-116zm0 25zm1-2zm4-37zm0 103zm2-132zm1 82zm2 81zm0-93zm7 17zm4-55zm0 53zm1 20zm11-55zm1 48zm3 39zm0-118zm3 24zm1 78zm3-84zm8 109zm4-52zm2 36zm8-81zm34 34z"/>
<path stroke="#76bc30" stroke-width="17" d="M3957 3407zm1 1zm0-3zm4 2zm6 0zm1 1zm4 0zm0 1zm2 0zm6-2zm5 5zm4 0zm3-3zm3 0zm2 0zm2-1zm2 1zm4-2zm0 2zm3 1zm6-1zm1 1zm0 1zm4-2zm1 2zm1 3zm4-1zm7-2zm1 1zm3 1zm3 0zm10 1zm1 0zm10 3zm3-2zm4 1zm9-1zm1 0zm4-1zm5 4zm0-3zm7 3zm1-2zm4 1zm2 1zm0-1zm5 2zm1-3zm8 0zm4 2zm6-1zm9 4zm3-3zm1 1zm6 1zm5 1zm0-4zm2 3zm4 0zm6 2zm6 0zm7 2zm6-2zm1-1zm4 0zm3 3zm2 1zm6-1zm2 2zm6-2zm1 2zm15 0zm6 0zm0 2zm3-4zm0 4zm6-2zm2 0zm3 2zm1 1zm4 1zm4 0zm5-2zm1 0zm2-1zm2 1zm5 2zm1 0zm2 2zm1-1zm0 0zm0-1zm3 0zm3 1zm10-1zm11 2zm6-1zm15 2zm2-1zm3 3zm0-5zm6 5zm4 0zm7-1zm4-2zm2 2zm1 2zm3-2zm0 3zm2-1zm0 2zm6-5zm1 4zm2-2zm2-1zm1 5zm5 0zm13-4zm6 3zm3-1zm5 2zm0 1zm4 0zm1-3zm0-1zm1 1zm3 4zm10 1zm1-3zm1 3zm0-3zm2-1zm1 1zm1-1zm1 4zm1-5zm1 5zm4-1zm1-1zm2 1zm2-2zm2 1zm1 3zm6-2zm3 1zm5 1zm4 2zm1-3zm2 2zm7 0zm5-2zm2 2zm0 1zm1-3zm0 0zm0 1zm2 0zm1-1zm2 4zm1-3zm3 0zm1 2zm4-3zm7 3zm0 1zm3 0zm0-2zm2 0zm4 2zm7 3zm13-2zm14 1zm2 1zm1-1zm5 2zm4-2zm15 2zm1-3zm3 4zm0 0zm1-1zm3 0zm1 0zm3 3zm2-4zm1 3zm2 0zm0 1zm9-3zm1 4zm1-5zm0 2zm2-1zm2 2zm0-2zm4 4zm2-1zm3 1zm6 0zm3-2zm0-1zm7 5zm4-4zm2 0zm4 2zm2 1zm2-1zm2-1zm0 2zm1 1zm3-2zm3 0zm2-1zm1 1zm2 0zm6 2zm2 2zm6-1zm1-1zm2 3zm2-3zm3 2zm14 0zm6 0zm1 0zm0 2zm5 0zm0 0zm5-4zm2 4zm9-1zm3 1zm3 3zm5-2zm4 1zm3 1zm4 0zm4 0zm3-1zm11 1zm0 0zm3 1zm1-2zm4 4zm0-5zm2 3zm5 0zm2 3zm4-4zm1 3zm0-3zm1 0zm7 2zm1 1zm3 0zm1 1zm16 0zm3 0zm1-1zm2 1zm3 4zm2-3zm3 0zm11-1zm10-1zm5 6zm4-2zm0 0zm10 1zm4 2zm2-2zm1 0zm1-1zm9 3zm3 2zm0-4zm10 3zm1 0zm5-2zm3 2zm0-1zm1 1zm1-1zm9 0zm2 3zm11 0zm3 0zm2 1zm3 1zm1-4zm1 2zm6 0zm0-3zm10 4zm5 2zm3-1zm0 0zm3-1zm1 2zm2-4z"/>
<path stroke="#76bc30" stroke-width="17" d="M3975 3441zm5 2zm4-2zm0 3zm3 0zm4-2zm1 0zm16 4zm3-5zm7 7zm1-3zm12 2zm3 0zm10 0zm10 0zm4-1zm4 4zm0-2zm0 0zm3-3zm7 2zm5 2zm14 1zm1 0zm2 1zm0-1zm3-2zm1 3zm3-3zm3 3zm1 0zm1-2zm4 1zm0 0zm2 0zm3 1zm1 1zm6 1zm5 0zm1 0zm3 1zm8 0zm3 1zm1 1zm0-1zm1-1zm2 1zm0-3zm8 1zm0 0zm3 1zm7 1zm4 0zm9 1zm5 1zm3-3zm1 1zm1 4zm7-3zm3 3zm2 0zm4-2zm1-2zm1 1zm7 1zm0 3zm1-2zm4 1zm2 2zm4-1zm3-2zm19 0zm1 2zm0-2zm2 3zm1-1zm10-2zm10 4zm1 1zm3-1zm7-1zm20 1zm13 0zm2 5zm3-1zm5-2zm1-1zm1 4zm14-2zm0 3zm1-2zm7 1zm7 1zm3 0zm2-1zm2-2zm1 3zm0 0zm6 3zm12-3zm7 4zm8-1zm3-1zm1 0zm1 0zm0-1zm2 3zm1-5zm1 6zm4-4zm4 1zm1 1zm3 2zm1-4zm5 4zm5-3zm10 0zm8 4zm1-2zm5-1zm3 3zm3 0zm0 1zm11-3zm8 5zm1-3zm2-1zm8 4zm2-2zm6 0zm3 1zm14 0zm0 0zm3 2zm3 2zm6 0zm5-3zm4 3zm1 0zm4 1zm0-3zm0 0zm7 3zm2-1zm2 0zm0 0zm4-1zm3 0zm3 2zm7 0zm2-1zm2 2zm3-1zm4-1zm4 1zm6 4zm10-1zm1-2zm0-2zm8 6zm2-1zm2-1zm4 0zm7 2zm3-3zm3 1zm6-1zm5 2zm6-1zm1 2zm2 0zm0 1zm1-3zm10 3zm9 3zm3-2zm2-1zm2 0zm1 3zm12-1zm0 0zm4-2zm3 2zm2-1zm12 2zm5-1zm1 1zm14 0zm3 1zm4 3zm0-2zm4-1zm0 2zm3 1zm14-2zm1-1zm0 4zm0-3zm1 0zm0-1zm5 3zm0 0zm0 2zm4-3zm3 2zm7 1zm9 0zm4-1zm5 2zm2 0zm1-2zm2-1zm0 1zm5 2zm1 2zm10-4zm1 3zm1 0zm5-2zm0 1zm6 2zm0 0zm1-2zm2 0zm1 3zm5 0zm3-1zm2-2zm2 5zm4-1zm5-2zm2 2zm1 0zm7-1zm11 1zm8 0zm1 1zm0 0zm5-2zm0 3z"/>
<path stroke="#76bc30" stroke-width="17" d="M4033 3344zm1 2zm5-1zm6 2zm9-2zm4 4zm1-4zm11 3zm13 1zm2 1zm1-1zm2-2zm4 4zm4-2zm22 1zm1-1zm0 2zm0 1zm4-1zm14 0zm3 3zm3 0zm2 2zm2-5zm1 2zm3-1zm2 3zm2 0zm12-2zm16 4zm3-3zm2 1zm1 1zm12 1zm4 1zm12 3zm3-2zm7-2zm0 2zm9 1zm5 0zm0 1zm0 1zm10-4zm3 3zm15 4zm4-3zm18 4zm1-4zm3 0zm4 1zm2 2zm13 1zm6 0zm5-1zm3 0zm4 3zm14 1zm12 3zm6 0zm11 0zm1-1zm14 0zm12 1zm2 0zm3 1zm12 3zm5-5zm11 4zm0-2zm12 2zm6 1zm10 1zm8 3zm4-4zm13 2zm5-2zm5 3zm0 1zm3 1zm5 1zm1-5zm2 3zm5-2zm8 5zm10-3zm2 0zm0 0zm4 3zm8 3zm3 0zm4-2zm11-1zm2 2zm11-2zm1 4zm4-5zm5 3zm1 2zm2 1zm5 1zm10 0zm1-1zm7 1zm11-1zm7 0zm1-1zm14 5zm2-3zm2 1zm1-1zm3 0zm8 4zm2-3zm3 3zm2 0zm1-1zm8 0zm5 0zm6-1z"/>
<path stroke="#76bc30" stroke-width="17" d="M4226 3528zm5-3zm0 1zm3 1zm8 0zm2 1zm0 2zm6-5zm3 4zm10 1zm3-1zm2 1zm5 2zm8-2zm5 1zm9 2zm1-1zm8 1zm12-2zm20 3zm3-2zm6 3zm2-1zm16 0zm2 0zm1 2zm3-2zm3 3zm2-1zm1 0zm5 0zm5 2zm6-3zm1 3zm1 0zm6 0zm7 3zm8-4zm8 1zm0 1zm1-1zm7 4zm9 1zm11-2zm4 1zm2 2zm5-3zm3 3zm6 0zm8 0zm8 1zm2-3zm5 3zm1 0zm1 0zm0 0zm25 0zm9 3zm1 0zm17-1zm5 1zm5 0zm0-1zm2 3zm4-2zm21 5zm4-2zm2 0zm4 0zm7 1zm11 0zm2 0zm2-1zm0 2zm9 1zm9 2zm11-1zm0-1zm10 1zm3 1zm13 0zm8 2zm10-4zm19 5zm1 1zm7 0zm9-1zm11 3zm2-3zm0 1zm2 0zm9 1zm4 2zm2-3zm8 3zm1-2zm9-1zm2 3zm2 1zm2-1zm1-2zm21 2zm11 3zm16-1zm2 1zm2 4zm1-4zm1 1zm1-1zm6 0zm1 2zm2-1zm3 1zm20 2zm18-2zm2 2zm17 1zm4 0zm6 1zm6-1zm2 4zm26 1zm12 0zm5 0zm12-2zm1 3zm2 1zm4 1zm4-3zm4-1z"/>
<path stroke="#76bc30" stroke-width="17" d="M4168 3584zm2 0zm8 2zm1-3zm2 2zm5 0zm3 2zm11 0zm2 0zm2-1zm1 0zm0 2zm0-1zm1 2zm2-2zm1 1zm2 0zm3 3zm0-4zm7 1zm7-1zm2 1zm3 2zm10 0zm1 2zm3-1zm0 0zm4-1zm7 1zm1-1zm3 0zm5 4zm3 0zm1-4zm2 3zm3-1zm2 2zm1 0zm1-2zm1 0zm0 0zm4 2zm7-3zm7 7zm2-1zm2-2zm4 1zm1 0zm2 0zm0-2zm4 2zm0 2zm1-1zm3-2zm5 2zm4-3zm12 3zm2 0zm1 2zm2 0zm3-1zm1-2zm0 3zm6-1zm0 1zm1-1zm8 1zm1-1zm0 2zm2 0zm4 1zm1 0zm2 0zm5 1zm2-2zm13 2zm2 0zm3 1zm5 1zm1 0zm2-3zm4 2zm11-1zm6 1zm1 1zm5 1zm0-2zm3 3zm3 2zm0-3zm3 2zm1-3zm0 3zm4-2zm11 3zm1-2zm1-2zm1 2zm5-1zm1 4zm1-2zm1 0zm1-1zm0 2zm12 1zm3 0zm5 0zm0 0zm3 1zm3 1zm5-1zm1 1zm1-2zm0 0zm4 1zm8 1zm0 1zm3-2zm1 0zm1 2zm6 0zm1 0zm2 0zm5 2zm2-3zm4 3zm1-4zm2 3zm0-2zm2 2zm8 1zm1 0zm4-1zm3 1zm2 2zm2-2zm10 2zm1 2zm4-4zm1 4zm1-3zm5 1zm1-2zm4 4zm0-1zm2-1zm0 0zm0 1zm1 2zm1-3zm3 3zm5 1zm14-1zm2-1zm8 0zm2 3zm4-3zm4 5zm5-4zm1-1zm2 5zm1-3zm1 0zm1 2zm5-1zm20 2zm9 2zm13 0zm4 1zm1-3zm0 0zm0 0zm7 3zm0 1zm1 0zm6-2zm3 1zm4 0zm2 2zm0-2zm2 2zm0 1zm5-2zm3 3zm2-3zm5-1zm7 4zm12 3zm9-1zm11 0zm2-3zm6 4zm0-3zm2-1zm4 4zm3-1zm1-2zm5 4zm1-1zm11 1zm9-1zm0 0zm8 3zm7-2zm5 3zm2-3zm0 1zm3 0zm10 4zm1-3zm0 4zm5-3zm4 0zm1-2zm4 3zm4 0zm2 3zm5-3zm3-1zm0 0zm3 0zm5 2zm0 2zm3-3zm0 5zm1-3zm5-1zm2 1zm0 2zm1 0zm0-1zm6 1zm1-2zm3 1zm1 4zm1-4zm1 3zm2-2zm1 0zm4 2zm1-3zm2-1zm0 3zm5-2zm2 3zm4-1zm5 0zm2 2zm6 2zm1-4zm8-1zm3 2zm1 2zm10-1zm1 1zm7 0zm1 1zm1-3zm3 5zm3-4zm3 1zm0 3zm1-1zm1 2zm1-1zm2-2zm3 3zm3-1zm0-3zm2-1zm3 4zm6-1zm2-1zm3 4zm1-1zm0 1zm3-2zm21 2zm1 0zm2-2zm0 4zm1-2zm4 3zm1-2zm5 2zm1-1zm5-2zm1-1zm1 4zm2-1zm1 2zm1-2zm4 2zm3-2zm2 2zm7-2zm5 2zm3-1zm0 2zm1-3z"/>
<path stroke="#76bc30" stroke-width="17" d="M4521 3280zm4 0zm8 0zm3 0zm2-1zm12 4zm4-1zm1 1zm2 2zm3 0zm2 0zm6 0zm5 0zm8 3zm5-1zm2 4zm2-4zm3 3zm1-4zm7 5zm2 1zm1-2zm7 2zm14 2zm15 2zm1-1zm4 3zm9-1zm1 1zm11 3zm4 0zm12 2zm10 1zm4 0zm7 0zm3 1zm27 4zm10 1zm0 2zm6-1zm4 1zm8-1zm1 4zm10-1zm0 1zm2-3zm0 1zm3 3zm1 0zm11 3zm6 1zm3-1zm1 2zm2-1zm4-2zm1 2zm0-1zm12 5zm1-2zm4 0z"/>
<path stroke="#7dc23a" stroke-width="21" stroke-opacity=".95" d="M4020 3791zm3 33zm13-15zm7-3zm2 43zm0-3zm4-99zm2 18zm1 33zm1-9zm2 65zm0-93zm1-1zm1 60zm0-73zm0 65zm1-17zm1-10zm4 12zm1-27zm0 15zm1 58zm0-82zm1 53zm5-1zm1-23zm2-9zm1 68zm1-101zm1 31zm1 16zm0 35zm0 30zm3-96zm1 57zm3-3zm0-12zm1-26zm0 53zm1 23zm1-136zm4 115zm2-94zm0 100zm1-82zm1 115zm1-26zm2-23zm1 58zm1-56zm1-88zm2 149zm0-35zm1-76zm0-50zm0 97zm0 73zm1-30zm1-80zm1 66zm3-59zm0 138zm1-175zm0 68zm2-12zm0 39zm3 27zm0-167zm1 47zm0 3zm3 70zm1-15zm0-101zm1 145zm1-3zm0-1zm1 24zm1-134zm0 96zm0-138zm2 106zm1 56zm0-60zm2-16zm2-53zm1 105zm0 8zm0-108zm0 111zm0-16zm0-126zm2 147zm1-19zm0-23zm0 96zm0-82zm0-13zm1-112zm1 97zm2 35zm0 23zm0-88zm0-98zm1 85zm0 12zm1 88zm0-45zm1-107zm0 112zm0 21zm0 48zm3-70zm0-7zm0-8zm1-1zm0 72zm1-48zm0-80zm1 90zm0-84zm2 181zm1-174zm0 153zm2-212zm0 95zm0-103zm1 98zm1-99zm0 144zm1-95zm0 80zm0-106zm1 17zm1 164zm0-113zm0-91zm1 154zm2 78zm0-97zm1-37zm0 15zm1-27zm0 11zm0 52zm1-83zm1 95zm1-118zm0-52zm1 45zm1 136zm1-100zm1 36zm0-84zm1 178zm0-24zm2-74zm1-23zm0 74zm0 19zm1-20zm0-152zm0 111zm0-90zm0 124zm1 40zm0-49zm0 10zm1-2zm0-99zm0 131zm0-128zm1-21zm0 6zm1 83zm0 8zm1-56zm0 155zm1-206zm0-25zm1 85zm1-88zm0 209zm1-7zm0-84zm0 91zm2 45zm1-21zm0-155zm1 101zm2 2zm1-144zm0 156zm0-37zm0-37zm0 16zm0-18zm1 16zm0 6zm0-8zm0-29zm1 135zm0-97zm1-29zm0-5zm0-55zm1 135zm0-10zm0-3zm0 12zm1-118zm0 42zm1 120zm1-120zm1-12zm0 140zm0-192zm0 121zm1-110zm0 63zm1 98zm1-192zm1 26zm0 185zm1-124zm0 6zm1 2zm0 54zm0 57zm1-58zm0-64zm1 11zm0 35zm0-51zm1-67zm0 145zm0-144zm0 29zm1 107zm0-23zm1 89zm1-25zm1-51zm0-21zm0 62zm1-29zm0-2zm0 19zm1 50zm0-249zm0 162zm1 13zm0 12zm1-149zm0 139zm2-68zm1 128zm0-75zm0-141zm1 125zm0 1zm0 2zm1 7zm0-94zm0 73zm1-36zm1-43zm0 62zm0 30zm1 32zm0-85zm2-103zm0 97zm1 32zm1-102zm0 194zm1-113zm1 84zm0-53zm0-23zm0 17zm0 85zm1-105zm0 144zm0-142zm0 84zm0-186zm1 93zm0-41zm1 96zm0-167zm0 224zm0-49zm1-155zm0 196zm0-69zm0-95zm0 90zm1-65zm1 164zm1-53zm0-78zm0 7zm0 111zm1-39zm0-44zm0-59zm0 15zm1 27zm0-23zm0 132zm0 17zm0-103zm0-70zm1 57zm0 46zm0-55zm0 70zm0 65zm1-245zm0 53zm0-34zm0 211zm1-193zm0 72zm1 161zm0-237zm1 142zm0 25zm0-135zm1 142zm0-99zm0 59zm0 89zm0-51zm1-199zm0 170zm0 64zm1-85zm0-30zm1 6zm1-56zm0-43zm0 30zm0-54zm1 41zm0-12zm0 89zm1-126zm0 60zm0 70zm0 31zm0-37zm0 41zm0-32zm0 50zm0-115zm1 39zm0 114zm1-79zm0-12zm0 39zm1 90zm0-8zm0-68zm0-8zm0-129zm1-6zm0 17zm0 100zm1-13zm0-20zm0 107zm0-38zm1-31zm0 32zm0-11zm0-44zm0 17zm0 1zm1-89zm0 125zm0-92zm0 107zm0-140zm1 3zm0 49zm0 48zm0-115zm0 25zm0 38zm1 4zm0 63zm0-36zm0-115zm1 114zm0-38zm0 18zm0 51zm0-43zm1-84zm0 43zm1-20zm0-20zm0 16zm1 101zm0-94zm0-9zm1-21zm0 154zm0-182zm1-19zm0 158zm1-80zm0-6zm0 147zm1-212zm0-42zm0 160zm0 86zm0-76zm1 114zm0-129zm0 3zm1 53zm1 32zm0-22zm1-69zm0 20zm0-105zm0 107zm1-62zm0 13zm0-60zm0 127zm0 22zm1 40zm0-115zm1-79zm0 186zm1-63zm0-26zm0 95zm0-197zm0 134zm1-15zm1-129zm0 95zm0-6zm0 26zm0-84zm1 87zm0-12zm0 88zm1-112zm0 25zm0 8zm1-12zm0 98zm1-134zm0 53zm0 54zm0-128zm1 82zm0-64zm0 42zm0-49zm0-72zm0 203zm0-84zm0-70zm0 34zm1 109zm0-26zm0-45zm0 102zm0-126zm0 66zm0-3zm1-40zm1 46zm1 47zm0-211zm0 174zm1 63zm0-171zm0 87zm0-150zm0 96zm1-17zm0 79zm0 120zm0-146zm1-143zm0 10zm1 55zm0 83zm0 36zm0 28zm1-122zm0 58zm0-94zm0-2zm1-2zm0 107zm1-62zm0 37zm0 90zm0 38zm0-62zm1 6zm0-91zm0 55zm0-35zm0 33zm0 74zm1-99zm0 111zm0-116zm1 55zm0-157zm1 51zm0 184zm0-197zm0 158zm0-73zm1 105zm0-104zm0-124zm0 86zm1-17zm0 120zm0-160zm0-14zm0 131zm1-4zm0-188zm0 284zm0-221zm0 111zm0-19zm0-114zm1 72zm0 72zm0 38zm0-86zm0-150zm0 121zm0-6zm0-15zm1 140zm0-163zm0 47zm1 65zm0-121zm0-61zm1 136zm0 125zm1-117zm0 13zm1 19zm0-146zm0 178zm1-2zm0-49zm0 60zm0-83zm0 89zm1 47zm0-237zm0 290zm0-196zm0 32zm0-73zm1 96zm0-56zm0 59zm0-49zm0 68zm2-160zm0 123zm0-164zm0 126zm0-81zm0 237zm0-154zm0 124zm1-179zm0 150zm0-62zm0-151zm0 147zm0 67zm0-29zm1-82zm0 76zm0 0zm0-186zm0 109zm0 146zm1-99zm0-54zm0 47zm0-138zm0 24zm1 11zm0 66zm0 180zm0-199zm1-9zm1-63zm0 210zm0 84zm0-81zm0-58zm1-130zm0 108zm0-169zm0 131zm0 27zm0 142zm0-48zm0-114zm1 41zm0 35zm0-118zm0 223zm0-129zm0-25zm0 153zm0-3zm1 11zm0-74zm1-165zm0 203zm0-201zm0 38zm1-70zm0-29zm0 117zm0-44zm0-10zm1 148zm0-45zm0-5zm1-93zm0 186zm0-128zm0-51zm0-52zm0 65zm1 136zm0-212zm1 222zm0-58zm0-39zm1 172zm0-246zm0 73zm0 40zm1-32zm0 74zm0 73zm0-184zm0 97zm1-75zm0 20zm0 14zm0 10zm0 2zm0 58zm0-137zm1 93zm0-55zm1 49zm0-16zm0-100zm0-35zm0 207zm1-175zm0-77zm1 190zm0-7zm0 35zm0 101zm0-186zm1 35zm0-82zm0 60zm1 106zm0-143zm0 153zm0-227zm0 114zm0 58zm1 29zm1 52zm0-139zm0-30zm0 82zm0-89zm1 110zm0-32zm0-54zm0 2zm0-80zm0 45zm0 7zm0 28zm1-144zm0 96zm0 62zm0-11zm0 151zm1-174zm0 190zm0-170zm0-27zm0 52zm1-144zm0 145zm0-55zm0-70zm0 159zm0 37zm1-106zm0-56zm0 14zm0 87zm0 38zm0-41zm0 67zm0-153zm0 148zm1-28zm0-5zm1-10zm0 2zm0-130zm0 143zm0-59zm1-27zm0 29zm0 45zm0-91zm0 197zm0-210zm1-17zm0 194zm0-151zm0 77zm1-172zm0 158zm1-165zm1 195zm0 12zm0-48zm0-164zm0 164zm0-101zm1-57zm0 277zm0-121zm0-102zm1 118zm0 25zm0-64zm0 26zm1-133zm0 98zm0-79zm0 22zm1 48zm0 44zm0-41zm0 36zm0-127zm0 152zm0-57zm0 57zm0 78zm1-83zm0-56zm0 4zm0 76zm0 65zm0-120zm1-16zm0-32zm0-40zm0 176zm0-65zm0-73zm1 125zm0 1zm0-88zm0-79zm0 35zm1 1zm0 88zm0-34zm0-11zm0-61zm1 69zm0-5zm0-2zm0 33zm0 29zm0-67zm1-42zm0 147zm0-101zm1 168zm1-169zm0 47zm0 14zm0-122zm1 29zm0 34zm0 30zm0 69zm0-250zm0 35zm0 60zm1-10zm0 86zm0-118zm0 87zm0 18zm0-77zm0 96zm1 92zm0-119zm0-57zm1 77zm0-47zm0 132zm0-2zm1-155zm0-34zm0 162zm0-202zm1 121zm0 120zm0-184zm1 142zm0-146zm0 79zm0 40zm0-93zm0 33zm1 5zm0-110zm0 82zm0 21zm0 130zm0-154zm0 85zm1-7zm0 87zm1-244zm0 1zm0 35zm0-25zm1 90zm0 6zm0 16zm0-49zm0 221zm0-154zm1-159zm0 202zm0-15zm0-113zm0 25zm0 97zm1-136zm0 93zm0 132zm0-102zm0-175zm0 193zm0-92zm0 136zm1-33zm0-174zm0 217zm0-146zm0 60zm0-33zm0-43zm0-73zm1 16zm0 201zm0-184zm0-34zm0 61zm0 110zm1 25zm0 16zm0-103zm0 57zm1-72zm0-36zm1-11zm0 116zm0 23zm0-80zm0 19zm0 37zm1 78zm0-274zm0 176zm0 0zm0 14zm0-103zm0-16zm0 90zm1-77zm0 205zm0-132zm0 27zm0 53zm0-96zm1-17zm0 118zm0-208zm0 40zm0 224zm0-232zm0 78zm1 57zm0 3zm1-98zm0 19zm0 165zm0-95zm0-17zm0 44zm0 63zm1-179zm0 105zm0-61zm0 31zm0-128zm0 70zm0 16zm1 96zm0-16zm0-25zm0-44zm0-38zm1-110zm0 139zm0-17zm0-99zm0 215zm1-7zm0-73zm0-140zm0 211zm0 31zm1-154zm0 90zm0-57zm0-72zm0 19zm0 79zm0-127zm0 5zm0 164zm1-102zm0 151zm0-119zm0 61zm0-69zm0 42zm0-50zm0 154zm1-163zm0 57zm0-4zm0 130zm0-130zm0-154zm0 51zm0 90zm0-60zm0 135zm1-244zm0 134zm0 165zm0-204zm0 110zm0-4zm0 1zm1-108zm0-82zm0 69zm1 152zm0-107zm0 79zm0 75zm0-50zm0-135zm1 248zm0-82zm0-95zm0 65zm0-83zm0 30zm1 77zm0 9zm0-33zm0-98zm0 107zm0 25zm0 14zm0-40zm0-15zm0 103zm0-37zm0-253zm1 146zm0-45zm0-3zm0-2zm0-46zm0 13zm0 233zm0-348zm0 292zm0-118zm1-109zm0 72zm0 31zm0 19zm0 44zm0 22zm0-178zm0 146zm1-46zm0 9zm0 137zm0-288zm0 60zm1 119zm0-175zm0 277zm0-285zm0 143zm0 93zm0-3zm0-15zm1-9zm0-141zm0-90zm0 251zm0-91zm1 19zm0 41zm0 90zm0-55zm0-71zm0 12zm1-144zm0 113zm0 54zm0 126zm0-200zm0 47zm0-80zm1 71zm0-39zm0 31zm0-126zm0 107zm0 11zm0-41zm0 55zm0-41zm0-15zm0 65zm1 36zm0-19zm0-117zm0 108zm0 43zm0 26zm1-66zm0-37zm0-154zm1 105zm0-74zm0 112zm1-56zm0 80zm1 18zm0 17zm0-80zm0 192zm0-200zm0 9zm0 71zm0-134zm0 115zm1-34zm0 101zm0-69zm0 31zm0-107zm0 70zm1 29zm0 13zm0-27zm0 34zm0 32zm0-17zm0-11zm1-27zm0-152zm0 142zm0-127zm0 95zm0 58zm0 70zm0-16zm0-52zm0 41zm1-87zm0-62zm0 208zm0-179zm0 130zm0-10zm1-123zm0-35zm0-43zm0 123zm0-111zm1 51zm0 156zm0 12zm0-55zm0-55zm0-13zm0 2zm0-121zm0 87zm0 78zm1-116zm0 53zm0-1zm0 21zm0-47zm0 120zm0-137zm0 44zm0 87zm0 75zm1-98zm1-54zm0 184zm0-125zm0 42zm0 4zm0-147zm0-83zm1 37zm0 75zm0 72zm0 49zm0-128zm0 114zm0-251zm1 131zm0-31zm0 11zm0 188zm0-102zm0-33zm0-63zm0-53zm1 7zm0 101zm0 40zm0 28zm1-197zm0 15zm0 89zm1 209zm0-161zm0-66zm0 83zm0-139zm0 123zm0 120zm1-59zm0-192zm0 112zm0 23zm0-118zm0 22zm1 78zm0 5zm0 68zm0-104zm0-5zm0-24zm0 58zm1 69zm0-109zm0 149zm0-94zm0 76zm0 54zm0-42zm0-246zm0 284zm0-143zm0-14zm0 59zm0 4zm1-22zm0-122zm1-56zm0 158zm0 35zm0 50zm0-88zm0 13zm0 3zm0 43zm0-32zm0-54zm1 0zm0 51zm0-3zm0 47zm1 5zm0-18zm0-154zm0 86zm0 70zm0-212zm1 230zm0-32zm0-7zm0-45zm0 76zm0 11zm0-43zm0-40zm1 131zm0-113zm0-66zm0 96zm0-76zm0 6zm1 141zm0-266zm0 128zm0-66zm0 105zm0-26zm0-12zm0-14zm1 5zm0 111zm0-90zm0 0zm0 21zm0 115zm0-118zm0-164zm0 143zm0 80zm0-93zm1-7zm0-37zm0 225zm0-134zm0 20zm0-49zm0 10zm1-89zm0 93zm0 23zm1-14zm0 149zm0-143zm0-122zm0 115zm1-64zm0 160zm0-181zm1-48zm0 144zm0-34zm0 88zm1-29zm0 3zm0-14zm0-51zm0-25zm1-57zm0 36zm0 139zm0-31zm0 6zm1-93zm0 13zm0 72zm0-42zm0 29zm0 38zm1 60zm0-58zm0-176zm0 159zm0 114zm0-124zm1-66zm0 97zm0 83zm0-144zm0 18zm0 14zm1 7zm0-115zm0 42zm0-32zm0 157zm0-234zm0 115zm1 2zm0 5zm0-24zm0 110zm0-181zm0 61zm0-5zm1 117zm0-221zm0 176zm0 6zm0-107zm0 58zm0 34zm1-1zm0-108zm0 66zm0 58zm0-5zm0-99zm0 109zm0-60zm0 9zm1 76zm0-66zm0 61zm0 21zm0-67zm1-47zm0 22zm0 0zm0 148zm0-172zm0 155zm1-150zm0-8zm0 140zm0-24zm0-82zm0-27zm0 90zm0-120zm0 63zm0 17zm1-74zm0 57zm0 22zm0-154zm0 254zm0-104zm0 28zm1-214zm0 231zm0-31zm0-81zm1 169zm0-107zm0-61zm0 17zm0-63zm0 91zm0 70zm0-92zm1 58zm0 1zm0-26zm0 27zm1 69zm0-107zm0 90zm0 6zm0-67zm0-82zm1 66zm0 107zm0-169zm0 52zm0-2zm0-77zm0 116zm0-132zm0 122zm1-22zm0-67zm0 141zm1-177zm0 24zm0 90zm0 0zm0-67zm0 40zm0 24zm0-71zm0 26zm1 158zm0-107zm0 13zm0-150zm0 220zm0-133zm0 23zm0-104zm0 45zm0-11zm0-6zm1-66zm0 132zm1-4zm0-7zm0-12zm0-2zm0 111zm0-56zm0 27zm0-76zm0 223zm0-209zm0-32zm1 94zm0 31zm0-130zm0 10zm0 95zm0-91zm0-29zm0 125zm1-40zm0 95zm0-23zm0 65zm0-168zm0 42zm0-19zm0-37zm1 191zm0-218zm0-31zm0 84zm0 78zm0-51zm1 17zm0-33zm0 171zm0-134zm0-58zm0 194zm0-112zm0-17zm0-17zm1 31zm0-52zm0 86zm0 38zm0-144zm1 106zm0-119zm0 84zm0-120zm0 116zm0 63zm1 13zm0-113zm0-38zm0 142zm0-46zm0 1zm1-63zm0-92zm0 107zm0-98zm1 151zm0 52zm0-203zm0 110zm0-151zm0 144zm1-47zm0 2zm0 14zm0 76zm0 83zm0-192zm0 88zm1-14zm0-14zm0 17zm0-46zm0-104zm0 40zm0-26zm0 140zm1-140zm0 102zm0-68zm0 69zm0 87zm0-135zm0 12zm1 169zm0-186zm0 97zm0 0zm0-70zm1 14zm0-134zm0 42zm0 151zm0-85zm0-13zm0 74zm0 26zm0-42zm1-51zm0 47zm0-96zm0-11zm0 191zm0-258zm0-16zm1 257zm0-75zm0 29zm0 51zm0-36zm1-219zm0 228zm0-96zm0 17zm0 20zm0 152zm1-82zm0-97zm0 55zm0-157zm0 187zm0 7zm1-82zm0 24zm0 67zm0 2zm0-32zm0-58zm0 5zm0-110zm1 142zm0-17zm0-129zm0 132zm1 16zm0 61zm1-143zm0 96zm0-74zm0 84zm0-108zm0-15zm0 68zm0 136zm0-128zm1 28zm0 20zm0-153zm0 66zm0 98zm0-47zm0 15zm1 49zm0-198zm0 284zm0-133zm0 6zm0-173zm0 184zm1 34zm0-5zm0-2zm0-203zm0 141zm0-60zm0-21zm0 34zm0 10zm0-73zm1 7zm0 85zm0-37zm0 180zm1-64zm0-70zm0 39zm0 26zm0-88zm1 66zm0-147zm0 82zm0 127zm0-35zm1-56zm0-29zm0-112zm0 130zm0 19zm0 83zm0-161zm0 65zm0-122zm0 154zm1-136zm0 20zm0 116zm0-96zm1 220zm0-189zm0 98zm0 72zm0-181zm1 8zm0 89zm0 16zm0-25zm0-94zm0 88zm0-42zm1 105zm0-91zm0 60zm0-91zm0 26zm0-55zm1 57zm0 4zm0-30zm0-126zm0 110zm0-37zm1-40zm0 50zm0 160zm0-99zm0 119zm0-121zm0-52zm1 61zm0-10zm0-28zm0 172zm0-203zm0 181zm0-138zm0 141zm0-108zm0 4zm0 95zm0-209zm1 32zm0 64zm0-115zm0-40zm0 179zm0 70zm0-226zm0 284zm0-214zm1-31zm0 18zm1 84zm0-49zm0 32zm0-155zm0 130zm1-88zm0 123zm0 23zm1-103zm0-79zm0 138zm0-72zm0 49zm1-90zm0 49zm1 92zm0-177zm0 227zm0 87zm1-198zm0 112zm0-102zm1 43zm1 45zm0-148zm0 151zm0-119zm0 70zm0 58zm0-35zm0 66zm1-89zm0 55zm0-28zm0-149zm0 60zm1 28zm0 13zm0 130zm0-124zm0-53zm0 9zm0-45zm1 45zm0 27zm0 35zm0 91zm0-147zm0 206zm0-71zm1-32zm0-156zm0 212zm0-166zm0 85zm0-204zm0 153zm1 38zm0-46zm1-37zm0 117zm0-73zm0-106zm0 226zm1-23zm0-46zm0 54zm0 14zm0-179zm0-33zm0 104zm0-7zm0-71zm0-22zm0 143zm1-185zm0 203zm0-99zm0 104zm0-148zm0 153zm0-205zm0 165zm1-53zm0-5zm0 86zm0-81zm0 74zm0 99zm0-220zm0 101zm0-61zm0 102zm1 53zm0-141zm1 43zm0-4zm0-99zm0 178zm0-117zm0-45zm0 166zm1 2zm0-100zm0-14zm0 139zm0-104zm0-31zm0 100zm0-172zm0-14zm0 164zm0-39zm1-7zm0-132zm0 88zm1 81zm0-11zm0-227zm0 225zm0 72zm0-173zm0 64zm1-71zm0-12zm0 187zm0-68zm0 3zm0 58zm0-91zm0 74zm0-67zm0-36zm0-59zm1 194zm0-106zm0 16zm0-113zm1 79zm0 103zm0-128zm0 43zm0 91zm1-25zm0-72zm0 11zm0-45zm0 32zm0-67zm1-2zm0 41zm0-64zm0 64zm0 80zm0-31zm0-144zm0-65zm0 167zm0-46zm0 154zm1-103zm0 140zm0-129zm0-86zm0 43zm0 100zm0-59zm0 50zm0-21zm1 50zm0-127zm0 167zm0-78zm0-45zm0-29zm0 129zm1-183zm0-2zm0 127zm0-79zm0-1zm0-20zm0 122zm1-90zm0 105zm0-28zm0-69zm0 98zm0 43zm0-224zm0 168zm0-91zm0-134zm1 208zm0-94zm0 68zm1-20zm0-17zm0 11zm0 35zm0 73zm0 4zm0-93zm1-40zm0 21zm0 8zm0-89zm0 126zm0-171zm0 198zm0-145zm1-2zm0-3zm0 80zm0-58zm0 50zm0-123zm0 95zm0 177zm0-88zm0 12zm0-109zm0-60zm0-23zm1 186zm0-195zm0 78zm1 91zm0-118zm0 67zm0 34zm0-43zm0 141zm1-52zm0-171zm0 103zm0 62zm0-139zm1 37zm0 59zm0-53zm0 66zm0-60zm0 60zm0-152zm0 9zm1 59zm0-7zm1 139zm0-255zm0 195zm0-30zm0-48zm0 22zm0-37zm1 95zm0-38zm0-25zm0-34zm0 112zm0-39zm0 1zm1-2zm0 53zm0 30zm0-23zm1-137zm0 99zm0-77zm0 120zm0-125zm0 111zm1-49zm0-61zm0 183zm0-89zm0-13zm1-47zm0-70zm0 91zm0 22zm0-64zm0 151zm1-203zm0 114zm0 71zm0-54zm0 4zm0-70zm0 90zm1-73zm0 8zm0-144zm0 171zm0 10zm0 131zm0-172zm1 2zm0-53zm0 18zm0 20zm0-118zm0 170zm0 22zm1 38zm0-167zm0 139zm0-81zm0 55zm0-12zm0-66zm0 90zm1 2zm0-2zm0-133zm0 114zm0 81zm1-247zm0 107zm1 121zm0 62zm0-22zm0-112zm0-42zm1-138zm0 242zm0-162zm0 215zm0-206zm0 167zm0-122zm0-2zm1-94zm0 244zm0-60zm0 86zm0-132zm0 71zm1-206zm0 138zm0 112zm0 34zm0-102zm0-201zm0 68zm0 50zm1 6zm0-57zm0-4zm0 133zm0-115zm1 194zm0-65zm1-33zm0 8zm0-156zm0 58zm0 53zm1 57zm0-111zm0 40zm0 84zm0-76zm0-8zm1-105zm0 14zm0 144zm0-11zm0 59zm1-214zm0 198zm0-201zm0 138zm0-4zm1 70zm0-1zm0-22zm0 51zm0-93zm0-132zm0 148zm0-68zm1 12zm0 24zm0-20zm0-13zm0 91zm0-26zm0 96zm0-83zm0 63zm1 1zm0 7zm0-83zm0-48zm0 93zm0 54zm0-118zm0 37zm0-57zm0 75zm1-79zm0-20zm0 85zm0-107zm0 133zm0-21zm0-151zm0 139zm1-7zm0-186zm0 260zm0-152zm0 36zm1-19zm0 11zm0 46zm0-116zm0 102zm1-110zm0 111zm0-13zm1-12zm0-89zm0 86zm0 44zm1-79zm0 96zm0-56zm0 0zm0-97zm0-11zm0 7zm1 119zm0-24zm0-26zm1 53zm0-33zm0 39zm0-59zm0 14zm0-35zm0 123zm0-32zm1-18zm0 2zm0-48zm0 14zm0 7zm0 61zm0-36zm0-1zm0-102zm0-35zm1 166zm0-146zm0 206zm0-45zm0-108zm0 117zm0-9zm0-84zm0-35zm1 127zm0-108zm0 58zm1-54zm0 14zm0 16zm0-58zm0 31zm0 87zm0-30zm0-33zm0 128zm0-65zm0-24zm1 61zm0 66zm0-272zm0 78zm0 41zm0-5zm0-97zm1 205zm0-143zm0-9zm0-32zm0-3zm0 57zm0 80zm0 78zm0-93zm0 15zm1 14zm0 46zm0-155zm0 70zm1 100zm0-53zm0-87zm0-42zm0 16zm0 76zm0-97zm0-48zm0 173zm1-106zm0 65zm1 153zm0-215zm0-74zm0 187zm0-103zm0 138zm1 68zm0-181zm0-29zm1 34zm0-79zm0 64zm0-135zm0 108zm0-90zm0 176zm0-93zm0 170zm1-142zm0-42zm0 63zm0-45zm0-29zm0 23zm0 80zm0-50zm0 33zm0-36zm1 65zm0-65zm0-5zm0-4zm0 55zm0 48zm0-79zm1-79zm0 173zm0 67zm0-237zm0 263zm0-237zm1-25zm0 29zm0-44zm0 78zm0-68zm0 129zm0-63zm1 68zm0-2zm0 106zm1-97zm0-10zm0-77zm0-84zm0 13zm1 199zm0-220zm0 212zm1-61zm0 1zm0 10zm0-77zm0 40zm0-38zm1 158zm0-68zm0-96zm0 189zm1-62zm0-37zm0 77zm0-200zm1 183zm0-140zm0 100zm0 28zm0-150zm0 143zm1-43zm0-94zm0 26zm0-45zm1-43zm0 139zm0-15zm0 13zm0 14zm0-121zm0 23zm1 162zm0-36zm0-108zm0 195zm0-100zm0-68zm0 94zm0-37zm0-89zm0 73zm1 70zm0-132zm0 181zm1 26zm0-206zm0 123zm0-121zm0 3zm0 197zm1-147zm0-178zm0 239zm0-48zm0-70zm0-39zm0 124zm0 69zm0-111zm0 35zm0-46zm1-7zm0-107zm0 74zm0 107zm0 47zm0-82zm0-4zm0 109zm1-167zm0-18zm1 85zm0-20zm0 43zm0-116zm0 166zm0-91zm1 2zm0 39zm0-35zm0-53zm0 71zm1-115zm0 121zm0 84zm0-142zm1-14zm0 135zm0-94zm0 77zm0-137zm0-47zm0 18zm0 92zm0 16zm1 9zm0-23zm0-18zm1 63zm0-1zm0-48zm0 22zm0-20zm1 17zm0-15zm0-17zm0 9zm0 30zm0-38zm0-81zm0 83zm1-18zm0 114zm0-99zm0 61zm0-47zm0 72zm0-155zm0 195zm0-157zm1 39zm0-5zm0 98zm0-164zm0 74zm0 151zm0-107zm0-85zm0 102zm1-239zm0 263zm0-92zm0-51zm0 171zm0-250zm0 59zm0 242zm1-245zm0 86zm0 20zm0-79zm0 57zm0 28zm0 15zm0-104zm1 115zm0-71zm0-34zm0-13zm0 119zm0-116zm1 113zm0-29zm0-178zm1 136zm0 55zm0-64zm0 94zm0 26zm0-109zm0 16zm1-45zm1 110zm0-13zm0-141zm0-26zm0 180zm0 19zm0-101zm0 10zm0 107zm1-6zm0-156zm0 83zm1-63zm0 98zm0-36zm1-72zm0-118zm0 111zm0 17zm0 87zm1 26zm0 77zm0-147zm1 129zm0-146zm0-56zm1-6zm0-7zm0 245zm0-275zm0 114zm0-122zm0 30zm0 35zm1 96zm0-49zm0-60zm0-44zm0 94zm1-18zm0-27zm0 52zm0 87zm0-30zm0-119zm0 27zm1-18zm0 149zm0-100zm0 82zm0-220zm0 231zm0-111zm0 13zm0 65zm1-186zm0 111zm0 93zm0-58zm0 36zm1 34zm0-169zm0 42zm0 63zm0 59zm0-60zm0-129zm0 46zm0 132zm1-2zm0-117zm0 97zm0-104zm0-46zm0 12zm0 168zm1-38zm1 17zm0-87zm0 73zm0 12zm0-91zm0 103zm0-17zm0-89zm0 123zm1-151zm0 72zm0 33zm0 44zm0-98zm0 21zm0-62zm0 217zm1-110zm0-40zm0 22zm0-6zm1-87zm0 197zm0-153zm0-41zm0 38zm1-21zm0-103zm0 179zm0-56zm1 68zm0 17zm0-23zm0-22zm0 8zm0 64zm0-94zm0 79zm0-90zm1-1zm0 69zm0-67zm0 108zm0-70zm0 22zm1-81zm0 60zm0 22zm0-177zm0 34zm0 146zm0-2zm0-129zm0 80zm1-4zm0 73zm0-56zm0 23zm0-11zm0-69zm1-7zm0-97zm0 135zm0 27zm0-101zm0 181zm1 49zm0-102zm0-150zm1 21zm0 85zm0 105zm0-119zm1-4zm0-45zm0-31zm0 101zm1 93zm0-133zm0 159zm0-112zm1 106zm0-66zm0-80zm0 168zm0-12zm0-134zm1 77zm0-71zm0-68zm0 36zm1 44zm0 26zm0-22zm1-116zm0 40zm0 76zm0-33zm1 161zm0-61zm0-98zm0 70zm0-44zm0 30zm0 30zm0-194zm0 123zm1 88zm0-135zm0 159zm0-205zm1 55zm0-43zm0 23zm1 26zm0 63zm0-35zm0 51zm0-1zm1 58zm0 12zm0-255zm0 296zm0-70zm0-233zm0 10zm1 103zm0 55zm0-161zm0 45zm0 14zm0 102zm0-118zm1 154zm0-147zm0-6zm0 149zm1-86zm0 102zm0-56zm0-49zm1 65zm0 1zm0 51zm0-77zm1-67zm0 49zm0 1zm0-128zm0 43zm0 55zm0-19zm0 61zm1-93zm0 156zm0-12zm1-15zm0 48zm1 7zm0 6zm1-45zm0 7zm0-49zm0-89zm0 152zm0-8zm0-1zm0-141zm0 37zm0 123zm1-96zm0-42zm0-75zm0 59zm1 77zm0 35zm0-99zm0 93zm0-51zm1 88zm0-157zm0 125zm1 38zm0-134zm0-23zm0 64zm0-11zm0 14zm0 88zm1-41zm0 99zm0-166zm0 38zm0 10zm0-85zm1 121zm0-18zm0 37zm0-117zm0 69zm0-17zm1 14zm0-15zm0-23zm0 14zm1-59zm0 135zm0-42zm0-185zm0 222zm1 109zm0-15zm0 4zm0-159zm0-1zm0 8zm0-55zm1 148zm0-128zm0-56zm0-20zm0-46zm0 306zm1-33zm0-52zm0-9zm0 48zm0-133zm1 66zm0 76zm0-192zm1 67zm0-47zm0-1zm0 110zm0-108zm0 37zm0-107zm0 79zm0 158zm0-145zm1-93zm0 47zm1-62zm1 140zm0-8zm0-4zm0-5zm0-21zm0 178zm0-30zm0-116zm0 16zm1 27zm0-125zm0 35zm0 58zm0 79zm1-100zm0-16zm0 58zm0 45zm0 57zm0-208zm1 181zm0-66zm0 39zm1-96zm0-81zm1 62zm1 44zm0 73zm0-124zm0 57zm0 14zm1-66zm0-63zm1 106zm0-86zm0-3zm1-6zm0 182zm0-85zm1-33zm0 36zm0-93zm0 87zm0 81zm1-82zm0-21zm0 13zm0 49zm2 60zm0-170zm0 113zm1 33zm0-83zm0 19zm0 21zm0 88zm0-100zm2-166zm0 34zm0 157zm0-139zm0 140zm0-9zm0-3zm0-85zm1 124zm0-176zm0 251zm1-110zm1-77zm0-56zm1 40zm0 63zm1-106zm0 206zm0-78zm0-1zm0-32zm0-140zm0 157zm0 144zm1-103zm0 65zm0-66zm1-116zm0 91zm0-147zm1 156zm0-72zm0-33zm1-75zm0 84zm1 0zm0-16zm0-31zm0 58zm0 102zm0-204zm0 135zm1 80zm0-122zm0-69zm0 56zm1 155zm0-72zm0-7zm1 71zm0 69zm1-169zm0 34zm0-65zm0 89zm1-107zm0 146zm0-211zm1 52zm1 105zm0-63zm0 173zm0-92zm0-112zm0 89zm0 91zm1-67zm0-29zm0-29zm0 30zm1 5zm0-22zm0 8zm0-107zm1 216zm0-33zm0-63zm1-35zm0-14zm0 77zm1-35zm0-150zm2 61zm0 160zm0 19zm1-222zm0 149zm0 43zm0 28zm0-131zm0 28zm2-55zm0-36zm0 79zm1 17zm0-100zm0 92zm1-11zm0 3zm0 88zm0 56zm1-275zm1 147zm0 17zm0 56zm0-165zm0 152zm1-2zm1 13zm0-161zm0 64zm1-2zm0-36zm0-22zm0-32zm0 203zm0-38zm0-100zm1-11zm0 197zm1-57zm0-41zm1-54zm1-23zm0 52zm0 97zm0-107zm0-31zm1-87zm0 200zm0-163zm0 222zm0-174zm1-9zm1 103zm0-25zm0-6zm1-74zm0 29zm1-58zm0 65zm0-54zm0 171zm0-183zm1 108zm0-106zm1 36zm0 25zm0-35zm1-23zm0 30zm0-1zm1 169zm0-108zm0-12zm0 53zm1-21zm0 50zm0-120zm1 40zm0 102zm1-138zm0 26zm0-19zm0-52zm1 79zm0-2zm0-31zm0 52zm0 40zm0-127zm0 127zm0-18zm1-24zm0-46zm1-63zm0 32zm1-5zm0 55zm0 102zm0-136zm0 157zm1-85zm0-136zm0 84zm0 122zm1-78zm0-13zm0 10zm1 94zm0-97zm0-69zm1 150zm1-69zm1 56zm0-94zm0 131zm1 3zm0-35zm0-18zm1 32zm0-142zm0 17zm1-7zm0 36zm0-32zm0 6zm0-46zm0-16zm1-2zm0-47zm0 170zm0-110zm0 114zm1-31zm0 34zm0-10zm0-6zm0 92zm1-150zm0 7zm0-4zm0-52zm0-7zm0 172zm2-105zm0 106zm0-132zm1 6zm0 85zm0-152zm1 6zm1 82zm0-4zm0 46zm0-24zm0-99zm0 86zm0 95zm1-180zm1 65zm1 76zm0-100zm0 0zm0 6zm0-19zm0 162zm0-193zm1-26zm0 47zm0 126zm0 64zm0-5zm0-153zm0 88zm1-43zm0 39zm0-18zm1-90zm0 56zm0-103zm0 169zm0-180zm1 194zm0-180zm0 205zm1-246zm0 169zm0-145zm1 250zm1-179zm0 27zm0 90zm0-2zm0-4zm0-40zm3 62zm1-88zm1-67zm0 109zm1-47zm0-71zm1 48zm2 62zm0-8zm1-3zm0-81zm1 193zm0-16zm0-26zm0-100zm1 62zm1-98zm0 49zm0-113zm0 230zm1-211zm0 157zm1-27zm0-131zm0 209zm0-210zm0 28zm1-9zm1 12zm0 75zm0-100zm0 97zm0 72zm1 53zm0-161zm1 125zm0-31zm1 55zm0 10zm0-103zm1 72zm0 32zm0-213zm0 8zm0 46zm1 141zm0-50zm0-109zm1 94zm0-21zm1-77zm0 0zm1 113zm0-56zm2-94zm1 188zm1-108zm0 12zm0 141zm0-42zm0-176zm1 46zm2 141zm1 11zm0-21zm1-87zm0-77zm0 33zm0 120zm1-72zm0 14zm0-115zm0 98zm1 74zm0-34zm0-62zm0 30zm2-55zm0-49zm0 49zm1 70zm1-29zm0-90zm0-10zm2 127zm0-37zm1-114zm0 246zm0-118zm1-59zm0 12zm0 27zm0 0zm1 108zm0-142zm2 45zm0-132zm0 53zm2 118zm1 79zm0-199zm1 4zm0 123zm1-9zm1 58zm1-179zm0 92zm1 27zm1-156zm0 191zm1-47zm1-63zm0 95zm1-8zm1-111zm1-51zm1 117zm1 37zm0 18zm1-17zm0-105zm1 77zm1-28zm0-51zm2 154zm0-130zm0 29zm0-34zm1 93zm3-25zm1 39zm1-52zm2 56zm1-85zm0-64zm0 31zm0 47zm1 22zm0-108zm1 183zm0-145zm0-42zm2 171zm2-10zm1-122zm2 64zm1-6zm1 20zm0-78zm2 120zm0-109zm0 108zm1-154zm0 41zm1-40zm0 183zm1-42zm1-69zm2-30zm1 6zm1-32zm3 81zm1 6zm1-40zm0 37zm1-79zm1 147zm3-20zm1-36zm0-113zm3 163zm0-81zm0 54zm0-48zm1 81zm1-137zm0 118zm2 18zm1-113zm2 46zm1-27zm1-77zm2 34zm1-16zm0 93zm0 4zm0-25zm0-24zm6-5zm1 0zm2 25zm1 6zm0 50zm3-52zm1-17zm1-29zm0 70zm0 31zm2-74zm0 86zm2-60zm2 65zm3-41zm1-50zm0 54zm0-38zm0-43zm1 120zm3-131zm7 94zm0-54zm1 16zm8-67zm6 132zm4-101zm5 82zm31-24z"/>
<path stroke="#76bc30" stroke-width="21" d="M4114 3831zm26-68zm2-8zm2 90zm2-1zm5-47zm0 36zm3-59zm13 38zm1-15zm1 2zm2 30zm1 4zm1 26zm4 32zm7-92zm1 24zm1-14zm1-23zm0 10zm1 27zm5-48zm1 97zm1-65zm1 62zm1-13zm0-47zm1-76zm0 114zm9-54zm0 53zm2 5zm3-84zm0 44zm3-50zm0-16zm0 93zm1-55zm1 40zm0-80zm1 80zm0-3zm1-84zm2 67zm1-62zm2 19zm3 97zm2-50zm1-35zm0 82zm1-50zm2-52zm0 61zm1-41zm1 48zm1 4zm1 7zm0-62zm1 45zm1-25zm0-75zm1 100zm1-69zm0 64zm2 74zm0-35zm1-27zm1 15zm1-15zm2-52zm0 119zm0-146zm1 146zm3-39zm1-122zm0 112zm0-107zm2 0zm1 105zm3 11zm0-9zm1-127zm1 61zm1 57zm3-31zm1 102zm0-170zm0 71zm2 42zm1-57zm3-21zm1 50zm0-53zm1 80zm2-14zm0-18zm1 75zm2 22zm0-62zm0-53zm1 12zm1-5zm0-4zm1 29zm3-57zm2 112zm2-42zm0-56zm1 1zm1 102zm0-128zm1 102zm1-125zm0 85zm0-12zm0-64zm1 14zm1 49zm1 12zm0-36zm1-2zm0-3zm0 54zm1-1zm0 2zm1-89zm3 41zm1 82zm1-80zm1 39zm0 10zm2-3zm0 52zm0-85zm1-12zm1-34zm0 10zm0 47zm0-62zm1 44zm0-20zm0 26zm0-20zm1 93zm0-42zm1-38zm0-41zm2 88zm1-32zm0-107zm2 57zm0 131zm2-48zm0 17zm2 16zm0-120zm0 27zm0 44zm1-145zm2 111zm1 82zm0-32zm0 26zm0 5zm0 41zm1-148zm0 62zm1 28zm0-45zm0-36zm3 65zm0 24zm1 51zm1-81zm1-36zm1 46zm0-19zm1 10zm1 10zm1 0zm0-63zm0-9zm0-35zm1 42zm0 36zm1 6zm0 8zm1 17zm1-34zm1-67zm0 18zm0-24zm0 149zm1-153zm1 160zm1-12zm0 11zm0-80zm1 4zm0-15zm0-28zm1 22zm0 130zm0-185zm1 45zm0 89zm0-35zm1-153zm0 186zm1 49zm0-139zm0 14zm0-21zm1 13zm0-8zm1 18zm0 75zm0-131zm0 41zm0 55zm0-58zm1 25zm0-95zm1 84zm1 25zm0-68zm0-18zm0 38zm1 49zm1 34zm0 19zm0-36zm1-129zm0 63zm0 45zm1-51zm0 48zm2 22zm0-95zm0 19zm1 126zm0-90zm0 15zm2 12zm1-24zm0 80zm1-62zm0 70zm0-45zm0-16zm0-64zm1 22zm0 97zm1-83zm0 66zm2-148zm0 83zm0 37zm0 11zm0 37zm1-10zm1-64zm0 106zm1-82zm0 18zm1 23zm1-61zm0 74zm0-46zm0-43zm2-3zm0 5zm1-62zm0-11zm0 151zm0-72zm1 53zm0-48zm0 24zm2-25zm1 7zm0 31zm0-4zm0 12zm0-14zm1 6zm0-85zm0 98zm0-139zm0 118zm1-55zm0-63zm0 110zm0-124zm1 118zm1 107zm0-84zm1-20zm0 44zm0-105zm1-60zm0 24zm0 88zm1 68zm0-39zm0-20zm0-31zm2-3zm0 53zm0-21zm1 62zm0-44zm1-79zm1 98zm2 35zm0-69zm1-72zm1 14zm0 61zm0-132zm0 119zm1-85zm1 96zm0 79zm1-192zm0 132zm0-42zm1 8zm1 40zm0 1zm1 34zm0-92zm1 7zm0-86zm0 56zm1 36zm0-66zm0 123zm1-98zm1 68zm2-22zm0-52zm1 45zm1-31zm0 22zm1-16zm0 109zm1-81zm0 49zm0-99zm0-51zm0 116zm2 40zm0-2zm0-72zm0 55zm1-20zm0-28zm2 19zm0 12zm0-21zm0 20zm0-132zm0 170zm1-96zm1 0zm0 59zm2-4zm0-2zm1-92zm0 98zm0-95zm1 39zm0 91zm0-59zm1-79zm0 29zm1 42zm1-1zm0 69zm0 36zm2 10zm0-159zm0 128zm1-41zm0-25zm0 33zm0-103zm1 155zm1-125zm1 42zm0-52zm0 35zm0 32zm1 61zm0-103zm0-15zm0 73zm0-143zm0-13zm1 112zm0 25zm1-4zm0-25zm0 66zm0-41zm0 12zm1-64zm0 82zm1-33zm0 12zm0-51zm0 58zm0-22zm0-43zm0 0zm1-21zm0 71zm1 19zm0-13zm0-2zm0-91zm0 90zm1 39zm1-171zm1 108zm0-5zm0 64zm1-81zm0 84zm0 26zm0-47zm0 14zm1-21zm0-86zm0 49zm0-100zm1 80zm0 32zm0 1zm1 8zm0 11zm0-46zm1 1zm1 54zm1 15zm1-35zm0-49zm0 48zm1 39zm0 1zm0 9zm0-6zm1-98zm0-38zm0-25zm0 43zm0 111zm0 5zm0-18zm0 24zm2-59zm1-34zm0 103zm0 5zm0-62zm0 91zm1-110zm1-34zm0 8zm0 66zm1-15zm2-92zm0 55zm1 120zm0-144zm1 32zm1 29zm0-84zm0-19zm1 48zm0 57zm0 32zm0-78zm0-16zm0-13zm1 48zm0-19zm0 21zm0 10zm1-1zm0-2zm0-44zm1-80zm0 107zm0 108zm1-52zm0-35zm0-27zm1-19zm1 133zm1-60zm1 5zm0-28zm1 29zm0-36zm1-105zm0 76zm0 45zm1-41zm0-20zm0-4zm0 94zm0-34zm1-29zm0-53zm1 46zm0 95zm0-70zm1-13zm0-56zm1-16zm1 18zm0 4zm0 112zm1-45zm1-44zm0 69zm0-44zm0-61zm1-40zm0 35zm0 99zm0-57zm0 15zm1-7zm0 27zm0 97zm0-166zm1 20zm0 56zm0 69zm1-52zm1-31zm0-19zm0 48zm0 42zm1-82zm0 64zm1-4zm0-124zm0 70zm1 67zm0-49zm0 33zm0-37zm0 90zm0 40zm1-122zm0-58zm0 103zm0-68zm0 64zm1-49zm0-19zm0-2zm1 33zm0 4zm1-48zm0 53zm0-20zm1-29zm0 2zm1-55zm0 53zm1 60zm0-28zm0-107zm1 11zm0 101zm0 12zm0-22zm0-4zm1-49zm0 31zm0-11zm0 60zm0 72zm1-42zm0-133zm0 180zm0-98zm0-51zm1 12zm0 56zm0-78zm1 8zm2 94zm0-133zm1 66zm0 75zm0 13zm0-127zm1 106zm0-101zm0 55zm1-33zm0 98zm0 17zm1-42zm0-4zm1-149zm0 42zm0 139zm0-84zm0 50zm1 80zm0-128zm0 34zm1-14zm0 57zm0-121zm2 19zm1 69zm0-20zm0-70zm1-8zm0 71zm0 62zm0 0zm0-31zm1 29zm0-96zm0 87zm1-71zm0 12zm1 32zm1-9zm1 34zm0-23zm0-5zm0-5zm0-7zm0-23zm2 48zm0-10zm0-109zm0 34zm1 69zm1 50zm0-135zm1 60zm0-1zm0 56zm1-124zm0 72zm2 32zm0-45zm0-4zm0 113zm0-96zm0 51zm0-34zm1 29zm1-98zm0 5zm1-1zm0 27zm0 87zm1 54zm0-102zm0-38zm0-76zm0 155zm1-116zm0-4zm1 59zm0-82zm0 145zm1-27zm0-55zm0-15zm0-11zm2-13zm0 78zm1-3zm0 77zm0-156zm1 88zm0-21zm0-5zm1-13zm0-66zm0 48zm1-24zm0 117zm1-72zm0 122zm0-93zm0-120zm0 199zm1-94zm0-38zm0 0zm0 51zm0-29zm1-28zm0 33zm1-23zm0-14zm2 139zm0-138zm1 51zm1-45zm2 36zm0 26zm0 20zm1-131zm1 4zm0 72zm1-86zm0 118zm1 7zm0-61zm0-62zm1 32zm0 33zm0-30zm1 47zm1 2zm1-26zm0 140zm0-106zm1-18zm0 1zm0-35zm0-15zm1 70zm0 38zm0-77zm0-34zm1 40zm0 13zm0 93zm1-30zm0 25zm0-102zm1 28zm0 40zm2-4zm0-62zm0-77zm0 64zm1 41zm0-7zm1 10zm1-8zm1-21zm0 92zm0-5zm1-63zm1-52zm0-7zm0 103zm1-54zm0-29zm1 26zm1 37zm1-42zm0 4zm0 65zm1-75zm1 67zm1-32zm0-16zm0-36zm0 49zm2 85zm0-195zm0 211zm1-106zm0 36zm1-130zm0 42zm0 86zm0-55zm0-82zm2 146zm1 76zm0-11zm0-113zm0-26zm1-27zm1-50zm1 97zm0 16zm1 36zm0-54zm0 111zm1-125zm1 23zm0 16zm0-23zm1 49zm1-53zm1 25zm1 74zm0-109zm0-23zm1 18zm0 100zm0-24zm2-55zm1 44zm0-1zm2-20zm1-30zm0 26zm1 3zm0-70zm0 176zm1-93zm1-38zm1-71zm0 23zm0 76zm0-40zm2 16zm0 2zm0-18zm1 23zm0-31zm2 14zm0 10zm1 13zm1 14zm1 13zm0 38zm2-81zm0 35zm1-10zm2 24zm1-36zm0-44zm0 92zm1-9zm0 32zm2 14zm1-157zm0 112zm1-44zm1-37zm1 100zm1-90zm0 35zm1 62zm0-95zm0-37zm1-30zm1 38zm0-25zm1 120zm0-78zm1 34zm1 4zm0-52zm0 28zm0 9zm2-26zm0 79zm1-63zm0 3zm1 87zm0-77zm3 64zm0-28zm0-4zm0 16zm0-50zm1 50zm0-40zm0-94zm1 12zm0-9zm3 100zm3 1zm0 18zm1-58zm0 68zm4-3zm0 6zm1-55zm0-3zm1 15zm0 75zm1-81zm0-51zm0 45zm2 31zm0-30zm1-74zm3 125zm0-73zm2 3zm1 126zm0-83zm1-80zm0 121zm1-42zm1 60zm1-9zm1-91zm3 92zm0-17zm0 6zm1 24zm1-116zm0 25zm2 30zm2-69zm1 106zm0 22zm1-66zm0-86zm1 113zm0-123zm2 150zm1-23zm1-61zm1 33zm1 49zm1-124zm0 136zm1-58zm2 2zm1-73zm4 77zm1-47zm1 3zm0 73zm1-18zm0-93zm1 41zm0 51zm2-66zm2 46zm1-19zm1 38zm0-30zm0 29zm6-33zm2 26zm1 16zm4 21zm1-8zm1-32zm2-51zm1 55zm1 63zm2-117zm1 96zm5 9zm1 12zm0 4zm0-106zm1 57zm0 6zm0-30zm0 71zm3-63zm0-17zm2-2zm2 20zm1-102zm3 31zm2 75zm2-17zm0 20zm0 4zm1 30zm9-27zm2-81zm3 111zm3-84zm5 39zm1-53zm1 43zm1 55zm0-104zm0 25zm7 77zm2-59zm1 26zm1-10zm9-83zm3 59zm5-13zm10 53zm2-62zm11 8z"/>
<path stroke="#7a1b6e" stroke-width="21" d="M3910 2742zm31 12zm5-5zm15-81zm25 81zm13 45zm32-11zm2-79zm3 23zm18 43zm17-33zm1-88zm35 77zm23 34zm0-7zm1 40zm8 33zm17-20zm5-198zm34 1zm123 8zm16 224zm28-257zm17 19zm6-8zm144 226zm78-233zm9 23zm20 203zm68-29zm29 36zm4-30zm7 30zm49-214zm22 53zm15 102zm3 25zm7-90zm52 56zm3-83zm9-30zm24 43zm12 60zm52-58z"/>
<path stroke="#7a1b6e" stroke-width="21" d="M3925 2966zm41-67zm25 119zm8-60zm21-93zm26 20zm4 109zm28-85zm5 83zm8 10zm14-100zm67 224zm1-44zm24-273zm12 311zm9-11zm62 10zm46-299zm24-5zm9-2zm26 21zm7-28zm1 320zm62 1zm33-286zm3-43zm1 45zm77 271zm127-58zm35-162zm19 139zm2-196zm4 256zm6-7zm40-215zm14 60zm7-12zm6-50zm22 84zm8-61zm39 168zm16-182zm8 41zm42 11z"/>
<path stroke="#7a1b6e" stroke-width="21" d="M3883 3456zm15 32zm6 2zm10-100zm0 31zm71-15zm14 27zm5 124zm40-226zm12 198zm6-6zm40 21zm5 16zm2 18zm270 25zm45-314zm3 328zm4-2zm334-294zm124 242zm41-163zm26 140zm4-167zm1 56zm39 23zm22-43zm9 48zm2-7z"/>
<path stroke="#7a1b6e" stroke-width="21" d="M3872 3851zm23-66zm18 78zm8 8zm3-73zm2-6zm76 146zm4-193zm3 15zm0 150zm11-15zm20-118zm2-15zm12 135zm6-151zm22-58zm18 236zm50-264zm9 295zm45-281zm22 322zm10-22zm76 29zm139-376zm148 8zm201 41zm18 11zm8 258zm8-273zm2 278zm16-5zm36-20zm17 5zm30-65zm5 89zm0-270zm21 219zm39-43zm2-45zm31 64zm2-27zm5-46zm17 70zm22-59zm1 17zm8 47zm9-60zm12-31z"/>
<path stroke="#7a1b6e" stroke-width="21" d="M4217 3370zm67-22zm232 228zm91-80zm123-115zm106 133z"/>
<path stroke="#7a1b6e" stroke-width="20" d="M4263 3707zm189 198zm13-219z"/>
<path stroke="#7a1b6e" stroke-width="21" d="M4175 3107zm78 40zm80-15zm256 64z"/>
<path stroke="#7a1b6e" stroke-width="21" d="M4008 4206zm71-7zm68 33zm11 0zm25-74zm44-24zm17 105zm3-92zm18 55zm14 56zm12-58zm2 33zm28-47zm7-7zm0 9zm14 4zm25-22zm24 55zm5-94zm5 75zm8-16zm1 1zm3-78zm0 115zm13 26zm14-42zm3-40zm4-48zm22 106zm12-72zm13 12zm37-47zm28 21zm37 47zm46-50zm0 112zm6-10zm11-16zm28-25zm9 8zm6-10zm30-37zm12 63zm0 23zm6-99zm9 68zm3-24zm11 2z"/>
<path stroke="#7a1b6e" stroke-width="21" d="M4407 4206zm10 11zm36 4zm4-14zm0-24zm6 5zm17 3zm8 32zm68-50zm10 78zm6-64zm7 58zm2-59zm23 5z"/>
<path stroke="#2aa0c8" stroke-width="21" stroke-opacity=".95" d="M4555 2805z"/>
<path stroke="#2aa0c8" stroke-width="21" stroke-opacity=".95" d="M4740 2780z"/>
<path stroke="#f0902a" stroke-width="21" stroke-opacity=".95" d="M4685 2850z"/>
<path stroke="#f0902a" stroke-width="21" stroke-opacity=".95" d="M4905 2680z"/>
<path stroke="#2aa0c8" stroke-width="21" stroke-opacity=".95" d="M4045 2990z"/>
<path stroke="#6ab8d8" stroke-width="21" stroke-opacity=".95" d="M4290 3085z"/>
<path stroke="#f0902a" stroke-width="21" stroke-opacity=".95" d="M4500 3275z"/>
<path stroke="#f0902a" stroke-width="21" stroke-opacity=".95" d="M4895 3465z"/>
<path stroke="#f0902a" stroke-width="21" stroke-opacity=".95" d="M4125 3645z"/>
<path stroke="#6ab8d8" stroke-width="21" stroke-opacity=".95" d="M4945 3800z"/>
</g>
<g class="ax2">
<line x1="326.5" y1="218.7" x2="361.4" y2="157.8" stroke="#4a4a4a" stroke-width=".9"/>
</g>
<g class="lb">
<text x="2" y="22.4" font-size="8.6" textLength="35.3" lengthAdjust="spacingAndGlyphs">Predicate</text>
<text x="41.8" y="164.9" font-size="8.6" textLength="24.6" lengthAdjust="spacingAndGlyphs">Object</text>
<text x="102.5" y="233" font-size="8.6" textLength="27.5" lengthAdjust="spacingAndGlyphs">Subject</text>
<text x="307.7" y="31.9" font-size="9.7" textLength="41.4" lengthAdjust="spacingAndGlyphs">Predicate</text>
<text x="352.2" y="157.1" font-size="9.7" textLength="29" lengthAdjust="spacingAndGlyphs">Object</text>
<text x="406.6" y="234.6" font-size="9.7" textLength="30.8" lengthAdjust="spacingAndGlyphs">Subject</text>
<text x="5.9" y="267.8" font-size="9.6" textLength="39.6" lengthAdjust="spacingAndGlyphs">Predicate</text>
<text x="44" y="395.3" font-size="9.6" textLength="28.4" lengthAdjust="spacingAndGlyphs">Object</text>
<text x="97" y="446.1" font-size="9.6" textLength="31.6" lengthAdjust="spacingAndGlyphs">Subject</text>
<text x="325.6" y="281.7" font-size="8.5" textLength="36" lengthAdjust="spacingAndGlyphs">Predicate</text>
<text x="356.6" y="402.5" font-size="8.5" textLength="25.4" lengthAdjust="spacingAndGlyphs">Object</text>
<text x="400.6" y="460.7" font-size="8.5" textLength="28.4" lengthAdjust="spacingAndGlyphs">Subject</text>
</g>
<g class="cp">
<text x="120.9" y="251.3">(<tspan font-weight="bold">a</tspan>)</text>
<text x="425.8" y="251.5">(<tspan font-weight="bold">b</tspan>)</text>
<text x="120.9" y="476.7">(<tspan font-weight="bold">c</tspan>)</text>
<text x="425.8" y="477">(<tspan font-weight="bold">d</tspan>)</text>
</g>
</svg>
</body>
</html>
